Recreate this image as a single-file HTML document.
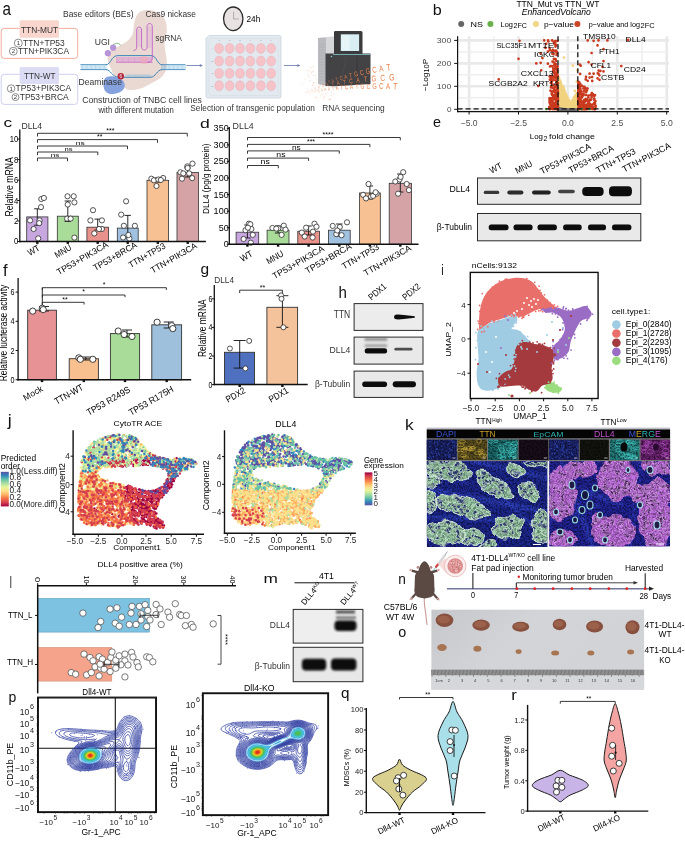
<!DOCTYPE html>
<html><head><meta charset="utf-8"><title>Figure</title>
<style>
html,body{margin:0;padding:0;background:#fff;}
body{width:685px;height:842px;overflow:hidden;}
svg{display:block;font-family:'Liberation Sans', Arial, sans-serif;}
</style></head><body>
<svg width="685" height="842" viewBox="0 0 685 842">
<defs>
<filter id="bl8" x="-50%" y="-50%" width="200%" height="200%"><feGaussianBlur stdDeviation="0.8"/></filter>
<filter id="bl10" x="-50%" y="-50%" width="200%" height="200%"><feGaussianBlur stdDeviation="1"/></filter>
<filter id="bl15" x="-50%" y="-50%" width="200%" height="200%"><feGaussianBlur stdDeviation="1.5"/></filter>
<filter id="bl5" x="-50%" y="-50%" width="200%" height="200%"><feGaussianBlur stdDeviation="0.5"/></filter>
</defs>
<rect width="685" height="842" fill="#fff"/>
<text x="0" y="0" font-size="17.52" fill="#111" transform="translate(2.40 14.72) scale(0.871 1)">a</text>
<rect x="1.2" y="28.4" width="76.5" height="30" fill="#fff" stroke="#f2a392" stroke-width="0.9" rx="3"/>
<rect x="19.6" y="20.3" width="39.4" height="17.5" fill="#f8d6ce" rx="1.5"/>
<text x="0" y="0" font-size="9.60" fill="#333" transform="translate(21.00 33.00) scale(0.872 1)">TTN-MUT</text>
<circle cx="18.3" cy="43.1" r="4" fill="none" stroke="#444" stroke-width="0.6"/>
<text x="18.30" y="45.20" font-size="6" text-anchor="middle" fill="#333">1</text>
<text x="0" y="0" font-size="8.33" fill="#333" transform="translate(23.00 45.92) scale(1.020 1)">TTN+TP53</text>
<circle cx="13.3" cy="51.2" r="3.9" fill="none" stroke="#444" stroke-width="0.6"/>
<text x="13.30" y="53.30" font-size="6" text-anchor="middle" fill="#333">2</text>
<text x="0" y="0" font-size="8.33" fill="#333" transform="translate(17.90 54.02) scale(1.010 1)">TTN+PIK3CA</text>
<rect x="1.2" y="74.3" width="76.5" height="30.1" fill="#fff" stroke="#c9c9f2" stroke-width="0.9" rx="3"/>
<rect x="19.6" y="67" width="39.4" height="16.9" fill="#dcdcf5" rx="1.5"/>
<text x="0" y="0" font-size="8.58" fill="#333" transform="translate(24.00 79.00) scale(0.959 1)">TTN-WT</text>
<circle cx="11.1" cy="88.6" r="3.8" fill="none" stroke="#444" stroke-width="0.6"/>
<text x="11.10" y="90.70" font-size="6" text-anchor="middle" fill="#333">1</text>
<text x="0" y="0" font-size="8.33" fill="#333" transform="translate(15.60 91.42) scale(1.023 1)">TP53+PIK3CA</text>
<circle cx="15.5" cy="97.1" r="3.5" fill="none" stroke="#444" stroke-width="0.6"/>
<text x="15.50" y="99.20" font-size="6" text-anchor="middle" fill="#333">2</text>
<text x="0" y="0" font-size="8.33" fill="#333" transform="translate(19.70 99.92) scale(1.026 1)">TP53+BRCA</text>
<path d="M146.0,9.9 C148.0,9.7 150.0,9.7 152.6,10.5 C155.2,11.3 159.1,13.1 161.3,14.9 C163.5,16.7 164.8,18.8 165.7,21.4 C166.6,23.9 166.8,27.5 166.8,30.2 C166.8,32.9 166.1,35.4 165.7,37.8 C165.3,40.2 164.6,41.8 164.6,44.4 C164.6,47.0 165.3,50.3 165.7,53.2 C166.1,56.1 166.8,59.0 166.8,61.9 C166.8,64.8 166.6,68.1 165.7,70.7 C164.8,73.3 163.1,75.5 161.3,77.3 C159.5,79.1 156.9,80.3 154.7,81.6 C152.5,82.9 150.4,83.8 148.2,84.9 C146.0,86.0 144.2,87.4 141.6,88.2 C139.0,89.0 135.4,89.7 132.8,89.9 C130.2,90.1 128.1,90.3 126.3,89.3 C124.5,88.3 123.9,86.2 121.9,83.8 C119.9,81.4 116.2,78.0 114.2,75.1 C112.2,72.2 111.0,68.9 109.9,66.3 C108.8,63.7 107.9,61.9 107.7,59.7 C107.5,57.5 107.7,55.0 108.8,53.2 C109.9,51.4 112.0,50.3 114.2,48.8 C116.4,47.3 119.5,45.9 121.9,44.4 C124.3,42.9 126.7,41.8 128.5,40.0 C130.3,38.2 131.9,36.0 132.8,33.5 C133.7,30.9 133.4,27.4 133.9,24.7 C134.4,21.9 135.0,19.2 136.1,17.0 C137.2,14.8 138.8,12.8 140.5,11.6 C142.2,10.4 144.0,10.1 146.0,9.9 Z" fill="#ead8d2"/>
<text x="0" y="0" font-size="8.20" fill="#333" transform="translate(63.00 17.20) scale(1.033 1)">Base editors (BEs)</text>
<text x="0" y="0" font-size="8.20" fill="#333" transform="translate(145.50 17.00) scale(1.026 1)">Cas9 nickase</text>
<text x="0" y="0" font-size="8.20" fill="#333" transform="translate(155.20 40.50) scale(1.032 1)">sgRNA</text>
<text x="0" y="0" font-size="8.20" fill="#333" transform="translate(94.70 44.50) scale(1.049 1)">UGI</text>
<line x1="80.4" y1="64.7" x2="107" y2="64.7" stroke="#3d86b8" stroke-width="0.9"/>
<line x1="80.4" y1="69.6" x2="107" y2="69.6" stroke="#3d86b8" stroke-width="0.9"/>
<path d="M81.2 65.3V69.0M82.5 65.3V69.0M83.8 65.3V69.0M85.1 65.3V69.0M86.4 65.3V69.0M87.7 65.3V69.0M89.0 65.3V69.0M90.3 65.3V69.0M91.6 65.3V69.0M92.9 65.3V69.0M94.2 65.3V69.0M95.5 65.3V69.0M96.8 65.3V69.0M98.1 65.3V69.0M99.4 65.3V69.0M100.7 65.3V69.0M102.0 65.3V69.0M103.3 65.3V69.0M104.6 65.3V69.0M105.9 65.3V69.0" fill="none" stroke="#6fb5dd" stroke-width="0.5"/>
<line x1="161" y1="64.7" x2="185.5" y2="64.7" stroke="#3d86b8" stroke-width="0.9"/>
<line x1="161" y1="69.6" x2="185.5" y2="69.6" stroke="#3d86b8" stroke-width="0.9"/>
<path d="M161.8 65.3V69.0M163.1 65.3V69.0M164.4 65.3V69.0M165.7 65.3V69.0M167.0 65.3V69.0M168.3 65.3V69.0M169.6 65.3V69.0M170.9 65.3V69.0M172.2 65.3V69.0M173.5 65.3V69.0M174.8 65.3V69.0M176.1 65.3V69.0M177.4 65.3V69.0M178.7 65.3V69.0M180.0 65.3V69.0M181.3 65.3V69.0M182.6 65.3V69.0M183.9 65.3V69.0M185.2 65.3V69.0" fill="none" stroke="#6fb5dd" stroke-width="0.5"/>
<path d="M106,64.7 C111,64.7 111,55.6 118,55.6 L151,55.6 C157,55.6 157,64.7 162,64.7" fill="none" stroke="#3d86b8" stroke-width="1"/>
<path d="M106,69.6 C111,69.6 112,77.3 119,77.3 L150,77.3 C156,77.3 157,69.6 162,69.6" fill="none" stroke="#3d86b8" stroke-width="1"/>
<path d="M116.5 57V62M117.7 57V62M118.9 57V62M120.1 57V62M121.3 57V62M122.5 57V62M123.7 57V62M124.9 57V62M126.1 57V62M127.3 57V62M128.5 57V62M129.7 57V62M130.9 57V62M132.1 57V62M133.3 57V62M134.5 57V62M135.7 57V62M136.9 57V62M138.1 57V62M139.3 57V62M140.5 57V62M141.7 57V62M142.9 57V62M144.1 57V62M145.3 57V62M146.5 57V62M147.7 57V62M148.9 57V62M150.1 57V62M151.3 57V62" fill="none" stroke="#d27ad0" stroke-width="0.5"/>
<line x1="116.2" y1="62.3" x2="152.6" y2="62.3" stroke="#c866c6" stroke-width="0.8"/>
<path d="M126.0 74.5V76.5M127.2 74.5V76.5M128.4 74.5V76.5M129.6 74.5V76.5M130.8 74.5V76.5M132.0 74.5V76.5M133.2 74.5V76.5M134.4 74.5V76.5M135.6 74.5V76.5M136.8 74.5V76.5M138.0 74.5V76.5M139.2 74.5V76.5M140.4 74.5V76.5M141.6 74.5V76.5M142.8 74.5V76.5M144.0 74.5V76.5M145.2 74.5V76.5M146.4 74.5V76.5M147.6 74.5V76.5M148.8 74.5V76.5M150.0 74.5V76.5" fill="none" stroke="#6fb5dd" stroke-width="0.5"/>
<path d="M133.4,50.4 C135.5,50.4 136.7,49.5 136.7,47 L136.7,30 C136.7,26 141.6,26 141.6,30 L141.6,47 C141.6,51 147.1,51 147.1,47 L147.1,26.5 C147.1,22.5 152.3,22.5 152.3,26.5 L152.3,58 C152.3,61.5 150,62.3 147,62.3" fill="none" stroke="#c060c8" stroke-width="0.9"/>
<path d="M137.2 30.0H141.1M137.2 32.0H141.1M137.2 34.0H141.1M137.2 36.0H141.1M137.2 38.0H141.1M137.2 40.0H141.1M137.2 42.0H141.1M137.2 44.0H141.1M137.2 46.0H141.1M147.6 27.0H151.8M147.6 29.0H151.8M147.6 31.0H151.8M147.6 33.0H151.8M147.6 35.0H151.8M147.6 37.0H151.8M147.6 39.0H151.8M147.6 41.0H151.8M147.6 43.0H151.8M147.6 45.0H151.8M147.6 47.0H151.8" fill="none" stroke="#d99ad8" stroke-width="0.5"/>
<circle cx="144" cy="60" r="4.2" fill="#f3a8b8" opacity="0.5"/>
<path d="M113,45 C116,42.5 119,43 121,45.5" fill="none" stroke="#4a9a4a" stroke-width="0.7"/>
<circle cx="113.1" cy="47.7" r="3.1" fill="#b793d8"/>
<circle cx="107.9" cy="53.2" r="3.1" fill="#b793d8"/>
<path d="M104.5,79 C106,75.5 113,75.5 117,77.5 C122,78.5 125.5,82 124.6,87 C123.5,92 116,94.5 110,94 C104,93 102,86 104.5,79 Z" fill="#86a2de"/>
<circle cx="120.8" cy="76.2" r="3.2" fill="#b3243a"/>
<text x="120.8" y="78" font-size="4.5" text-anchor="middle" fill="#fff">6</text>
<text x="0" y="0" font-size="8.20" fill="#333" transform="translate(78.50 85.00) scale(1.049 1)">Deaminase</text>
<text x="0" y="0" font-size="8.20" fill="#333" transform="translate(82.20 103.00) scale(1.057 1)">Construction of TNBC cell lines</text>
<text x="0" y="0" font-size="8.20" fill="#333" transform="translate(98.52 112.50) scale(0.943 1)">with different mutation</text>
<line x1="186.5" y1="65.5" x2="201" y2="65.5" stroke="#7585b5" stroke-width="0.9"/>
<path d="M203,65.5 L199.8,63.9 L199.8,67.1 Z" fill="#7585b5"/>
<line x1="284" y1="65.5" x2="298.5" y2="65.5" stroke="#7585b5" stroke-width="0.9"/>
<path d="M300.5,65.5 L297.3,63.9 L297.3,67.1 Z" fill="#7585b5"/>
<ellipse cx="233.25" cy="18.8" rx="9.7" ry="11.8" fill="#e8e2e2" stroke="#2b2b2b" stroke-width="1.3"/>
<line x1="233.6" y1="11.7" x2="233.6" y2="19" stroke="#9a9a9a" stroke-width="0.7"/>
<line x1="233.6" y1="19" x2="238.7" y2="19" stroke="#9a9a9a" stroke-width="0.7"/>
<text x="0" y="0" font-size="8.55" transform="translate(246.50 21.90) scale(0.967 1)">24h</text>
<path d="M209,35.5 L279.5,35.5 Q281,35.5 281,37 L281,96.5 Q281,98 279.5,98 L207.5,98 Q206,98 206,96.5 L206,38.5 Z" fill="#e2e9ef" stroke="#c5d0da" stroke-width="0.7"/>
<path d="M210,38.5 L278,38.5 L278,95.5 L211,95.5 L209,93 L209,40 Z" fill="none" stroke="#d2dbe3" stroke-width="0.5"/>
<text x="219.1" y="41.3" font-size="2.4" text-anchor="middle" fill="#8a96a4">1</text>
<ellipse cx="219.1" cy="48.4" rx="4.4" ry="5" fill="#f6c3c8" stroke="#e3aab2" stroke-width="0.4"/>
<ellipse cx="219.1" cy="61.1" rx="4.4" ry="5" fill="#f6c3c8" stroke="#e3aab2" stroke-width="0.4"/>
<ellipse cx="219.1" cy="73.4" rx="4.4" ry="5" fill="#f6c3c8" stroke="#e3aab2" stroke-width="0.4"/>
<ellipse cx="219.1" cy="85.8" rx="4.4" ry="5" fill="#f6c3c8" stroke="#e3aab2" stroke-width="0.4"/>
<text x="229.6" y="41.3" font-size="2.4" text-anchor="middle" fill="#8a96a4">2</text>
<ellipse cx="229.6" cy="48.4" rx="4.4" ry="5" fill="#f6c3c8" stroke="#e3aab2" stroke-width="0.4"/>
<ellipse cx="229.6" cy="61.1" rx="4.4" ry="5" fill="#f6c3c8" stroke="#e3aab2" stroke-width="0.4"/>
<ellipse cx="229.6" cy="73.4" rx="4.4" ry="5" fill="#f6c3c8" stroke="#e3aab2" stroke-width="0.4"/>
<ellipse cx="229.6" cy="85.8" rx="4.4" ry="5" fill="#f6c3c8" stroke="#e3aab2" stroke-width="0.4"/>
<text x="240.0" y="41.3" font-size="2.4" text-anchor="middle" fill="#8a96a4">3</text>
<ellipse cx="240.0" cy="48.4" rx="4.4" ry="5" fill="#f6c3c8" stroke="#e3aab2" stroke-width="0.4"/>
<ellipse cx="240.0" cy="61.1" rx="4.4" ry="5" fill="#f6c3c8" stroke="#e3aab2" stroke-width="0.4"/>
<ellipse cx="240.0" cy="73.4" rx="4.4" ry="5" fill="#f6c3c8" stroke="#e3aab2" stroke-width="0.4"/>
<ellipse cx="240.0" cy="85.8" rx="4.4" ry="5" fill="#f6c3c8" stroke="#e3aab2" stroke-width="0.4"/>
<text x="250.4" y="41.3" font-size="2.4" text-anchor="middle" fill="#8a96a4">4</text>
<ellipse cx="250.4" cy="48.4" rx="4.4" ry="5" fill="#f6c3c8" stroke="#e3aab2" stroke-width="0.4"/>
<ellipse cx="250.4" cy="61.1" rx="4.4" ry="5" fill="#f6c3c8" stroke="#e3aab2" stroke-width="0.4"/>
<ellipse cx="250.4" cy="73.4" rx="4.4" ry="5" fill="#f6c3c8" stroke="#e3aab2" stroke-width="0.4"/>
<ellipse cx="250.4" cy="85.8" rx="4.4" ry="5" fill="#f6c3c8" stroke="#e3aab2" stroke-width="0.4"/>
<text x="260.9" y="41.3" font-size="2.4" text-anchor="middle" fill="#8a96a4">5</text>
<ellipse cx="260.9" cy="48.4" rx="4.4" ry="5" fill="#f6c3c8" stroke="#e3aab2" stroke-width="0.4"/>
<ellipse cx="260.9" cy="61.1" rx="4.4" ry="5" fill="#f6c3c8" stroke="#e3aab2" stroke-width="0.4"/>
<ellipse cx="260.9" cy="73.4" rx="4.4" ry="5" fill="#f6c3c8" stroke="#e3aab2" stroke-width="0.4"/>
<ellipse cx="260.9" cy="85.8" rx="4.4" ry="5" fill="#f6c3c8" stroke="#e3aab2" stroke-width="0.4"/>
<text x="271.2" y="41.3" font-size="2.4" text-anchor="middle" fill="#8a96a4">6</text>
<ellipse cx="271.2" cy="48.4" rx="4.4" ry="5" fill="#f6c3c8" stroke="#e3aab2" stroke-width="0.4"/>
<ellipse cx="271.2" cy="61.1" rx="4.4" ry="5" fill="#f6c3c8" stroke="#e3aab2" stroke-width="0.4"/>
<ellipse cx="271.2" cy="73.4" rx="4.4" ry="5" fill="#f6c3c8" stroke="#e3aab2" stroke-width="0.4"/>
<ellipse cx="271.2" cy="85.8" rx="4.4" ry="5" fill="#f6c3c8" stroke="#e3aab2" stroke-width="0.4"/>
<text x="212.3" y="49.199999999999996" font-size="2.4" text-anchor="middle" fill="#8a96a4">A</text>
<text x="212.3" y="61.9" font-size="2.4" text-anchor="middle" fill="#8a96a4">B</text>
<text x="212.3" y="74.2" font-size="2.4" text-anchor="middle" fill="#8a96a4">C</text>
<text x="212.3" y="86.6" font-size="2.4" text-anchor="middle" fill="#8a96a4">D</text>
<text x="0" y="0" font-size="8.20" fill="#333" transform="translate(190.30 111.00) scale(1.013 1)">Selection of transgenic population</text>
<path d="M309.6 80.9h0M313.8 83.4h0M310.3 67.8h0M333.9 77.8h0M328.8 78.0h0M322.5 64.3h0M322.3 94.5h0M318.7 89.1h0M326.3 82.8h0M329.7 77.9h0M325.0 94.9h0M324.9 96.7h0M314.6 91.6h0M316.2 97.3h0M330.1 62.1h0M332.9 76.3h0M322.1 70.6h0M318.2 74.2h0M313.2 82.6h0M320.7 96.0h0M323.8 97.0h0M329.4 99.6h0M323.5 64.9h0M329.5 98.5h0M331.0 81.9h0M324.8 66.9h0M328.6 82.1h0M329.3 99.6h0M311.4 90.3h0M325.0 71.9h0M330.2 99.2h0M318.2 99.9h0M308.3 75.1h0M321.5 64.6h0M330.7 73.9h0M316.7 79.8h0M322.6 83.0h0M319.9 84.0h0M332.1 79.3h0M315.8 88.3h0M309.6 70.6h0M333.3 79.9h0M315.3 82.4h0M302.6 83.9h0M322.1 77.6h0M323.7 72.8h0M324.6 89.0h0M323.6 98.5h0M310.0 77.2h0M321.0 71.4h0M313.6 71.1h0M313.8 83.0h0M311.6 73.8h0M320.2 88.9h0M311.9 67.3h0M327.7 68.0h0M308.0 76.3h0M312.3 72.0h0M328.7 76.4h0M329.4 65.1h0M312.8 85.3h0M330.3 76.9h0M318.9 66.0h0M327.8 93.2h0M327.8 85.0h0M327.8 72.5h0M327.4 69.4h0M313.1 75.5h0M315.4 75.2h0M331.5 64.6h0M330.2 99.5h0M315.9 97.9h0M331.7 67.3h0M325.9 93.1h0M323.2 79.8h0M311.2 72.3h0M320.8 70.1h0M330.9 87.1h0M331.6 95.7h0M330.8 82.2h0M307.5 70.6h0M323.2 80.0h0M315.2 97.4h0M321.6 72.3h0M310.1 94.2h0M317.3 90.9h0M313.3 66.3h0M319.1 92.3h0M307.5 91.3h0M331.5 91.9h0M322.1 94.2h0M310.6 80.1h0M315.5 77.9h0M333.2 93.9h0M304.8 79.1h0M312.1 71.2h0M313.2 85.2h0M320.8 73.2h0M308.1 71.8h0" stroke="#f0a27a" stroke-width="0.7" stroke-linecap="round" opacity="0.6"/>
<path d="M318,38 L337,36 L337,88 L318,84 Z" fill="#d6d7d9"/>
<path d="M318,38 L326,37.5 L326,85.5 L318,84 Z" fill="#b9bbbe"/>
<path d="M319 44H325M319 47H325M319 50H325M319 53H325M319 56H325M319 59H325M319 62H325M319 65H325M319 68H325M319 71H325M319 74H325M319 77H325M319 80H325" fill="none" stroke="#a8aaae" stroke-width="0.5"/>
<path d="M334,32 Q334,31 335.5,31 L361,31 Q362.5,31 362.5,32.5 L362.5,54 L334,54 Z" fill="#3b3b3d"/>
<rect x="340.8" y="34.3" width="18.3" height="16.7" fill="#d8eef2"/>
<rect x="341.5" y="35" width="8" height="15" fill="#e6f5f7"/>
<path d="M325.5,53.5 L370.5,53.5 L370.5,84 L340,86 L325.5,86 Z" fill="#434345"/>
<line x1="333" y1="54.5" x2="370" y2="54.5" stroke="#7fc9cf" stroke-width="0.8"/>
<circle cx="331.5" cy="56.5" r="0.8" fill="#7fc9cf"/>
<line x1="357" y1="57" x2="357" y2="85" stroke="#2f2f31" stroke-width="0.5"/>
<path d="M346,57 L341,86" fill="none" stroke="#555" stroke-width="0.4"/>
<text x="0" y="0" font-size="2.8" fill="#e8804a" opacity="0.30" text-anchor="middle" transform="translate(318.0 87.5) rotate(-19) scale(0.8 1.1)">C</text>
<text x="0" y="0" font-size="3.0" fill="#e8804a" opacity="0.36" text-anchor="middle" transform="translate(320.6 86.6) rotate(-19) scale(0.8 1.1)">A</text>
<text x="0" y="0" font-size="3.3" fill="#e8804a" opacity="0.43" text-anchor="middle" transform="translate(323.3 85.7) rotate(-19) scale(0.8 1.1)">A</text>
<text x="0" y="0" font-size="3.6" fill="#e8804a" opacity="0.51" text-anchor="middle" transform="translate(326.4 84.7) rotate(-18) scale(0.8 1.1)">A</text>
<text x="0" y="0" font-size="4.0" fill="#e8804a" opacity="0.59" text-anchor="middle" transform="translate(329.7 83.6) rotate(-17) scale(0.8 1.1)">T</text>
<text x="0" y="0" font-size="4.3" fill="#e8804a" opacity="0.68" text-anchor="middle" transform="translate(333.3 82.5) rotate(-17) scale(0.8 1.1)">A</text>
<text x="0" y="0" font-size="4.7" fill="#e8804a" opacity="0.78" text-anchor="middle" transform="translate(337.3 81.3) rotate(-16) scale(0.8 1.1)">T</text>
<text x="0" y="0" font-size="5.1" fill="#e8804a" opacity="0.88" text-anchor="middle" transform="translate(341.6 80.1) rotate(-15) scale(0.8 1.1)">C</text>
<text x="0" y="0" font-size="5.5" fill="#e8804a" opacity="1.00" text-anchor="middle" transform="translate(346.2 78.8) rotate(-15) scale(0.8 1.1)">A</text>
<text x="0" y="0" font-size="5.9" fill="#e8804a" opacity="1.00" text-anchor="middle" transform="translate(351.2 77.6) rotate(-14) scale(0.8 1.1)">T</text>
<text x="0" y="0" font-size="6.3" fill="#e8804a" opacity="1.00" text-anchor="middle" transform="translate(356.6 76.3) rotate(-13) scale(0.8 1.1)">G</text>
<text x="0" y="0" font-size="6.7" fill="#e8804a" opacity="1.00" text-anchor="middle" transform="translate(362.3 75.0) rotate(-12) scale(0.8 1.1)">C</text>
<text x="0" y="0" font-size="7.2" fill="#e8804a" opacity="1.00" text-anchor="middle" transform="translate(368.4 73.8) rotate(-11) scale(0.8 1.1)">G</text>
<text x="0" y="0" font-size="7.6" fill="#e8804a" opacity="1.00" text-anchor="middle" transform="translate(374.9 72.6) rotate(-10) scale(0.8 1.1)">C</text>
<text x="0" y="0" font-size="8.0" fill="#e8804a" opacity="1.00" text-anchor="middle" transform="translate(381.7 71.5) rotate(-9) scale(0.8 1.1)">A</text>
<text x="0" y="0" font-size="8.5" fill="#e8804a" opacity="1.00" text-anchor="middle" transform="translate(389.0 70.5) rotate(-7) scale(0.8 1.1)">T</text>
<text x="0" y="0" font-size="2.6" fill="#e8804a" opacity="0.30" text-anchor="middle" transform="translate(309.0 90.5) rotate(-12) scale(0.8 1.1)">A</text>
<text x="0" y="0" font-size="2.8" fill="#e8804a" opacity="0.36" text-anchor="middle" transform="translate(312.1 89.8) rotate(-12) scale(0.8 1.1)">T</text>
<text x="0" y="0" font-size="3.2" fill="#e8804a" opacity="0.44" text-anchor="middle" transform="translate(315.4 89.2) rotate(-11) scale(0.8 1.1)">C</text>
<text x="0" y="0" font-size="3.5" fill="#e8804a" opacity="0.51" text-anchor="middle" transform="translate(319.2 88.4) rotate(-11) scale(0.8 1.1)">A</text>
<text x="0" y="0" font-size="3.9" fill="#e8804a" opacity="0.60" text-anchor="middle" transform="translate(323.4 87.6) rotate(-10) scale(0.8 1.1)">A</text>
<text x="0" y="0" font-size="4.3" fill="#e8804a" opacity="0.70" text-anchor="middle" transform="translate(328.0 86.8) rotate(-10) scale(0.8 1.1)">A</text>
<text x="0" y="0" font-size="4.7" fill="#e8804a" opacity="0.81" text-anchor="middle" transform="translate(333.1 86.0) rotate(-9) scale(0.8 1.1)">T</text>
<text x="0" y="0" font-size="5.2" fill="#e8804a" opacity="0.92" text-anchor="middle" transform="translate(338.6 85.1) rotate(-8) scale(0.8 1.1)">A</text>
<text x="0" y="0" font-size="5.6" fill="#e8804a" opacity="1.00" text-anchor="middle" transform="translate(344.7 84.2) rotate(-8) scale(0.8 1.1)">T</text>
<text x="0" y="0" font-size="6.1" fill="#e8804a" opacity="1.00" text-anchor="middle" transform="translate(351.2 83.4) rotate(-7) scale(0.8 1.1)">C</text>
<text x="0" y="0" font-size="6.5" fill="#e8804a" opacity="1.00" text-anchor="middle" transform="translate(358.3 82.6) rotate(-6) scale(0.8 1.1)">A</text>
<text x="0" y="0" font-size="7.0" fill="#e8804a" opacity="1.00" text-anchor="middle" transform="translate(365.9 81.9) rotate(-5) scale(0.8 1.1)">T</text>
<text x="0" y="0" font-size="7.5" fill="#e8804a" opacity="1.00" text-anchor="middle" transform="translate(374.0 81.3) rotate(-4) scale(0.8 1.1)">G</text>
<text x="0" y="0" font-size="8.0" fill="#e8804a" opacity="1.00" text-anchor="middle" transform="translate(382.7 80.8) rotate(-3) scale(0.8 1.1)">C</text>
<text x="0" y="0" font-size="8.5" fill="#e8804a" opacity="1.00" text-anchor="middle" transform="translate(392.0 80.5) rotate(-1) scale(0.8 1.1)">G</text>
<text x="0" y="0" font-size="2.4" fill="#e8804a" opacity="0.30" text-anchor="middle" transform="translate(306.0 93.5) rotate(-9) scale(0.8 1.1)">A</text>
<text x="0" y="0" font-size="2.6" fill="#e8804a" opacity="0.34" text-anchor="middle" transform="translate(308.2 93.2) rotate(-9) scale(0.8 1.1)">G</text>
<text x="0" y="0" font-size="2.8" fill="#e8804a" opacity="0.39" text-anchor="middle" transform="translate(310.5 92.8) rotate(-8) scale(0.8 1.1)">A</text>
<text x="0" y="0" font-size="3.0" fill="#e8804a" opacity="0.44" text-anchor="middle" transform="translate(313.1 92.4) rotate(-8) scale(0.8 1.1)">C</text>
<text x="0" y="0" font-size="3.2" fill="#e8804a" opacity="0.49" text-anchor="middle" transform="translate(315.8 92.1) rotate(-8) scale(0.8 1.1)">T</text>
<text x="0" y="0" font-size="3.5" fill="#e8804a" opacity="0.55" text-anchor="middle" transform="translate(318.8 91.7) rotate(-7) scale(0.8 1.1)">C</text>
<text x="0" y="0" font-size="3.8" fill="#e8804a" opacity="0.62" text-anchor="middle" transform="translate(322.0 91.3) rotate(-7) scale(0.8 1.1)">A</text>
<text x="0" y="0" font-size="4.0" fill="#e8804a" opacity="0.68" text-anchor="middle" transform="translate(325.5 90.9) rotate(-6) scale(0.8 1.1)">A</text>
<text x="0" y="0" font-size="4.3" fill="#e8804a" opacity="0.76" text-anchor="middle" transform="translate(329.2 90.5) rotate(-6) scale(0.8 1.1)">A</text>
<text x="0" y="0" font-size="4.6" fill="#e8804a" opacity="0.83" text-anchor="middle" transform="translate(333.1 90.2) rotate(-5) scale(0.8 1.1)">T</text>
<text x="0" y="0" font-size="4.9" fill="#e8804a" opacity="0.92" text-anchor="middle" transform="translate(337.4 89.8) rotate(-4) scale(0.8 1.1)">A</text>
<text x="0" y="0" font-size="5.2" fill="#e8804a" opacity="1.00" text-anchor="middle" transform="translate(341.8 89.5) rotate(-4) scale(0.8 1.1)">T</text>
<text x="0" y="0" font-size="5.5" fill="#e8804a" opacity="1.00" text-anchor="middle" transform="translate(346.6 89.2) rotate(-3) scale(0.8 1.1)">C</text>
<text x="0" y="0" font-size="5.9" fill="#e8804a" opacity="1.00" text-anchor="middle" transform="translate(351.6 89.0) rotate(-2) scale(0.8 1.1)">A</text>
<text x="0" y="0" font-size="6.2" fill="#e8804a" opacity="1.00" text-anchor="middle" transform="translate(357.0 88.8) rotate(-2) scale(0.8 1.1)">T</text>
<text x="0" y="0" font-size="6.5" fill="#e8804a" opacity="1.00" text-anchor="middle" transform="translate(362.6 88.6) rotate(-1) scale(0.8 1.1)">G</text>
<text x="0" y="0" font-size="6.8" fill="#e8804a" opacity="1.00" text-anchor="middle" transform="translate(368.4 88.6) rotate(0) scale(0.8 1.1)">C</text>
<text x="0" y="0" font-size="7.2" fill="#e8804a" opacity="1.00" text-anchor="middle" transform="translate(374.6 88.7) rotate(1) scale(0.8 1.1)">G</text>
<text x="0" y="0" font-size="7.5" fill="#e8804a" opacity="1.00" text-anchor="middle" transform="translate(381.1 88.8) rotate(2) scale(0.8 1.1)">C</text>
<text x="0" y="0" font-size="7.9" fill="#e8804a" opacity="1.00" text-anchor="middle" transform="translate(387.9 89.1) rotate(3) scale(0.8 1.1)">A</text>
<text x="0" y="0" font-size="8.2" fill="#e8804a" opacity="1.00" text-anchor="middle" transform="translate(395.0 89.5) rotate(4) scale(0.8 1.1)">T</text>
<text x="0" y="0" font-size="8.20" fill="#333" transform="translate(322.20 111.00) scale(1.025 1)">RNA sequencing</text>
<text x="0" y="0" font-size="14.29" fill="#111" transform="translate(432.80 15.06) scale(1.133 1)">b</text>
<text x="0" y="0" font-size="8.20" transform="translate(516.40 6.60) scale(1.040 1)">TTN_Mut vs TTN_WT</text>
<text x="0" y="0" font-size="8.20" font-style="italic" transform="translate(521.70 15.30) scale(1.046 1)">EnhancedVolcano</text>
<line x1="469.1" y1="36.3" x2="469.1" y2="111.6" stroke="#e9e9e9" stroke-width="2.6"/>
<line x1="518.5" y1="36.3" x2="518.5" y2="111.6" stroke="#e9e9e9" stroke-width="2.6"/>
<line x1="567.9" y1="36.3" x2="567.9" y2="111.6" stroke="#e9e9e9" stroke-width="2.6"/>
<line x1="617.3" y1="36.3" x2="617.3" y2="111.6" stroke="#e9e9e9" stroke-width="2.6"/>
<line x1="666.7" y1="36.3" x2="666.7" y2="111.6" stroke="#e9e9e9" stroke-width="2.6"/>
<line x1="493.8" y1="36.3" x2="493.8" y2="111.6" stroke="#efefef" stroke-width="1.5"/>
<line x1="543.2" y1="36.3" x2="543.2" y2="111.6" stroke="#efefef" stroke-width="1.5"/>
<line x1="592.6" y1="36.3" x2="592.6" y2="111.6" stroke="#efefef" stroke-width="1.5"/>
<line x1="642" y1="36.3" x2="642" y2="111.6" stroke="#efefef" stroke-width="1.5"/>
<line x1="457.6" y1="109.3" x2="669" y2="109.3" stroke="#e9e9e9" stroke-width="2.6"/>
<line x1="457.6" y1="86.3" x2="669" y2="86.3" stroke="#e9e9e9" stroke-width="2.6"/>
<line x1="457.6" y1="63.4" x2="669" y2="63.4" stroke="#e9e9e9" stroke-width="2.6"/>
<line x1="457.6" y1="40.4" x2="669" y2="40.4" stroke="#e9e9e9" stroke-width="2.6"/>
<line x1="457.6" y1="97.8" x2="669" y2="97.8" stroke="#efefef" stroke-width="1.5"/>
<line x1="457.6" y1="74.8" x2="669" y2="74.8" stroke="#efefef" stroke-width="1.5"/>
<line x1="457.6" y1="51.9" x2="669" y2="51.9" stroke="#efefef" stroke-width="1.5"/>
<circle cx="461.2" cy="23.9" r="3" fill="#666"/>
<text x="0" y="0" font-size="8.00" transform="translate(470.50 26.80) scale(1.125 1)">NS</text>
<circle cx="490.4" cy="23.9" r="3" fill="#6ab04c"/>
<text x="0" y="0" font-size="8.00" transform="translate(500.60 26.80) scale(0.929 1)">Log</text>
<text x="0" y="0" font-size="7.20" transform="translate(513.50 28.20) scale(0.993 1)">2FC</text>
<circle cx="535.9" cy="23.9" r="3" fill="#f2d585"/>
<text x="0" y="0" font-size="8.00" transform="translate(543.90 26.80) scale(1.066 1)">p−value</text>
<circle cx="577.4" cy="23.9" r="3" fill="#cc4428"/>
<text x="0" y="0" font-size="8.00" transform="translate(588.80 26.80) scale(0.903 1)">p−value and log</text>
<text x="0" y="0" font-size="7.20" transform="translate(640.50 28.20) scale(1.037 1)">2FC</text>
<path d="M567.1 109.3h0M575.4 109.5h0M568.0 109.2h0M562.3 109.4h0M570.2 108.8h0M560.7 109.8h0M560.6 108.8h0M571.3 110.4h0M576.5 108.5h0M570.6 109.2h0M561.8 110.4h0M568.4 110.3h0M562.4 109.9h0M559.5 109.5h0M566.8 108.7h0M568.2 109.1h0M567.9 109.1h0M567.1 109.9h0M576.8 108.4h0M574.0 109.0h0M564.6 110.0h0M564.1 110.3h0M572.6 109.6h0M574.1 109.6h0M576.0 108.7h0M559.0 110.0h0M575.2 109.5h0M576.4 109.6h0M560.3 109.1h0M572.9 109.9h0M560.6 109.8h0M576.2 108.9h0M561.1 109.9h0M560.8 110.3h0M573.2 110.1h0M569.0 109.5h0M562.4 108.9h0M561.3 109.1h0M561.1 109.6h0M562.8 109.9h0M576.3 108.8h0M564.4 108.6h0M562.8 109.6h0M574.2 109.1h0M560.8 108.4h0M562.8 109.9h0M572.7 109.8h0M564.3 110.3h0M560.6 109.2h0M563.3 109.2h0M565.6 109.5h0M576.1 109.4h0M569.2 108.7h0M562.3 110.1h0M575.2 108.8h0M563.4 110.1h0M572.2 108.5h0M562.5 108.5h0M574.7 109.2h0M566.5 110.2h0M559.7 108.5h0M563.2 109.0h0M563.6 108.7h0M569.6 109.8h0M562.1 109.0h0M560.2 110.0h0M569.0 108.7h0M569.9 109.9h0M575.3 110.0h0M559.3 109.9h0M566.9 110.3h0M562.1 109.7h0M569.2 110.2h0M565.4 108.6h0M576.4 109.1h0M571.3 109.2h0M561.5 110.4h0M559.3 108.6h0M571.5 108.5h0M559.4 109.1h0M567.6 108.9h0M564.7 108.4h0M560.3 109.3h0M572.1 108.6h0M572.1 109.0h0M573.1 108.6h0M565.3 109.0h0M575.0 108.6h0M566.4 108.8h0M574.4 109.3h0M570.1 109.7h0M569.4 109.2h0M560.4 109.1h0M576.7 108.6h0M572.0 109.6h0M572.1 109.2h0M566.8 108.7h0M560.5 108.9h0M559.5 109.2h0M567.6 110.0h0M571.4 109.4h0M569.9 108.5h0M563.6 110.4h0M564.4 109.0h0M562.6 110.1h0M575.1 109.1h0M566.9 108.6h0M564.8 109.1h0M562.5 109.6h0M573.3 108.6h0M574.7 109.7h0M569.4 109.8h0M561.4 109.4h0M573.9 108.7h0M571.7 108.5h0M563.9 110.1h0M567.0 109.9h0M562.8 109.6h0M570.1 109.4h0M564.6 108.7h0M576.5 109.5h0M560.3 110.4h0M574.5 110.4h0M571.6 109.3h0M564.5 108.8h0M559.3 110.2h0M567.1 110.4h0M573.8 110.0h0M561.5 110.4h0M570.2 109.5h0M570.2 109.1h0M573.4 108.5h0M571.2 110.0h0M567.5 110.1h0M559.2 109.5h0M571.7 110.1h0M563.9 109.7h0M571.4 109.4h0M569.9 108.9h0M566.0 108.8h0" stroke="#6b6b6b" stroke-width="2.7" stroke-linecap="round" fill="none"/>
<path d="M575.4 106.0h0M575.9 97.9h0M561.0 95.8h0M570.2 102.1h0M565.6 98.5h0M574.9 98.2h0M576.2 101.0h0M570.7 106.0h0M572.0 102.0h0M570.5 103.4h0M562.6 87.8h0M576.8 93.3h0M568.6 100.9h0M564.6 91.2h0M574.5 103.4h0M560.2 95.2h0M568.8 101.4h0M567.7 106.7h0M573.6 106.4h0M573.5 105.5h0M564.8 93.7h0M561.2 103.4h0M568.2 101.1h0M574.2 100.1h0M576.2 100.6h0M576.2 105.9h0M562.7 95.9h0M564.0 93.5h0M570.5 104.3h0M574.3 101.4h0M564.4 100.3h0M574.3 97.9h0M562.5 88.7h0M576.6 99.9h0M569.3 105.6h0M568.6 103.1h0M569.9 106.8h0M576.6 99.9h0M566.1 96.0h0M569.1 103.6h0M571.4 106.7h0M568.6 103.8h0M576.4 94.7h0M563.6 97.9h0M561.0 96.2h0M573.8 98.7h0M567.5 103.9h0M562.2 93.3h0M575.8 105.4h0M573.1 106.8h0M562.2 102.0h0M571.4 105.4h0M565.2 97.1h0M560.6 88.2h0M560.9 94.2h0M563.3 103.1h0M568.5 103.6h0M565.6 100.8h0M568.4 105.7h0M562.4 93.3h0M570.5 104.3h0M574.4 100.7h0M574.5 104.6h0M572.4 101.5h0M575.4 103.3h0M564.5 90.8h0M562.7 85.9h0M575.1 105.5h0M563.1 92.2h0M563.4 105.1h0M574.1 102.9h0M573.3 105.9h0M566.1 97.7h0M558.9 101.1h0M571.3 102.6h0M576.6 105.4h0M568.0 100.6h0M568.0 101.1h0M562.1 105.4h0M560.6 106.0h0M568.9 103.2h0M569.2 106.0h0M562.0 102.4h0M574.2 97.1h0M575.8 105.8h0M559.8 80.7h0M567.2 98.9h0M564.7 99.0h0M568.2 103.5h0M569.8 106.9h0M571.6 102.4h0M562.0 96.8h0M572.3 104.3h0M562.2 103.4h0M568.1 106.9h0M575.2 97.8h0M571.7 102.2h0M570.3 104.8h0M569.8 103.9h0M576.9 95.7h0M563.4 89.1h0M572.4 101.6h0M573.7 103.3h0M575.3 96.8h0M571.5 103.0h0M572.8 103.9h0M572.0 106.6h0M565.0 99.2h0M558.8 96.4h0M570.5 103.8h0M562.9 87.5h0M571.0 105.5h0M570.9 104.4h0M568.5 104.0h0M577.2 97.8h0M571.6 102.8h0M576.8 106.7h0M570.0 102.8h0M563.4 99.1h0M559.6 101.5h0M565.6 105.5h0M563.3 88.9h0M568.8 103.3h0M576.6 99.3h0M577.1 97.9h0M573.6 106.3h0M569.7 102.3h0M559.5 80.6h0M561.6 96.0h0M561.8 95.6h0M570.0 106.7h0M576.2 101.5h0M568.4 102.2h0M565.4 102.6h0M570.8 104.4h0M563.9 93.6h0M564.1 106.7h0M563.2 106.1h0M561.5 89.2h0M565.9 94.2h0M572.5 106.7h0M577.0 93.6h0M560.0 82.4h0M566.6 101.1h0M576.7 103.6h0M568.3 99.5h0M572.0 104.1h0M576.8 95.6h0M569.8 106.3h0M570.2 104.5h0M562.4 105.9h0M568.4 106.0h0M566.8 99.3h0M567.1 104.1h0M569.4 104.3h0M573.1 102.8h0M577.1 93.4h0M572.3 105.4h0M560.7 84.3h0M573.2 101.9h0M565.3 102.7h0M571.3 104.2h0M569.6 103.0h0M572.6 105.6h0M563.2 87.4h0M575.6 96.3h0M559.3 105.3h0M563.6 98.8h0M570.2 106.4h0M568.7 106.5h0M560.2 89.0h0M568.8 102.4h0M565.5 99.8h0M562.5 99.6h0M572.4 101.2h0M560.0 103.8h0M573.6 101.4h0M572.9 105.4h0M566.5 103.8h0M573.7 103.7h0M570.8 102.3h0M564.7 97.6h0M572.5 100.6h0M566.6 102.4h0M560.4 84.1h0M560.1 104.8h0M569.1 103.6h0M571.3 105.5h0M573.0 106.4h0M562.6 92.9h0M560.1 98.9h0M572.1 102.7h0M563.9 104.3h0M565.3 95.5h0M565.4 105.2h0M571.8 103.7h0M575.7 95.5h0M575.6 101.7h0M573.5 104.3h0M564.5 100.0h0M576.0 95.7h0M563.2 99.8h0M565.4 101.4h0M566.0 101.6h0M562.2 94.6h0M573.4 102.3h0M574.1 101.5h0M561.9 89.8h0M575.0 103.9h0M559.0 91.9h0M568.7 102.7h0M576.6 98.2h0M573.6 106.4h0M568.8 101.1h0M560.2 104.8h0M572.3 101.0h0M560.2 90.1h0M561.3 89.0h0M570.7 105.8h0M562.7 90.9h0M568.3 100.8h0M565.9 102.3h0M576.6 97.8h0M567.8 102.1h0M572.0 102.7h0M575.6 102.0h0M574.0 100.6h0M574.5 98.7h0M574.1 98.3h0M576.4 98.5h0M568.3 101.3h0M573.5 103.3h0M566.4 105.1h0M572.4 100.3h0M565.6 104.5h0M562.4 97.8h0M564.0 89.1h0M559.7 98.4h0M560.7 90.6h0M573.0 105.6h0M559.8 94.3h0M569.5 101.1h0M559.3 103.9h0M562.0 102.1h0M563.0 92.3h0M569.7 105.6h0M562.0 100.7h0M561.8 89.7h0M564.4 97.3h0M573.8 102.6h0M563.5 89.6h0M575.6 102.9h0M568.8 99.9h0M567.6 104.9h0M559.5 80.3h0M573.5 103.6h0M568.4 102.9h0M563.7 88.1h0M570.8 105.9h0M558.8 92.9h0M565.5 94.9h0M571.9 103.4h0M561.5 103.3h0M564.6 102.5h0M574.8 101.4h0M570.4 101.9h0M563.6 96.6h0M561.4 88.7h0M558.6 82.1h0M574.3 98.7h0M560.1 99.8h0M571.9 106.4h0M567.5 102.4h0M576.4 99.2h0M574.5 103.8h0M573.3 103.5h0M575.6 105.9h0M574.0 105.0h0M568.7 103.0h0M561.5 87.4h0M564.4 101.5h0M560.0 98.7h0M567.3 99.6h0M565.3 96.2h0M560.6 96.8h0M567.2 96.7h0M574.0 100.7h0M558.8 95.8h0M571.8 105.6h0M569.1 103.8h0M558.8 77.4h0M573.5 105.2h0M570.1 105.4h0M565.6 98.9h0M564.2 100.9h0M565.9 97.6h0M563.4 103.1h0M572.2 104.9h0M576.2 99.7h0M572.1 104.9h0M574.0 106.1h0M561.2 104.7h0M571.2 103.7h0M562.0 97.9h0M574.2 101.1h0M560.3 101.0h0M561.5 104.1h0M566.2 106.0h0M575.7 101.8h0M568.1 101.6h0M572.9 100.7h0M565.8 102.2h0M566.3 106.8h0M566.1 97.4h0M576.9 95.9h0M570.9 104.2h0M559.0 97.2h0M565.0 96.2h0M560.6 97.3h0M568.1 100.4h0M573.9 101.2h0M561.6 89.0h0M575.4 100.5h0M565.2 98.9h0M561.2 89.7h0M576.9 99.7h0M571.9 102.0h0M562.3 86.3h0M570.3 105.9h0M560.2 100.5h0M569.3 102.3h0M564.7 91.1h0M565.3 99.7h0M560.9 82.7h0M561.1 84.9h0M568.7 102.8h0M569.0 105.1h0M575.5 95.1h0M573.8 101.4h0M560.9 86.4h0M564.0 90.4h0M563.1 95.4h0M574.0 105.2h0M568.8 106.4h0M559.2 101.8h0M576.9 93.7h0M570.8 105.6h0M571.1 103.7h0M565.7 98.3h0M573.5 106.9h0M562.3 96.8h0M561.3 97.7h0M569.2 105.8h0M568.3 104.9h0M569.2 104.7h0M570.5 106.8h0M571.1 106.4h0M576.4 99.0h0M567.3 102.8h0M570.2 103.2h0M572.7 101.5h0M567.6 97.6h0M574.2 98.5h0M566.2 101.2h0M569.1 100.7h0M568.4 102.8h0M566.6 96.0h0M564.6 106.1h0M572.1 101.4h0M572.2 103.1h0M572.6 104.8h0M569.6 106.6h0M560.9 95.9h0M567.9 103.6h0M559.6 87.5h0M568.4 105.1h0M564.3 99.9h0M563.0 105.6h0M575.5 95.4h0M571.0 103.2h0M566.4 96.8h0M562.7 91.3h0M569.1 100.7h0M560.4 86.4h0M560.9 93.6h0M576.3 107.0h0M563.1 101.0h0M564.6 105.9h0M575.2 97.6h0M566.0 102.1h0M569.5 106.7h0M559.2 81.0h0M564.3 98.1h0M576.0 94.6h0M567.4 104.9h0M564.1 90.1h0M575.3 104.7h0M574.2 103.5h0M567.4 105.3h0M575.0 95.9h0M562.4 93.3h0M562.2 87.5h0M559.5 104.0h0M572.1 105.0h0M575.3 96.8h0M571.9 106.2h0M571.5 102.0h0M566.9 106.1h0M562.8 100.6h0M571.8 105.9h0M562.0 101.7h0M571.0 103.5h0M565.5 97.0h0M575.0 100.4h0M562.9 100.8h0M575.8 98.7h0M563.8 94.9h0M560.3 81.0h0M566.8 100.8h0M568.5 106.6h0M569.8 105.3h0M563.3 91.0h0M560.2 99.4h0M572.6 105.2h0M563.8 96.6h0M562.1 87.0h0M577.0 106.5h0M567.2 99.0h0M565.8 93.5h0M567.9 105.4h0M568.9 102.4h0M565.3 96.6h0M573.2 102.8h0M568.0 99.8h0M571.3 104.4h0M576.3 104.7h0M573.1 105.7h0M569.9 105.6h0M566.8 97.9h0M573.2 100.5h0M563.0 97.0h0M562.7 94.8h0M567.9 106.7h0M569.7 102.6h0M569.2 101.1h0M562.0 103.6h0M558.9 92.3h0M566.7 101.7h0M563.5 91.4h0M560.0 82.3h0M569.2 103.3h0M573.3 105.0h0M561.3 99.5h0M559.4 98.0h0M570.2 104.1h0M563.5 95.6h0M560.3 85.3h0M561.8 101.2h0M561.6 90.8h0M574.0 99.4h0M559.7 95.6h0M565.4 103.6h0M576.6 106.4h0M567.7 99.9h0M576.9 105.0h0M567.1 98.8h0M559.3 100.1h0M575.1 105.4h0M565.9 102.8h0M566.5 106.0h0M559.2 78.3h0M572.8 101.5h0M562.9 101.8h0M568.9 105.2h0M567.2 97.0h0M565.4 101.8h0M576.8 98.4h0M559.3 95.5h0M570.7 106.7h0M565.0 95.5h0M574.7 100.7h0M575.1 101.8h0M565.9 95.1h0M565.7 95.5h0M562.6 99.6h0M562.0 94.7h0M561.7 102.3h0M562.6 97.1h0M564.3 99.0h0M577.1 97.3h0M574.6 104.8h0M565.7 105.9h0M571.5 105.1h0M563.7 106.6h0M562.0 101.1h0M565.9 94.0h0M571.9 105.4h0M565.3 104.6h0M576.0 102.4h0M572.8 101.5h0M575.5 106.8h0M564.6 100.3h0M560.2 83.4h0M564.7 93.7h0M568.3 106.6h0M565.9 103.7h0M559.4 102.7h0M569.7 106.8h0M564.4 99.5h0M568.7 106.0h0M571.7 105.5h0M572.1 102.8h0M561.3 102.1h0M563.8 93.6h0M566.1 101.8h0M574.7 104.6h0M564.0 100.6h0M562.6 106.1h0M559.1 88.6h0M569.1 101.4h0M563.9 57.6h0M572.8 65.7h0M577.4 70.3h0M576.8 81.7h0M574.8 90.9h0" stroke="#f1d27e" stroke-width="2.7" stroke-linecap="round" fill="none"/>
<path d="M549.5 102.2h0M553.1 70.8h0M557.1 84.3h0M553.2 68.6h0M550.8 104.3h0M553.5 108.1h0M555.5 98.6h0M557.9 98.9h0M556.3 94.0h0M556.7 106.5h0M555.7 95.0h0M557.4 85.6h0M557.0 108.1h0M556.2 97.3h0M557.5 89.9h0M552.8 91.3h0M552.8 109.1h0M555.8 99.7h0M557.9 98.1h0M557.9 94.1h0M554.0 95.3h0M556.4 103.7h0M558.0 100.4h0M550.5 90.7h0M556.8 85.5h0M557.3 95.3h0M553.7 68.6h0M556.1 90.2h0M549.9 79.7h0M553.6 88.0h0M555.7 97.6h0M556.7 76.3h0M550.7 99.0h0M550.3 109.0h0M557.6 93.5h0M556.5 99.9h0M549.4 106.8h0M557.3 104.5h0M553.0 104.3h0M558.0 91.8h0M555.8 104.2h0M554.9 86.4h0M554.4 87.8h0M554.3 76.2h0M549.5 100.9h0M556.2 72.9h0M556.5 82.9h0M552.9 84.5h0M549.6 76.6h0M557.5 87.9h0M555.0 90.8h0M556.0 102.6h0M552.3 92.3h0M557.0 103.9h0M556.4 106.0h0M554.7 107.3h0M557.9 108.5h0M557.7 83.5h0M557.7 96.1h0M552.0 94.8h0M557.4 74.1h0M550.8 108.8h0M556.9 93.5h0M551.7 98.6h0M552.6 103.8h0M552.6 101.1h0M556.3 80.4h0M551.1 76.4h0M554.2 97.4h0M552.7 87.8h0M551.3 78.0h0M557.6 99.2h0M553.2 104.5h0M557.3 109.2h0M554.0 69.5h0M549.5 107.2h0M553.0 97.5h0M553.6 98.4h0M550.0 66.4h0M557.9 83.0h0M557.7 108.9h0M556.7 82.0h0M549.2 107.5h0M556.3 109.1h0M554.5 94.6h0M556.0 101.8h0M551.7 75.8h0M556.7 98.6h0M553.7 80.1h0M549.4 98.7h0M552.9 91.7h0M551.7 106.8h0M557.4 107.8h0M550.0 103.8h0M555.0 107.5h0M556.4 109.2h0M554.2 106.9h0M553.6 103.0h0M557.1 94.7h0M556.1 103.5h0M557.9 108.6h0M550.5 101.8h0M557.8 105.9h0M555.0 65.8h0M557.2 74.1h0M555.0 97.7h0M551.6 98.4h0M557.9 91.5h0M553.3 87.8h0M556.7 69.6h0M550.9 66.0h0M555.4 76.1h0M552.5 106.1h0M558.0 106.3h0M557.7 108.4h0M556.1 80.8h0M556.5 93.2h0M558.0 105.1h0M549.7 109.2h0M554.6 77.5h0M551.7 81.8h0M555.8 77.9h0M551.3 79.9h0M549.3 107.9h0M549.8 98.2h0M552.8 103.8h0M550.3 109.1h0M554.1 104.6h0M555.9 99.5h0M553.3 77.4h0M556.1 87.1h0M556.1 102.9h0M550.4 101.3h0M557.8 100.8h0M552.3 105.1h0M552.3 91.7h0M553.0 106.0h0M557.7 106.9h0M556.2 97.0h0M558.0 93.8h0M555.7 101.3h0M554.5 68.7h0M557.2 73.2h0M556.4 80.7h0M557.7 66.5h0M555.5 68.1h0M557.1 97.9h0M552.7 106.0h0M556.7 85.0h0M549.8 101.3h0M557.3 100.0h0M549.3 106.8h0M553.5 99.2h0M553.4 105.0h0M553.7 72.8h0M551.0 87.5h0M554.8 90.6h0M557.7 75.9h0M552.9 96.0h0M553.2 97.4h0M555.9 104.5h0M553.9 90.4h0M554.7 109.0h0M553.6 96.3h0M554.0 89.3h0M550.0 106.7h0M555.2 66.1h0M552.4 101.7h0M552.4 66.3h0M555.8 74.0h0M557.6 66.3h0M555.0 104.4h0M551.2 86.5h0M549.9 76.3h0M551.7 93.3h0M549.2 108.6h0M550.8 83.1h0M556.9 77.7h0M555.3 92.2h0M550.9 105.5h0M556.7 86.8h0M557.8 91.3h0M551.8 94.3h0M557.0 78.1h0M551.0 79.8h0M554.4 71.7h0M551.7 106.7h0M556.1 107.9h0M558.0 100.4h0M550.9 76.1h0M557.3 68.6h0M555.7 45.6h0M554.4 43.8h0M557.6 40.8h0M556.8 53.2h0M552.8 49.8h0M556.9 51.8h0M555.5 74.3h0M556.0 64.0h0M554.3 65.2h0M554.4 50.9h0M556.9 70.4h0M553.9 58.8h0M557.3 70.8h0M552.4 53.8h0M555.9 68.1h0M552.1 51.0h0M553.7 62.4h0M556.2 60.8h0M557.2 53.1h0M555.5 46.6h0M555.6 59.1h0M555.0 42.4h0M556.0 50.6h0M556.6 54.9h0M556.3 44.8h0M556.3 45.4h0M554.0 59.2h0M552.5 61.5h0M553.6 54.1h0M582.4 108.9h0M581.9 105.5h0M582.2 85.9h0M580.1 93.8h0M586.9 106.7h0M581.8 108.1h0M592.8 107.2h0M581.9 104.2h0M590.6 95.0h0M585.1 100.1h0M578.5 85.4h0M578.4 103.1h0M581.2 93.4h0M586.8 105.0h0M592.8 94.1h0M578.2 95.0h0M582.7 103.9h0M582.7 104.9h0M586.8 99.2h0M595.0 95.1h0M595.7 105.8h0M590.9 99.8h0M587.6 88.6h0M578.3 100.4h0M581.6 95.7h0M579.3 82.3h0M579.2 103.1h0M578.7 102.4h0M588.6 108.8h0M578.9 94.8h0M585.8 95.1h0M579.7 89.4h0M588.3 95.5h0M578.6 100.3h0M578.2 86.7h0M594.2 96.3h0M578.2 103.4h0M584.0 100.1h0M578.5 89.6h0M580.2 99.6h0M578.6 97.3h0M578.6 108.6h0M583.5 105.5h0M589.5 106.9h0M581.8 109.0h0M579.3 101.0h0M584.4 102.0h0M591.5 108.7h0M591.5 108.2h0M595.0 103.7h0M581.7 97.1h0M591.8 93.0h0M581.8 109.3h0M578.8 88.6h0M588.4 97.2h0M578.8 98.5h0M578.2 108.3h0M580.2 83.9h0M586.2 92.2h0M578.2 101.7h0M578.4 105.5h0M578.5 84.5h0M580.6 100.3h0M586.5 91.2h0M594.3 102.8h0M583.3 88.5h0M581.5 105.1h0M588.5 106.7h0M581.1 102.0h0M582.9 104.0h0M582.1 101.7h0M578.3 87.7h0M578.3 98.4h0M584.2 103.4h0M579.4 108.4h0M581.2 104.7h0M583.0 106.6h0M588.8 102.6h0M578.2 101.9h0M594.9 109.3h0M585.1 87.9h0M581.1 97.3h0M581.1 105.0h0M585.5 99.1h0M580.4 100.0h0M583.6 93.6h0M578.3 108.5h0M579.7 105.5h0M590.0 104.1h0M591.7 104.9h0M580.0 94.2h0M578.4 81.8h0M590.9 105.9h0M580.4 89.6h0M589.8 99.5h0M578.3 90.4h0M578.3 95.3h0M584.3 88.4h0M586.1 109.2h0M593.9 99.1h0M584.8 109.3h0M588.4 103.9h0M587.0 88.6h0M593.4 109.0h0M589.6 103.7h0M588.8 104.7h0M582.4 102.1h0M578.6 104.2h0M588.4 108.9h0M578.5 87.9h0M586.7 100.6h0M578.5 108.2h0M580.3 84.5h0M584.4 88.7h0M579.3 102.0h0M584.0 91.1h0M578.6 86.4h0M582.8 109.2h0M582.1 103.5h0M586.9 90.3h0M583.2 95.4h0M581.4 91.6h0M578.5 91.3h0M578.9 96.8h0M579.2 103.7h0M578.9 103.5h0M585.1 100.8h0M581.4 98.1h0M591.2 105.5h0M584.9 101.7h0M595.3 106.6h0M587.5 106.9h0M579.8 92.4h0M584.7 106.3h0M578.3 88.1h0M581.3 93.6h0M582.1 97.1h0M584.4 86.8h0M593.2 104.3h0M583.0 106.6h0M588.9 108.7h0M580.3 88.5h0M578.2 92.7h0M584.6 99.8h0M580.6 107.7h0M594.4 99.2h0M590.2 108.7h0M589.7 107.4h0M579.2 98.5h0M585.5 108.4h0M589.2 100.7h0M592.9 94.7h0M587.3 104.7h0M594.4 100.1h0M580.1 88.0h0M588.2 106.5h0M579.6 109.2h0M584.0 106.3h0M580.1 105.9h0M578.6 99.8h0M579.9 105.2h0M579.9 99.5h0M592.1 108.2h0M591.7 95.6h0M585.5 100.3h0M588.4 101.4h0M586.6 90.3h0M589.4 106.8h0M578.3 83.6h0M581.0 91.1h0M579.5 101.0h0M581.2 93.1h0M594.2 103.8h0M584.6 104.5h0M579.5 84.0h0M578.5 83.7h0M586.5 108.9h0M592.9 108.8h0M584.5 108.3h0M595.6 106.9h0M592.1 109.0h0M586.7 108.9h0M578.2 97.1h0M595.4 101.2h0M591.6 97.2h0M583.7 108.8h0M583.8 107.4h0M583.8 104.3h0M583.3 107.2h0M587.7 103.7h0M547.9 63.7h0M547.9 51.6h0M555.6 51.5h0M542.4 58.1h0M545.5 47.9h0M555.1 41.0h0M555.3 42.3h0M553.8 42.0h0M540.6 53.3h0M549.6 48.3h0M549.9 50.2h0M555.0 63.5h0M548.4 41.4h0M540.7 62.8h0M600.4 70.9h0M580.3 85.8h0M599.4 75.3h0M592.1 77.0h0M597.7 73.3h0M579.8 85.2h0M598.6 70.6h0M599.5 79.8h0M587.7 80.8h0M580.1 73.9h0M586.0 76.9h0M592.2 80.9h0M519.5 40.8h0M518.5 58.8h0M498.7 79.4h0M538.3 85.9h0M541.2 70.3h0M536.3 63.4h0M544.2 40.4h0M548.1 40.4h0M552.1 40.4h0M554.1 42.7h0M546.2 43.8h0M587.7 40.4h0M593.6 40.8h0M598.5 40.4h0M607.4 40.4h0M628.2 39.9h0M597.5 45.4h0M591.6 53.0h0M603.5 49.1h0M588.6 62.2h0M603.5 61.1h0M591.6 64.5h0M579.8 64.5h0M580.7 65.7h0M602.5 66.8h0M621.3 66.1h0M603.5 71.4h0M598.5 73.7h0M589.6 73.7h0M593.6 73.7h0M585.7 79.4h0M597.5 78.3h0M589.6 77.6h0" stroke="#c9391e" stroke-width="2.7" stroke-linecap="round" fill="none"/>
<path d="M546.2 109.1h0M581.7 109.1h0M589.6 109.1h0" stroke="#6ab04c" stroke-width="2.7" stroke-linecap="round" fill="none"/>
<line x1="558" y1="36.3" x2="558" y2="111.6" stroke="#111" stroke-width="1.3" stroke-dasharray="5 3"/>
<line x1="577.8" y1="36.3" x2="577.8" y2="111.6" stroke="#111" stroke-width="1.3" stroke-dasharray="5 3"/>
<line x1="457.6" y1="108.8" x2="669" y2="108.8" stroke="#111" stroke-width="1.3" stroke-dasharray="5 3"/>
<line x1="457.6" y1="36.3" x2="457.6" y2="112.2" stroke="#111" stroke-width="1.2"/>
<line x1="457.6" y1="111.6" x2="669" y2="111.6" stroke="#111" stroke-width="1.4"/>
<line x1="454.2" y1="109.3" x2="457.6" y2="109.3" stroke="#111" stroke-width="1"/>
<line x1="454.2" y1="86.3" x2="457.6" y2="86.3" stroke="#111" stroke-width="1"/>
<line x1="454.2" y1="63.4" x2="457.6" y2="63.4" stroke="#111" stroke-width="1"/>
<line x1="454.2" y1="40.4" x2="457.6" y2="40.4" stroke="#111" stroke-width="1"/>
<line x1="469.1" y1="111.6" x2="469.1" y2="114.6" stroke="#111" stroke-width="1"/>
<line x1="518.5" y1="111.6" x2="518.5" y2="114.6" stroke="#111" stroke-width="1"/>
<line x1="567.9" y1="111.6" x2="567.9" y2="114.6" stroke="#111" stroke-width="1"/>
<line x1="617.3" y1="111.6" x2="617.3" y2="114.6" stroke="#111" stroke-width="1"/>
<line x1="666.7" y1="111.6" x2="666.7" y2="114.6" stroke="#111" stroke-width="1"/>
<text x="0" y="0" font-size="7.91" fill="#4d4d4d" transform="translate(436.70 43.11) scale(1.114 1)">300</text>
<text x="0" y="0" font-size="7.91" fill="#4d4d4d" transform="translate(436.70 66.08) scale(1.114 1)">200</text>
<text x="0" y="0" font-size="7.91" fill="#4d4d4d" transform="translate(436.70 89.05) scale(1.114 1)">100</text>
<text x="0" y="0" font-size="7.91" fill="#4d4d4d" transform="translate(446.90 112.02) scale(1.023 1)">0</text>
<text x="469.1" y="126.2" font-size="8.6" text-anchor="middle" fill="#4d4d4d">−5.0</text>
<text x="518.5" y="126.2" font-size="8.6" text-anchor="middle" fill="#4d4d4d">−2.5</text>
<text x="567.9" y="126.2" font-size="8.6" text-anchor="middle" fill="#4d4d4d">0.0</text>
<text x="617.3" y="126.2" font-size="8.6" text-anchor="middle" fill="#4d4d4d">2.5</text>
<text x="666.7" y="126.2" font-size="8.6" text-anchor="middle" fill="#4d4d4d">5.0</text>
<text x="0" y="0" font-size="7.95" transform="translate(426.30 74.50) rotate(-90) scale(1.039 1) translate(-16.02 1.95)">−Log<tspan dy="0.5" font-size="0.9em">10</tspan><tspan dy="-0.5">P</tspan></text>
<text x="0" y="0" font-size="8.00" transform="translate(529.80 139.00) scale(0.989 1)">Log</text>
<text x="0" y="0" font-size="7.00" transform="translate(543.50 140.50) scale(1.028 1)">2</text>
<text x="0" y="0" font-size="8.00" transform="translate(549.00 139.00) scale(1.112 1)">fold change</text>
<text x="0" y="0" font-size="7.63" transform="translate(496.40 47.82) scale(0.950 1)">SLC35F1</text>
<text x="0" y="0" font-size="7.85" transform="translate(528.00 47.90) scale(1.256 1)">MT1E</text>
<text x="0" y="0" font-size="7.63" transform="translate(534.00 57.12) scale(1.126 1)">IGKC</text>
<text x="0" y="0" font-size="7.63" transform="translate(520.70 75.62) scale(1.138 1)">CXCL13</text>
<text x="0" y="0" font-size="7.63" transform="translate(488.50 86.12) scale(1.114 1)">SCGB2A2</text>
<text x="0" y="0" font-size="7.85" transform="translate(532.90 86.20) scale(1.054 1)">KRT14</text>
<text x="0" y="0" font-size="7.63" transform="translate(583.00 38.62) scale(1.102 1)">TMSB10</text>
<text x="0" y="0" font-size="7.85" transform="translate(625.60 42.00) scale(1.071 1)">DLL4</text>
<text x="0" y="0" font-size="7.85" transform="translate(599.00 54.30) scale(1.045 1)">FTH1</text>
<text x="0" y="0" font-size="7.63" transform="translate(590.70 68.12) scale(1.089 1)">CFL1</text>
<text x="0" y="0" font-size="7.63" transform="translate(623.70 72.32) scale(1.128 1)">CD24</text>
<text x="0" y="0" font-size="7.63" transform="translate(601.00 80.02) scale(1.145 1)">CSTB</text>
<text x="0" y="0" font-size="15.15" fill="#111" transform="translate(433.00 126.65) scale(0.950 1)">e</text>
<rect x="477.5" y="178" width="163.3" height="26.3" fill="#e9e9e9" stroke="#2a2a2a" stroke-width="1"/>
<rect x="477.5" y="213.5" width="163.3" height="27.3" fill="#e9e9e9" stroke="#2a2a2a" stroke-width="1"/>
<rect x="483.7" y="190.8" width="15.6" height="3.2" rx="1.6" fill="#0d0d0d" opacity="0.8" filter="url(#bl5)"/>
<rect x="507.3" y="190.4" width="16.1" height="4" rx="2.0" fill="#0d0d0d" opacity="0.85" filter="url(#bl5)"/>
<rect x="532" y="190.6" width="18.7" height="4" rx="2.0" fill="#0d0d0d" opacity="0.9" filter="url(#bl5)"/>
<rect x="558.1" y="189.7" width="16.7" height="3.5" rx="1.8" fill="#0d0d0d" opacity="0.75" filter="url(#bl5)"/>
<rect x="582.2" y="186.9" width="21.4" height="9.2" rx="4.0" fill="#0d0d0d" opacity="1" filter="url(#bl5)"/>
<rect x="609" y="186.2" width="22.9" height="10" rx="4.0" fill="#0d0d0d" opacity="1" filter="url(#bl5)"/>
<rect x="488.7" y="224.6" width="19.8" height="5.6" rx="2.5" fill="#0d0d0d" filter="url(#bl5)"/>
<rect x="513.5" y="224.6" width="19.1" height="5.6" rx="2.5" fill="#0d0d0d" filter="url(#bl5)"/>
<rect x="537.5" y="224.6" width="19.4" height="5.6" rx="2.5" fill="#0d0d0d" filter="url(#bl5)"/>
<rect x="563.1" y="224.6" width="18.6" height="5.6" rx="2.5" fill="#0d0d0d" filter="url(#bl5)"/>
<rect x="588" y="224.6" width="18.0" height="5.6" rx="2.5" fill="#0d0d0d" filter="url(#bl5)"/>
<rect x="612" y="224.6" width="19.4" height="5.6" rx="2.5" fill="#0d0d0d" filter="url(#bl5)"/>
<text x="0" y="0" font-size="8.14" transform="translate(449.40 192.20) scale(1.069 1)">DLL4</text>
<text x="0" y="0" font-size="8.57" transform="translate(436.70 229.72) scale(0.992 1)">β-Tubulin</text>
<text x="0" y="0" font-size="9.01" transform="translate(495.80 167.90) rotate(-28) scale(0.913 1) translate(-7.01 3.10)">WT</text>
<text x="0" y="0" font-size="8.88" transform="translate(523.80 167.10) rotate(-28) scale(0.890 1) translate(-10.11 3.01)">MNU</text>
<text x="0" y="0" font-size="8.76" transform="translate(565.40 158.80) rotate(-28) scale(0.979 1) translate(-28.60 3.01)">TP53+PIK3CA</text>
<text x="0" y="0" font-size="8.76" transform="translate(591.00 159.10) rotate(-28) scale(0.989 1) translate(-25.19 3.01)">TP53+BRCA</text>
<text x="0" y="0" font-size="8.76" transform="translate(615.80 160.60) rotate(-28) scale(1.005 1) translate(-21.53 3.01)">TTN+TP53</text>
<text x="0" y="0" font-size="8.76" transform="translate(646.40 157.40) rotate(-28) scale(0.998 1) translate(-26.64 3.01)">TTN+PIK3CA</text>
<text x="0" y="0" font-size="13.69" fill="#111" transform="translate(3.40 127.16) scale(1.257 1)">c</text>
<text x="0" y="0" font-size="8.28" fill="#333" transform="translate(21.50 128.60) scale(1.045 1)">DLL4</text>
<rect x="26.7" y="216.9" width="21.2" height="24.6" fill="#c8a6e0" stroke="#333" stroke-width="0.8"/>
<rect x="57.3" y="216.2" width="21" height="25.3" fill="#a9dc98" stroke="#333" stroke-width="0.8"/>
<rect x="86.9" y="227.2" width="21.6" height="14.3" fill="#e9918b" stroke="#333" stroke-width="0.8"/>
<rect x="117.3" y="228.1" width="20.9" height="13.4" fill="#a0c2e0" stroke="#333" stroke-width="0.8"/>
<rect x="147" y="180.3" width="21.6" height="61.2" fill="#f8c193" stroke="#333" stroke-width="0.8"/>
<rect x="177" y="172.5" width="21.4" height="69" fill="#d5a3a6" stroke="#333" stroke-width="0.8"/>
<line x1="37.3" y1="208.8" x2="37.3" y2="225.2" stroke="#111" stroke-width="0.9"/>
<line x1="34.1" y1="208.8" x2="40.5" y2="208.8" stroke="#111" stroke-width="0.9"/>
<line x1="34.1" y1="225.2" x2="40.5" y2="225.2" stroke="#111" stroke-width="0.9"/>
<circle cx="30.1" cy="220.4" r="2.6" fill="#fff" stroke="#2a2a2a" stroke-width="0.8"/>
<circle cx="39.6" cy="220.4" r="2.6" fill="#fff" stroke="#2a2a2a" stroke-width="0.8"/>
<circle cx="41.3" cy="199" r="2.6" fill="#fff" stroke="#2a2a2a" stroke-width="0.8"/>
<circle cx="43.9" cy="198" r="2.6" fill="#fff" stroke="#2a2a2a" stroke-width="0.8"/>
<circle cx="41" cy="207.1" r="2.6" fill="#fff" stroke="#2a2a2a" stroke-width="0.8"/>
<circle cx="33.6" cy="229" r="2.6" fill="#fff" stroke="#2a2a2a" stroke-width="0.8"/>
<circle cx="38.2" cy="238.4" r="2.6" fill="#fff" stroke="#2a2a2a" stroke-width="0.8"/>
<circle cx="39.2" cy="223.1" r="2.6" fill="#fff" stroke="#2a2a2a" stroke-width="0.8"/>
<line x1="67.8" y1="201" x2="67.8" y2="221.4" stroke="#111" stroke-width="0.9"/>
<line x1="64.6" y1="201" x2="71" y2="201" stroke="#111" stroke-width="0.9"/>
<line x1="64.6" y1="221.4" x2="71" y2="221.4" stroke="#111" stroke-width="0.9"/>
<circle cx="67.5" cy="196.3" r="2.6" fill="#fff" stroke="#2a2a2a" stroke-width="0.8"/>
<circle cx="73.7" cy="196.3" r="2.6" fill="#fff" stroke="#2a2a2a" stroke-width="0.8"/>
<circle cx="74.4" cy="202.4" r="2.6" fill="#fff" stroke="#2a2a2a" stroke-width="0.8"/>
<circle cx="67.7" cy="204.5" r="2.6" fill="#fff" stroke="#2a2a2a" stroke-width="0.8"/>
<circle cx="67.1" cy="218.6" r="2.6" fill="#fff" stroke="#2a2a2a" stroke-width="0.8"/>
<circle cx="70.6" cy="218.6" r="2.6" fill="#fff" stroke="#2a2a2a" stroke-width="0.8"/>
<circle cx="74.4" cy="237.6" r="2.6" fill="#fff" stroke="#2a2a2a" stroke-width="0.8"/>
<line x1="97.7" y1="219.1" x2="97.7" y2="230" stroke="#111" stroke-width="0.9"/>
<line x1="94.5" y1="219.1" x2="100.9" y2="219.1" stroke="#111" stroke-width="0.9"/>
<line x1="94.5" y1="230" x2="100.9" y2="230" stroke="#111" stroke-width="0.9"/>
<circle cx="93" cy="210.2" r="2.6" fill="#fff" stroke="#2a2a2a" stroke-width="0.8"/>
<circle cx="90.4" cy="220.4" r="2.6" fill="#fff" stroke="#2a2a2a" stroke-width="0.8"/>
<circle cx="101.9" cy="220.4" r="2.6" fill="#fff" stroke="#2a2a2a" stroke-width="0.8"/>
<circle cx="94.3" cy="233.4" r="2.6" fill="#fff" stroke="#2a2a2a" stroke-width="0.8"/>
<circle cx="101.9" cy="229" r="2.6" fill="#fff" stroke="#2a2a2a" stroke-width="0.8"/>
<circle cx="99" cy="229" r="2.6" fill="#fff" stroke="#2a2a2a" stroke-width="0.8"/>
<line x1="127.8" y1="215.4" x2="127.8" y2="238" stroke="#111" stroke-width="0.9"/>
<line x1="124.5" y1="215.4" x2="130.9" y2="215.4" stroke="#111" stroke-width="0.9"/>
<line x1="124.5" y1="238" x2="130.9" y2="238" stroke="#111" stroke-width="0.9"/>
<circle cx="126.1" cy="201.3" r="2.6" fill="#fff" stroke="#2a2a2a" stroke-width="0.8"/>
<circle cx="121.2" cy="214.6" r="2.6" fill="#fff" stroke="#2a2a2a" stroke-width="0.8"/>
<circle cx="123.9" cy="225.8" r="2.6" fill="#fff" stroke="#2a2a2a" stroke-width="0.8"/>
<circle cx="134.9" cy="225.8" r="2.6" fill="#fff" stroke="#2a2a2a" stroke-width="0.8"/>
<circle cx="123.1" cy="237.5" r="2.6" fill="#fff" stroke="#2a2a2a" stroke-width="0.8"/>
<circle cx="129.4" cy="238.5" r="2.6" fill="#fff" stroke="#2a2a2a" stroke-width="0.8"/>
<circle cx="128.4" cy="235" r="2.6" fill="#fff" stroke="#2a2a2a" stroke-width="0.8"/>
<line x1="157.8" y1="178" x2="157.8" y2="182" stroke="#111" stroke-width="0.9"/>
<line x1="154.6" y1="178" x2="161" y2="178" stroke="#111" stroke-width="0.9"/>
<line x1="154.6" y1="182" x2="161" y2="182" stroke="#111" stroke-width="0.9"/>
<circle cx="151.4" cy="178.7" r="2.6" fill="#fff" stroke="#2a2a2a" stroke-width="0.8"/>
<circle cx="153.9" cy="180.3" r="2.6" fill="#fff" stroke="#2a2a2a" stroke-width="0.8"/>
<circle cx="158.4" cy="179.5" r="2.6" fill="#fff" stroke="#2a2a2a" stroke-width="0.8"/>
<circle cx="163.1" cy="178" r="2.6" fill="#fff" stroke="#2a2a2a" stroke-width="0.8"/>
<circle cx="160.8" cy="180" r="2.6" fill="#fff" stroke="#2a2a2a" stroke-width="0.8"/>
<circle cx="156.5" cy="186" r="2.6" fill="#fff" stroke="#2a2a2a" stroke-width="0.8"/>
<line x1="187.7" y1="168" x2="187.7" y2="177" stroke="#111" stroke-width="0.9"/>
<line x1="184.5" y1="168" x2="190.9" y2="168" stroke="#111" stroke-width="0.9"/>
<line x1="184.5" y1="177" x2="190.9" y2="177" stroke="#111" stroke-width="0.9"/>
<circle cx="192.5" cy="163.6" r="2.6" fill="#fff" stroke="#2a2a2a" stroke-width="0.8"/>
<circle cx="187.3" cy="166.4" r="2.6" fill="#fff" stroke="#2a2a2a" stroke-width="0.8"/>
<circle cx="180.4" cy="172.3" r="2.6" fill="#fff" stroke="#2a2a2a" stroke-width="0.8"/>
<circle cx="183.3" cy="173.4" r="2.6" fill="#fff" stroke="#2a2a2a" stroke-width="0.8"/>
<circle cx="189.2" cy="173.4" r="2.6" fill="#fff" stroke="#2a2a2a" stroke-width="0.8"/>
<circle cx="182" cy="178.7" r="2.6" fill="#fff" stroke="#2a2a2a" stroke-width="0.8"/>
<circle cx="192.2" cy="178.1" r="2.6" fill="#fff" stroke="#2a2a2a" stroke-width="0.8"/>
<circle cx="187.6" cy="168" r="2.6" fill="#fff" stroke="#2a2a2a" stroke-width="0.8"/>
<line x1="19.8" y1="129.6" x2="19.8" y2="242.2" stroke="#111" stroke-width="1.3"/>
<line x1="19.1" y1="241.5" x2="205.9" y2="241.5" stroke="#111" stroke-width="1.5"/>
<line x1="17.3" y1="241.5" x2="19.8" y2="241.5" stroke="#111" stroke-width="1"/>
<text x="0" y="0" font-size="8.47" transform="translate(14.10 244.42) scale(0.913 1)">0</text>
<line x1="17.3" y1="221" x2="19.8" y2="221" stroke="#111" stroke-width="1"/>
<text x="0" y="0" font-size="8.60" transform="translate(14.10 224.02) scale(0.900 1)">2</text>
<line x1="17.3" y1="200.5" x2="19.8" y2="200.5" stroke="#111" stroke-width="1"/>
<text x="0" y="0" font-size="8.72" transform="translate(14.10 203.54) scale(0.887 1)">4</text>
<line x1="17.3" y1="180.1" x2="19.8" y2="180.1" stroke="#111" stroke-width="1"/>
<text x="0" y="0" font-size="8.47" transform="translate(14.10 182.98) scale(0.913 1)">6</text>
<line x1="17.3" y1="159.6" x2="19.8" y2="159.6" stroke="#111" stroke-width="1"/>
<text x="0" y="0" font-size="8.47" transform="translate(14.10 162.50) scale(0.913 1)">8</text>
<line x1="17.3" y1="139.1" x2="19.8" y2="139.1" stroke="#111" stroke-width="1"/>
<text x="0" y="0" font-size="8.47" transform="translate(9.80 142.02) scale(0.913 1)">10</text>
<rect x="36.1" y="241.5" width="2.4" height="2.4" fill="#111"/>
<rect x="66.6" y="241.5" width="2.4" height="2.4" fill="#111"/>
<rect x="96.5" y="241.5" width="2.4" height="2.4" fill="#111"/>
<rect x="126.5" y="241.5" width="2.4" height="2.4" fill="#111"/>
<rect x="156.6" y="241.5" width="2.4" height="2.4" fill="#111"/>
<rect x="186.5" y="241.5" width="2.4" height="2.4" fill="#111"/>
<text x="0" y="0" font-size="10.61" transform="translate(9.00 186.90) rotate(-90) scale(0.819 1) translate(-36.27 3.79)">Relative mRNA</text>
<text x="0" y="0" font-size="9.01" transform="translate(33.60 250.20) rotate(-30) scale(0.892 1) translate(-7.01 3.10)">WT</text>
<text x="0" y="0" font-size="8.88" transform="translate(63.00 251.10) rotate(-30) scale(0.890 1) translate(-10.11 3.01)">MNU</text>
<text x="0" y="0" font-size="8.76" transform="translate(82.30 258.20) rotate(-30) scale(1.014 1) translate(-28.60 3.01)">TP53+PIK3CA</text>
<text x="0" y="0" font-size="8.76" transform="translate(115.00 256.20) rotate(-30) scale(0.973 1) translate(-25.19 3.01)">TP53+BRCA</text>
<text x="0" y="0" font-size="8.76" transform="translate(146.90 255.30) rotate(-30) scale(0.952 1) translate(-21.53 3.01)">TTN+TP53</text>
<text x="0" y="0" font-size="8.76" transform="translate(173.80 257.80) rotate(-30) scale(0.976 1) translate(-26.64 3.01)">TTN+PIK3CA</text>
<path d="M37.5,161.2 L37.5,158.0 L67.5,158.0 L67.5,161.2" fill="none" stroke="#222" stroke-width="0.9"/>
<text x="0" y="0" font-size="6.20" transform="translate(50.80 157.14) scale(1.313 1)">ns</text>
<path d="M37.5,155.2 L37.5,152.0 L97.8,152.0 L97.8,155.2" fill="none" stroke="#222" stroke-width="0.9"/>
<text x="0" y="0" font-size="6.20" transform="translate(64.60 151.14) scale(1.221 1)">ns</text>
<path d="M37.5,149.2 L37.5,146.0 L127.5,146.0 L127.5,149.2" fill="none" stroke="#222" stroke-width="0.9"/>
<text x="0" y="0" font-size="6.20" transform="translate(75.70 145.14) scale(1.374 1)">ns</text>
<path d="M37.5,142.8 L37.5,139.6 L157.5,139.6 L157.5,142.8" fill="none" stroke="#222" stroke-width="0.9"/>
<text x="99.8" y="139.3" font-size="7" text-anchor="middle">**</text>
<path d="M37.5,136.5 L37.5,133.3 L187.3,133.3 L187.3,136.5" fill="none" stroke="#222" stroke-width="0.9"/>
<text x="110.3" y="133" font-size="7" text-anchor="middle">***</text>
<text x="0" y="0" font-size="13.33" fill="#111" transform="translate(199.90 127.57) scale(1.322 1)">d</text>
<text x="0" y="0" font-size="8.43" fill="#333" transform="translate(232.60 128.60) scale(1.052 1)">DLL4</text>
<rect x="236.1" y="232.2" width="22.6" height="12.1" fill="#c8a6e0" stroke="#333" stroke-width="0.8"/>
<rect x="267.1" y="230.2" width="21.9" height="14.1" fill="#a9dc98" stroke="#333" stroke-width="0.8"/>
<rect x="297.8" y="231.2" width="21.7" height="13.1" fill="#e9918b" stroke="#333" stroke-width="0.8"/>
<rect x="328.4" y="230.2" width="21.8" height="14.1" fill="#a0c2e0" stroke="#333" stroke-width="0.8"/>
<rect x="359.5" y="193" width="20.8" height="51.3" fill="#f8c193" stroke="#333" stroke-width="0.8"/>
<rect x="389.2" y="183.3" width="22.2" height="61" fill="#d5a3a6" stroke="#333" stroke-width="0.8"/>
<line x1="247.4" y1="225" x2="247.4" y2="238" stroke="#111" stroke-width="0.9"/>
<line x1="244.2" y1="225" x2="250.6" y2="225" stroke="#111" stroke-width="0.9"/>
<line x1="244.2" y1="238" x2="250.6" y2="238" stroke="#111" stroke-width="0.9"/>
<circle cx="248.9" cy="223.7" r="2.6" fill="#fff" stroke="#2a2a2a" stroke-width="0.8"/>
<circle cx="250.3" cy="224.3" r="2.6" fill="#fff" stroke="#2a2a2a" stroke-width="0.8"/>
<circle cx="245.5" cy="230.2" r="2.6" fill="#fff" stroke="#2a2a2a" stroke-width="0.8"/>
<circle cx="251.4" cy="229" r="2.6" fill="#fff" stroke="#2a2a2a" stroke-width="0.8"/>
<circle cx="243.6" cy="239" r="2.6" fill="#fff" stroke="#2a2a2a" stroke-width="0.8"/>
<circle cx="252.8" cy="234.9" r="2.6" fill="#fff" stroke="#2a2a2a" stroke-width="0.8"/>
<circle cx="250.8" cy="242.7" r="2.6" fill="#fff" stroke="#2a2a2a" stroke-width="0.8"/>
<circle cx="247.9" cy="227.7" r="2.6" fill="#fff" stroke="#2a2a2a" stroke-width="0.8"/>
<line x1="278.1" y1="226" x2="278.1" y2="233" stroke="#111" stroke-width="0.9"/>
<line x1="274.9" y1="226" x2="281.2" y2="226" stroke="#111" stroke-width="0.9"/>
<line x1="274.9" y1="233" x2="281.2" y2="233" stroke="#111" stroke-width="0.9"/>
<circle cx="272.4" cy="228" r="2.6" fill="#fff" stroke="#2a2a2a" stroke-width="0.8"/>
<circle cx="278.3" cy="228.3" r="2.6" fill="#fff" stroke="#2a2a2a" stroke-width="0.8"/>
<circle cx="283.8" cy="225.7" r="2.6" fill="#fff" stroke="#2a2a2a" stroke-width="0.8"/>
<circle cx="285.5" cy="229.6" r="2.6" fill="#fff" stroke="#2a2a2a" stroke-width="0.8"/>
<circle cx="281.6" cy="234.9" r="2.6" fill="#fff" stroke="#2a2a2a" stroke-width="0.8"/>
<circle cx="276.3" cy="228.6" r="2.6" fill="#fff" stroke="#2a2a2a" stroke-width="0.8"/>
<line x1="308.6" y1="226" x2="308.6" y2="235" stroke="#111" stroke-width="0.9"/>
<line x1="305.4" y1="226" x2="311.8" y2="226" stroke="#111" stroke-width="0.9"/>
<line x1="305.4" y1="235" x2="311.8" y2="235" stroke="#111" stroke-width="0.9"/>
<circle cx="301.8" cy="232.6" r="2.6" fill="#fff" stroke="#2a2a2a" stroke-width="0.8"/>
<circle cx="306.1" cy="227.7" r="2.6" fill="#fff" stroke="#2a2a2a" stroke-width="0.8"/>
<circle cx="314.5" cy="223.7" r="2.6" fill="#fff" stroke="#2a2a2a" stroke-width="0.8"/>
<circle cx="313" cy="231.6" r="2.6" fill="#fff" stroke="#2a2a2a" stroke-width="0.8"/>
<circle cx="312.6" cy="237.5" r="2.6" fill="#fff" stroke="#2a2a2a" stroke-width="0.8"/>
<circle cx="304.7" cy="236.5" r="2.6" fill="#fff" stroke="#2a2a2a" stroke-width="0.8"/>
<circle cx="316.5" cy="226.7" r="2.6" fill="#fff" stroke="#2a2a2a" stroke-width="0.8"/>
<line x1="339.3" y1="224" x2="339.3" y2="236" stroke="#111" stroke-width="0.9"/>
<line x1="336.1" y1="224" x2="342.5" y2="224" stroke="#111" stroke-width="0.9"/>
<line x1="336.1" y1="236" x2="342.5" y2="236" stroke="#111" stroke-width="0.9"/>
<circle cx="332.7" cy="225.9" r="2.6" fill="#fff" stroke="#2a2a2a" stroke-width="0.8"/>
<circle cx="339.8" cy="227" r="2.6" fill="#fff" stroke="#2a2a2a" stroke-width="0.8"/>
<circle cx="347" cy="222.3" r="2.6" fill="#fff" stroke="#2a2a2a" stroke-width="0.8"/>
<circle cx="336.3" cy="234.1" r="2.6" fill="#fff" stroke="#2a2a2a" stroke-width="0.8"/>
<circle cx="341.6" cy="235.2" r="2.6" fill="#fff" stroke="#2a2a2a" stroke-width="0.8"/>
<circle cx="337.3" cy="230.5" r="2.6" fill="#fff" stroke="#2a2a2a" stroke-width="0.8"/>
<line x1="369.9" y1="186" x2="369.9" y2="199" stroke="#111" stroke-width="0.9"/>
<line x1="366.7" y1="186" x2="373.1" y2="186" stroke="#111" stroke-width="0.9"/>
<line x1="366.7" y1="199" x2="373.1" y2="199" stroke="#111" stroke-width="0.9"/>
<circle cx="368.5" cy="184" r="2.6" fill="#fff" stroke="#2a2a2a" stroke-width="0.8"/>
<circle cx="363.1" cy="194.8" r="2.6" fill="#fff" stroke="#2a2a2a" stroke-width="0.8"/>
<circle cx="371" cy="196.6" r="2.6" fill="#fff" stroke="#2a2a2a" stroke-width="0.8"/>
<circle cx="376.7" cy="193.7" r="2.6" fill="#fff" stroke="#2a2a2a" stroke-width="0.8"/>
<circle cx="366" cy="198.4" r="2.6" fill="#fff" stroke="#2a2a2a" stroke-width="0.8"/>
<circle cx="373.1" cy="195.9" r="2.6" fill="#fff" stroke="#2a2a2a" stroke-width="0.8"/>
<circle cx="375.6" cy="192.3" r="2.6" fill="#fff" stroke="#2a2a2a" stroke-width="0.8"/>
<line x1="400.3" y1="174" x2="400.3" y2="192" stroke="#111" stroke-width="0.9"/>
<line x1="397.1" y1="174" x2="403.5" y2="174" stroke="#111" stroke-width="0.9"/>
<line x1="397.1" y1="192" x2="403.5" y2="192" stroke="#111" stroke-width="0.9"/>
<circle cx="403.2" cy="172.2" r="2.6" fill="#fff" stroke="#2a2a2a" stroke-width="0.8"/>
<circle cx="395.3" cy="181.5" r="2.6" fill="#fff" stroke="#2a2a2a" stroke-width="0.8"/>
<circle cx="406.7" cy="184" r="2.6" fill="#fff" stroke="#2a2a2a" stroke-width="0.8"/>
<circle cx="399.6" cy="179.4" r="2.6" fill="#fff" stroke="#2a2a2a" stroke-width="0.8"/>
<circle cx="398.1" cy="193.7" r="2.6" fill="#fff" stroke="#2a2a2a" stroke-width="0.8"/>
<circle cx="408.9" cy="190.1" r="2.6" fill="#fff" stroke="#2a2a2a" stroke-width="0.8"/>
<circle cx="400.6" cy="176.9" r="2.6" fill="#fff" stroke="#2a2a2a" stroke-width="0.8"/>
<line x1="229.3" y1="127.1" x2="229.3" y2="245" stroke="#111" stroke-width="1.3"/>
<line x1="228.6" y1="244.3" x2="418.5" y2="244.3" stroke="#111" stroke-width="1.5"/>
<line x1="226.8" y1="244.3" x2="229.3" y2="244.3" stroke="#111" stroke-width="1"/>
<text x="0" y="0" font-size="8.47" transform="translate(223.67 247.22) scale(1.068 1)">0</text>
<line x1="226.8" y1="227.7" x2="229.3" y2="227.7" stroke="#111" stroke-width="1"/>
<text x="0" y="0" font-size="8.47" transform="translate(218.64 230.65) scale(1.068 1)">50</text>
<line x1="226.8" y1="211.2" x2="229.3" y2="211.2" stroke="#111" stroke-width="1"/>
<text x="0" y="0" font-size="8.47" transform="translate(213.61 214.08) scale(1.068 1)">100</text>
<line x1="226.8" y1="194.6" x2="229.3" y2="194.6" stroke="#111" stroke-width="1"/>
<text x="0" y="0" font-size="8.47" transform="translate(213.61 197.51) scale(1.068 1)">150</text>
<line x1="226.8" y1="178" x2="229.3" y2="178" stroke="#111" stroke-width="1"/>
<text x="0" y="0" font-size="8.47" transform="translate(213.61 180.94) scale(1.068 1)">200</text>
<line x1="226.8" y1="161.4" x2="229.3" y2="161.4" stroke="#111" stroke-width="1"/>
<text x="0" y="0" font-size="8.47" transform="translate(213.61 164.37) scale(1.068 1)">250</text>
<line x1="226.8" y1="144.9" x2="229.3" y2="144.9" stroke="#111" stroke-width="1"/>
<text x="0" y="0" font-size="8.47" transform="translate(213.61 147.80) scale(1.068 1)">300</text>
<line x1="226.8" y1="128.3" x2="229.3" y2="128.3" stroke="#111" stroke-width="1"/>
<text x="0" y="0" font-size="8.47" transform="translate(213.61 131.23) scale(1.068 1)">350</text>
<rect x="246.2" y="244.3" width="2.4" height="2.4" fill="#111"/>
<rect x="276.9" y="244.3" width="2.4" height="2.4" fill="#111"/>
<rect x="307.4" y="244.3" width="2.4" height="2.4" fill="#111"/>
<rect x="338.1" y="244.3" width="2.4" height="2.4" fill="#111"/>
<rect x="368.7" y="244.3" width="2.4" height="2.4" fill="#111"/>
<rect x="399.1" y="244.3" width="2.4" height="2.4" fill="#111"/>
<text x="0" y="0" font-size="8.79" transform="translate(207.10 178.70) rotate(-90) scale(0.931 1) translate(-37.86 2.27)">DLL4 (pg/g protein)</text>
<text x="0" y="0" font-size="9.01" transform="translate(246.30 256.00) rotate(-30) scale(0.928 1) translate(-7.01 3.10)">WT</text>
<text x="0" y="0" font-size="8.88" transform="translate(274.90 257.30) rotate(-30) scale(0.915 1) translate(-10.11 3.01)">MNU</text>
<text x="0" y="0" font-size="8.76" transform="translate(298.20 262.20) rotate(-30) scale(1.014 1) translate(-28.60 3.01)">TP53+PIK3CA</text>
<text x="0" y="0" font-size="8.76" transform="translate(328.20 258.30) rotate(-30) scale(1.032 1) translate(-25.19 3.01)">TP53+BRCA</text>
<text x="0" y="0" font-size="8.76" transform="translate(360.40 256.50) rotate(-30) scale(0.964 1) translate(-21.53 3.01)">TTN+TP53</text>
<text x="0" y="0" font-size="8.76" transform="translate(387.30 260.40) rotate(-30) scale(0.995 1) translate(-26.64 3.01)">TTN+PIK3CA</text>
<path d="M247.5,168.3 L247.5,165.5 L278.3,165.5 L278.3,168.3" fill="none" stroke="#222" stroke-width="0.9"/>
<text x="0" y="0" font-size="6.39" transform="translate(260.60 164.34) scale(1.364 1)">ns</text>
<path d="M247.5,160.9 L247.5,158.1 L308.6,158.1 L308.6,160.9" fill="none" stroke="#222" stroke-width="0.9"/>
<text x="0" y="0" font-size="6.39" transform="translate(276.30 156.94) scale(1.364 1)">ns</text>
<path d="M247.5,153.7 L247.5,150.9 L339.3,150.9 L339.3,153.7" fill="none" stroke="#222" stroke-width="0.9"/>
<text x="0" y="0" font-size="6.39" transform="translate(292.00 149.84) scale(1.305 1)">ns</text>
<path d="M247.5,147.2 L247.5,144.4 L369.9,144.4 L369.9,147.2" fill="none" stroke="#222" stroke-width="0.9"/>
<text x="311" y="144" font-size="7" text-anchor="middle">***</text>
<path d="M247.5,140.3 L247.5,137.5 L400.3,137.5 L400.3,140.3" fill="none" stroke="#222" stroke-width="0.9"/>
<text x="328" y="137" font-size="7" text-anchor="middle">****</text>
<text x="0" y="0" font-size="16.02" fill="#111" transform="translate(2.90 276.00) scale(1.025 1)">f</text>
<rect x="27.7" y="310.2" width="28.7" height="69.5" fill="#e79395" stroke="#333" stroke-width="0.9"/>
<rect x="69.2" y="358.7" width="29.2" height="21" fill="#f8c08f" stroke="#333" stroke-width="0.9"/>
<rect x="110.4" y="333.6" width="29.2" height="46.1" fill="#a8dc98" stroke="#333" stroke-width="0.9"/>
<rect x="151.8" y="324.8" width="29.8" height="54.9" fill="#9fc0dc" stroke="#333" stroke-width="0.9"/>
<line x1="44" y1="306.5" x2="44" y2="311" stroke="#111" stroke-width="0.9"/>
<line x1="39" y1="306.5" x2="49" y2="306.5" stroke="#111" stroke-width="0.9"/>
<line x1="39" y1="311" x2="49" y2="311" stroke="#111" stroke-width="0.9"/>
<circle cx="32.7" cy="311.1" r="3.1" fill="#fff" stroke="#2a2a2a" stroke-width="0.9"/>
<circle cx="42.3" cy="308.2" r="3.1" fill="#fff" stroke="#2a2a2a" stroke-width="0.9"/>
<circle cx="43.2" cy="309.6" r="3.1" fill="#fff" stroke="#2a2a2a" stroke-width="0.9"/>
<line x1="85.8" y1="357" x2="85.8" y2="360" stroke="#111" stroke-width="0.9"/>
<line x1="80.8" y1="357" x2="90.8" y2="357" stroke="#111" stroke-width="0.9"/>
<line x1="80.8" y1="360" x2="90.8" y2="360" stroke="#111" stroke-width="0.9"/>
<circle cx="78.8" cy="357.8" r="3.1" fill="#fff" stroke="#2a2a2a" stroke-width="0.9"/>
<circle cx="80.3" cy="359.3" r="3.1" fill="#fff" stroke="#2a2a2a" stroke-width="0.9"/>
<circle cx="92.8" cy="359.3" r="3.1" fill="#fff" stroke="#2a2a2a" stroke-width="0.9"/>
<line x1="127" y1="330" x2="127" y2="337" stroke="#111" stroke-width="0.9"/>
<line x1="122" y1="330" x2="132" y2="330" stroke="#111" stroke-width="0.9"/>
<line x1="122" y1="337" x2="132" y2="337" stroke="#111" stroke-width="0.9"/>
<circle cx="118.2" cy="331" r="3.1" fill="#fff" stroke="#2a2a2a" stroke-width="0.9"/>
<circle cx="124.1" cy="334.5" r="3.1" fill="#fff" stroke="#2a2a2a" stroke-width="0.9"/>
<circle cx="132" cy="336.5" r="3.1" fill="#fff" stroke="#2a2a2a" stroke-width="0.9"/>
<line x1="168.7" y1="322" x2="168.7" y2="328" stroke="#111" stroke-width="0.9"/>
<line x1="163.7" y1="322" x2="173.7" y2="322" stroke="#111" stroke-width="0.9"/>
<line x1="163.7" y1="328" x2="173.7" y2="328" stroke="#111" stroke-width="0.9"/>
<circle cx="157.1" cy="322.2" r="3.1" fill="#fff" stroke="#2a2a2a" stroke-width="0.9"/>
<circle cx="171.7" cy="325.7" r="3.1" fill="#fff" stroke="#2a2a2a" stroke-width="0.9"/>
<circle cx="172.8" cy="328.6" r="3.1" fill="#fff" stroke="#2a2a2a" stroke-width="0.9"/>
<line x1="18.1" y1="278.1" x2="18.1" y2="380.4" stroke="#111" stroke-width="1.3"/>
<line x1="17.4" y1="379.7" x2="191.2" y2="379.7" stroke="#111" stroke-width="1.5"/>
<line x1="15.6" y1="379.7" x2="18.1" y2="379.7" stroke="#111" stroke-width="1"/>
<text x="0" y="0" font-size="8.47" transform="translate(10.40 382.62) scale(0.849 1)">0</text>
<line x1="15.6" y1="350.5" x2="18.1" y2="350.5" stroke="#111" stroke-width="1"/>
<text x="0" y="0" font-size="8.60" transform="translate(10.40 353.50) scale(0.837 1)">2</text>
<line x1="15.6" y1="321.3" x2="18.1" y2="321.3" stroke="#111" stroke-width="1"/>
<text x="0" y="0" font-size="8.72" transform="translate(10.40 324.30) scale(0.825 1)">4</text>
<line x1="15.6" y1="292.1" x2="18.1" y2="292.1" stroke="#111" stroke-width="1"/>
<text x="0" y="0" font-size="8.47" transform="translate(10.40 295.02) scale(0.849 1)">6</text>
<rect x="40.8" y="379.7" width="2.4" height="2.4" fill="#111"/>
<rect x="82.6" y="379.7" width="2.4" height="2.4" fill="#111"/>
<rect x="123.8" y="379.7" width="2.4" height="2.4" fill="#111"/>
<rect x="165.5" y="379.7" width="2.4" height="2.4" fill="#111"/>
<text x="0" y="0" font-size="10.08" transform="translate(4.30 333.00) rotate(-90) scale(0.832 1) translate(-57.95 2.60)">Relative luciferase activity</text>
<text x="0" y="0" font-size="8.71" transform="translate(32.90 393.00) rotate(-30) scale(1.009 1) translate(-10.41 3.11)">Mock</text>
<text x="0" y="0" font-size="9.30" transform="translate(68.80 394.20) rotate(-30) scale(0.884 1) translate(-17.82 3.20)">TTN-WT</text>
<text x="0" y="0" font-size="9.04" transform="translate(108.30 400.90) rotate(-30) scale(0.947 1) translate(-25.88 3.11)">TP53 R249S</text>
<text x="0" y="0" font-size="9.04" transform="translate(151.10 400.60) rotate(-30) scale(0.957 1) translate(-26.13 3.11)">TP53 R175H</text>
<line x1="42.3" y1="287.7" x2="42.3" y2="305" stroke="#111" stroke-width="0.9"/>
<path d="M42.3,304.5 L42.3,302.3 L84.1,302.3 L84.1,304.5" fill="none" stroke="#222" stroke-width="0.9"/>
<text x="65" y="301.5" font-size="7" text-anchor="middle">**</text>
<path d="M42.3,297.2 L42.3,295.0 L125.0,295.0 L125.0,297.2" fill="none" stroke="#222" stroke-width="0.9"/>
<text x="83.5" y="294.3" font-size="7" text-anchor="middle">*</text>
<path d="M42.3,289.9 L42.3,287.7 L166.4,287.7 L166.4,289.9" fill="none" stroke="#222" stroke-width="0.9"/>
<text x="104" y="287" font-size="7" text-anchor="middle">*</text>
<text x="0" y="0" font-size="15.17" fill="#111" transform="translate(200.40 274.15) scale(1.020 1)">g</text>
<text x="0" y="0" font-size="8.28" fill="#333" transform="translate(214.30 282.50) scale(0.994 1)">DLL4</text>
<rect x="224.5" y="352.3" width="30" height="32.3" fill="#4f6fbf" stroke="#333" stroke-width="0.9"/>
<rect x="266.9" y="307.3" width="30.7" height="77.3" fill="#f5c39b" stroke="#333" stroke-width="0.9"/>
<line x1="239.7" y1="340.5" x2="239.7" y2="368.1" stroke="#111" stroke-width="0.9"/>
<line x1="233.7" y1="340.5" x2="245.7" y2="340.5" stroke="#111" stroke-width="0.9"/>
<line x1="233.7" y1="368.1" x2="245.7" y2="368.1" stroke="#111" stroke-width="0.9"/>
<line x1="282.4" y1="295.7" x2="282.4" y2="327.3" stroke="#111" stroke-width="0.9"/>
<line x1="276.4" y1="295.7" x2="288.4" y2="295.7" stroke="#111" stroke-width="0.9"/>
<line x1="276.4" y1="327.3" x2="288.4" y2="327.3" stroke="#111" stroke-width="0.9"/>
<circle cx="229.9" cy="348.5" r="2.5" fill="#fff" stroke="#2a2a2a" stroke-width="0.8"/>
<circle cx="249.2" cy="340.9" r="2.5" fill="#fff" stroke="#2a2a2a" stroke-width="0.8"/>
<circle cx="245.4" cy="368.4" r="2.5" fill="#fff" stroke="#2a2a2a" stroke-width="0.8"/>
<circle cx="281.1" cy="295.4" r="2.5" fill="#fff" stroke="#2a2a2a" stroke-width="0.8"/>
<circle cx="281.5" cy="298.8" r="2.5" fill="#fff" stroke="#2a2a2a" stroke-width="0.8"/>
<circle cx="283.4" cy="327.3" r="2.5" fill="#fff" stroke="#2a2a2a" stroke-width="0.8"/>
<line x1="214.3" y1="284.9" x2="214.3" y2="385.3" stroke="#111" stroke-width="1.3"/>
<line x1="213.6" y1="384.6" x2="307.7" y2="384.6" stroke="#111" stroke-width="1.5"/>
<line x1="211.8" y1="384.6" x2="214.3" y2="384.6" stroke="#111" stroke-width="1"/>
<text x="0" y="0" font-size="8.47" transform="translate(208.50 387.52) scale(0.828 1)">0</text>
<line x1="211.8" y1="356" x2="214.3" y2="356" stroke="#111" stroke-width="1"/>
<text x="0" y="0" font-size="8.60" transform="translate(208.50 359.00) scale(0.816 1)">2</text>
<line x1="211.8" y1="327.4" x2="214.3" y2="327.4" stroke="#111" stroke-width="1"/>
<text x="0" y="0" font-size="8.72" transform="translate(208.50 330.40) scale(0.804 1)">4</text>
<line x1="211.8" y1="298.8" x2="214.3" y2="298.8" stroke="#111" stroke-width="1"/>
<text x="0" y="0" font-size="8.47" transform="translate(208.50 301.72) scale(0.828 1)">6</text>
<rect x="238.5" y="384.6" width="2.4" height="2.4" fill="#111"/>
<rect x="281.2" y="384.6" width="2.4" height="2.4" fill="#111"/>
<text x="0" y="0" font-size="10.61" transform="translate(201.80 328.10) rotate(-90) scale(0.798 1) translate(-36.27 3.79)">Relative mRNA</text>
<text x="0" y="0" font-size="9.17" transform="translate(235.50 394.80) rotate(-30) scale(0.877 1) translate(-11.97 3.20)">PDX2</text>
<text x="0" y="0" font-size="9.30" transform="translate(278.50 394.80) rotate(-30) scale(0.864 1) translate(-12.15 3.20)">PDX1</text>
<path d="M239.7,293.1 L239.7,290.2 L282.4,290.2 L282.4,293.1" fill="none" stroke="#222" stroke-width="0.9"/>
<text x="262.6" y="290" font-size="7" text-anchor="middle">**</text>
<text x="0" y="0" font-size="16.00" fill="#111" transform="translate(338.40 297.70) scale(0.944 1)">h</text>
<text x="0" y="0" font-size="9.30" transform="translate(377.30 291.60) rotate(-40) scale(0.844 1) translate(-12.15 3.20)">PDX1</text>
<text x="0" y="0" font-size="9.17" transform="translate(411.30 291.60) rotate(-40) scale(0.856 1) translate(-11.97 3.20)">PDX2</text>
<rect x="354.1" y="303.6" width="68.9" height="26.8" fill="#ececec" stroke="#2a2a2a" stroke-width="1"/>
<rect x="354.1" y="337.1" width="68.9" height="27" fill="#e9e9e9" stroke="#2a2a2a" stroke-width="1"/>
<rect x="354.1" y="371.1" width="68.9" height="26.3" fill="#e9e9e9" stroke="#2a2a2a" stroke-width="1"/>
<path d="M394,317 C394,314 398,314.3 404,315 L414.8,316.3 L414.8,317.7 L404,319 C398,319.7 394,320 394,317 Z" fill="#111" filter="url(#bl5)"/>
<rect x="364.7" y="337.8" width="22.4" height="3" fill="#555" opacity="0.6" filter="url(#bl8)"/>
<rect x="364.7" y="344.2" width="22.4" height="3" fill="#666" opacity="0.55" filter="url(#bl8)"/>
<rect x="364.7" y="348.3" width="22.4" height="5.2" rx="2.5" fill="#111" filter="url(#bl5)"/>
<rect x="394.4" y="347.8" width="18.1" height="2.8" rx="1.4" fill="#333" opacity="0.85" filter="url(#bl5)"/>
<rect x="362.2" y="381.4" width="24.9" height="5.6" rx="2.8" fill="#111" filter="url(#bl5)"/>
<rect x="392.7" y="381.2" width="23.3" height="6" rx="3" fill="#111" filter="url(#bl5)"/>
<text x="0" y="0" font-size="10.17" fill="#333" transform="translate(333.70 318.20) scale(0.839 1)">TTN</text>
<text x="0" y="0" font-size="8.87" fill="#333" transform="translate(329.60 353.20) scale(0.976 1)">DLL4</text>
<text x="0" y="0" font-size="8.68" fill="#333" transform="translate(314.90 386.99) scale(0.982 1)">β-Tubulin</text>
<text x="0" y="0" font-size="15.45" fill="#111" transform="translate(441.20 274.90) scale(0.700 1)">i</text>
<text x="0" y="0" font-size="8.03" transform="translate(471.80 267.82) scale(1.066 1)">nCells:9132</text>
<path d="M479.5,330.7 C479.0,328.8 479.0,323.1 479.1,319.3 C479.2,315.5 479.5,311.8 480.4,308.0 C481.2,304.2 482.4,299.9 484.2,296.6 C485.9,293.3 488.2,290.5 490.9,288.0 C493.6,285.5 496.6,283.1 500.4,281.4 C504.2,279.7 509.6,278.5 513.7,278.0 C517.8,277.5 521.9,277.8 525.0,278.5 C528.1,279.2 530.4,280.6 532.6,282.3 C534.8,284.1 536.4,286.6 538.3,289.0 C540.2,291.4 542.1,294.4 544.0,296.6 C545.9,298.8 548.0,300.7 549.7,302.3 C551.5,303.9 553.9,304.8 554.5,306.1 C555.1,307.4 554.9,309.1 553.5,309.9 C552.1,310.7 548.1,311.0 545.9,310.8 C543.7,310.6 542.1,308.9 540.2,308.9 C538.3,308.9 536.4,310.0 534.5,310.8 C532.6,311.6 530.7,312.8 528.8,313.7 C526.9,314.6 525.0,316.0 523.1,316.5 C521.2,317.0 519.3,316.7 517.4,316.5 C515.5,316.3 513.7,315.4 511.8,315.5 C509.9,315.6 508.3,316.7 506.1,317.4 C503.9,318.1 501.0,318.9 498.5,319.7 C496.0,320.5 493.1,321.1 490.9,322.2 C488.7,323.2 486.6,324.6 485.2,326.0 C483.8,327.4 483.2,329.9 482.3,330.7 C481.4,331.5 480.0,332.6 479.5,330.7 Z" fill="#e9706a"/>
<path d="M544.0,309.9 C545.0,308.9 549.1,307.3 551.6,307.0 C554.1,306.7 556.4,307.4 559.2,308.0 C562.1,308.6 565.5,310.8 568.7,310.8 C571.9,310.8 575.4,308.8 578.2,308.0 C581.1,307.2 583.6,305.3 585.8,306.1 C588.0,306.9 590.9,310.8 591.5,312.7 C592.1,314.6 591.2,316.1 589.6,317.4 C588.0,318.7 583.9,319.0 582.0,320.3 C580.1,321.6 579.5,322.9 578.2,325.0 C576.9,327.1 575.7,329.8 574.4,332.6 C573.1,335.5 571.5,338.9 570.6,342.1 C569.7,345.3 570.0,349.1 568.7,351.6 C567.4,354.1 565.2,356.0 563.0,357.3 C560.8,358.6 557.3,359.8 555.4,359.2 C553.5,358.6 551.9,355.7 551.6,353.5 C551.3,351.3 552.2,348.1 553.5,345.9 C554.8,343.7 557.6,342.1 559.2,340.2 C560.8,338.3 562.0,336.7 563.0,334.5 C564.0,332.3 565.2,329.8 564.9,326.9 C564.6,324.0 563.0,319.8 561.1,317.4 C559.2,315.0 556.0,313.5 553.5,312.7 C551.0,311.9 547.5,313.2 545.9,312.7 C544.3,312.2 543.0,310.8 544.0,309.9 Z" fill="#9a6cc3"/>
<path d="M477.6,332.6 C478.6,329.4 481.1,328.5 483.3,326.9 C485.5,325.3 488.4,324.2 490.9,323.1 C493.4,322.0 495.6,321.2 498.5,320.3 C501.4,319.4 505.2,318.2 508.0,317.4 C510.8,316.6 513.9,315.0 515.5,315.5 C517.1,316.0 517.7,318.7 517.4,320.3 C517.1,321.9 514.6,323.6 513.7,325.0 C512.8,326.4 510.9,327.9 511.8,328.8 C512.7,329.8 516.8,329.1 519.3,330.7 C521.8,332.3 525.0,336.2 526.9,338.3 C528.8,340.4 531.3,342.2 530.7,343.1 C530.1,344.1 525.3,342.9 523.1,344.0 C520.9,345.1 518.8,347.2 517.4,349.7 C516.0,352.2 515.4,356.0 514.6,359.2 C513.8,362.4 513.8,365.8 512.7,368.7 C511.6,371.6 509.7,373.8 508.0,376.3 C506.3,378.8 504.5,381.7 502.3,383.9 C500.1,386.1 497.6,388.5 494.7,389.6 C491.8,390.7 487.9,391.1 485.2,390.5 C482.5,389.9 479.9,388.8 478.5,385.8 C477.1,382.8 476.6,376.9 476.6,372.5 C476.6,368.1 478.3,363.6 478.5,359.2 C478.7,354.8 477.8,350.3 477.6,345.9 C477.5,341.5 476.7,335.8 477.6,332.6 Z" fill="#a0cce3"/>
<path d="M545.9,383.9 C546.9,382.6 549.7,381.7 551.6,382.0 C553.5,382.3 555.6,384.7 557.3,385.8 C559.0,386.9 561.7,387.5 562.0,388.6 C562.3,389.7 560.9,391.8 559.2,392.4 C557.5,393.0 553.8,392.9 551.6,392.4 C549.4,391.9 546.9,391.0 545.9,389.6 C544.9,388.2 544.9,385.2 545.9,383.9 Z" fill="#9bdc7e"/>
<path d="M519.3,343.1 C521.2,341.8 524.4,342.0 526.9,342.1 C529.4,342.2 532.0,343.5 534.5,344.0 C537.0,344.5 539.6,344.4 542.1,345.0 C544.6,345.6 547.8,346.7 549.7,347.8 C551.6,348.9 552.9,349.7 553.5,351.6 C554.1,353.5 553.8,356.4 553.5,359.2 C553.2,362.0 551.8,365.5 551.6,368.7 C551.5,371.9 552.9,375.8 552.6,378.2 C552.3,380.6 551.5,381.6 549.7,382.9 C548.0,384.2 544.3,384.4 542.1,385.8 C539.9,387.2 538.6,390.9 536.4,391.5 C534.2,392.1 531.0,390.6 528.8,389.6 C526.6,388.7 525.6,386.4 523.1,385.8 C520.6,385.2 517.2,385.7 513.7,385.8 C510.2,385.9 504.8,387.0 502.3,386.7 C499.8,386.4 499.1,385.3 498.5,383.9 C497.9,382.5 497.6,380.1 498.5,378.2 C499.4,376.3 502.0,374.1 504.2,372.5 C506.4,370.9 510.1,370.9 511.8,368.7 C513.5,366.5 514.0,362.4 514.6,359.2 C515.2,356.0 514.7,352.4 515.5,349.7 C516.3,347.0 517.4,344.4 519.3,343.1 Z" fill="#a53a3e"/>
<path d="M514.4 318.1h0M484.2 324.1h0M480.4 327.7h0M487.8 292.3h0M489.2 291.8h0M534.7 282.3h0M484.3 331.4h0M492.3 287.1h0M487.8 326.7h0M541.1 294.5h0M512.9 315.0h0M553.6 308.0h0M492.0 288.8h0M522.4 315.2h0M539.5 294.0h0M506.6 279.2h0M478.1 321.1h0M522.9 317.5h0M478.7 323.4h0M515.1 281.0h0M542.7 311.7h0M481.5 326.7h0M557.6 306.4h0M479.7 305.5h0M495.9 284.8h0M541.2 296.9h0M508.9 310.8h0M511.9 280.0h0M554.4 304.8h0M534.7 285.6h0M508.6 315.7h0M499.4 281.2h0M481.9 332.0h0M479.7 311.4h0M514.4 315.4h0M535.7 311.4h0M538.8 310.9h0M522.0 315.0h0M543.1 297.7h0M522.0 318.3h0M483.8 327.5h0M540.0 290.5h0M541.2 309.1h0M547.5 300.2h0M523.8 317.0h0M541.2 292.9h0M548.9 306.4h0M552.6 307.5h0M494.1 321.9h0M497.5 287.1h0M540.7 310.6h0M552.6 308.0h0M498.3 321.5h0M511.3 316.0h0M519.9 315.6h0M503.8 313.2h0M526.9 278.6h0M505.2 279.3h0M549.9 302.4h0M529.4 282.3h0M539.1 286.2h0M528.8 315.2h0M482.3 293.7h0M544.5 294.8h0M518.8 317.1h0M514.2 316.3h0M494.7 286.7h0M477.7 329.5h0M525.7 311.6h0M555.9 307.5h0" stroke="#e9706a" stroke-width="1.80" stroke-linecap="round" fill="none"/>
<path d="M505.2 378.9h0M516.4 322.9h0M515.3 371.1h0M522.6 336.2h0M505.9 318.1h0M489.4 323.7h0M498.1 388.9h0M485.1 326.9h0M520.1 331.8h0M479.3 372.0h0M481.3 330.1h0M529.2 340.9h0M527.9 341.3h0M481.0 326.1h0M506.7 317.6h0M514.3 351.7h0M478.9 378.6h0M518.6 344.5h0M515.8 368.3h0M475.8 347.7h0M509.6 377.0h0M497.5 388.6h0M516.0 354.7h0M513.7 326.3h0M479.0 331.0h0M522.0 348.9h0M512.9 326.6h0M515.0 313.9h0M515.8 318.9h0M481.6 388.7h0M479.6 345.7h0M477.4 340.4h0M491.8 321.1h0M480.1 381.7h0M511.7 315.1h0M498.2 387.6h0M513.2 324.0h0M515.2 314.5h0M521.5 342.7h0M498.4 322.2h0M504.8 384.1h0M509.7 377.3h0M497.7 388.3h0M515.6 357.0h0M478.1 368.4h0M521.2 347.5h0M480.9 385.7h0M475.9 332.5h0M514.4 359.2h0M492.9 390.3h0M483.7 327.2h0M508.6 375.1h0M524.8 336.3h0M514.6 365.8h0M491.3 324.2h0M514.4 318.2h0M527.7 336.5h0M521.1 346.7h0M475.5 359.7h0M508.2 316.0h0" stroke="#a0cce3" stroke-width="1.80" stroke-linecap="round" fill="none"/>
<path d="M516.8 348.1h0M522.4 340.7h0M531.8 391.6h0M539.9 343.8h0M551.9 370.8h0M513.2 364.6h0M529.9 342.1h0M533.0 343.0h0M529.0 388.6h0M499.6 386.9h0M514.2 359.1h0M548.0 382.9h0M535.0 346.2h0M514.3 355.2h0M541.6 392.7h0M554.2 355.3h0M521.6 344.0h0M526.0 387.8h0M549.5 380.9h0M498.9 378.2h0M549.9 382.8h0M537.2 341.8h0M509.0 371.8h0M552.1 370.4h0M532.1 391.0h0M521.3 385.6h0M515.7 350.5h0M550.6 347.6h0M531.9 346.3h0M525.0 388.7h0M550.1 347.6h0M538.6 344.2h0M543.5 346.2h0M549.0 381.9h0M522.4 387.2h0M554.7 353.8h0M542.4 344.4h0M554.0 348.4h0M543.5 346.3h0M510.5 365.6h0M555.6 355.2h0M544.5 343.4h0M553.7 368.9h0M498.5 386.1h0M553.6 363.8h0M530.9 388.6h0M550.6 373.4h0M530.9 343.8h0M553.0 373.6h0M547.1 350.6h0M537.4 388.9h0M540.4 345.0h0M496.4 378.4h0M523.1 343.0h0M523.6 387.0h0M504.0 383.4h0M499.5 373.7h0M531.8 390.0h0M553.6 362.2h0M534.2 387.5h0" stroke="#a53a3e" stroke-width="1.80" stroke-linecap="round" fill="none"/>
<path d="M561.8 357.3h0M546.1 312.2h0M573.6 329.0h0M563.1 323.0h0M573.0 309.8h0M562.4 355.8h0M557.7 317.2h0M574.8 337.8h0M563.0 336.2h0M570.3 311.4h0M565.2 326.0h0M557.3 359.3h0M562.9 328.2h0M558.1 359.0h0M586.9 320.4h0M574.5 334.5h0M562.5 329.6h0M570.7 336.3h0M556.8 308.5h0M563.6 307.0h0M580.7 318.1h0M568.4 310.1h0M573.3 333.5h0M553.8 352.4h0M542.2 309.6h0M572.6 308.8h0M570.6 336.8h0M563.2 308.0h0M543.6 308.7h0M552.4 313.7h0M566.2 308.4h0M543.4 309.8h0M588.8 317.9h0M552.9 347.9h0M569.9 312.6h0M556.8 348.0h0M580.6 324.0h0M573.0 309.7h0M563.9 358.2h0M587.1 306.5h0M571.1 350.1h0M567.5 358.6h0M588.0 317.9h0M565.8 308.9h0M554.1 350.2h0M553.1 341.5h0M555.4 313.9h0M554.4 360.5h0M551.7 363.2h0M592.5 314.2h0M558.0 359.6h0M566.1 355.8h0M576.4 323.0h0M554.9 358.4h0M556.4 359.3h0M552.7 345.7h0M587.5 319.3h0M544.3 309.9h0M558.4 314.7h0M560.2 339.5h0" stroke="#9a6cc3" stroke-width="1.80" stroke-linecap="round" fill="none"/>
<path d="M556.9 384.9h0M559.9 387.8h0M544.8 387.7h0M558.2 393.2h0M550.3 390.6h0M561.1 388.3h0M557.1 386.0h0M559.9 389.9h0M558.7 387.3h0M559.6 389.5h0M553.3 392.3h0M554.0 382.1h0M548.5 382.2h0M554.1 391.4h0M554.3 383.8h0" stroke="#9bdc7e" stroke-width="1.80" stroke-linecap="round" fill="none"/>
<path d="M527.0 298.0h0M531.0 301.0h0M534.0 299.0h0M529.0 305.0h0M536.0 304.0h0M524.0 303.0h0M532.0 307.0h0M538.0 300.0h0M522.0 309.0h0M517.0 311.0h0M514.0 313.0h0M496.0 337.0h0M486.0 352.0h0M492.0 362.0h0M490.0 372.0h0" stroke="#fff" stroke-width="2.00" stroke-linecap="round" fill="none"/>
<path d="M506.0 355.0h0M530.0 349.0h0M498.0 387.0h0M505.0 381.0h0M478.0 364.0h0M487.0 372.0h0M538.0 382.0h0M560.0 330.0h0M553.0 340.0h0M571.0 316.0h0" stroke="#a53a3e" stroke-width="2.20" stroke-linecap="round" fill="none"/>
<path d="M527.0 349.0h0M537.0 352.0h0M547.0 335.0h0M558.0 350.0h0M563.0 328.0h0M552.0 322.0h0M566.0 345.0h0M500.0 338.0h0" stroke="#a0cce3" stroke-width="2.00" stroke-linecap="round" fill="none"/>
<path d="M501.0 348.0h0M560.0 352.0h0M505.0 316.0h0M508.0 320.0h0" stroke="#9a6cc3" stroke-width="2.00" stroke-linecap="round" fill="none"/>
<path d="M558.0 352.0h0M569.0 338.0h0M530.0 393.0h0M509.0 395.0h0" stroke="#9bdc7e" stroke-width="2.00" stroke-linecap="round" fill="none"/>
<circle cx="512" cy="396" r="1.6" fill="#a53a3e"/>
<rect x="470.3" y="272.4" width="127.8" height="126.1" fill="none" stroke="#111" stroke-width="1.4"/>
<line x1="471" y1="398.5" x2="471" y2="401.3" stroke="#111" stroke-width="1"/>
<text x="471.0" y="411.2" font-size="8.4" text-anchor="middle" fill="#222">−5.0</text>
<line x1="495.2" y1="398.5" x2="495.2" y2="401.3" stroke="#111" stroke-width="1"/>
<text x="495.2" y="411.2" font-size="8.4" text-anchor="middle" fill="#222">−2.5</text>
<line x1="519.4" y1="398.5" x2="519.4" y2="401.3" stroke="#111" stroke-width="1"/>
<text x="519.4" y="411.2" font-size="8.4" text-anchor="middle" fill="#222">0.0</text>
<line x1="543.6" y1="398.5" x2="543.6" y2="401.3" stroke="#111" stroke-width="1"/>
<text x="543.6" y="411.2" font-size="8.4" text-anchor="middle" fill="#222">2.5</text>
<line x1="567.8" y1="398.5" x2="567.8" y2="401.3" stroke="#111" stroke-width="1"/>
<text x="567.8" y="411.2" font-size="8.4" text-anchor="middle" fill="#222">5.0</text>
<line x1="591.9" y1="398.5" x2="591.9" y2="401.3" stroke="#111" stroke-width="1"/>
<text x="591.9" y="411.2" font-size="8.4" text-anchor="middle" fill="#222">7.5</text>
<line x1="467.5" y1="304.6" x2="470.3" y2="304.6" stroke="#111" stroke-width="1"/>
<text x="465.8" y="307.5" font-size="8" text-anchor="end" fill="#222">4</text>
<line x1="467.5" y1="338.9" x2="470.3" y2="338.9" stroke="#111" stroke-width="1"/>
<text x="465.8" y="341.8" font-size="8" text-anchor="end" fill="#222">0</text>
<line x1="467.5" y1="373.2" x2="470.3" y2="373.2" stroke="#111" stroke-width="1"/>
<text x="465.8" y="376.1" font-size="8" text-anchor="end" fill="#222">−4</text>
<text x="0" y="0" font-size="8.30" transform="translate(513.30 418.50) scale(1.003 1)">UMAP_1</text>
<text x="0" y="0" font-size="7.58" transform="translate(449.60 339.40) rotate(-90) scale(1.147 1) translate(-15.17 1.89)">UMAP_2</text>
<text x="0" y="0" font-size="6.65" transform="translate(611.80 314.12) scale(1.287 1)">cell.type1:</text>
<circle cx="616.4" cy="324.6" r="4.3" fill="#a0cce3"/>
<text x="0" y="0" font-size="8.25" transform="translate(625.80 327.08) scale(1.021 1)">Epi_0(2840)</text>
<circle cx="616.4" cy="333.5" r="4.3" fill="#e9706a"/>
<text x="0" y="0" font-size="8.25" transform="translate(625.80 335.98) scale(1.021 1)">Epi_1(2728)</text>
<circle cx="616.4" cy="342.8" r="4.3" fill="#a53a3e"/>
<text x="0" y="0" font-size="8.25" transform="translate(625.80 345.28) scale(1.021 1)">Epi_2(2293)</text>
<circle cx="616.4" cy="351.9" r="4.3" fill="#9a6cc3"/>
<text x="0" y="0" font-size="8.25" transform="translate(625.80 354.38) scale(1.021 1)">Epi_3(1095)</text>
<circle cx="616.4" cy="360.8" r="4.3" fill="#9bdc7e"/>
<text x="0" y="0" font-size="8.25" transform="translate(625.80 363.28) scale(1.034 1)">Epi_4(176)</text>
<text x="0" y="0" font-size="15.86" fill="#111" transform="translate(7.65 426.00) scale(1.123 1)">j</text>
<path d="M96.3 499.6h0M102.6 509.7h0M147.4 503.5h0M143.7 505.3h0M167.7 478.9h0M140.7 503.4h0M128.4 489.0h0M160.3 525.5h0M78.9 490.2h0M142.3 463.8h0M122.5 501.6h0M97.6 501.7h0M169.5 475.9h0M153.7 526.4h0M114.5 462.5h0M129.7 492.5h0M159.7 496.0h0M85.6 513.1h0M95.9 515.4h0M141.6 521.0h0M150.7 506.1h0M128.0 488.9h0M128.2 494.8h0M148.1 510.7h0M137.2 501.9h0M154.3 494.3h0M121.0 465.9h0M103.5 509.4h0M96.3 510.3h0M116.2 464.2h0M140.0 497.0h0M164.5 484.0h0M128.3 499.7h0M182.8 465.0h0M108.8 509.8h0M129.0 497.1h0M131.9 506.8h0M135.8 521.1h0M134.2 507.6h0M160.4 462.9h0M151.8 505.1h0M141.7 505.7h0M153.8 522.9h0M107.6 516.8h0M155.1 493.6h0M142.2 500.3h0M127.6 499.0h0M122.0 465.4h0M125.0 496.3h0M126.6 495.1h0M157.7 520.9h0M136.4 520.5h0M140.3 509.5h0M114.6 516.8h0M101.5 512.3h0M141.0 494.3h0M140.6 513.5h0M133.9 498.0h0M135.6 511.6h0M136.3 491.7h0M146.2 512.2h0M122.0 498.4h0M161.5 522.6h0M136.3 492.0h0M152.7 493.4h0M121.9 459.1h0M175.0 461.5h0M158.7 500.8h0M144.6 515.4h0M148.7 507.2h0M109.2 464.5h0M133.5 459.9h0M148.3 461.9h0M148.5 522.6h0M144.0 516.9h0M152.1 522.7h0M150.5 512.9h0M132.6 509.3h0M155.4 506.6h0M134.4 512.5h0M181.7 467.1h0M109.3 512.5h0M173.7 475.8h0M119.6 525.5h0M142.2 512.3h0M158.4 522.0h0M130.5 487.0h0M161.9 494.0h0M132.2 514.0h0M131.0 501.0h0M173.9 481.1h0M110.2 465.0h0M99.5 493.2h0M143.2 460.2h0M142.7 504.8h0M146.5 517.1h0M154.5 458.4h0M140.6 495.5h0M163.7 490.0h0M142.4 495.4h0M141.9 490.5h0M134.8 519.9h0M121.0 459.6h0M155.2 526.8h0M132.9 506.1h0M135.0 507.7h0M101.7 490.8h0M101.6 497.3h0M160.2 522.4h0M168.3 484.7h0M132.1 510.7h0M143.3 460.4h0M130.4 510.2h0M135.6 462.1h0M140.5 496.9h0M142.4 500.6h0M151.1 492.1h0M146.2 504.0h0M160.5 521.2h0M119.4 510.5h0M180.7 463.3h0M118.4 460.9h0M137.5 523.1h0M146.2 492.1h0M112.2 503.3h0M158.4 494.6h0M132.1 503.7h0M111.7 522.6h0M150.7 506.2h0M134.3 508.0h0M161.0 487.8h0M146.3 464.6h0M86.8 499.7h0M157.1 520.8h0M143.9 491.8h0M111.2 463.5h0M130.7 498.4h0M121.8 517.8h0M107.3 500.4h0M149.6 519.5h0M131.7 514.4h0M155.5 498.2h0M144.7 516.1h0M161.1 521.5h0M159.9 492.5h0M153.7 490.8h0M79.7 497.1h0M106.0 460.4h0M94.8 498.5h0M135.2 464.8h0M165.4 486.5h0M154.4 507.8h0M140.1 461.0h0M144.7 520.6h0M135.3 513.9h0M174.9 476.0h0M137.5 502.6h0M128.4 496.6h0M169.3 475.2h0M115.6 459.8h0M141.7 517.7h0M140.2 460.0h0M139.5 505.5h0M119.9 464.7h0M129.1 492.6h0M140.3 499.9h0M172.3 472.3h0M155.4 524.1h0M159.5 495.2h0M134.4 503.6h0M82.3 502.9h0M93.8 509.6h0M127.7 491.7h0M153.8 512.1h0M116.3 459.2h0M126.4 487.8h0M168.0 469.4h0M137.1 498.2h0M150.3 500.1h0M132.4 509.6h0M131.5 515.0h0M130.9 515.5h0M147.9 512.0h0M142.5 521.8h0M172.8 479.0h0M126.3 487.1h0M141.6 495.5h0M143.5 463.7h0M168.4 484.4h0M159.2 524.2h0M156.5 528.5h0M140.9 509.5h0M110.5 510.5h0M109.0 460.1h0M121.7 463.9h0M148.8 499.8h0M93.8 493.6h0M158.5 520.9h0M117.7 459.9h0M144.7 521.5h0M158.3 521.6h0M175.4 467.1h0M158.4 519.2h0M158.3 502.3h0M135.1 497.7h0M136.8 514.6h0M122.2 462.6h0M127.4 489.4h0M139.0 503.8h0M144.0 509.8h0M152.3 505.7h0M164.0 487.6h0M148.9 491.4h0M140.4 502.5h0M155.2 516.9h0M119.7 460.6h0M157.9 466.1h0M147.8 509.1h0M115.3 464.4h0M139.3 510.8h0M154.3 500.8h0M127.3 502.4h0M166.9 487.0h0M111.0 465.0h0M139.6 505.4h0M169.9 485.4h0M126.7 492.9h0M103.0 516.3h0M172.2 474.4h0M160.9 522.9h0M129.7 486.6h0M164.1 460.0h0M156.7 503.2h0M129.3 504.8h0M122.5 459.5h0M149.9 519.2h0M153.2 507.7h0M118.3 462.6h0M135.6 515.5h0M132.5 518.7h0M183.1 459.7h0M151.3 502.5h0M78.6 515.5h0M134.2 463.9h0M147.5 461.5h0M151.1 498.8h0M163.4 467.3h0M128.4 494.9h0M144.9 507.7h0M118.1 500.9h0M135.5 489.8h0M160.2 527.3h0M180.9 466.6h0M153.7 515.8h0M105.6 460.6h0M150.1 493.1h0M134.0 488.7h0M139.7 505.6h0M154.0 512.0h0M117.6 459.4h0M141.9 515.0h0M130.1 488.9h0M159.0 464.0h0M139.0 489.5h0M140.3 513.3h0M156.0 508.6h0M149.5 516.1h0M113.1 459.5h0M158.1 520.4h0M119.4 510.8h0M151.7 519.1h0M129.9 511.7h0M163.3 463.0h0M138.8 503.0h0M182.6 461.0h0M135.2 498.7h0M155.3 522.6h0M119.1 463.2h0M137.8 504.0h0M109.1 460.8h0M97.3 494.2h0M154.5 508.7h0M158.0 518.7h0M160.2 493.2h0M149.3 495.5h0M136.5 523.0h0M123.5 523.5h0M137.7 459.3h0M128.8 506.7h0M139.7 489.4h0M119.8 462.0h0M123.9 461.7h0M145.3 460.6h0M143.3 503.8h0M144.2 515.5h0M119.4 515.4h0M113.5 462.8h0M118.6 516.6h0M161.4 460.5h0M164.8 459.5h0M152.5 496.3h0M134.9 504.9h0M133.0 492.4h0M145.1 508.3h0M141.7 494.7h0M156.2 526.4h0M141.8 495.6h0M118.7 460.7h0M104.1 506.4h0M128.1 500.5h0M126.4 466.2h0M135.2 511.2h0M133.4 464.3h0M150.3 513.7h0M150.1 501.3h0M135.3 494.4h0M155.0 520.3h0M141.9 506.2h0M157.1 504.9h0M136.1 459.8h0M140.6 512.6h0M161.3 458.6h0M157.4 522.5h0M155.8 521.5h0M140.5 508.2h0M146.9 502.5h0M129.5 493.1h0M158.0 489.7h0M150.7 521.8h0M162.1 497.2h0M139.0 494.8h0M140.3 521.2h0M156.4 496.4h0M155.3 495.0h0M86.2 520.9h0M139.8 506.5h0M132.7 520.1h0M151.0 491.5h0M155.8 524.0h0M148.8 461.0h0M139.9 465.0h0M131.8 496.2h0M80.4 516.3h0M156.5 520.4h0M146.7 515.1h0M129.1 487.8h0M155.1 526.6h0M150.0 498.9h0M155.8 492.6h0M106.6 463.4h0M160.4 526.3h0M106.3 460.7h0M151.7 457.6h0M168.1 485.0h0M119.5 522.9h0M139.0 492.7h0M128.3 488.2h0M142.9 506.9h0M159.5 457.5h0M126.9 506.6h0M131.1 492.7h0M172.3 471.6h0M129.5 493.9h0M129.7 495.6h0M137.4 506.2h0M154.7 514.3h0M130.9 500.8h0M141.8 491.6h0M130.7 511.4h0M83.0 502.6h0M160.9 463.5h0M141.0 510.5h0M112.3 514.1h0M151.5 501.8h0M145.5 512.1h0M140.0 460.8h0M148.1 504.2h0M147.4 506.9h0M150.4 525.4h0M176.6 458.3h0M144.5 460.6h0M149.4 496.9h0M164.0 525.5h0M158.6 499.3h0M156.9 519.8h0M156.3 528.1h0M159.7 461.1h0M114.7 515.2h0M149.5 506.2h0M118.0 465.3h0M134.6 489.4h0M141.2 503.1h0M156.1 524.5h0M115.9 459.1h0M154.8 519.9h0M149.9 492.8h0M138.8 502.4h0M163.6 495.0h0M169.3 488.4h0M162.4 461.8h0M166.5 462.8h0M139.3 510.1h0M158.9 498.9h0M156.9 526.1h0M165.9 490.0h0M168.0 483.4h0M146.1 501.7h0M95.8 515.8h0M131.3 496.1h0M132.2 499.1h0M144.8 464.0h0M79.1 498.8h0M136.5 462.9h0M102.0 501.8h0M156.0 504.9h0M133.8 508.4h0M149.0 512.0h0M151.1 499.0h0M163.4 525.8h0M127.9 497.4h0M179.8 458.9h0M132.9 515.1h0M154.9 527.0h0M140.8 505.2h0M139.0 459.1h0M130.0 499.2h0M112.0 508.1h0M134.0 522.8h0M105.7 459.5h0M136.2 507.8h0M143.1 499.0h0M137.8 495.9h0M150.0 510.3h0M94.4 508.4h0M159.3 524.3h0M137.1 492.5h0M109.0 463.8h0M149.6 524.8h0M140.4 521.8h0M147.5 496.9h0M147.0 501.7h0M144.2 461.1h0M132.0 497.5h0M109.5 507.2h0M135.3 511.3h0M133.6 497.5h0M105.2 522.4h0M100.6 499.5h0M137.7 503.4h0M138.4 524.4h0M154.5 518.7h0M157.5 524.5h0M165.3 465.0h0M133.1 520.2h0M144.8 513.1h0M162.1 523.6h0M145.5 505.1h0M153.3 463.0h0M140.3 463.2h0M133.4 495.1h0M123.9 461.6h0M112.7 465.7h0M133.0 459.3h0M121.2 490.5h0M171.8 481.4h0M154.5 504.5h0M107.9 464.0h0M129.6 486.9h0M136.8 521.9h0M82.3 495.0h0M161.3 494.4h0M117.4 460.5h0M152.4 505.5h0M111.9 459.5h0M133.5 521.3h0M123.3 461.0h0M152.2 504.5h0M145.2 508.1h0M137.0 502.1h0M148.7 498.6h0M120.3 463.1h0M135.6 491.5h0M157.3 501.9h0M132.4 489.9h0M170.6 468.5h0M133.6 505.5h0M149.1 519.7h0M130.5 496.0h0M140.8 493.7h0M116.8 463.1h0M117.1 506.0h0M106.3 499.0h0M148.5 490.9h0M154.6 511.9h0M184.7 466.7h0M134.2 519.3h0M157.4 518.8h0M160.0 524.4h0M145.7 521.8h0M146.6 515.1h0M87.9 521.6h0M133.4 503.9h0M161.6 524.8h0M159.9 497.1h0M136.5 502.4h0M170.2 482.7h0M144.3 508.7h0M158.8 492.4h0M152.8 505.7h0M161.4 523.6h0M154.7 527.5h0M105.4 516.7h0M163.0 468.4h0M133.5 466.1h0M152.4 522.1h0M124.8 516.2h0M146.6 509.0h0M155.0 496.6h0M116.1 461.9h0M82.9 519.5h0M156.1 490.1h0M159.6 526.9h0M146.8 506.7h0M127.1 521.0h0M166.8 481.7h0M133.3 508.5h0M159.8 524.8h0M151.7 499.3h0M175.7 473.3h0M156.4 528.6h0M134.5 511.1h0M151.6 501.9h0M122.7 505.5h0M142.8 508.3h0M143.6 518.4h0M128.5 489.6h0M136.3 460.8h0M157.1 506.3h0M133.8 524.4h0M129.3 495.6h0M92.0 500.2h0M189.9 462.4h0M106.4 464.8h0M148.7 510.8h0M156.1 501.7h0M152.3 501.8h0M118.9 460.0h0M146.9 498.7h0M138.0 513.1h0M150.0 453.3h0M157.5 496.0h0M142.9 464.9h0M131.9 490.5h0M157.3 459.3h0M119.4 465.8h0M143.2 508.1h0M116.0 463.4h0M172.2 484.5h0M84.4 495.8h0M152.8 497.1h0M160.6 457.9h0M159.2 457.3h0M146.9 462.7h0M171.3 486.9h0M141.6 523.6h0M196.2 463.8h0M126.9 513.6h0M134.6 498.5h0M155.9 520.7h0M161.1 495.8h0M154.6 520.8h0M129.5 490.6h0M122.8 466.4h0M151.5 510.9h0M129.7 507.1h0M133.7 521.7h0M140.5 500.2h0M144.5 464.3h0M151.2 505.2h0M154.9 495.8h0M128.6 499.5h0M141.3 523.5h0M156.7 496.6h0M161.2 460.4h0M144.0 496.5h0M157.9 498.4h0M127.0 493.9h0M117.9 463.7h0M142.8 500.2h0M134.9 488.8h0M157.9 492.0h0M79.0 497.8h0M171.3 482.6h0M149.0 491.9h0M132.2 489.3h0M147.2 462.5h0M131.9 514.4h0M99.5 516.5h0M154.3 508.6h0M139.7 499.8h0M142.4 517.9h0M132.0 492.8h0M138.6 514.5h0M130.4 495.7h0M129.2 497.8h0M134.3 494.2h0M171.3 472.1h0M135.6 513.3h0M93.6 492.9h0M126.6 492.2h0M147.2 523.7h0M152.4 502.1h0M135.9 505.1h0M132.5 519.9h0M152.9 521.4h0M88.5 497.1h0M161.2 491.2h0M153.3 507.6h0M137.8 498.6h0M158.7 458.1h0M138.3 515.5h0M189.3 462.9h0M145.3 491.0h0M166.5 490.3h0M133.6 497.1h0M160.4 460.7h0M146.3 501.1h0M176.2 471.9h0M141.1 513.8h0M136.0 502.5h0M194.0 462.7h0M169.6 487.4h0M157.1 498.4h0M139.0 500.7h0M149.4 462.7h0M154.8 522.6h0M126.5 462.3h0M152.7 494.6h0M150.9 506.0h0M145.4 495.9h0M156.1 520.1h0M147.8 499.3h0M168.9 486.3h0M86.5 496.3h0M140.4 463.5h0M113.7 459.5h0M170.2 465.4h0M179.8 467.0h0M133.8 509.3h0M106.9 511.2h0M130.2 492.2h0M140.7 508.9h0M157.2 502.2h0M136.2 490.0h0M128.3 465.2h0M150.9 510.9h0M159.6 523.0h0M130.7 489.3h0M168.9 484.8h0M167.5 490.9h0M144.5 500.4h0M146.8 524.4h0M120.2 462.5h0M122.4 511.3h0M153.2 521.0h0M155.1 465.1h0M94.2 516.9h0M103.5 506.7h0M155.7 491.8h0M134.0 493.9h0M167.6 480.3h0M109.3 465.6h0M162.5 521.8h0M130.3 495.5h0M139.6 462.8h0M151.4 496.1h0M107.0 465.9h0M106.5 460.5h0M150.4 513.8h0M134.1 506.9h0M170.2 485.5h0M155.5 492.8h0M129.9 507.4h0M167.7 480.9h0M142.5 520.4h0M153.3 516.2h0M147.5 521.0h0M152.3 505.3h0M148.0 464.7h0M128.3 485.7h0M177.5 462.0h0M131.9 460.1h0M103.0 493.5h0M112.2 501.5h0M139.0 496.2h0M165.0 486.9h0M142.6 504.6h0M147.3 514.1h0M134.8 515.7h0M152.8 498.9h0M156.4 513.4h0M135.8 514.4h0M136.9 459.4h0" stroke="#9e0142" stroke-width="2.50" stroke-linecap="round" fill="none"/>
<path d="M138.1 455.1h0M91.4 522.9h0M147.9 457.2h0M107.1 500.3h0M114.1 500.5h0M125.4 454.1h0M124.1 446.3h0M87.6 462.3h0M109.2 466.6h0M109.2 437.8h0M80.6 480.5h0M119.3 492.1h0M136.2 458.0h0M128.3 451.6h0M90.3 466.2h0M92.6 465.8h0M98.9 461.2h0M159.0 457.6h0M122.4 451.3h0M103.9 507.5h0M101.2 482.4h0M134.7 440.2h0M116.5 454.3h0M87.5 489.1h0M96.2 484.0h0M81.2 479.2h0M128.4 458.0h0M84.2 464.8h0M174.8 466.3h0M88.7 466.4h0M90.7 475.8h0M90.6 452.0h0M81.1 477.6h0M88.0 511.9h0M126.5 513.0h0M88.4 483.6h0M86.0 480.7h0M101.0 464.8h0M86.5 464.8h0M126.1 523.6h0M99.9 484.6h0M83.2 481.3h0M97.6 498.1h0M125.9 514.3h0M88.5 464.7h0M139.8 447.8h0M115.5 437.9h0M92.6 442.9h0M109.7 439.0h0M89.7 472.5h0M108.5 487.1h0M91.5 450.1h0M168.5 468.7h0M94.9 483.2h0M99.1 480.6h0M82.0 493.7h0M90.0 480.6h0M97.2 458.5h0M82.4 481.3h0M86.1 477.6h0M118.9 456.4h0M121.8 494.4h0M100.8 445.0h0M97.6 485.6h0M170.0 461.9h0M129.7 510.4h0M103.2 517.2h0M91.1 476.9h0M121.0 512.4h0M119.2 484.0h0M181.1 460.8h0M110.1 484.6h0M82.3 494.0h0M100.6 479.7h0M101.4 466.9h0M117.4 435.9h0M103.9 465.4h0M99.0 443.5h0M106.1 520.8h0M112.2 493.5h0M89.8 494.3h0M79.2 488.5h0M80.0 497.0h0M105.3 448.1h0M190.7 463.5h0M117.8 439.0h0M115.3 447.9h0M129.3 454.6h0M165.4 465.6h0M116.1 501.4h0M88.4 471.9h0M141.7 458.8h0M93.1 516.9h0M89.4 476.2h0M117.9 438.8h0M142.2 445.6h0M109.9 487.5h0M105.7 438.1h0M106.2 515.6h0M102.9 462.6h0M93.2 443.7h0M113.8 456.4h0M111.5 496.9h0M157.2 465.0h0M83.3 512.2h0M79.2 510.2h0M108.2 515.2h0M86.9 481.3h0M116.7 435.9h0M91.0 486.0h0M101.8 524.5h0M87.1 489.8h0M86.8 462.0h0M82.2 478.3h0M106.4 453.9h0M122.5 489.1h0M134.2 442.0h0M130.5 445.8h0M105.9 492.0h0M106.8 489.2h0M95.3 454.5h0M103.3 487.0h0M94.9 489.4h0M97.2 518.8h0M173.4 465.3h0M99.0 448.6h0M90.6 457.1h0M184.8 461.9h0M156.5 459.0h0M119.1 521.4h0M124.9 522.8h0M96.2 520.1h0M133.3 437.7h0M103.5 480.4h0M94.6 475.5h0M87.2 482.2h0M120.2 519.5h0M108.3 438.0h0M117.9 484.5h0M129.0 512.2h0M120.4 487.0h0M119.2 489.2h0M90.7 444.8h0M90.7 454.1h0M85.0 508.5h0M97.4 444.8h0M82.5 478.5h0M122.2 445.8h0M108.5 497.6h0M84.2 490.0h0M117.5 434.5h0M84.5 518.5h0M94.1 451.4h0M83.9 463.4h0M113.6 485.8h0M85.9 479.0h0M120.5 440.2h0M87.6 451.9h0M113.9 447.1h0M162.1 458.9h0M103.8 465.6h0M97.6 476.1h0M93.2 458.4h0M100.2 468.0h0M119.1 454.7h0M128.6 456.7h0M127.2 500.1h0M108.8 443.5h0M117.7 447.5h0M155.7 466.0h0M106.0 438.2h0M180.0 458.5h0M104.1 495.4h0M112.8 436.4h0M94.7 477.8h0M86.9 459.5h0M113.7 453.9h0M92.2 480.7h0M143.5 456.7h0M104.2 508.3h0M128.2 517.3h0M162.9 468.1h0M123.3 523.0h0M118.8 448.5h0M182.0 469.5h0M83.8 469.8h0M119.8 508.5h0M116.8 485.0h0M104.6 455.9h0M88.7 447.9h0M83.2 460.7h0M137.7 445.0h0M96.1 479.5h0M115.4 449.8h0M135.8 439.8h0M111.9 512.2h0M79.5 485.9h0M135.5 438.9h0M86.1 514.1h0M88.5 480.6h0M81.7 503.8h0M81.9 460.1h0M111.4 438.1h0M121.6 443.1h0M123.5 485.3h0M114.1 449.3h0M78.0 511.4h0M175.6 474.3h0M99.0 442.2h0M88.1 486.2h0M105.3 441.0h0M94.3 496.1h0M90.7 514.0h0M91.1 446.5h0M89.7 483.9h0M145.8 456.1h0M102.2 483.8h0M105.3 484.4h0M113.2 482.8h0M115.8 526.6h0M81.8 495.5h0M111.9 508.1h0M106.7 467.2h0M101.0 450.1h0M87.9 491.7h0M130.3 449.4h0M185.8 459.0h0M107.0 438.1h0M112.9 483.5h0M80.5 516.1h0M129.2 449.3h0M100.9 461.4h0M112.3 511.9h0M136.4 452.9h0M96.3 448.1h0M97.9 518.6h0M107.8 524.7h0M112.0 451.8h0M126.7 444.8h0M80.4 476.4h0M117.3 448.0h0M83.3 460.2h0M90.4 475.4h0M120.9 484.3h0M95.8 474.1h0M89.2 449.4h0M149.5 458.6h0M124.4 455.3h0M99.3 517.9h0M85.4 481.3h0M116.4 487.5h0M121.6 445.7h0M110.3 485.9h0M111.6 485.2h0M103.0 485.0h0M95.8 473.7h0M127.6 440.4h0M84.6 516.2h0M92.5 448.7h0M94.8 450.0h0M112.4 519.4h0M85.7 472.0h0M119.7 450.1h0M87.0 455.0h0M89.6 505.8h0M132.0 453.0h0M90.0 509.0h0M117.1 441.2h0M115.4 515.9h0M91.2 484.6h0M82.8 478.6h0M113.2 458.0h0M103.1 460.3h0M82.2 467.6h0M127.7 507.8h0M151.1 453.8h0M141.7 444.7h0M163.3 462.9h0M104.3 488.4h0M117.2 458.8h0M99.3 462.0h0M130.6 515.8h0M110.2 487.8h0M138.7 444.6h0M93.6 472.2h0M90.9 498.7h0M120.1 525.2h0M100.7 468.0h0M131.7 443.6h0M147.1 451.2h0M126.7 505.0h0M99.1 454.6h0M92.5 475.7h0M113.5 526.0h0M116.0 449.8h0M145.0 457.8h0M101.8 479.7h0M120.3 519.0h0M79.4 485.8h0M133.5 444.5h0M146.4 451.4h0M96.6 494.2h0M114.9 484.1h0M101.3 467.7h0M103.1 450.3h0M178.6 460.1h0M85.6 452.4h0M123.5 486.6h0M144.4 451.5h0M105.7 487.3h0M94.6 453.4h0M101.0 523.1h0M88.8 492.5h0M80.1 498.9h0M82.3 478.5h0M107.0 497.7h0M107.3 450.4h0M82.6 518.2h0M125.1 509.3h0M84.0 479.3h0M90.7 502.6h0M91.3 515.8h0M90.3 449.3h0M92.8 482.4h0M138.4 441.4h0M89.5 490.3h0M86.2 468.7h0M195.7 464.1h0M136.5 444.6h0M100.5 487.2h0M90.5 496.2h0M129.6 514.6h0M102.7 462.5h0M185.9 464.9h0M98.0 510.3h0M128.1 440.0h0M130.7 443.1h0M100.3 442.3h0M84.8 496.6h0M96.2 485.3h0M142.7 447.6h0M120.8 444.5h0M99.9 484.5h0M89.6 456.4h0M107.2 520.1h0M102.8 450.2h0M145.9 449.9h0M87.3 486.3h0M86.0 521.3h0M81.0 476.4h0M99.9 486.6h0M127.3 523.8h0M102.8 479.5h0M120.5 511.1h0M140.5 445.5h0M123.4 447.8h0M118.3 499.3h0M120.8 438.3h0M108.0 484.7h0M101.0 479.2h0M105.6 489.4h0M135.5 455.8h0M83.0 484.8h0M86.3 476.9h0M103.0 438.1h0M114.7 489.5h0M86.1 480.0h0M82.8 481.8h0M88.4 485.7h0M105.5 455.3h0M84.5 479.5h0M113.0 484.4h0M186.4 467.0h0M88.6 507.2h0M136.3 449.4h0M87.7 521.3h0M127.3 438.7h0M90.2 470.5h0M175.0 466.3h0M111.7 443.4h0M114.1 445.6h0M180.9 468.0h0M81.0 497.6h0M80.7 498.2h0M124.1 497.8h0M111.3 467.4h0M96.6 466.2h0M119.6 452.1h0M95.0 479.5h0M93.7 443.9h0M132.1 446.1h0M133.2 455.0h0M121.4 497.7h0M93.2 466.5h0M122.4 440.6h0M104.0 479.7h0M97.7 503.7h0M97.0 485.7h0M144.0 453.9h0M83.0 478.8h0M107.6 484.4h0M119.3 447.3h0M107.0 505.2h0M119.1 486.7h0M122.5 516.4h0M104.2 481.0h0M125.2 504.4h0" stroke="#fee08b" stroke-width="2.50" stroke-linecap="round" fill="none"/>
<path d="M137.2 443.3h0M123.3 458.7h0M121.5 445.2h0M95.5 442.2h0M184.6 467.5h0M101.9 442.5h0M100.2 454.3h0M121.3 450.9h0M103.2 443.0h0M87.1 463.8h0M96.6 470.8h0M190.2 462.2h0M90.2 460.7h0M128.6 437.6h0M140.5 456.5h0M134.1 458.6h0M167.5 462.1h0M92.6 452.0h0M186.2 459.1h0M89.5 463.8h0M94.2 441.8h0M177.3 472.6h0M177.8 465.7h0M123.0 445.0h0M111.5 448.4h0M122.4 445.9h0M111.2 453.5h0M91.5 448.9h0M131.3 443.5h0M119.7 453.2h0M195.0 461.7h0M87.0 463.7h0M172.9 474.9h0M149.5 453.7h0M89.3 447.3h0M122.9 440.2h0M133.3 440.5h0M84.2 458.6h0M120.2 457.6h0M144.3 450.8h0M90.6 469.6h0M144.8 458.3h0M96.5 460.2h0M98.8 460.0h0M119.6 451.7h0M126.9 440.0h0M128.5 445.5h0M113.1 436.4h0M164.0 459.5h0M181.2 469.7h0M99.6 448.8h0M104.9 437.4h0M108.8 458.9h0M129.5 435.3h0M155.5 464.5h0M104.4 453.2h0M110.4 447.1h0M121.1 453.3h0M176.8 463.9h0M97.6 463.7h0M108.1 443.2h0M134.0 438.3h0M139.3 450.4h0M130.6 439.8h0M92.8 463.9h0M117.9 436.7h0M109.0 450.0h0M125.8 450.0h0M126.5 442.4h0M145.4 451.6h0M129.1 439.2h0M108.0 446.5h0M143.4 446.7h0M104.1 460.2h0M98.5 457.6h0M172.8 460.3h0M121.7 451.9h0M90.7 471.7h0M123.0 448.0h0M135.2 455.9h0M102.9 442.1h0M83.9 459.1h0M142.1 457.3h0M187.3 468.5h0M87.6 453.7h0M91.9 455.4h0M96.7 461.2h0M177.9 469.8h0M108.6 454.0h0M97.7 445.2h0M125.7 455.6h0M147.7 458.9h0M93.0 460.2h0M136.0 457.2h0M83.3 468.7h0M158.8 461.6h0M171.5 465.0h0M127.5 444.7h0M176.1 473.5h0M136.7 441.4h0M165.1 466.8h0M157.5 466.5h0M111.1 447.7h0M110.8 436.5h0M153.1 462.3h0M151.4 457.1h0M156.3 461.0h0M94.0 449.0h0M110.3 452.0h0M130.9 436.4h0M116.8 439.3h0M105.3 453.4h0M110.0 436.2h0M167.2 467.7h0M83.4 456.8h0M112.1 453.8h0M115.6 438.1h0M189.2 465.2h0M114.9 437.3h0M93.0 462.2h0M100.1 465.7h0M140.8 455.1h0M119.6 438.5h0M102.7 465.4h0M111.1 446.4h0M87.6 452.3h0M113.6 441.2h0M97.1 451.3h0M89.4 469.2h0M93.5 447.7h0M134.1 456.1h0M136.5 449.0h0M127.4 436.9h0M92.2 451.6h0M169.8 463.7h0M107.7 437.2h0M85.0 462.9h0M85.4 471.7h0M103.3 453.0h0M160.6 459.0h0M132.5 444.4h0M89.1 453.0h0M91.8 462.1h0M105.0 453.1h0M130.4 453.4h0M170.9 468.3h0M100.6 461.6h0M116.0 446.3h0M123.2 441.7h0M122.3 444.1h0M156.7 463.1h0M133.8 437.2h0M102.0 445.8h0M132.2 439.5h0M91.5 466.3h0M119.3 457.4h0M100.2 455.3h0M114.3 456.6h0M99.7 458.6h0M126.9 446.1h0M114.5 437.5h0M156.7 458.5h0M101.0 459.7h0M99.0 463.7h0M101.8 451.2h0M105.0 460.7h0M94.7 443.6h0M138.9 456.4h0M90.5 448.5h0M93.9 445.7h0M169.0 473.1h0M138.5 452.9h0M99.9 449.6h0M159.3 458.3h0" stroke="#66c2a5" stroke-width="2.50" stroke-linecap="round" fill="none"/>
<path d="M95.0 512.1h0M93.3 517.0h0M85.0 511.8h0M117.2 494.9h0M159.8 457.6h0M107.3 514.8h0M80.2 511.4h0M84.3 482.2h0M97.9 484.9h0M102.8 499.3h0M117.2 495.6h0M91.2 518.3h0M86.7 480.0h0M99.0 446.9h0M125.8 506.6h0M115.1 521.5h0M120.0 508.9h0M80.2 480.8h0M123.9 510.5h0M89.8 496.9h0M130.4 454.7h0M122.0 516.8h0M100.4 480.5h0M89.7 482.0h0M124.2 503.4h0M129.3 517.7h0M96.5 485.8h0M90.8 510.8h0M84.5 521.3h0M90.3 484.3h0M108.5 497.8h0M141.8 456.4h0M96.7 470.9h0M118.1 524.7h0M107.9 508.7h0M93.2 485.6h0M103.9 459.1h0M102.7 447.4h0M98.6 515.1h0M78.6 496.4h0M90.1 506.8h0M124.9 492.9h0M85.7 519.3h0M113.5 495.0h0M85.6 495.4h0M170.3 474.2h0M100.0 492.5h0M98.1 468.2h0M91.9 496.6h0M103.2 438.5h0M167.2 470.4h0M104.2 522.2h0M110.7 520.1h0M102.6 515.9h0M118.2 511.7h0M188.3 462.8h0M87.0 492.1h0M97.1 449.7h0M102.9 502.3h0M84.1 476.5h0M123.9 517.8h0M124.8 518.2h0M101.2 516.2h0M95.7 471.2h0M114.4 501.7h0M83.9 501.2h0M103.0 507.0h0M102.8 438.8h0M106.7 449.2h0M129.6 437.0h0M85.0 458.0h0M123.6 487.2h0M108.1 512.1h0M127.4 520.7h0M91.3 482.1h0M88.5 493.0h0M103.0 480.4h0M120.1 445.0h0M121.6 496.8h0M138.2 457.2h0M127.5 450.0h0M125.9 444.9h0M127.1 517.5h0M123.3 513.8h0M92.8 491.3h0M102.0 490.0h0M121.1 490.8h0M109.0 515.9h0M86.9 513.2h0M81.7 471.6h0M182.6 466.0h0M171.4 470.0h0M89.7 488.5h0M83.4 495.4h0M99.4 468.9h0M125.4 515.7h0M125.2 498.9h0M98.6 498.2h0M114.1 497.9h0M91.4 495.4h0M89.3 493.0h0M101.9 441.8h0M93.8 485.3h0M91.5 497.9h0M107.4 480.6h0M103.0 518.9h0M78.7 494.0h0M114.9 485.0h0M103.4 480.3h0M84.9 507.8h0M83.6 490.5h0M103.7 514.9h0M87.3 460.9h0M97.2 523.7h0M132.0 443.3h0M111.3 444.5h0M96.9 483.1h0M90.1 456.3h0M118.8 506.1h0M109.0 451.6h0M132.9 521.7h0M119.5 502.2h0M88.4 501.1h0M137.4 439.8h0M98.4 505.1h0M174.6 459.0h0M94.2 475.0h0M133.3 441.9h0M130.6 518.1h0M86.6 504.5h0M90.2 488.6h0M127.6 503.5h0M93.9 513.4h0M195.6 462.7h0M125.9 517.5h0M113.8 501.9h0M99.1 476.9h0M88.1 514.3h0M116.9 509.1h0M177.0 461.1h0M112.4 440.5h0M92.9 494.2h0M111.3 498.2h0M117.5 506.6h0M110.4 498.4h0M83.9 466.3h0M89.0 494.9h0M121.7 440.0h0M110.1 506.9h0M82.7 469.9h0M110.4 497.1h0M117.1 501.5h0M107.3 487.9h0M84.9 497.4h0M119.9 492.6h0M87.6 496.3h0M79.9 502.4h0M99.1 511.2h0M96.4 477.7h0M87.6 451.2h0M83.7 475.1h0M123.8 491.2h0M86.0 517.3h0M123.9 516.0h0M108.0 513.0h0M82.2 511.3h0M98.7 506.5h0M80.4 519.2h0M112.7 489.2h0M121.5 492.0h0M103.5 499.4h0M83.5 519.6h0M82.7 470.0h0M111.1 518.6h0M108.5 511.8h0M133.2 445.5h0M92.4 513.1h0M86.8 492.5h0M108.6 455.5h0M91.5 463.3h0M118.6 496.7h0M113.8 482.9h0M95.5 495.7h0M82.7 479.3h0M87.1 520.7h0M121.8 519.2h0M94.9 478.0h0M101.4 488.9h0M95.1 468.6h0M92.5 497.5h0M95.0 488.1h0M121.5 524.0h0M115.7 518.7h0M119.7 501.6h0M103.5 496.4h0M122.4 511.1h0M95.4 522.1h0M89.9 488.0h0M84.0 520.0h0M82.8 501.1h0M87.5 524.3h0M111.6 525.3h0M79.6 492.9h0M91.1 518.7h0M84.9 519.5h0M99.9 518.4h0M115.9 438.3h0M86.7 522.1h0M117.2 509.6h0M97.1 488.2h0M110.8 504.6h0M123.2 513.2h0M105.5 518.7h0M125.4 440.2h0M108.5 490.8h0M169.6 469.1h0M107.2 466.7h0M99.4 523.3h0M112.3 441.2h0M89.6 499.0h0M124.0 450.2h0M185.9 459.4h0M110.6 494.4h0M117.8 500.8h0M117.3 503.7h0M116.9 505.6h0M83.5 491.0h0M96.9 517.2h0M117.6 513.7h0M105.4 445.6h0M87.3 509.3h0M91.0 499.0h0M81.0 495.3h0M86.3 472.1h0M88.3 495.0h0M100.2 509.7h0M84.6 479.1h0M106.5 517.4h0M102.6 464.5h0M81.7 481.6h0M91.3 473.4h0M82.0 515.7h0M119.9 512.7h0M93.9 501.2h0M122.3 506.3h0M127.8 510.1h0M106.9 494.3h0M130.1 523.5h0M115.4 504.4h0M111.3 488.4h0M99.3 512.7h0M84.8 502.3h0M114.1 523.5h0M104.2 513.1h0M80.4 508.4h0M94.0 505.1h0M91.4 491.2h0M113.4 486.0h0M88.5 504.5h0M101.5 480.4h0M123.8 434.9h0M121.8 491.4h0M81.1 488.6h0M106.1 496.1h0M88.8 523.2h0M86.9 517.8h0M188.2 464.1h0M114.2 514.7h0M102.4 508.2h0M102.9 501.4h0M118.2 494.3h0M106.0 503.5h0M86.5 477.0h0M98.1 467.2h0M107.7 511.2h0M109.4 488.1h0M116.9 522.9h0M96.1 500.0h0M99.3 486.6h0M81.3 490.8h0M93.4 474.9h0M87.5 501.5h0M79.0 499.4h0M85.0 475.0h0M114.2 487.2h0M97.3 489.8h0M94.5 492.2h0M88.8 508.4h0M101.6 479.4h0M121.9 512.8h0M85.4 479.9h0M102.8 501.7h0M80.1 502.3h0M82.5 519.0h0M90.1 499.4h0M91.7 508.7h0M125.7 515.2h0M107.7 502.8h0M92.3 486.9h0M120.9 497.7h0M114.8 492.6h0M86.7 523.1h0M87.2 501.2h0M112.1 444.8h0M106.9 494.8h0M105.4 466.7h0M105.2 497.2h0M103.4 482.7h0M93.7 503.2h0M112.1 517.1h0M116.0 499.0h0M103.7 489.3h0M111.6 509.6h0M132.5 524.2h0M109.3 491.9h0M95.3 472.3h0M82.4 492.2h0M101.9 483.7h0M109.0 496.1h0M95.2 486.6h0M99.1 502.0h0M108.3 444.1h0M87.7 499.6h0M95.0 510.6h0M121.1 486.3h0M123.9 510.5h0M129.9 520.3h0M93.9 468.9h0M82.5 501.9h0M85.1 503.5h0M97.8 492.1h0M184.6 463.4h0M84.0 519.5h0M111.8 438.7h0M93.3 493.8h0M112.2 517.2h0M84.9 478.9h0M108.7 502.1h0M114.0 522.0h0M104.4 482.4h0M120.4 517.6h0M106.1 508.3h0M100.7 497.9h0M84.4 521.6h0M90.1 522.8h0M98.0 475.2h0M106.4 496.7h0M99.7 485.9h0M104.5 449.2h0M119.1 499.9h0M124.4 500.1h0M123.3 509.6h0M119.5 499.8h0M93.1 453.2h0M118.6 499.1h0M98.9 505.4h0M122.4 515.2h0M119.5 502.7h0M180.8 467.2h0M86.8 504.8h0M91.9 498.8h0M81.6 515.5h0M102.2 511.4h0M115.2 466.9h0M114.7 503.8h0M120.5 486.5h0M128.8 510.1h0M110.4 512.6h0M86.8 494.9h0M101.7 488.2h0M78.9 497.3h0M79.0 494.6h0M85.3 483.6h0M91.1 459.8h0M94.7 519.0h0M95.1 489.6h0M92.8 518.1h0M85.7 495.9h0M110.4 493.1h0M119.8 485.5h0M109.8 495.7h0M85.0 494.9h0M110.9 445.9h0M80.0 515.8h0M81.6 488.1h0M154.9 459.9h0M179.1 468.6h0M86.8 514.4h0M93.3 484.6h0M116.1 518.9h0M86.2 484.1h0M118.4 491.2h0M105.0 514.0h0M90.3 475.8h0M93.4 492.3h0M110.6 512.4h0M110.3 526.2h0M82.4 517.5h0M85.9 502.3h0M101.5 448.6h0M98.5 513.9h0M86.8 497.9h0M102.1 502.0h0M123.7 514.6h0M90.9 525.3h0M125.7 517.9h0M124.2 488.6h0M100.1 507.1h0M95.6 523.3h0M84.4 497.2h0M108.0 486.6h0M131.6 521.4h0M113.2 496.6h0M87.4 509.5h0M112.8 521.0h0M121.2 498.7h0M95.3 525.1h0M141.1 444.4h0M88.2 477.9h0M86.1 476.0h0M118.9 497.6h0M94.6 488.3h0M83.3 501.4h0M115.7 520.6h0M85.1 490.9h0M108.4 515.0h0M150.0 456.7h0M97.1 480.9h0M99.5 515.1h0M82.0 477.6h0M94.7 496.1h0M97.8 513.5h0M122.1 522.8h0M100.6 479.7h0M92.0 511.4h0M105.6 486.3h0M86.3 482.5h0M114.8 513.8h0M78.7 502.8h0M109.8 483.5h0M117.9 498.7h0M110.9 509.6h0M91.2 493.0h0M104.8 461.3h0M174.7 475.0h0M170.9 464.2h0M82.5 517.1h0M79.2 487.4h0M102.9 515.8h0M88.0 523.1h0M87.9 477.5h0M114.5 494.2h0M96.0 487.1h0M125.1 500.6h0M115.4 491.4h0M121.3 458.3h0M128.3 517.2h0M121.0 514.5h0M108.0 498.8h0M88.3 499.8h0M113.2 508.6h0M99.5 455.0h0M96.9 493.0h0M89.2 483.5h0M160.5 459.5h0M109.8 486.8h0M110.3 502.6h0M109.5 515.6h0M105.8 521.2h0M82.0 502.3h0M87.2 488.5h0M121.1 513.5h0M117.9 452.9h0M106.5 484.1h0M104.9 499.9h0M107.9 511.9h0M81.1 510.2h0M91.7 516.7h0M115.5 485.8h0M125.0 515.3h0M121.8 509.9h0M118.7 485.9h0M110.5 489.9h0M99.6 508.8h0M96.7 478.4h0M112.3 452.4h0M113.1 525.3h0M109.7 504.8h0M92.9 520.6h0M122.7 442.4h0M98.3 489.5h0M94.8 516.6h0M103.3 445.0h0M107.7 493.3h0M99.1 518.7h0M98.9 462.7h0M126.3 505.3h0M98.0 479.7h0M88.3 498.4h0M117.7 492.5h0M87.7 482.3h0M105.7 515.7h0M96.8 496.4h0M121.6 440.8h0M97.4 470.9h0M101.3 483.4h0M94.6 495.2h0M122.5 516.7h0M148.8 457.6h0M85.7 502.5h0M105.1 466.6h0M116.0 518.6h0M92.6 494.6h0M110.2 506.9h0M120.9 515.6h0M82.6 504.4h0M79.5 484.8h0M108.6 513.9h0M106.7 519.2h0M89.0 480.6h0M91.6 522.7h0M106.8 511.1h0M81.4 500.2h0M90.3 511.4h0M171.5 474.1h0M83.4 484.0h0M116.1 487.8h0M89.4 466.7h0M94.1 482.5h0M103.7 493.6h0M80.6 490.7h0M102.0 481.0h0" stroke="#fdae61" stroke-width="2.50" stroke-linecap="round" fill="none"/>
<path d="M91.1 478.7h0M127.6 448.7h0M84.5 465.1h0M96.4 450.0h0M82.0 474.5h0M132.1 455.2h0M86.5 479.0h0M143.9 454.1h0M176.2 467.5h0M102.8 452.3h0M82.6 460.2h0M94.4 462.2h0M98.9 489.4h0M98.1 443.1h0M117.4 443.3h0M87.1 458.9h0M101.4 448.5h0M190.1 459.6h0M147.4 458.4h0M92.0 466.1h0M117.9 485.9h0M155.5 462.8h0M122.3 439.5h0M87.8 449.4h0M129.4 459.9h0M135.0 463.8h0M120.2 454.4h0M106.6 466.7h0M103.2 440.4h0M152.8 454.8h0M95.4 461.4h0M118.2 442.2h0M131.6 436.4h0M148.6 451.7h0M139.9 463.8h0M82.6 463.3h0M104.4 464.2h0M86.6 468.3h0M111.9 452.7h0M131.4 450.3h0M95.5 465.0h0M134.6 441.0h0M133.3 442.9h0M160.6 463.3h0M100.9 440.9h0M115.4 465.0h0M110.5 459.7h0M88.6 451.6h0M132.4 453.3h0M147.8 458.2h0M110.9 464.9h0M118.5 455.9h0M89.4 477.1h0M115.6 451.4h0M105.8 452.1h0M138.5 444.9h0M130.4 453.5h0M183.6 459.7h0M109.4 442.7h0M111.6 443.4h0M114.7 457.8h0M119.8 441.0h0M98.4 450.8h0M111.8 444.9h0M188.1 468.7h0M91.1 455.5h0M90.5 449.7h0M124.3 455.5h0M169.6 477.8h0M98.1 451.5h0M114.5 455.7h0M88.0 448.5h0M173.5 467.4h0M134.1 455.0h0M167.1 470.7h0M128.7 443.1h0M139.6 450.9h0M106.0 459.5h0M83.3 456.9h0M93.9 488.7h0M125.9 459.1h0M101.7 453.2h0M115.3 449.0h0M82.9 474.8h0M88.4 465.4h0M122.1 442.8h0M115.5 458.7h0M112.2 460.6h0M103.4 442.1h0M94.3 484.5h0M125.9 463.6h0M81.5 483.7h0M106.7 439.4h0M140.0 447.2h0M82.0 460.9h0M146.8 457.4h0M93.6 475.6h0M138.1 441.4h0M97.9 445.0h0M115.2 462.7h0M181.3 461.6h0M166.4 459.5h0M189.3 459.0h0M98.7 469.2h0M102.0 466.5h0M102.1 486.8h0M134.1 462.6h0M161.5 458.5h0M81.1 478.6h0M132.0 460.5h0M130.5 436.8h0M80.6 467.6h0M91.7 448.3h0M135.0 437.6h0M142.8 445.5h0M100.1 445.5h0M113.4 486.4h0M89.9 460.1h0M136.5 449.4h0M105.1 457.9h0M143.0 451.5h0M94.8 453.0h0M127.2 450.9h0M93.7 459.5h0M116.2 464.3h0M170.2 462.7h0M101.2 459.0h0M123.0 453.6h0M113.8 438.8h0M133.6 462.2h0M101.8 465.0h0M112.5 452.7h0M91.5 489.2h0M105.7 445.8h0M134.2 451.1h0M105.0 489.4h0M109.3 485.8h0M124.6 442.2h0M100.4 454.8h0M183.9 459.4h0M124.3 489.4h0M107.8 454.5h0M126.8 449.0h0M101.5 465.1h0M177.2 472.1h0M133.4 444.6h0M84.6 481.8h0M103.3 482.2h0M119.8 441.6h0M137.6 450.7h0M138.1 442.5h0M145.1 448.3h0M97.2 457.3h0M147.9 463.7h0M83.8 480.0h0M99.3 443.6h0M184.6 466.4h0M114.7 451.9h0M87.3 458.1h0M136.1 439.2h0M172.6 466.1h0M111.3 445.2h0M86.2 463.8h0M142.5 445.8h0M183.6 462.3h0M137.7 464.7h0M119.2 452.9h0M102.9 459.2h0M120.3 452.9h0M126.0 461.0h0M119.5 445.3h0M86.8 454.6h0M97.1 484.3h0M106.9 454.6h0M105.1 443.7h0M83.3 468.5h0M117.6 443.8h0M103.6 460.9h0M129.4 446.2h0M136.6 465.7h0M136.0 456.1h0M109.7 444.0h0M126.4 458.6h0M115.9 442.0h0M123.1 464.1h0M94.2 475.6h0M108.8 447.2h0M127.6 445.6h0M120.1 445.2h0M106.5 465.7h0M129.6 440.3h0M116.3 438.3h0M127.9 436.4h0M137.2 449.6h0M161.8 466.6h0M118.7 465.2h0M139.4 461.3h0M86.6 466.5h0M92.7 454.5h0M99.6 454.7h0M97.1 465.1h0M85.7 488.9h0M103.1 456.6h0M182.2 470.4h0M110.6 452.2h0M112.1 440.1h0M91.8 467.2h0M80.1 487.7h0M143.1 456.2h0M171.6 463.8h0M128.0 448.0h0M112.6 438.1h0M160.1 466.2h0M89.4 450.8h0M93.8 448.8h0M124.7 456.0h0M83.2 464.0h0M151.7 453.7h0M135.0 465.9h0M127.4 450.0h0M88.8 474.2h0M94.0 467.2h0M118.2 436.9h0M128.4 463.3h0M95.6 453.7h0M161.4 466.9h0M80.6 489.4h0M86.0 467.8h0M122.4 463.9h0M109.0 461.3h0M117.1 457.5h0M183.8 463.5h0M106.5 459.7h0M117.1 448.8h0M90.3 469.8h0M97.0 480.2h0M98.6 445.3h0M178.8 460.5h0M116.8 486.3h0M107.6 444.6h0M119.2 457.1h0M170.8 459.9h0M101.1 488.1h0M97.3 453.9h0M80.2 477.8h0M98.1 478.0h0M179.6 464.5h0M133.4 450.7h0M131.6 436.1h0M117.5 441.7h0M138.0 456.0h0M189.5 461.1h0M173.5 462.2h0M107.2 452.7h0M165.8 459.3h0M134.7 455.6h0M135.6 440.8h0M96.6 473.0h0" stroke="#e6f598" stroke-width="2.50" stroke-linecap="round" fill="none"/>
<path d="M103.3 491.7h0M118.6 490.5h0M84.5 510.9h0M155.2 515.5h0M83.8 511.8h0M136.5 502.3h0M106.2 521.8h0M123.5 492.2h0M94.9 498.8h0M100.6 490.6h0M131.9 519.7h0M85.9 520.2h0M112.7 493.5h0M119.3 484.2h0M79.2 497.2h0M80.4 512.6h0M152.8 515.0h0M146.9 512.2h0M116.4 519.4h0M82.0 494.4h0M110.3 508.8h0M124.7 509.6h0M86.4 502.0h0M130.2 505.5h0M118.2 497.9h0M122.9 496.0h0M82.7 509.8h0M114.7 501.2h0M134.7 495.5h0M154.7 524.9h0M97.6 501.7h0M129.7 500.1h0M140.1 509.4h0M96.7 502.5h0M84.8 492.2h0M92.4 499.2h0M91.9 520.1h0M87.1 516.2h0M100.5 503.7h0M91.9 521.7h0M102.5 509.1h0M119.8 492.7h0M158.0 502.7h0M80.3 482.5h0M90.2 491.1h0M117.7 491.2h0M109.0 500.7h0M159.0 525.3h0M122.1 491.3h0M79.8 504.2h0M100.3 500.0h0M134.8 513.2h0M122.0 504.4h0M78.8 492.1h0M110.7 499.4h0M108.0 515.8h0M84.7 515.6h0M86.1 493.7h0M78.8 500.0h0M123.4 513.7h0M88.1 487.1h0M92.0 515.9h0M148.9 503.8h0M129.3 521.4h0M80.9 504.3h0M115.6 515.6h0M148.4 505.2h0M91.2 502.2h0M135.1 507.3h0M117.5 504.1h0M123.4 495.0h0M78.2 508.5h0M93.2 499.3h0M88.8 523.1h0M115.8 492.9h0M102.3 509.4h0M123.1 513.9h0M92.3 473.0h0M92.8 511.3h0M120.7 495.9h0M95.1 484.1h0M105.4 489.7h0M116.7 494.8h0M122.4 522.1h0M107.5 501.0h0M102.3 504.8h0M130.0 522.0h0M103.9 486.9h0M109.0 516.6h0M150.1 508.8h0M101.8 517.1h0M109.1 525.5h0M101.9 508.4h0M136.0 506.5h0M140.3 506.1h0M113.1 500.1h0M78.4 501.6h0M86.2 521.1h0M154.7 501.3h0M80.7 494.6h0M116.0 521.2h0M102.2 510.7h0M80.9 473.6h0M123.1 502.0h0M101.8 500.4h0M117.4 519.5h0M86.0 520.6h0M138.7 514.0h0M100.4 486.2h0M108.6 507.2h0M79.2 515.0h0M104.3 518.5h0M101.4 495.8h0M124.7 515.0h0M119.8 521.1h0M128.7 519.3h0M126.7 514.5h0M122.1 511.0h0M117.4 521.8h0M125.8 522.0h0M131.6 496.0h0M93.8 474.2h0M115.6 518.6h0M113.7 491.5h0M89.7 481.1h0M123.9 518.7h0M79.8 497.7h0M126.9 500.5h0M117.1 525.7h0M151.1 506.0h0M106.8 494.9h0M86.5 506.6h0M99.8 496.3h0M89.7 475.8h0M130.8 487.5h0M101.1 483.1h0M94.1 495.5h0M94.5 521.0h0M80.0 514.9h0M101.6 502.8h0M120.3 507.0h0M98.5 496.5h0M150.2 515.7h0M101.7 484.6h0M101.3 514.9h0M84.7 492.3h0M94.9 476.5h0M160.4 525.0h0M79.7 492.3h0M130.4 506.2h0M97.4 521.4h0M105.5 495.3h0M105.7 517.4h0M148.2 524.0h0M108.4 491.5h0M109.6 517.4h0M85.6 496.1h0M93.9 501.2h0M108.4 496.0h0M134.1 494.8h0M84.2 507.6h0M80.5 481.0h0M78.3 510.1h0M124.7 514.8h0M104.5 500.1h0M111.2 487.9h0M117.6 522.2h0M111.5 523.9h0M96.7 491.1h0M126.5 519.1h0M107.9 506.9h0M89.7 514.3h0M105.9 493.0h0M93.1 504.6h0M84.5 496.5h0M115.2 492.3h0M79.2 515.9h0M135.4 498.4h0M147.2 496.9h0M127.0 519.4h0M140.4 500.6h0M113.1 524.9h0M90.1 523.1h0M86.1 519.2h0M100.5 515.7h0M80.2 486.2h0M112.8 489.5h0M118.9 490.7h0M80.6 506.3h0M111.4 488.0h0M98.8 467.6h0M89.9 506.4h0M102.9 505.4h0M115.7 510.7h0M105.2 521.1h0M86.9 479.2h0M116.3 499.0h0M96.7 478.8h0M100.2 507.7h0M104.7 487.9h0M155.4 506.0h0M120.1 517.2h0M131.3 504.3h0M100.0 520.8h0M127.3 517.1h0M81.4 476.2h0M158.1 504.6h0M130.1 507.9h0M83.2 497.1h0M93.0 514.8h0M80.9 483.9h0M133.9 497.5h0M96.2 522.5h0M125.8 515.9h0M115.8 483.9h0M115.3 501.1h0M128.8 497.2h0M121.1 486.7h0M100.0 518.6h0M136.4 494.6h0M124.9 524.6h0M143.3 496.5h0M100.0 501.2h0M103.2 520.9h0M108.5 523.1h0M105.8 487.1h0M115.9 503.0h0M131.3 517.8h0M91.1 481.1h0M80.8 482.1h0M114.8 511.0h0M103.9 521.0h0M90.2 510.0h0M134.5 489.3h0M95.7 494.7h0M115.3 521.4h0M101.6 505.1h0M125.6 505.2h0M90.0 511.4h0M143.6 506.7h0M103.6 508.7h0M112.0 517.1h0M121.6 514.2h0M111.2 512.5h0M116.8 491.9h0M115.8 491.8h0M139.9 494.2h0M161.1 527.1h0M130.4 514.5h0M132.0 518.3h0M124.9 500.2h0M93.4 524.5h0M125.3 499.5h0M112.4 524.6h0M91.4 515.0h0M92.3 515.1h0M119.4 512.3h0M106.7 507.1h0M99.3 513.7h0M95.6 524.9h0M99.0 484.4h0M95.9 516.3h0M83.5 519.5h0M93.1 517.0h0M107.7 505.0h0M133.4 504.7h0M84.1 522.8h0M116.0 504.7h0M122.8 500.7h0M123.8 497.0h0M136.7 519.6h0M95.4 476.2h0M86.1 503.7h0M135.6 488.6h0M105.8 488.4h0M147.4 503.5h0M81.0 511.5h0M105.6 513.6h0M80.3 509.8h0M114.4 521.1h0M93.5 476.4h0M87.7 509.3h0M88.9 504.8h0M106.3 508.0h0M90.5 479.0h0M104.5 494.6h0M129.1 490.2h0M89.1 519.3h0M92.5 492.4h0M130.9 498.9h0M155.8 517.2h0M85.3 504.3h0M86.7 490.7h0M104.5 489.7h0M100.2 512.0h0M139.0 496.9h0M104.1 491.0h0M87.7 515.2h0M81.8 486.1h0M104.3 491.9h0M96.3 490.3h0M95.1 494.6h0M104.9 519.6h0M130.2 511.5h0M84.1 516.9h0M106.3 500.9h0M142.2 513.8h0M153.6 496.0h0M112.2 499.0h0M99.3 516.6h0M114.1 510.2h0M131.3 520.9h0M101.4 493.1h0M87.8 486.7h0M96.6 519.1h0M138.6 520.7h0M155.7 518.0h0M104.4 507.7h0M81.5 518.8h0M118.0 527.8h0M78.8 509.0h0M92.4 517.3h0M79.7 482.1h0M78.1 510.5h0M88.9 511.0h0M108.5 491.0h0M117.3 500.8h0M155.6 506.8h0M91.4 477.4h0M112.4 518.9h0M80.7 507.0h0M135.3 490.8h0M102.8 510.4h0M89.0 519.1h0M101.8 515.1h0M156.2 495.1h0M113.6 498.8h0M95.7 497.4h0M79.4 495.2h0M89.8 519.0h0M128.4 505.3h0M87.4 507.5h0M120.5 504.3h0M160.8 496.4h0M125.4 515.7h0M163.6 527.0h0M108.6 501.6h0M118.1 502.9h0M92.5 478.7h0M93.2 523.4h0M141.0 495.4h0M82.4 511.7h0M97.3 507.7h0M125.5 502.5h0M91.1 506.1h0M136.3 492.7h0M141.6 523.1h0M94.0 496.0h0M98.7 498.5h0M139.0 513.6h0M92.2 508.4h0M88.4 521.5h0M92.3 481.6h0M96.8 495.7h0M80.9 512.5h0M134.1 524.5h0M82.4 515.9h0M121.4 516.0h0M136.3 500.2h0M84.9 499.0h0M85.4 481.9h0M92.4 496.9h0M80.1 501.1h0M96.5 490.8h0M78.6 495.9h0M83.4 491.9h0M120.2 525.7h0M93.3 510.3h0M112.6 523.0h0M103.4 507.6h0M122.6 490.9h0M82.5 473.2h0M151.3 512.6h0" stroke="#f46d43" stroke-width="2.50" stroke-linecap="round" fill="none"/>
<path d="M144.4 493.0h0M118.8 522.9h0M84.1 511.7h0M160.1 498.2h0M171.2 479.4h0M83.8 506.9h0M114.6 436.1h0M123.8 462.3h0M106.4 501.0h0M153.1 506.3h0M113.2 524.5h0M80.8 491.6h0M126.2 499.7h0M165.5 483.4h0M156.0 456.8h0M157.7 489.0h0M121.6 513.0h0M123.9 493.6h0M149.6 499.9h0M132.0 453.7h0M101.0 500.6h0M105.8 490.7h0M157.7 496.3h0M113.5 464.3h0M98.9 521.5h0M122.2 459.5h0M149.1 513.5h0M159.1 526.5h0M151.3 504.9h0M153.8 512.2h0M96.5 465.9h0M115.5 461.8h0M132.7 499.9h0M154.2 493.7h0M95.6 472.3h0M114.6 457.6h0M119.4 484.7h0M148.2 519.6h0M159.5 525.8h0M117.2 510.1h0M97.2 490.3h0M143.5 510.0h0M120.6 509.2h0M134.8 496.1h0M134.3 508.8h0M153.9 515.4h0M106.0 497.2h0M155.2 496.5h0M103.5 522.3h0M165.5 465.8h0M155.3 465.8h0M120.9 490.6h0M127.1 496.1h0M110.0 485.9h0M142.3 496.1h0M141.1 492.0h0M121.7 503.3h0M145.5 516.1h0M107.5 461.9h0M111.9 485.9h0M130.7 503.2h0M139.3 515.5h0M179.9 473.4h0M146.2 493.3h0M89.6 510.0h0M146.9 524.4h0M132.7 515.4h0M174.8 478.4h0M149.4 454.1h0M81.4 519.4h0M129.4 489.1h0M81.2 502.6h0M135.5 512.0h0M107.3 512.0h0M81.7 488.8h0M153.6 513.2h0M156.9 526.4h0M153.2 463.3h0M136.7 493.0h0M146.2 510.9h0M81.1 510.1h0M144.4 497.2h0M114.0 459.4h0M157.9 525.9h0M156.5 523.8h0M125.1 491.3h0M107.3 439.7h0M134.3 522.1h0M87.2 495.6h0M140.7 490.9h0M155.4 458.6h0M139.7 496.9h0M153.4 460.0h0M101.1 504.0h0M120.8 519.6h0M171.9 477.3h0M95.6 475.9h0M91.9 523.7h0M109.2 509.0h0M163.5 464.4h0M146.9 494.0h0M112.4 490.5h0M121.8 510.2h0M110.6 483.3h0M144.1 510.4h0M92.9 476.6h0M151.9 505.3h0M148.4 518.5h0M135.5 488.7h0M121.2 494.9h0M108.5 458.0h0M99.1 455.0h0M96.1 511.2h0M120.4 504.8h0M135.9 444.2h0M86.7 518.2h0M160.2 494.7h0M106.6 462.1h0M153.5 463.6h0M91.2 459.8h0M128.4 494.6h0M92.0 524.9h0M83.7 498.6h0M166.1 482.7h0M103.3 524.3h0M99.7 500.7h0M136.6 462.8h0M161.1 490.7h0M111.2 494.4h0M122.1 524.9h0M93.3 498.5h0M146.1 510.8h0M137.4 495.0h0M91.7 494.8h0M86.7 493.5h0M85.3 512.6h0M147.4 493.2h0M172.5 469.2h0M110.5 459.9h0M135.7 522.6h0M109.1 502.2h0M126.9 465.6h0M143.4 521.3h0M95.3 513.5h0M86.7 507.4h0M92.9 516.1h0M118.4 490.2h0M159.1 494.1h0M87.1 506.7h0M83.8 515.0h0M91.2 522.6h0M131.2 462.0h0M88.2 459.9h0M150.9 523.7h0M142.3 511.9h0M136.2 518.7h0M89.3 510.2h0M120.9 448.9h0M149.1 493.9h0M78.4 498.6h0M130.5 517.1h0M166.5 489.6h0M131.6 513.2h0M149.3 515.6h0M165.9 489.4h0M80.7 511.1h0M124.1 487.7h0M151.9 516.1h0M94.3 484.3h0M108.0 525.3h0M127.9 517.9h0M130.5 487.2h0M156.2 497.3h0M94.3 458.6h0M122.5 442.5h0M125.5 488.2h0M90.6 508.4h0M103.7 493.6h0M137.1 493.1h0M96.6 479.9h0M126.1 520.1h0M93.4 486.5h0M118.9 526.8h0M103.1 519.6h0M137.5 508.5h0M120.6 508.6h0M89.5 516.5h0M149.0 497.1h0M153.5 506.2h0M145.2 496.7h0M130.4 520.5h0M113.2 503.9h0M180.8 470.3h0M164.5 467.3h0M166.0 491.8h0M93.1 482.3h0M93.8 486.6h0M120.9 523.3h0M159.2 461.0h0M135.5 499.0h0M155.7 495.9h0M145.0 512.9h0M150.6 524.0h0M136.3 514.2h0M184.3 463.3h0M155.7 493.5h0M152.9 522.6h0M139.8 494.9h0M162.6 492.2h0M116.3 463.3h0M158.4 520.2h0M125.0 501.0h0M113.3 509.0h0M105.6 508.3h0M190.5 463.9h0M128.9 513.0h0M170.1 468.2h0M164.7 458.6h0M102.8 495.1h0M137.3 507.7h0M169.3 478.3h0M110.0 464.0h0M113.7 516.9h0M119.6 438.2h0M121.9 502.1h0M136.4 513.5h0M120.5 487.6h0M111.9 496.8h0M86.0 507.9h0M127.5 520.9h0M94.2 522.9h0M100.1 504.0h0M153.0 455.3h0M110.2 459.7h0M146.2 497.6h0M91.0 507.3h0M160.4 521.1h0M103.7 517.9h0M105.1 481.3h0M99.6 490.7h0M131.0 463.4h0M131.6 490.8h0M175.9 473.6h0M165.8 483.3h0M91.4 506.4h0M123.8 507.8h0M150.7 459.1h0M85.0 515.3h0M163.1 527.7h0M122.7 511.8h0M81.4 514.9h0M97.7 516.8h0M87.2 516.9h0M134.0 441.4h0M120.8 466.1h0M111.9 509.6h0M167.4 482.1h0M132.1 518.1h0M143.0 516.9h0M131.3 493.6h0M88.8 476.7h0M125.1 465.2h0M140.9 462.2h0M161.9 492.5h0M107.3 500.6h0M112.0 486.3h0M91.0 500.7h0M146.7 505.1h0M116.4 501.9h0M112.8 483.3h0M152.2 490.8h0M116.8 501.1h0M154.0 519.8h0M160.2 520.1h0M146.7 456.4h0M90.9 503.4h0M149.9 524.0h0M81.8 462.1h0M176.1 467.0h0M112.6 506.5h0M142.9 464.1h0M122.3 516.1h0M91.6 513.1h0M106.4 488.3h0M173.5 467.8h0M163.7 489.9h0M125.1 518.6h0M175.9 465.3h0M159.9 527.4h0M112.7 525.8h0M139.2 496.0h0M134.2 506.1h0M133.6 521.5h0M132.0 520.1h0M85.9 483.6h0M97.4 492.6h0M79.8 485.7h0M112.6 523.7h0M140.2 458.6h0M102.7 522.6h0M102.0 457.2h0M118.6 455.5h0M91.9 451.6h0M113.0 495.1h0M88.7 457.9h0M148.1 492.0h0M86.8 496.3h0M79.0 507.0h0M169.1 478.3h0M135.3 516.6h0M87.8 472.3h0M121.1 440.4h0M91.2 477.6h0M80.2 503.7h0M177.6 475.8h0M89.2 450.4h0M118.9 459.6h0M154.4 527.6h0M153.4 504.4h0M87.4 496.6h0M96.6 490.7h0M123.0 525.3h0M155.8 494.2h0M96.8 510.9h0M141.1 510.1h0M149.7 497.0h0M81.3 502.2h0M121.7 518.4h0M87.0 480.5h0M97.2 516.9h0M94.7 481.4h0M127.2 464.3h0M169.4 466.2h0M85.7 491.8h0M121.7 493.0h0M93.8 447.4h0M131.7 490.2h0M118.9 462.7h0M150.1 491.7h0M108.3 436.4h0M114.9 501.5h0M86.5 523.9h0M150.8 520.1h0M115.8 493.4h0M105.6 513.6h0M95.3 503.8h0M96.6 488.8h0M106.9 503.8h0M120.5 440.3h0M101.4 508.4h0M138.8 512.6h0M89.1 513.7h0M100.9 492.2h0M128.9 486.4h0M169.5 484.6h0M159.4 497.6h0M104.7 488.2h0M181.2 470.5h0M130.3 486.5h0M125.8 458.8h0M110.1 462.1h0M135.0 499.0h0M168.4 475.5h0M134.3 512.5h0M148.6 509.6h0M138.2 503.8h0M141.2 520.5h0M129.5 437.6h0M112.0 466.6h0M166.2 490.4h0M131.9 487.6h0M84.5 492.5h0M131.8 488.5h0M138.9 495.6h0M81.9 501.7h0M130.5 490.6h0M107.0 518.1h0M94.7 519.3h0M153.7 500.2h0M93.5 481.6h0M126.9 493.7h0M121.4 511.0h0M94.6 510.8h0M143.2 497.6h0M152.8 523.0h0M150.6 493.0h0M103.4 462.8h0M101.1 455.7h0M166.6 479.9h0M129.9 494.1h0M150.2 524.1h0M98.0 511.4h0M86.9 516.3h0M84.5 506.1h0M110.4 501.8h0M108.8 519.8h0M138.3 516.3h0M131.6 492.3h0M94.4 483.1h0M123.2 514.1h0M166.9 490.5h0M93.8 495.1h0M110.2 436.9h0M161.0 488.0h0M146.1 522.9h0M97.5 523.2h0M154.0 497.3h0M131.7 503.6h0M162.3 495.3h0M159.8 498.3h0M91.1 456.0h0M163.5 492.9h0M162.5 522.5h0M117.6 526.6h0M149.2 515.4h0M90.0 453.1h0M118.3 462.0h0M149.8 517.4h0M169.4 477.0h0M157.9 524.8h0M153.5 520.8h0M101.4 490.7h0M124.2 509.0h0M115.0 466.5h0M113.2 459.9h0M98.2 490.3h0M166.5 469.4h0M90.0 499.7h0M117.4 440.0h0M139.2 502.7h0M121.8 466.3h0M98.0 498.6h0M155.9 522.8h0M152.2 519.2h0M103.3 510.6h0M169.9 486.0h0M160.9 495.1h0M162.2 487.0h0M155.0 455.7h0M149.4 520.8h0M149.9 496.3h0M130.6 492.2h0M130.0 515.7h0M140.1 460.9h0M133.0 503.9h0M137.8 523.9h0M185.8 467.5h0M131.6 514.2h0M147.3 459.1h0M132.2 511.7h0M114.0 495.2h0M112.5 460.3h0M153.4 494.2h0M151.2 524.5h0M102.0 523.0h0M126.4 500.6h0M110.8 503.4h0M159.9 489.9h0M147.2 502.6h0M144.7 464.3h0M157.4 524.8h0M109.5 512.5h0M120.0 461.2h0M125.1 498.1h0M91.4 503.3h0M108.9 503.6h0M88.1 491.1h0M91.2 510.2h0M125.1 500.4h0M159.9 488.6h0M135.7 459.2h0M120.4 504.5h0M131.4 486.9h0M102.8 480.6h0M122.8 514.8h0M101.5 520.8h0M142.0 496.6h0M114.1 495.0h0M125.2 457.6h0M162.0 465.1h0M145.0 501.4h0M104.9 453.6h0M145.8 492.3h0M125.9 465.6h0M93.2 447.9h0M141.3 492.3h0M88.8 482.6h0M145.1 501.8h0M128.7 499.7h0M119.9 484.7h0M153.5 495.9h0M83.0 510.3h0M139.9 509.4h0M83.0 491.7h0M131.8 518.8h0" stroke="#d53e4f" stroke-width="2.50" stroke-linecap="round" fill="none"/>
<path d="M98.2 448.7h0M122.2 456.2h0M107.7 460.4h0M141.7 459.0h0M136.7 453.5h0M110.5 449.1h0M86.2 471.7h0M87.8 452.0h0M96.2 465.4h0M112.3 444.7h0M107.1 453.2h0M114.1 445.9h0M100.9 455.5h0M118.0 460.5h0M83.3 467.5h0M104.8 450.2h0M115.3 441.9h0M169.0 459.7h0M173.6 466.0h0M135.0 457.4h0M85.9 469.1h0M172.0 462.4h0M140.1 461.2h0M84.7 456.7h0M119.9 449.0h0M133.6 450.2h0M88.8 447.7h0M131.5 444.7h0M99.4 462.9h0M97.9 440.4h0M101.0 450.1h0M88.5 454.7h0M184.5 470.2h0M191.6 459.3h0M132.1 458.9h0M121.7 439.0h0M91.8 450.5h0M138.5 465.4h0M172.1 464.6h0M101.9 452.2h0M135.6 441.9h0M172.2 462.9h0M117.6 446.4h0M169.3 477.6h0M97.5 460.8h0M104.8 446.3h0M122.0 448.9h0M186.3 461.3h0M87.2 462.5h0M180.7 467.8h0M119.0 434.4h0M119.8 458.5h0M100.3 438.8h0M130.0 441.4h0M127.2 459.0h0M109.5 444.8h0M103.1 443.1h0M120.8 457.1h0M121.7 456.8h0M97.1 457.4h0M111.9 448.5h0M115.8 446.7h0M135.9 450.3h0M109.4 449.4h0M138.7 458.0h0M89.5 449.2h0M131.1 442.0h0M93.1 462.2h0M143.7 450.5h0M139.0 458.8h0M128.1 448.3h0M118.5 442.2h0M114.4 442.2h0M107.4 451.1h0M101.7 455.2h0M110.0 452.2h0M81.9 460.7h0M117.6 444.5h0M103.3 442.3h0M96.3 448.1h0M107.4 436.5h0M103.6 447.7h0M94.5 465.5h0M140.5 459.3h0M128.7 460.7h0M141.7 450.8h0M132.8 456.0h0M95.0 461.7h0M118.4 436.7h0M189.7 464.9h0M173.5 460.6h0M110.6 455.7h0M117.9 452.5h0M189.3 459.5h0M132.1 437.8h0M114.6 459.7h0M122.6 436.8h0M113.5 437.1h0M86.7 460.7h0M106.6 464.0h0M94.2 465.1h0M115.2 440.8h0M153.8 462.8h0M120.6 463.4h0M130.3 436.2h0M123.1 435.5h0M105.2 455.3h0M108.2 448.8h0M125.8 436.1h0M146.0 462.6h0M93.3 454.5h0M98.7 450.6h0M185.0 460.1h0M181.9 460.0h0M127.8 465.6h0M92.9 454.1h0M189.1 461.0h0M176.5 471.7h0M183.2 468.0h0M112.3 453.4h0M107.8 465.1h0M160.9 461.9h0M156.8 457.2h0M95.7 443.1h0M94.5 456.3h0M123.8 449.5h0M147.6 454.3h0M90.9 446.5h0M129.8 462.5h0M89.2 451.3h0M92.7 451.7h0M161.4 460.3h0M116.4 446.8h0M94.9 451.1h0M99.8 445.8h0M97.1 442.5h0M93.0 461.8h0M117.9 435.0h0M110.9 459.4h0M127.8 444.0h0M103.8 454.5h0M93.2 448.9h0M111.4 453.7h0M107.5 445.0h0M135.0 446.8h0M135.3 448.5h0M107.5 464.9h0M163.0 461.8h0M114.1 435.4h0M123.9 450.7h0M140.3 448.9h0M89.6 455.8h0M140.6 451.1h0M155.6 461.9h0M122.1 457.0h0M102.9 461.3h0M172.9 464.3h0M93.1 460.3h0M126.9 466.0h0M126.7 464.1h0M139.9 464.6h0M124.6 443.9h0M89.3 462.4h0M120.8 459.4h0M91.2 461.8h0M148.3 455.5h0M140.8 463.0h0M119.9 448.8h0M140.1 455.2h0M126.4 460.5h0M108.6 436.0h0M91.4 463.9h0M88.2 462.0h0M94.0 453.2h0M177.8 468.7h0M109.8 444.3h0M110.0 455.3h0M93.0 470.5h0M111.9 443.9h0M144.9 455.0h0M96.5 449.2h0M124.8 448.1h0M96.5 454.5h0M99.2 454.4h0M134.4 452.9h0M98.5 447.7h0M123.0 448.9h0M89.9 449.6h0M84.4 466.0h0M105.8 458.5h0M194.8 464.6h0M99.9 455.0h0M135.8 441.2h0M99.8 457.5h0M121.1 444.5h0M97.9 460.0h0M102.1 439.5h0M173.1 463.4h0M114.0 457.4h0M114.8 442.7h0M136.7 444.8h0M90.2 454.8h0M113.3 463.1h0M130.9 456.9h0M109.2 460.3h0M109.8 459.2h0M101.5 443.0h0M104.0 463.9h0M115.2 454.9h0M143.5 450.4h0M105.2 463.1h0M164.6 459.7h0M103.6 452.8h0M172.7 471.5h0M105.1 465.7h0" stroke="#abdda4" stroke-width="2.50" stroke-linecap="round" fill="none"/>
<path d="M113.7 442.1h0M171.6 468.7h0M186.8 460.9h0M174.4 465.1h0M91.1 455.5h0M165.1 490.3h0M166.6 483.8h0M153.0 458.7h0M123.5 445.4h0M152.9 462.6h0M191.2 466.5h0M168.3 473.5h0M163.1 458.0h0M173.8 473.8h0M174.9 471.1h0M166.5 487.6h0M180.4 470.1h0M191.2 459.9h0M93.8 456.0h0M172.9 475.5h0M142.2 494.1h0M177.5 475.7h0M168.0 460.0h0M157.6 459.0h0M159.6 457.6h0M170.4 481.5h0M131.6 436.8h0M123.2 449.6h0M103.6 454.6h0M185.0 463.2h0M129.7 451.3h0M107.2 454.5h0M110.8 443.7h0M174.0 470.3h0M172.0 465.1h0M166.7 464.4h0M131.7 436.8h0M127.5 449.6h0M160.6 464.6h0M185.3 459.1h0M163.3 491.0h0M136.2 439.2h0M167.2 488.5h0M113.6 435.2h0M157.6 491.2h0M101.5 464.6h0M125.1 444.2h0M170.9 478.9h0M187.1 467.5h0M92.3 457.6h0M150.4 491.2h0M150.9 464.5h0M88.1 465.1h0M132.7 447.3h0M175.6 476.8h0M151.1 458.0h0M105.1 452.4h0M187.7 465.5h0M172.6 470.8h0M173.0 468.7h0M130.6 439.0h0M181.2 462.7h0M124.1 446.8h0M105.6 453.7h0M97.9 462.5h0M138.1 441.8h0M105.7 437.2h0M162.3 464.9h0M179.0 461.6h0M159.9 463.6h0M119.4 435.1h0M163.9 464.6h0M180.0 468.6h0M180.8 466.1h0M164.2 486.4h0M188.8 461.3h0M178.5 465.1h0M134.8 455.0h0M181.9 466.8h0M120.4 438.7h0M142.1 451.0h0M155.5 493.0h0M160.5 458.6h0M157.1 458.0h0M164.9 485.6h0M134.6 441.3h0M167.6 481.4h0M143.4 490.7h0M180.9 466.0h0M166.4 492.8h0M84.7 457.0h0M106.1 447.0h0M161.5 466.0h0M102.2 461.6h0M170.8 464.2h0M167.8 459.3h0M170.9 462.1h0M142.4 489.9h0M127.9 440.1h0M152.3 491.7h0M98.9 444.7h0M159.6 488.0h0M146.0 457.4h0M169.3 471.4h0M176.3 471.3h0M181.0 463.7h0M166.8 481.4h0M178.6 468.4h0M157.0 462.3h0M111.1 446.4h0M154.7 456.9h0M106.1 448.7h0M92.8 465.9h0M106.2 452.6h0M153.4 464.8h0M195.2 461.9h0M126.1 450.6h0M112.5 435.4h0M164.4 492.7h0" stroke="#5e4fa2" stroke-width="2.50" stroke-linecap="round" fill="none"/>
<path d="M180.5 462.2h0M193.0 463.6h0M122.1 456.5h0M85.5 462.2h0M159.9 461.0h0M171.7 469.3h0M183.8 458.1h0M181.0 468.0h0M135.5 438.1h0M171.6 476.4h0M168.4 467.8h0M173.7 475.5h0M124.0 447.2h0M177.7 463.0h0M186.3 459.3h0M91.1 460.9h0M123.6 451.4h0M151.4 458.9h0M149.3 455.8h0M112.5 458.4h0M121.6 451.0h0M125.4 458.3h0M167.3 470.8h0M169.8 472.2h0M114.4 440.6h0M94.5 456.4h0M126.0 458.0h0M126.8 442.8h0M164.0 462.3h0M89.5 466.3h0M193.5 467.1h0M185.2 469.0h0M174.5 476.3h0M84.2 460.2h0M183.9 462.3h0M83.1 471.0h0M174.7 469.4h0M123.4 451.9h0M176.4 473.7h0M115.4 436.0h0M145.4 458.1h0M150.9 459.9h0M109.2 442.6h0M96.6 467.9h0M131.7 438.6h0M113.5 453.7h0M187.1 469.3h0M185.6 468.4h0M163.0 467.6h0M167.1 460.1h0M121.8 440.6h0M123.0 450.1h0M180.0 465.6h0M180.7 459.6h0M102.7 439.6h0M110.9 443.4h0M167.4 466.8h0M122.3 442.8h0M183.4 461.5h0M165.4 466.5h0M179.2 458.9h0M89.8 470.8h0M175.6 464.4h0M102.2 446.4h0M88.7 468.0h0M92.7 458.4h0M83.5 456.4h0M154.8 458.9h0M114.6 447.4h0M86.4 450.4h0M188.9 459.4h0M172.6 476.7h0M154.9 463.3h0M101.8 446.8h0M169.6 472.2h0M131.8 452.7h0M122.5 446.9h0M159.6 463.2h0M185.0 468.2h0M152.8 465.8h0M160.7 466.7h0M96.2 458.0h0M144.3 453.7h0M179.9 466.2h0M102.9 463.4h0M173.2 470.0h0M166.4 459.5h0M136.1 445.0h0M99.5 452.0h0M85.6 471.1h0M153.3 463.9h0M191.5 462.5h0M113.1 451.0h0M168.3 464.1h0M183.4 458.8h0M121.4 439.8h0M180.0 470.5h0M113.2 458.3h0M183.9 462.6h0M154.2 458.5h0M118.6 442.5h0M129.2 436.7h0M193.0 460.8h0M182.5 466.1h0M100.2 462.5h0M112.8 455.1h0M124.3 443.3h0M173.4 470.8h0M161.8 466.9h0M163.7 459.3h0M89.0 457.1h0M169.7 461.4h0M104.9 462.7h0M175.5 464.6h0" stroke="#3288bd" stroke-width="2.50" stroke-linecap="round" fill="none"/>
<path d="M250.7 499.2h0M295.7 503.0h0M296.8 458.9h0M315.7 524.9h0M310.5 515.0h0M250.8 449.9h0M236.2 474.3h0M278.3 491.9h0M263.8 466.4h0M249.9 442.2h0M304.8 499.5h0M269.8 521.0h0M241.4 463.7h0M248.8 462.1h0M276.8 516.3h0M254.9 480.2h0M306.6 504.5h0M236.2 494.0h0M284.2 517.2h0M287.7 499.5h0M309.1 522.4h0M297.3 499.9h0M253.4 489.1h0M255.7 482.1h0M236.9 509.4h0M260.5 496.8h0M246.4 465.9h0M301.4 511.7h0M276.8 498.0h0M279.7 492.6h0M308.0 493.1h0M290.0 463.6h0M282.0 495.7h0M244.9 451.9h0M299.7 514.9h0M261.2 466.5h0M238.9 456.6h0M274.6 449.0h0M257.4 501.9h0M252.1 497.7h0M238.3 476.2h0M278.7 517.3h0M279.6 517.7h0M302.0 523.9h0M317.3 493.6h0M327.1 476.2h0M276.8 504.0h0M245.8 448.8h0M301.7 516.6h0M235.6 518.9h0M278.4 486.9h0M310.5 526.2h0M263.1 486.7h0M236.2 493.3h0M308.9 512.7h0M287.1 510.3h0M301.3 510.4h0M301.3 503.6h0M246.2 450.4h0M313.2 525.3h0M240.4 477.4h0M266.4 522.1h0M261.9 439.7h0M278.2 513.3h0M252.1 485.3h0M265.8 463.4h0M275.5 519.1h0M280.3 515.2h0M316.5 521.0h0M263.8 508.6h0M249.2 498.1h0M320.9 486.2h0M246.6 472.7h0M285.3 453.4h0M276.8 448.8h0M268.8 497.5h0M275.4 495.5h0M259.9 489.4h0M256.8 504.4h0M284.1 492.3h0M275.2 504.4h0M239.1 507.3h0M234.1 496.6h0M263.7 525.0h0M315.6 494.3h0M291.0 506.0h0M252.9 450.7h0M284.2 454.4h0M303.0 511.5h0M273.6 505.7h0M287.8 521.1h0M242.7 471.7h0M274.3 501.8h0M281.1 486.8h0M257.8 523.8h0M276.4 450.9h0M232.6 501.2h0M240.9 493.2h0M299.8 520.9h0M279.2 455.4h0M259.0 453.1h0M241.2 481.0h0M277.0 462.4h0M298.6 520.7h0M268.5 501.5h0M236.4 478.0h0M283.6 443.1h0M281.6 514.0h0M243.8 449.1h0M276.9 510.5h0M272.2 506.1h0M265.0 498.0h0M286.1 461.9h0M306.2 523.2h0M270.3 518.0h0M291.2 518.2h0M270.0 449.0h0M234.1 501.9h0M300.0 507.3h0M248.7 484.0h0M255.8 514.4h0M249.0 475.2h0M315.7 524.4h0M300.5 451.5h0M275.2 486.7h0M258.0 499.1h0M242.4 464.9h0M257.6 519.1h0M238.5 507.2h0M238.5 489.7h0M252.4 444.9h0M265.9 487.6h0M272.3 521.7h0M268.5 482.6h0M290.2 498.3h0M259.6 452.3h0M267.9 503.5h0M292.8 503.6h0M276.6 518.7h0M276.5 451.8h0M245.1 471.5h0M315.6 492.9h0M304.6 495.2h0M291.6 522.5h0M247.5 482.0h0M292.7 459.1h0M282.1 499.7h0M278.2 451.7h0M237.0 500.7h0M233.8 492.5h0M308.1 522.0h0M318.0 491.8h0M296.9 495.3h0M255.0 515.2h0M270.6 438.2h0M273.7 490.4h0M272.0 509.2h0M274.6 508.1h0M257.3 494.8h0M272.5 500.4h0M271.7 505.2h0M275.2 487.3h0M272.3 513.2h0M295.4 520.7h0M282.4 520.4h0M252.1 445.1h0M266.6 511.7h0M240.6 471.9h0M248.0 459.3h0M254.6 507.2h0M310.7 505.6h0M245.3 506.9h0M302.9 458.8h0M285.1 522.9h0M270.1 504.0h0M315.7 525.8h0M245.8 488.9h0M236.1 459.9h0M276.6 491.0h0M268.9 514.2h0M272.9 493.9h0M285.9 500.4h0M270.0 500.7h0M262.3 510.8h0M283.7 496.8h0M296.0 510.1h0M250.5 499.6h0M241.8 501.1h0M233.1 499.0h0M298.1 516.4h0M239.2 474.8h0M268.9 486.8h0M304.6 496.5h0M319.5 525.0h0M270.5 526.0h0M234.3 501.9h0M296.0 462.1h0M280.6 514.8h0M246.6 486.6h0M245.5 480.9h0M235.0 481.8h0M271.5 500.7h0M266.9 453.3h0M323.5 483.1h0M259.9 466.5h0M305.1 523.5h0M258.1 508.3h0M287.9 514.6h0M253.6 501.6h0M262.9 444.0h0M281.6 444.7h0M316.5 526.5h0M266.6 507.6h0M236.8 501.5h0M305.2 509.8h0M314.6 523.7h0M238.2 518.9h0M243.5 449.4h0M247.7 493.4h0M267.0 524.0h0M245.8 514.5h0M315.3 526.8h0M289.2 505.7h0M258.9 482.1h0M251.9 492.3h0M266.2 484.9h0M261.3 506.7h0M259.0 449.1h0M253.3 505.0h0M267.4 465.5h0M286.9 452.9h0M283.7 509.6h0M256.2 487.9h0M278.1 460.9h0M307.4 504.0h0M241.1 454.5h0M292.0 501.7h0M290.6 491.1h0M312.6 501.5h0M236.4 467.4h0M241.7 496.2h0M311.1 493.9h0M249.5 489.2h0M240.0 495.5h0M247.9 476.2h0M251.2 510.5h0M296.2 509.7h0M285.6 515.3h0M248.0 472.0h0M241.1 514.0h0M243.4 518.8h0M315.4 523.8h0M262.9 436.4h0M315.3 496.7h0M299.4 508.2h0M259.6 513.6h0M244.7 475.6h0M316.8 523.1h0M247.8 491.9h0M281.6 504.6h0M281.3 458.4h0M268.8 435.4h0M301.8 508.5h0M255.9 508.0h0M233.6 485.5h0M270.8 461.8h0M258.8 491.5h0M314.9 526.3h0M289.5 510.6h0M278.5 514.1h0M277.5 505.1h0M295.7 451.0h0M249.5 494.2h0M280.5 517.4h0M259.5 519.1h0M269.6 483.8h0M264.7 462.0h0M323.9 475.2h0M303.8 509.1h0M297.3 513.3h0M260.2 487.0h0M267.8 496.2h0M236.1 501.3h0M234.2 498.5h0M276.0 498.3h0M288.8 437.1h0M286.8 490.2h0M327.8 484.2h0M253.4 444.7h0M249.0 488.0h0M244.6 449.2h0M272.7 527.2h0M257.9 462.6h0M291.2 444.9h0M281.7 513.2h0M322.1 479.7h0M293.5 441.3h0M243.6 462.3h0M266.7 440.1h0M316.5 495.5h0M253.9 451.9h0M243.8 490.0h0M298.2 456.0h0M303.5 455.4h0M255.1 479.4h0M313.2 491.7h0M282.9 448.0h0M304.2 491.5h0M275.6 444.5h0M265.6 509.2h0M309.3 497.0h0M287.0 492.5h0M268.2 498.4h0M293.6 514.0h0M269.2 493.8h0M250.4 486.8h0M307.6 501.6h0M291.0 504.7h0M242.6 499.4h0M269.0 456.5h0M292.8 498.2h0M321.9 490.0h0M288.6 496.8h0M264.2 515.1h0M316.2 496.1h0M294.3 502.3h0M291.0 502.0h0M273.1 498.9h0M272.9 436.9h0M269.2 437.5h0M272.9 502.5h0M272.6 452.8h0M303.0 498.9h0M262.6 484.4h0M290.5 455.7h0M237.2 484.5h0M270.2 485.5h0M292.8 523.4h0M312.6 501.8h0M286.6 513.7h0M287.2 511.3h0M315.0 522.5h0M306.4 524.0h0M253.2 498.1h0M261.1 459.6h0M299.7 500.0h0M242.7 521.0h0M242.9 506.8h0M274.8 461.1h0M258.0 506.3h0M279.9 497.7h0M245.7 502.9h0M242.6 498.0h0M282.2 438.7h0M280.0 500.0h0M290.7 459.0h0M260.3 515.2h0M275.2 504.1h0M291.3 499.9h0M248.1 443.9h0M293.9 456.3h0M323.2 480.7h0M272.2 441.7h0M275.7 515.1h0M302.7 520.4h0M247.6 509.8h0M237.2 478.6h0M243.1 482.3h0M320.5 486.6h0M244.7 511.0h0M234.7 490.4h0M286.7 518.3h0" stroke="#e6f598" stroke-width="2.50" stroke-linecap="round" fill="none"/>
<path d="M257.1 509.2h0M249.4 511.7h0M238.3 511.3h0M238.8 510.5h0M261.0 500.6h0M267.3 493.1h0M233.4 496.8h0M292.2 501.5h0M304.3 513.0h0M263.1 497.4h0M262.5 508.2h0M310.5 496.1h0M256.0 511.8h0M253.0 514.6h0M246.8 498.8h0M246.2 519.6h0M241.4 515.7h0M254.4 492.1h0M303.9 506.8h0M257.1 515.4h0M314.4 524.7h0M313.8 521.4h0M243.9 509.6h0M255.7 515.7h0M269.1 501.3h0M232.9 491.8h0M299.5 496.8h0M275.9 490.5h0M270.5 492.6h0M299.8 520.1h0M276.6 509.7h0M243.6 492.7h0M250.5 510.7h0M232.9 493.7h0M248.2 509.2h0M295.4 505.7h0M287.4 509.1h0M247.5 516.4h0M260.8 515.1h0M285.6 517.6h0M292.5 494.7h0M239.6 512.1h0M270.7 520.7h0M256.7 510.3h0M248.3 512.9h0M291.9 514.1h0M263.7 501.8h0M249.7 513.0h0M233.3 514.5h0M299.1 509.3h0M242.4 513.9h0M271.6 508.7h0M241.4 506.3h0M318.7 490.7h0M238.0 514.5h0M316.3 522.4h0M278.8 518.2h0M271.9 525.2h0M306.5 502.1h0M241.9 496.0h0M248.5 495.1h0M234.2 514.4h0M283.3 494.5h0M234.9 510.7h0M240.2 516.8h0M305.4 492.7h0M263.0 491.1h0M237.7 519.1h0M264.2 516.9h0M238.8 518.0h0M249.9 495.3h0M244.0 513.8h0M309.8 508.2h0M246.8 497.1h0M238.7 496.1h0M291.4 513.7h0M241.8 523.7h0M307.8 496.0h0M281.9 518.8h0M294.8 494.5h0M245.4 518.2h0M283.1 516.8h0M240.3 518.7h0M260.1 507.9h0M310.3 519.8h0M292.3 507.3h0M312.4 504.5h0M270.4 510.2h0M259.7 520.5h0M241.5 508.9h0M240.5 520.4h0M287.7 519.5h0M261.5 493.9h0M254.5 520.3h0M240.3 513.6h0M234.6 508.0h0M242.8 504.1h0M250.6 522.0h0M232.2 510.9h0M266.6 509.2h0M235.5 490.4h0M279.7 524.0h0M254.4 500.8h0M257.7 520.4h0M263.1 522.5h0M311.6 527.6h0M317.3 492.2h0M242.2 491.4h0M310.1 519.4h0M293.9 502.0h0M244.5 509.5h0M269.5 492.2h0M270.0 520.8h0M234.7 515.6h0M259.7 496.8h0M245.3 503.0h0M288.8 508.0h0M247.8 524.0h0M302.7 496.6h0M263.3 501.7h0M287.0 519.6h0M253.7 517.4h0M238.7 521.0h0M253.8 513.2h0M250.0 524.3h0M309.8 518.2h0M250.3 515.8h0M277.2 514.7h0M270.7 504.3h0M276.0 490.2h0M309.8 504.1h0M291.8 521.4h0M256.7 510.9h0M244.4 508.5h0M303.9 498.2h0M295.9 493.3h0M242.0 508.9h0M234.2 515.3h0M251.7 516.4h0M273.2 490.8h0M260.0 516.2h0M264.9 525.6h0M254.7 511.5h0M240.1 501.8h0M237.1 519.0h0M250.7 490.0h0M256.6 501.6h0M311.7 528.0h0M293.3 503.4h0M246.4 499.8h0M303.9 510.3h0M238.7 492.1h0M302.1 498.4h0M261.6 497.3h0M311.0 517.5h0M281.8 493.3h0M276.2 510.6h0M238.6 495.5h0M299.1 496.1h0M248.1 494.8h0M301.2 522.4h0M261.8 519.5h0M286.7 503.2h0M317.7 494.9h0M315.1 497.9h0M236.7 516.6h0M302.3 523.1h0M287.5 519.4h0M242.8 496.7h0M275.3 503.9h0M301.5 500.7h0M247.5 522.8h0M254.1 508.4h0M268.7 494.9h0M291.3 492.3h0M281.2 500.2h0M302.4 502.2h0M251.2 495.4h0M262.3 493.0h0M253.5 518.2h0M248.5 516.4h0M263.6 503.2h0M242.0 520.8h0M236.6 515.4h0M305.6 513.3h0M310.8 492.5h0M235.6 499.8h0M308.8 495.5h0M267.3 522.4h0M277.3 515.9h0M290.8 514.0h0M319.8 492.4h0" stroke="#f46d43" stroke-width="2.50" stroke-linecap="round" fill="none"/>
<path d="M293.2 455.0h0M268.4 442.1h0M238.8 464.9h0M269.3 436.1h0M278.7 462.2h0M269.1 462.4h0M348.9 463.4h0M241.9 462.1h0M276.3 445.2h0M330.0 464.9h0M234.7 480.2h0M240.5 471.5h0M254.7 454.2h0M276.9 456.4h0M242.1 451.9h0M251.0 470.5h0M308.3 458.6h0M278.3 445.3h0M347.0 466.3h0M250.9 465.7h0M253.4 461.1h0M250.0 472.1h0M274.1 484.4h0M323.8 473.3h0M276.8 465.2h0M283.5 437.6h0M252.5 443.1h0M289.7 440.2h0M295.6 456.4h0M270.0 441.9h0M271.2 454.2h0M255.8 448.4h0M345.9 459.4h0M323.0 461.9h0M329.2 465.8h0M257.2 447.3h0M290.0 457.2h0M235.4 478.9h0M238.5 464.6h0M310.6 465.6h0M242.1 449.3h0M330.4 466.1h0M336.7 467.8h0M325.8 473.9h0M330.6 461.4h0M243.8 463.6h0M308.1 454.7h0M248.6 441.7h0M295.2 461.0h0M240.8 464.7h0M286.5 436.4h0M251.5 449.6h0M303.8 451.6h0M250.1 471.0h0M236.8 463.1h0M264.8 464.9h0M255.4 450.1h0M265.8 453.3h0M309.8 458.2h0M264.3 438.9h0M323.5 459.8h0M313.0 458.9h0M323.9 467.6h0M239.3 457.9h0M284.3 488.8h0M235.9 488.5h0M278.8 447.1h0M242.8 454.6h0M323.8 484.4h0M274.8 445.0h0M270.1 464.9h0M243.0 451.5h0M350.9 461.5h0M273.2 460.7h0M282.4 449.9h0M301.4 464.4h0M287.3 453.2h0M308.6 459.8h0M256.4 452.1h0M243.7 447.2h0M265.5 464.7h0M338.3 465.8h0M272.3 446.3h0M274.0 483.7h0M340.8 463.0h0M336.8 460.7h0M288.3 440.5h0M265.2 483.0h0M270.3 459.7h0M299.4 450.7h0M339.3 459.5h0M244.9 469.4h0M329.6 470.1h0M295.3 459.9h0M258.4 465.2h0M327.5 465.0h0M322.1 464.2h0M251.0 460.1h0M253.6 454.8h0M306.7 458.8h0M269.4 457.7h0M274.5 458.4h0M274.6 441.0h0M308.8 463.4h0M270.0 447.9h0M251.3 482.8h0M254.8 438.8h0M343.9 468.5h0M296.8 458.7h0M321.6 482.4h0M245.5 455.4h0M297.3 445.6h0M291.6 462.7h0M260.3 438.1h0M257.4 462.4h0M247.6 443.7h0M284.4 435.2h0M252.6 451.4h0M316.0 464.4h0M269.2 455.6h0M265.1 447.0h0M242.3 448.5h0M241.4 489.5h0M332.6 460.9h0M241.0 461.9h0M289.1 454.9h0M341.1 459.0h0M267.1 440.5h0M294.6 450.8h0M269.1 440.5h0M289.2 441.9h0M285.5 445.7h0M286.1 442.0h0M252.0 463.5h0M319.5 459.8h0M260.6 459.4h0M261.4 488.9h0M237.5 456.8h0M248.3 488.4h0M276.5 440.0h0M275.7 448.8h0M247.1 463.8h0M294.1 458.7h0M283.0 448.2h0M272.6 436.6h0M244.0 475.6h0M281.7 442.8h0M273.3 442.2h0M302.6 461.3h0M241.9 451.1h0M276.9 442.8h0M270.2 458.6h0M266.8 460.4h0M278.9 487.4h0M288.3 437.6h0M272.3 444.5h0M280.6 449.9h0M272.4 459.2h0M294.1 489.1h0M246.7 457.4h0M258.1 447.7h0M236.9 469.7h0M245.0 454.0h0M251.8 444.7h0M296.7 450.7h0M263.2 455.4h0M245.9 463.2h0M306.3 457.9h0M340.9 468.8h0M339.6 462.1h0M338.3 460.8h0M248.5 451.3h0M268.3 485.5h0M321.8 459.3h0M345.1 458.9h0M273.9 454.5h0M287.1 437.8h0M328.2 470.5h0M311.0 465.8h0M268.2 462.6h0M328.5 468.5h0M335.7 458.3h0M316.9 458.4h0M235.3 478.4h0M268.3 453.7h0M332.0 473.5h0M246.5 480.5h0M268.1 437.1h0M273.5 448.4h0M336.9 462.5h0M234.8 467.4h0M288.3 464.1h0M346.3 463.7h0M325.6 468.0h0M309.0 462.7h0M237.5 460.5h0M254.6 445.4h0M278.9 446.7h0M246.2 455.3h0M264.7 463.8h0M260.1 453.6h0M341.6 459.3h0M298.1 451.4h0M252.4 462.3h0M249.2 452.9h0M290.5 438.9h0M245.6 473.1h0M331.5 473.4h0M256.3 464.8h0M317.8 464.7h0M235.6 475.9h0M318.4 467.4h0M314.1 461.4h0M327.0 464.8h0M260.3 445.7h0M283.2 487.9h0M331.2 474.1h0M327.9 471.3h0M253.5 442.1h0M264.0 487.8h0M316.3 463.3h0M279.5 442.2h0M335.7 465.5h0M312.9 466.3h0M334.1 464.9h0M339.6 459.3h0M265.5 436.5h0M289.6 489.1h0M332.1 471.5h0M289.5 489.0h0M306.6 456.9h0M312.1 457.1h0M248.8 456.1h0M285.9 436.4h0M291.4 452.8h0M249.7 472.0h0M335.4 458.8h0M277.1 442.7h0M264.6 436.2h0M293.1 442.4h0M284.7 462.3h0M243.5 451.2h0M260.9 488.0h0M272.0 447.9h0M304.7 458.5h0M270.3 438.0h0M279.2 455.2h0M331.5 465.1h0M299.3 461.0h0M239.6 481.0h0M345.0 465.0h0M269.6 437.2h0M295.9 455.0h0M257.5 484.7h0M243.0 467.8h0M257.2 465.2h0M247.5 453.1h0M297.6 445.7h0M273.3 455.4h0M310.1 458.8h0M292.7 464.5h0M247.4 461.6h0M274.0 452.8h0M274.5 450.0h0M275.1 452.8h0M240.7 450.3h0M275.2 486.2h0M272.1 460.3h0M266.6 459.3h0M242.0 472.1h0M274.3 445.2h0M245.5 484.3h0M265.6 459.3h0M275.1 462.9h0M243.6 450.3h0M296.8 444.7h0M318.7 462.8h0M310.2 463.2h0M259.6 443.7h0M266.1 453.6h0M260.7 446.9h0M316.9 465.8h0M284.4 446.1h0M256.7 461.4h0M291.0 456.0h0M318.5 468.2h0M288.5 465.9h0M275.3 440.2h0M282.5 445.6h0M314.9 463.0h0M243.9 455.7h0M322.3 481.4h0M308.0 465.6h0M310.9 461.7h0M316.1 466.5h0M255.0 461.4h0M270.7 446.2h0M276.9 456.9h0M294.5 461.1h0M249.0 453.3h0M345.7 462.2h0M261.0 464.6h0M335.5 466.1h0M236.5 478.3h0M256.5 445.7h0M274.2 465.6h0M328.8 469.8h0M302.1 462.5h0M279.4 443.8h0M239.9 470.9h0M287.2 439.5h0M274.6 448.7h0M295.2 455.1h0M281.3 460.4h0M272.6 463.5h0M263.2 436.0h0M245.8 463.8h0M289.9 488.5h0M242.5 461.8h0M250.6 485.0h0M333.5 468.5h0M302.4 462.4h0M254.4 484.2h0M265.7 446.4h0M326.8 471.8h0M257.3 450.1h0M253.7 454.3h0M254.0 454.9h0M235.2 476.1h0M243.5 483.2h0M267.9 459.7h0M254.2 458.4h0M272.1 440.0h0M273.3 442.4h0M241.5 488.1h0M281.3 462.1h0M260.7 448.6h0M284.2 436.7h0M348.9 460.6h0M310.3 455.5h0M247.2 465.7h0M260.8 452.5h0M325.7 465.2h0M261.0 483.8h0M277.2 463.7h0M255.5 459.5h0M302.4 458.9h0M237.1 481.5h0M254.7 462.4h0M285.6 488.9h0M277.5 442.3h0M342.2 466.8h0M253.0 445.2h0M334.5 460.3h0M254.2 457.4h0M317.2 466.7h0M274.0 457.0h0M264.0 465.4h0M328.7 463.2h0M294.7 462.7h0M259.5 460.6h0M291.7 444.8h0M336.6 467.8h0M261.6 465.7h0M251.7 453.8h0M351.1 461.7h0M285.8 456.8h0M304.0 457.5h0M335.2 464.3h0M288.1 454.8h0M263.8 460.1h0M239.7 481.6h0M233.6 484.5h0M243.3 456.9h0M258.6 463.8h0M329.0 462.0h0M324.5 472.9h0M261.8 452.6h0M259.7 462.9h0M325.2 461.2h0M274.7 484.4h0M293.5 452.8h0M258.1 452.7h0M248.5 482.3h0M236.8 472.9h0M259.7 465.6h0M291.9 459.2h0" stroke="#3288bd" stroke-width="2.50" stroke-linecap="round" fill="none"/>
<path d="M292.2 443.3h0M336.1 462.0h0M280.2 454.0h0M287.0 455.0h0M279.0 446.2h0M315.2 457.4h0M278.1 458.6h0M299.0 453.9h0M263.8 437.7h0M340.3 467.3h0M331.9 467.3h0M256.4 442.4h0M313.1 488.7h0M315.3 460.8h0M257.4 452.2h0M275.8 465.8h0M253.4 446.8h0M320.0 483.7h0M268.1 464.2h0M338.5 464.8h0M266.9 444.6h0M308.2 462.5h0M247.0 465.6h0M346.0 462.1h0M270.2 461.7h0M269.2 457.5h0M272.8 460.4h0M315.7 462.7h0M296.9 456.2h0M277.2 451.2h0M259.3 450.1h0M272.2 443.2h0M241.4 458.7h0M330.5 470.9h0M336.0 469.9h0M321.0 465.6h0M277.1 439.5h0M284.4 459.8h0M290.5 438.1h0M274.9 454.3h0M263.8 464.3h0M242.7 483.3h0M257.7 438.5h0M257.7 440.4h0M255.5 464.7h0M333.4 465.5h0M272.9 442.2h0M337.4 466.9h0M243.1 447.6h0M330.4 478.2h0M277.2 445.9h0M258.9 464.0h0M247.0 442.9h0M266.5 452.6h0M284.5 437.0h0M244.0 472.3h0M286.3 443.5h0M289.5 441.0h0M288.3 442.9h0M253.6 480.3h0M257.5 480.1h0M255.4 440.9h0M274.5 453.1h0M308.5 463.1h0M298.4 460.2h0M326.0 481.2h0M286.5 436.7h0M268.7 459.3h0M293.2 457.1h0M280.8 444.9h0M293.5 465.2h0M256.5 489.6h0M328.4 474.6h0M310.7 458.4h0M303.0 458.1h0M304.7 453.6h0M277.7 440.1h0M327.0 469.7h0M290.6 441.9h0M327.8 462.7h0M324.8 477.4h0M253.9 468.7h0M264.7 484.3h0M284.6 451.2h0M251.9 460.6h0M260.6 460.2h0M260.3 452.0h0M290.2 464.6h0M295.1 460.8h0M238.4 458.5h0M342.1 459.1h0M324.8 474.9h0M256.4 441.7h0M241.5 462.4h0M336.4 467.6h0M299.9 458.2h0M263.1 457.9h0M274.7 464.5h0M253.3 459.9h0M257.9 480.0h0M259.8 448.0h0M271.0 459.1h0M272.5 438.9h0M286.7 436.8h0M241.5 460.7h0M261.2 461.9h0M286.9 443.2h0M263.6 451.5h0M272.6 438.7h0M285.0 441.4h0M319.4 459.4h0M263.6 459.9h0M248.6 474.8h0M280.3 458.2h0M259.5 437.4h0M288.3 441.9h0M276.5 463.8h0M322.8 470.6h0M272.4 459.7h0M268.4 456.3h0M244.5 488.3h0M328.0 469.0h0M264.1 444.8h0M351.5 462.5h0M281.8 465.4h0M245.4 485.7h0M266.6 448.4h0M270.5 446.6h0M319.4 487.3h0M332.4 463.7h0M313.2 465.9h0M322.6 470.5h0M248.9 456.3h0M327.7 474.2h0M262.7 443.1h0M284.6 486.3h0M280.8 459.0h0M253.4 448.5h0M280.9 457.9h0M338.8 459.5h0M340.6 461.7h0M237.1 474.5h0M289.2 463.8h0M242.7 465.3h0M256.2 455.0h0M236.1 460.6h0M256.2 484.3h0M257.9 442.3h0M249.3 476.3h0M336.6 466.4h0M268.3 435.2h0M319.4 462.2h0M263.6 449.9h0M241.5 481.9h0M243.8 466.1h0M314.3 463.9h0M256.0 464.4h0M284.0 439.1h0M262.6 446.4h0M245.0 444.8h0M306.2 464.3h0M287.7 447.2h0M236.7 478.2h0M318.7 462.8h0M272.3 434.5h0M287.8 455.8h0M249.4 461.5h0M273.1 436.7h0M269.9 462.5h0M275.3 440.2h0M241.9 451.8h0M336.4 470.0h0M273.9 463.0h0M263.7 460.6h0M265.2 455.6h0M272.7 452.4h0M248.2 486.3h0M283.5 456.5h0M314.6 460.9h0M272.5 447.4h0M289.1 462.5h0M290.2 455.8h0M260.6 438.2h0M316.8 460.3h0M320.2 459.3h0M257.4 442.0h0M267.4 436.4h0M297.2 457.2h0M270.1 436.0h0M273.5 460.6h0M318.4 467.9h0M285.4 436.8h0M240.9 460.5h0M261.2 463.8h0M337.7 469.2h0M246.0 448.2h0M241.9 453.6h0M243.0 447.8h0M269.9 440.8h0M300.5 458.0h0M268.1 486.1h0M280.3 440.1h0M267.0 441.1h0M285.3 436.1h0M259.6 457.7h0M270.1 449.7h0M274.4 438.2h0M316.7 458.5h0M263.8 442.6h0M333.6 469.6h0M241.1 478.9h0M290.8 439.8h0M260.0 445.6h0M263.2 453.8h0M257.1 464.4h0M268.1 453.5h0M255.7 458.8h0M260.3 437.2h0M295.0 464.8h0M262.8 448.7h0M268.5 438.8h0M341.4 468.2h0M285.9 463.2h0M334.7 461.4h0M315.3 463.4h0M261.2 463.2h0M260.9 460.6h0M235.1 483.6h0M289.2 451.0h0M301.2 462.4h0M319.3 464.4h0M253.2 450.5h0M340.7 460.0h0M245.5 446.5h0M295.1 460.6h0M337.6 459.8h0M277.8 450.0h0M320.5 466.6h0M259.8 484.1h0M299.6 460.5h0M336.4 459.4h0M243.1 476.5h0M344.6 461.1h0M282.7 465.4h0M256.1 479.1h0M247.3 454.0h0M267.9 482.5h0M254.8 454.7h0M344.9 460.9h0M272.8 465.1h0M289.8 454.9h0M308.3 462.2h0M337.6 466.6h0M338.9 467.8h0M261.6 438.1h0M275.2 438.7h0M262.3 454.4h0M281.7 449.0h0M311.6 460.8h0M332.8 471.9h0M262.4 464.9h0M291.5 462.7h0M278.6 449.4h0M250.7 448.0h0M302.8 454.2h0M259.8 453.3h0M315.9 458.4h0M339.1 461.4h0M322.7 467.5h0M266.7 451.7h0M245.3 446.4h0M237.6 456.7h0M300.3 448.2h0M237.5 460.0h0M244.7 475.1h0M248.2 468.7h0M340.4 463.2h0M251.6 457.2h0M238.1 479.7h0M266.8 453.6h0M247.1 451.6h0M320.3 485.3h0M340.3 466.2h0M331.2 464.2h0M254.6 465.5h0M234.0 485.4h0M241.5 458.0h0M291.1 439.2h0M295.3 458.4h0M328.2 465.9h0M256.7 446.3h0M271.1 446.7h0M266.0 445.1h0M282.5 440.4h0M240.5 463.6h0M249.2 449.9h0M254.2 445.8h0M265.7 446.4h0M278.7 461.5h0M251.5 442.5h0M241.9 452.2h0M257.4 459.1h0M243.0 457.8h0M241.3 454.9h0M272.6 435.0h0M247.9 447.6h0M271.9 441.2h0M291.5 448.9h0M237.1 478.3h0M282.3 436.9h0M267.9 457.9h0M326.1 468.3h0M245.4 459.6h0M247.5 448.8h0M253.7 461.9h0M237.5 468.3h0M265.6 445.8h0M238.9 456.9h0M256.3 446.7h0M272.3 443.7h0M258.1 460.8h0M282.1 464.1h0M324.9 466.0h0M262.1 444.9h0M290.0 446.7h0M257.9 452.9h0M273.6 462.5h0M255.2 467.8h0M262.1 464.7h0M286.6 443.5h0M286.8 452.5h0M270.6 442.0h0M287.5 444.3h0M326.4 464.0h0M277.3 446.9h0M270.7 449.7h0M263.4 447.2h0M323.3 459.1h0M274.9 445.1h0M285.3 453.3h0M284.5 440.3h0M326.5 462.0h0M282.8 436.4h0M331.3 473.1h0M326.5 468.1h0M273.4 465.0h0M334.3 459.9h0M239.8 452.3h0M278.3 486.3h0M299.6 451.4h0M250.6 457.9h0M282.8 440.1h0M273.6 459.8h0M312.1 463.0h0M254.1 454.6h0M328.5 464.1h0M296.2 444.3h0M298.0 464.7h0M257.5 463.2h0M281.8 465.8h0M251.5 465.0h0M281.5 463.9h0M257.6 456.4h0M294.9 464.5h0M337.9 470.2h0M247.1 482.1h0M265.2 452.1h0M301.1 457.3h0M308.6 463.7h0M347.3 462.4h0M327.1 463.6h0M245.5 461.6h0M331.9 471.1h0M316.6 460.3h0M295.9 462.8h0M257.2 462.3h0M264.8 436.9h0M254.8 442.3h0M326.8 482.3h0M297.8 447.5h0M267.2 438.1h0M264.5 444.2h0M264.6 455.2h0M330.3 474.7h0M326.4 464.0h0M245.4 455.8h0M312.4 462.1h0M339.1 458.7h0M244.3 453.0h0M248.2 448.7h0M276.2 439.7h0M301.1 449.8h0M335.7 470.3h0M237.5 463.8h0M339.6 462.4h0M254.6 455.2h0M290.0 465.7h0M314.1 457.9h0M309.5 458.4h0M289.3 452.8h0M295.6 445.4h0M315.8 460.5h0M282.3 449.9h0M252.9 447.6h0M349.8 462.5h0M277.8 448.8h0M281.8 446.0h0M304.6 462.5h0M310.0 456.8h0M246.8 478.4h0M268.4 459.3h0M295.1 460.8h0M257.5 438.1h0M312.1 458.3h0M254.4 454.9h0M267.0 452.3h0M242.7 485.4h0M279.1 443.2h0M324.4 484.5h0M290.8 441.1h0M253.5 463.5h0M271.5 486.0h0M275.0 462.3h0M262.2 444.5h0M299.9 464.2h0M253.4 462.6h0M252.3 459.9h0M256.6 439.5h0M330.6 466.1h0M266.4 443.4h0M268.7 457.3h0M268.8 445.5h0M261.1 460.3h0M268.0 463.0h0M274.4 452.0h0M288.3 450.6h0M247.6 466.3h0M244.8 448.4h0M277.2 440.6h0M280.1 457.5h0M248.3 445.6h0M293.0 455.9h0M281.0 450.5h0M243.3 480.3h0M345.3 460.9h0M259.5 453.5h0M299.1 453.8h0M333.1 461.8h0M247.5 447.8h0M321.3 459.2h0M289.7 455.5h0M327.0 473.9h0M243.8 466.5h0M328.3 471.3h0" stroke="#5e4fa2" stroke-width="2.50" stroke-linecap="round" fill="none"/>
<path d="M245.7 522.4h0M302.6 503.1h0M257.8 491.3h0M273.6 522.3h0M315.4 497.9h0M233.0 489.8h0M238.0 506.4h0M252.0 501.3h0M268.8 500.2h0M238.1 511.4h0M309.0 525.8h0M267.9 523.9h0M272.0 494.5h0M261.9 514.4h0M249.3 498.4h0M234.4 511.0h0M235.0 491.2h0M286.8 519.1h0M240.2 519.7h0M274.0 491.8h0M305.9 505.6h0M303.3 510.2h0M276.4 512.5h0M278.7 493.2h0M320.6 489.9h0M258.0 508.9h0M250.7 509.9h0M295.1 496.6h0M274.7 508.5h0M313.0 495.9h0M244.1 496.5h0M253.4 521.0h0M271.1 518.9h0M314.5 526.0h0M263.4 509.4h0M283.9 496.7h0M286.8 506.4h0M264.9 508.3h0M279.6 509.1h0M240.7 501.6h0M307.0 504.6h0M296.8 505.3h0M314.9 525.2h0M251.7 490.0h0M272.9 497.5h0M277.7 495.6h0M281.5 494.8h0M289.8 495.7h0M269.4 500.8h0M289.3 508.4h0M309.2 514.9h0M310.0 524.4h0M296.1 494.0h0M295.7 513.0h0M288.9 497.6h0M252.0 501.3h0M284.6 499.7h0M290.6 511.2h0M291.3 491.4h0M291.4 491.7h0M239.8 495.0h0M255.0 503.3h0M246.3 521.1h0M297.4 495.7h0M314.0 500.4h0M242.3 511.4h0M296.2 491.7h0M257.0 508.7h0M274.6 492.4h0M281.4 512.5h0M244.5 490.7h0M272.4 490.8h0M299.1 516.5h0M307.4 522.2h0M287.6 508.8h0M289.4 512.0h0M263.9 512.0h0M276.9 490.9h0M294.4 515.0h0M234.0 503.8h0M274.4 524.9h0M301.4 493.0h0M286.0 500.6h0M238.2 500.8h0M297.8 504.4h0M295.7 495.2h0M297.0 490.2h0M262.6 515.3h0M287.9 505.6h0M262.7 511.7h0M261.9 511.5h0M282.3 520.2h0M290.0 507.3h0M256.2 490.5h0M285.3 509.8h0M291.7 492.7h0M295.6 496.5h0M304.1 503.4h0M284.3 520.9h0M297.5 500.2h0M306.4 491.7h0M235.2 509.6h0M274.1 510.0h0M292.6 522.6h0M301.3 491.7h0M266.8 502.9h0M311.8 523.3h0M313.8 494.3h0M276.6 494.0h0M247.1 490.9h0M235.1 503.9h0M295.7 490.6h0M263.6 515.4h0M284.6 510.0h0M312.4 520.3h0M270.3 515.1h0M237.7 495.0h0M275.8 511.9h0M245.5 501.8h0M290.1 506.9h0M310.8 497.9h0M278.2 494.6h0M247.6 498.9h0M243.1 522.6h0M233.8 496.8h0M256.8 508.9h0M277.9 513.4h0M302.1 493.7h0M236.5 493.6h0M245.7 495.0h0M303.6 518.0h0M271.4 494.4h0M260.6 520.3h0M285.0 521.4h0M257.5 518.4h0M295.4 499.5h0M314.9 494.9h0M289.4 503.2h0M282.6 491.4h0M263.6 516.1h0M309.0 511.6h0M237.8 490.1h0M258.2 514.5h0M256.3 516.6h0M251.6 523.2h0M256.4 508.0h0M292.2 497.8h0M286.5 514.5h0M285.8 515.0h0M246.3 524.4h0M270.8 501.0h0M296.7 495.2h0M267.8 499.8h0M316.5 490.4h0M247.7 498.1h0M301.3 510.4h0M309.9 500.9h0M246.0 494.5h0M240.9 504.1h0M313.7 521.1h0M266.2 496.5h0M282.5 503.1h0M313.8 518.7h0M313.7 501.9h0M277.9 501.6h0M256.3 500.0h0M290.7 522.0h0M272.1 519.0h0M293.8 513.5h0M294.1 503.4h0M263.2 506.8h0M258.8 518.0h0M255.8 495.4h0M279.5 514.5h0M307.6 505.3h0M247.3 515.7h0M295.5 502.1h0M273.2 489.8h0M303.0 508.7h0M294.4 510.4h0M283.6 518.8h0M294.6 504.9h0M281.5 492.6h0M266.0 497.8h0M272.1 521.2h0M280.6 521.5h0M312.0 502.7h0M264.7 506.5h0M305.2 518.7h0M243.6 509.7h0M308.5 507.3h0M251.7 518.3h0M234.0 497.3h0M232.5 498.2h0M281.7 500.1h0M285.5 516.6h0M287.4 518.2h0M261.4 494.5h0M240.8 506.1h0M274.7 492.2h0M306.3 498.4h0M279.8 522.3h0M275.1 506.5h0M307.1 515.6h0M272.8 500.5h0M238.9 491.9h0M315.6 526.7h0M309.0 515.3h0M278.7 515.5h0M262.6 512.6h0M311.5 497.0h0M297.0 514.5h0M312.9 490.8h0M285.3 505.8h0M295.4 512.9h0M258.2 493.3h0M305.6 490.9h0M303.4 523.5h0M281.0 519.6h0M263.1 511.3h0M313.4 519.9h0M239.2 508.1h0M307.0 518.6h0M263.1 497.2h0M292.6 508.0h0M275.3 508.1h0M293.9 502.6h0M273.4 496.4h0M266.2 523.4h0M281.4 518.5h0M304.2 496.7h0M262.5 506.5h0M308.8 505.7h0M241.4 520.1h0M251.7 493.8h0M283.7 506.3h0M270.4 518.2h0M290.5 498.6h0M298.4 503.4h0M299.3 515.0h0M300.2 512.4h0M305.8 523.5h0M238.2 519.4h0M258.6 495.0h0M311.0 493.1h0M266.2 524.8h0M302.4 496.5h0M300.2 507.9h0M296.8 494.3h0M254.4 517.9h0M244.4 522.6h0M279.8 500.6h0M283.0 500.1h0M305.5 513.3h0M283.8 512.5h0M278.0 512.7h0M290.3 494.1h0M297.0 505.7h0M244.2 505.9h0M257.4 504.9h0M253.8 522.8h0M243.9 498.6h0M268.4 516.4h0M276.7 501.7h0M311.1 521.0h0M291.4 513.0h0M295.6 507.8h0M302.1 502.1h0M284.4 492.8h0M317.5 496.8h0M311.7 496.0h0M294.8 506.1h0M235.2 494.9h0M306.3 491.1h0M254.6 509.3h0M254.6 503.5h0M301.3 497.2h0M274.9 516.7h0M286.7 495.8h0M234.6 515.8h0M248.3 500.8h0M254.1 490.4h0M310.4 526.1h0M237.4 496.7h0M268.8 523.0h0M235.9 503.4h0M258.7 512.6h0M247.4 514.3h0M245.7 490.9h0M288.9 497.1h0M298.0 506.5h0M318.5 527.1h0M260.6 495.7h0M243.1 522.7h0M281.8 506.1h0M241.1 517.3h0M284.5 493.6h0M252.1 516.4h0M284.7 495.2h0M241.5 516.4h0M310.0 513.8h0M260.5 503.1h0M296.9 491.3h0M285.6 510.9h0M245.0 513.6h0M306.7 501.4h0M305.6 524.8h0M287.0 517.6h0M248.9 491.9h0M286.2 493.3h0M276.7 512.3h0M236.7 518.5h0M244.4 499.0h0M261.9 500.2h0M296.2 502.7h0M245.4 500.3h0M262.3 502.4h0M301.9 504.7h0M271.2 501.5h0M307.5 490.5h0M319.0 494.6h0M258.5 520.5h0M309.3 519.3h0M241.0 522.6h0M294.4 509.7h0M250.1 494.4h0M241.4 500.8h0M312.2 525.6h0M256.1 504.6h0M301.2 501.3h0M250.2 515.3h0M248.1 502.8h0M266.8 516.6h0M256.5 501.4h0M311.3 504.5h0M304.2 511.5h0M244.3 511.0h0M306.4 498.6h0M310.8 492.6h0M298.7 506.3h0M263.9 491.6h0M282.7 497.0h0M267.3 506.0h0M270.5 491.4h0M295.9 504.8h0M242.0 499.3h0M284.9 498.9h0M289.0 522.3h0M249.4 510.2h0M246.0 512.6h0M278.7 510.1h0M284.9 519.8h0M291.3 507.3h0M287.0 517.8h0M252.3 491.8h0M279.7 499.8h0M292.2 492.1h0M280.1 499.1h0M295.4 521.3h0M302.2 501.3h0M246.7 514.6h0M287.0 497.1h0M288.6 520.9h0M275.2 517.1h0M259.7 521.9h0M292.7 503.0h0M279.2 499.7h0M237.7 519.0h0M288.0 519.7h0M300.0 512.6h0M257.3 522.1h0M273.4 498.7h0M317.5 523.0h0M238.8 515.8h0M300.7 504.7h0M262.3 504.6h0M288.3 494.8h0M241.1 504.3h0M267.7 494.7h0M277.6 500.3h0M235.8 515.1h0M278.6 496.6h0M236.5 494.6h0M316.7 494.1h0M307.6 505.0h0M241.0 494.5h0M270.1 515.4h0M233.0 497.0h0M234.4 503.3h0M300.3 507.7h0M235.2 511.0h0M309.6 527.0h0M308.7 504.0h0M288.6 505.0h0M321.9 492.4h0M234.5 509.4h0M282.6 507.4h0M260.9 498.6h0M251.0 490.4h0M269.0 520.5h0M265.0 492.7h0M309.9 511.4h0M304.9 496.6h0M235.5 501.8h0M276.5 517.9h0M260.9 507.6h0M289.2 518.8h0M259.0 494.2h0M240.0 491.4h0M300.8 521.3h0M276.5 492.6h0M285.9 498.5h0M274.9 524.7h0M301.7 514.6h0M288.4 503.4h0M239.5 503.8h0M269.6 501.1h0M308.0 505.3h0M306.0 519.6h0M270.5 493.1h0M260.2 513.2h0M261.5 503.4h0M258.6 490.7h0M279.7 515.7h0M242.0 514.7h0M310.3 496.2h0M293.9 512.2h0M243.4 513.2h0M241.1 497.5h0M314.8 497.2h0M315.2 524.2h0M307.0 498.9h0M298.7 517.9h0M285.1 511.1h0M238.4 516.4h0M254.6 506.7h0M312.4 505.9h0M296.3 520.0h0M238.6 496.8h0M266.8 498.6h0M253.7 516.1h0M268.8 509.8h0M255.5 522.6h0M307.6 491.4h0M311.4 501.3h0M307.6 501.4h0M294.0 495.2h0M285.4 490.3h0M293.0 512.6h0M261.6 517.6h0M249.1 518.8h0M249.7 524.6h0M312.8 495.6h0M308.9 499.9h0M280.0 508.8h0M245.0 502.2h0M258.9 507.3h0M273.6 497.2h0M237.5 501.0h0M249.0 510.4h0M246.7 516.8h0M289.6 498.1h0M232.3 510.0h0M253.9 514.6h0M241.2 515.8h0M306.7 510.4h0M284.6 506.7h0M293.4 515.8h0M272.0 500.4h0M278.1 513.6h0M283.5 499.1h0M296.4 522.9h0M246.4 511.0h0M244.9 495.8h0M284.6 514.1h0M313.2 498.0h0M269.5 513.3h0M243.3 518.6h0M256.3 514.6h0M272.6 498.3h0M286.8 513.9h0M294.7 499.4h0M297.5 517.4h0M311.5 494.7h0M251.9 522.6h0M285.3 495.4h0M317.9 522.0h0M284.1 497.4h0M289.3 493.8h0M233.6 494.9h0M304.4 514.9h0M281.5 491.8h0M270.1 491.1h0M240.3 520.8h0M308.8 520.3h0M283.2 516.7h0M283.3 504.9h0M275.8 514.1h0M255.9 490.4h0M282.2 523.2h0M275.3 510.7h0M293.4 515.0h0M300.5 490.7h0M296.2 513.3h0M311.2 522.2h0M319.0 526.4h0M294.1 500.3h0M307.5 518.7h0M257.8 510.1h0M306.2 505.6h0M311.5 519.6h0M240.7 495.9h0M246.1 516.2h0M276.6 509.4h0M236.6 511.2h0M295.8 508.5h0M251.7 507.3h0M280.3 502.1h0M245.4 505.7h0M296.7 522.6h0M264.4 504.4h0M308.7 493.9h0M294.1 513.2h0M246.6 508.0h0M264.1 512.0h0M235.1 512.0h0M289.1 523.9h0M311.1 491.5h0M289.0 493.6h0M317.9 521.3h0M245.6 509.8h0M285.3 495.1h0M251.2 496.0h0M235.2 497.2h0M234.8 497.8h0M278.9 497.5h0M277.3 516.2h0M239.9 502.1h0M270.8 518.1h0M264.8 506.5h0M236.9 504.0h0M234.3 500.7h0M245.9 522.2h0M261.4 510.6h0M294.0 495.8h0M302.5 513.6h0M295.0 509.0h0M277.4 490.6h0M311.7 512.9h0M306.6 512.1h0" stroke="#fdae61" stroke-width="2.50" stroke-linecap="round" fill="none"/>
<path d="M245.4 478.4h0M298.8 504.9h0M299.6 492.7h0M252.7 448.6h0M283.3 488.6h0M277.3 501.2h0M255.1 490.3h0M296.7 520.5h0M282.9 488.6h0M291.2 457.9h0M257.3 498.9h0M276.1 450.8h0M277.0 459.3h0M290.9 520.6h0M285.1 505.1h0M255.4 455.4h0M310.4 493.3h0M314.4 457.4h0M271.9 509.6h0M258.4 507.1h0M327.2 469.0h0M250.6 483.7h0M272.7 485.6h0M339.5 458.0h0M310.8 462.7h0M347.0 459.7h0M232.7 496.0h0M316.9 522.1h0M243.0 466.2h0M275.6 490.2h0M235.3 477.4h0M276.5 502.9h0M300.6 515.6h0M252.5 468.0h0M234.5 482.2h0M288.5 459.7h0M273.0 511.3h0M310.7 506.2h0M254.4 484.3h0M288.6 450.1h0M297.3 511.8h0M253.9 462.7h0M242.8 464.5h0M295.0 463.6h0M285.4 486.7h0M287.6 514.9h0M252.3 440.4h0M287.2 513.6h0M329.5 480.8h0M240.9 468.1h0M289.8 519.4h0M329.2 475.3h0M235.4 502.2h0M240.4 493.4h0M249.3 482.9h0M278.1 449.5h0M316.4 487.4h0M241.0 499.3h0M235.9 471.4h0M245.5 476.6h0M255.6 503.5h0M285.7 498.0h0M244.0 488.2h0M303.6 504.8h0M250.0 475.7h0M243.7 476.9h0M333.3 462.8h0M255.1 479.4h0M247.2 476.4h0M342.1 461.2h0M249.5 483.8h0M253.5 443.5h0M262.0 480.3h0M233.4 488.2h0M305.3 508.4h0M281.3 487.5h0M245.6 459.7h0M323.5 469.2h0M320.9 465.4h0M297.6 521.3h0M323.9 484.1h0M252.9 504.7h0M330.2 458.9h0M336.9 469.5h0M263.4 458.8h0M310.8 464.3h0M265.1 459.7h0M325.2 477.5h0M282.4 449.5h0M276.5 456.7h0M251.5 457.2h0M271.5 435.9h0M241.0 507.0h0M261.0 453.8h0M314.5 493.7h0M247.4 462.1h0M243.3 494.6h0M286.5 495.6h0M289.0 438.2h0M249.7 454.4h0M249.3 489.1h0M268.4 491.2h0M236.9 469.7h0M271.9 501.1h0M261.9 487.6h0M311.8 458.8h0M321.3 489.1h0M261.9 451.0h0M318.8 467.1h0M290.5 489.4h0M281.4 442.3h0M280.4 487.9h0M253.1 506.1h0M235.7 483.4h0M326.4 478.7h0M262.0 436.5h0M274.0 488.9h0M276.3 491.7h0M292.2 492.7h0M248.9 465.3h0M251.0 479.7h0M331.2 476.6h0M267.8 459.4h0M288.2 445.4h0M295.6 459.1h0M274.2 510.3h0M241.0 492.2h0M289.1 494.4h0M259.1 499.7h0M236.9 479.1h0M329.1 460.4h0M268.6 447.0h0M317.5 458.8h0M249.3 477.8h0M249.5 468.4h0M256.5 466.3h0M330.3 469.2h0M276.3 523.5h0M345.1 459.3h0M258.0 496.0h0M277.4 436.8h0M249.1 477.5h0M267.8 524.3h0M287.9 492.0h0M313.8 519.7h0M285.6 438.9h0M267.5 489.2h0M281.3 466.0h0M268.0 508.6h0M234.7 505.8h0M251.5 487.9h0M259.2 455.7h0M306.1 459.8h0M325.1 468.9h0M324.8 478.0h0M250.5 479.2h0M313.3 489.4h0M251.0 467.7h0M272.0 503.3h0M282.1 450.8h0M271.0 498.6h0M245.4 498.6h0M251.1 478.6h0M238.8 478.8h0M308.2 455.2h0M264.9 459.6h0M259.6 481.1h0M277.1 505.9h0M286.6 490.4h0M284.0 487.5h0M313.4 504.2h0M311.1 492.2h0M306.9 457.4h0M274.2 522.3h0M268.1 485.6h0M331.7 473.3h0M276.4 443.1h0M278.3 485.0h0M314.9 457.3h0M335.7 468.4h0M336.5 466.0h0M280.7 515.4h0M289.0 441.3h0M291.7 441.3h0M240.8 476.7h0M252.5 467.0h0M242.4 485.9h0M271.6 522.3h0M319.6 486.1h0M263.9 485.5h0M322.9 481.8h0M244.1 483.6h0M300.9 455.9h0M298.4 496.2h0M256.7 483.5h0M314.0 498.9h0M239.6 479.6h0M266.7 486.0h0M279.2 489.0h0M267.5 483.0h0M305.1 492.4h0M275.7 497.3h0M269.5 510.6h0M324.8 488.1h0M317.8 461.6h0M321.9 462.7h0M321.4 489.7h0M261.5 494.4h0M286.3 495.7h0M287.2 498.8h0M265.0 451.9h0M288.4 444.5h0M270.7 498.6h0M266.2 509.1h0M271.5 439.3h0M256.4 483.4h0M266.6 516.6h0M265.8 512.0h0M292.6 450.6h0M263.6 495.8h0M234.6 476.2h0M319.2 489.6h0M250.2 473.8h0M303.1 463.6h0M279.9 518.1h0M304.8 524.3h0M267.4 525.3h0M266.9 516.7h0M253.8 443.5h0M288.6 497.1h0M316.8 460.2h0M312.9 523.9h0M253.4 484.1h0M278.1 509.1h0M256.5 457.1h0M249.3 451.0h0M247.0 458.3h0M308.5 462.8h0M240.0 471.7h0M336.4 467.0h0M269.3 447.4h0M324.6 478.1h0M288.4 520.8h0M289.1 456.0h0M260.3 488.0h0M306.3 453.7h0M328.1 476.5h0M241.3 480.2h0M235.8 487.7h0M312.7 518.3h0M249.0 481.1h0M293.7 444.5h0M310.2 459.7h0M334.7 468.4h0M247.7 484.3h0M286.6 489.9h0M305.3 491.4h0M290.4 448.4h0M316.0 458.8h0M325.7 482.4h0M259.0 489.4h0M243.5 452.9h0M277.9 464.0h0M256.3 479.4h0M236.0 485.8h0M311.4 489.8h0M288.5 444.4h0M283.8 486.1h0M297.5 489.6h0M340.7 468.0h0M288.3 508.1h0M306.8 501.5h0M336.9 470.3h0M285.2 486.2h0M280.7 458.7h0M255.8 467.5h0M278.0 441.7h0M288.7 523.8h0M240.9 466.3h0M286.2 520.3h0M247.0 454.4h0M242.1 486.4h0M305.2 453.2h0M247.5 460.1h0M247.8 481.4h0M240.4 475.8h0M314.5 457.2h0M326.8 486.5h0M239.3 490.6h0M298.3 497.2h0M308.1 522.5h0M305.3 456.6h0M246.1 467.0h0M275.6 459.3h0M277.6 466.2h0M263.1 490.6h0M265.1 501.4h0M240.5 468.5h0M351.6 463.9h0M310.9 506.4h0M322.4 490.1h0M240.5 482.2h0M234.9 506.6h0M239.1 496.3h0M316.4 487.7h0M309.6 508.2h0M245.8 466.1h0M322.2 481.1h0M334.2 468.2h0M272.3 526.0h0M300.0 454.9h0M251.0 449.1h0M273.1 461.9h0M290.6 512.8h0M248.0 492.5h0M262.6 498.4h0M316.6 490.9h0M254.4 486.2h0M345.1 462.7h0M278.2 447.8h0M236.2 501.9h0M263.3 501.2h0M275.9 513.0h0M317.6 486.7h0M238.6 465.8h0M304.6 520.3h0M295.5 463.3h0M255.5 479.0h0M260.1 489.1h0M285.5 491.8h0M288.7 508.8h0M296.1 495.1h0M240.6 476.6h0M240.3 479.7h0M341.5 467.3h0M291.3 489.7h0M267.4 455.0h0M283.2 465.0h0M267.7 484.1h0M328.9 470.5h0M265.4 503.0h0M251.4 479.9h0M252.8 489.2h0M302.0 523.8h0M246.6 481.3h0M326.3 459.8h0M252.4 479.5h0M276.4 440.8h0M244.6 454.7h0M251.8 470.7h0M248.9 494.9h0M251.0 466.0h0M249.4 479.3h0M234.4 477.5h0M289.1 506.4h0M325.7 485.2h0M286.6 436.0h0M239.2 498.6h0M308.5 515.7h0M252.1 503.3h0M232.7 495.5h0M274.1 447.2h0M273.9 486.4h0M237.7 483.7h0M289.8 515.2h0M308.1 498.5h0M258.2 493.2h0M256.5 480.7h0M314.6 458.2h0" stroke="#abdda4" stroke-width="2.50" stroke-linecap="round" fill="none"/>
<path d="M273.4 490.2h0M247.7 516.5h0M261.7 499.9h0M291.5 501.9h0M308.4 505.9h0M260.7 521.3h0M284.7 492.1h0M315.1 495.6h0M281.1 499.3h0M239.9 512.6h0M283.1 494.4h0M271.9 495.3h0M245.5 517.8h0M309.5 493.9h0M308.0 514.6h0M280.7 506.1h0M255.5 500.2h0M260.4 490.4h0M302.1 511.7h0M278.7 510.1h0M283.2 499.3h0M283.2 451.5h0M322.0 483.5h0M279.0 503.0h0M244.6 466.0h0M309.0 511.7h0M250.9 485.5h0M245.2 510.4h0M309.4 493.4h0M238.7 520.8h0M289.2 507.2h0M282.5 498.6h0M303.3 519.1h0M237.6 467.3h0M298.7 509.5h0M279.9 495.9h0M289.1 458.5h0M272.9 524.1h0M275.3 508.8h0M313.0 520.4h0M291.4 520.0h0M302.6 458.3h0M295.4 509.0h0M289.7 495.1h0M269.3 516.3h0M295.1 509.0h0M244.4 506.4h0M251.1 502.1h0M239.0 491.9h0M268.2 494.6h0M245.0 475.5h0M264.7 485.6h0M246.2 496.2h0M248.2 455.9h0M313.4 502.3h0M303.5 461.7h0M265.3 519.6h0M303.7 522.1h0M305.8 512.4h0M263.6 500.3h0M281.0 523.1h0M237.4 481.0h0M285.7 502.8h0M241.3 491.7h0M280.8 513.9h0M286.5 444.6h0M254.7 499.6h0M266.1 448.3h0M297.3 493.8h0M254.0 492.9h0M333.1 475.4h0M289.8 512.8h0M257.5 506.5h0M319.2 489.7h0M297.5 495.0h0M265.3 499.0h0M286.3 450.2h0M238.9 515.1h0M290.5 511.5h0M232.9 499.6h0M278.2 513.3h0M242.4 486.8h0M256.1 496.9h0M315.6 521.9h0M246.4 515.4h0M242.8 492.7h0M244.3 480.3h0M312.2 525.8h0M265.2 459.5h0M236.6 481.0h0M315.9 520.7h0M276.4 496.4h0M280.0 490.9h0M287.1 503.2h0M305.9 505.8h0M282.0 517.0h0M289.3 507.6h0M289.3 521.6h0M241.5 495.2h0M241.1 512.7h0M294.7 496.5h0M299.1 491.5h0M276.6 517.3h0M327.5 477.1h0M261.9 500.0h0M304.8 519.0h0M286.6 514.0h0M299.8 515.6h0M272.2 503.7h0M280.0 498.5h0M232.4 508.1h0M315.3 492.2h0M246.2 523.1h0M309.0 490.5h0M261.8 454.4h0M253.0 497.8h0M309.7 507.3h0M267.0 490.1h0M290.3 513.4h0M330.5 475.7h0M259.3 446.2h0M292.5 502.2h0M283.3 496.3h0M299.2 510.0h0M307.1 504.9h0M296.8 517.2h0M277.2 521.6h0M245.9 497.5h0M262.1 500.6h0M276.0 494.5h0M294.5 505.1h0M266.9 493.2h0M244.1 494.0h0M310.7 523.6h0M236.5 502.5h0M274.4 451.6h0M281.8 439.9h0M241.0 517.7h0M283.3 494.2h0M305.5 499.7h0M237.9 498.2h0M266.5 444.9h0M242.7 500.7h0M254.2 500.3h0M314.5 523.7h0M311.8 528.0h0M296.0 509.1h0M265.2 510.0h0M240.4 520.6h0M282.1 458.8h0M265.8 494.0h0M304.0 499.4h0M276.9 524.4h0M234.9 494.3h0M248.2 493.3h0M313.9 520.3h0M302.6 492.8h0M235.1 473.4h0M237.5 511.7h0M233.4 509.8h0M290.0 497.3h0M240.3 520.1h0M262.8 514.8h0M254.9 485.9h0M280.8 517.0h0M256.3 524.0h0M275.9 453.2h0M304.1 491.0h0M310.5 516.4h0M274.6 520.6h0M309.6 500.4h0M282.2 501.9h0M322.3 486.6h0M265.7 464.8h0M247.3 493.8h0M257.5 515.8h0M245.5 522.1h0M260.4 491.7h0M284.2 504.4h0M277.3 459.4h0M297.4 511.4h0M294.4 450.3h0M285.5 439.8h0M304.3 493.6h0M290.6 515.0h0M322.0 489.2h0M265.1 496.7h0M239.1 497.0h0M306.4 505.5h0M273.9 520.9h0M254.3 495.9h0M286.6 512.7h0M304.5 515.1h0M255.6 482.8h0M256.1 502.3h0M253.6 510.8h0M252.9 496.2h0M237.9 474.8h0M305.5 515.2h0M278.7 490.9h0M262.6 524.7h0M282.8 517.4h0M294.7 505.1h0M275.0 519.0h0M309.3 511.6h0M233.9 492.0h0M285.0 488.6h0M251.8 520.8h0M244.9 507.9h0M272.6 484.2h0M311.3 508.1h0M283.9 511.7h0M280.0 444.2h0M260.0 495.0h0M234.5 518.6h0M267.4 488.9h0M260.2 516.9h0M265.8 518.1h0M239.8 495.7h0M304.7 515.6h0M248.3 500.8h0M298.5 446.6h0M246.7 512.7h0M263.0 495.6h0M273.7 526.2h0M283.6 460.5h0M284.8 511.2h0M234.6 480.7h0M232.5 509.7h0M248.0 475.4h0M258.6 460.1h0M279.6 514.3h0M330.1 476.1h0M243.8 516.0h0M238.1 463.3h0M251.2 490.8h0M300.3 496.3h0M310.6 522.1h0M285.4 520.0h0M313.3 518.2h0M321.5 491.4h0M278.3 523.0h0M260.4 492.6h0M249.4 487.8h0M247.5 504.2h0M275.7 522.7h0M274.5 501.2h0M256.6 486.5h0M277.3 510.6h0M311.0 495.5h0M274.2 514.9h0M249.8 521.6h0M273.3 516.1h0M269.9 492.0h0M290.4 498.0h0M295.4 500.2h0M271.0 463.1h0M289.9 504.5h0M311.5 525.8h0M287.0 460.4h0M258.6 506.0h0M298.6 456.6h0M234.4 485.9h0M241.0 521.6h0M278.1 522.5h0M290.2 510.7h0M265.4 504.2h0M290.0 437.6h0M305.4 500.9h0M248.6 464.9h0M266.0 487.7h0M260.0 518.2h0M275.4 463.2h0M263.1 490.4h0M251.2 461.0h0M291.1 459.6h0M295.7 512.2h0M265.2 494.0h0M312.7 521.9h0M277.9 435.5h0M305.9 521.3h0M237.7 490.6h0M251.3 516.7h0M294.1 494.5h0M266.5 496.4h0M240.3 507.5h0M259.7 455.2h0M310.6 494.6h0M248.6 522.3h0M242.6 494.7h0M261.1 516.9h0M311.2 523.5h0M304.0 460.8h0M315.8 520.6h0M288.5 462.0h0M274.7 512.2h0M286.2 503.9h0M282.6 509.7h0M311.9 519.9h0M282.2 516.6h0M301.9 514.6h0M245.7 506.0h0M237.5 468.4h0M285.1 507.5h0M305.2 498.5h0M253.7 512.2h0M239.1 501.9h0M278.6 507.4h0M248.4 504.6h0M294.0 492.3h0M268.8 449.2h0M235.3 488.3h0M277.5 511.3h0M286.0 492.4h0M256.9 507.8h0M257.5 501.0h0M247.6 454.3h0M292.5 505.8h0M259.5 489.1h0M270.5 483.6h0M275.6 465.9h0M237.2 502.2h0M248.7 495.7h0M267.0 513.6h0M300.6 511.6h0M254.4 518.1h0M291.4 494.2h0M303.3 503.8h0M302.6 506.5h0M312.2 519.2h0M269.4 514.7h0M257.3 501.3h0M265.7 447.6h0M270.6 502.5h0M236.0 495.2h0M266.6 507.7h0M304.7 505.8h0M255.5 450.0h0M311.5 524.0h0M270.6 459.0h0M286.2 517.3h0M315.6 519.6h0M314.3 498.5h0M280.5 504.8h0M233.3 498.4h0M267.0 511.4h0M238.8 481.5h0M287.5 523.7h0M318.9 525.3h0M236.6 491.9h0M252.4 518.1h0M277.1 515.6h0M274.6 441.6h0M276.4 513.8h0M271.5 491.6h0M249.6 486.3h0M310.2 526.4h0M295.0 493.9h0M275.9 486.0h0M285.3 514.0h0M298.2 498.6h0M239.3 503.0h0M292.8 495.6h0M248.7 508.0h0M294.2 495.6h0M268.6 521.5h0M264.1 506.7h0M271.1 487.2h0M247.3 462.0h0M290.4 510.8h0M274.1 511.8h0M260.6 507.8h0M255.1 497.5h0M267.3 523.1h0M244.4 522.3h0M252.5 474.9h0M261.0 496.3h0M255.1 499.1h0M274.4 438.5h0M273.9 499.5h0M293.5 523.8h0M250.2 473.5h0M274.3 499.4h0M246.9 448.6h0M247.4 516.5h0M288.4 504.3h0M238.3 522.3h0M267.0 518.8h0M274.3 502.3h0M246.3 498.4h0M303.3 491.6h0M241.1 495.9h0M243.9 505.4h0M233.2 506.5h0M243.7 468.9h0M269.9 466.7h0M269.4 503.4h0M290.3 516.1h0M265.0 512.2h0M298.5 490.4h0M291.7 519.1h0M240.3 503.3h0M333.3 475.5h0M233.2 494.3h0M302.6 503.1h0M246.5 451.5h0M287.3 489.6h0M260.2 513.1h0M239.5 483.3h0M304.4 519.2h0M285.5 495.6h0M271.8 505.6h0M277.8 524.8h0M247.1 517.6h0M303.7 490.6h0M274.6 485.2h0M264.4 495.4h0M239.3 494.6h0M243.2 504.4h0M239.6 471.5h0M284.0 489.8h0M245.3 498.3h0M246.8 492.0h0M270.8 518.4h0M317.0 524.2h0M311.1 516.7h0M291.5 502.0h0M240.5 483.8h0M240.8 523.4h0M241.0 490.4h0M314.2 492.1h0M310.0 527.0h0M265.2 511.9h0M249.7 503.4h0M251.0 488.4h0M268.2 525.4h0M307.6 521.6h0M248.6 475.4h0M294.1 496.5h0M275.1 518.5h0M236.6 517.0h0M246.2 461.9h0M259.6 453.0h0M261.1 465.5h0M255.4 491.8h0M302.0 506.3h0M282.0 520.5h0M271.0 438.3h0M325.0 484.3h0M301.6 451.3h0M297.9 507.8h0M251.0 493.9h0M289.9 498.6h0M289.3 512.1h0M260.9 500.5h0M308.8 495.6h0M257.7 450.2h0M284.2 495.2h0M321.7 490.0h0M286.9 487.3h0M286.6 520.9h0M255.9 492.7h0M243.1 492.2h0M241.6 509.0h0M267.5 520.4h0M293.6 520.2h0M236.8 517.7h0M298.3 507.6h0M308.1 496.7h0M270.4 520.1h0M296.7 523.1h0M305.8 492.6h0M255.6 455.6h0M263.0 514.6h0M284.8 493.7h0M311.3 520.2h0M305.4 523.6h0M251.5 480.6h0M243.2 510.5h0M252.4 510.9h0M309.9 520.3h0M234.3 487.4h0M284.4 490.3h0M238.8 505.6h0M236.2 477.3h0M263.4 519.3h0M288.6 521.2h0M286.6 492.0h0M249.1 495.8h0M252.3 513.0h0M295.6 499.8h0M299.7 464.2h0M291.5 444.5h0M306.5 504.8h0M276.9 522.3h0M267.7 450.9h0M310.2 495.4h0M312.0 496.2h0M255.0 486.9h0M267.1 518.4h0M281.9 493.6h0M297.9 499.8h0M290.3 490.4h0M257.3 509.9h0M232.9 502.4h0M285.6 443.0h0M233.1 497.4h0M248.4 453.1h0M287.1 489.0h0M254.0 516.0h0M245.6 492.6h0M243.9 456.3h0M259.3 461.1h0M318.9 492.6h0M250.1 497.0h0M242.2 477.2h0M274.0 457.3h0M305.0 516.9h0M280.0 500.2h0M324.9 476.8h0M313.2 524.3h0M241.6 486.0h0M308.2 520.9h0M267.8 508.2h0M251.3 492.6h0M308.5 507.2h0M241.7 507.1h0M279.1 508.6h0M257.3 479.2h0M252.6 489.9h0M264.9 502.1h0M244.3 499.3h0M280.3 515.3h0M243.1 474.0h0M252.4 498.2h0M312.4 498.0h0M260.4 520.7h0M310.1 522.1h0M308.0 494.3h0M325.5 485.7h0M316.3 494.8h0M300.5 495.5h0M324.4 486.0h0M305.1 495.9h0M259.4 499.5h0M262.4 511.4h0M284.9 515.2h0M279.8 514.8h0M287.9 503.4h0M285.1 491.9h0M251.1 478.2h0M267.8 524.8h0M306.2 510.4h0M248.4 495.6h0M256.5 522.5h0M323.0 490.6h0M249.2 516.1h0M277.2 510.9h0M308.4 520.4h0M312.8 524.3h0M275.9 444.5h0M256.3 451.1h0M281.2 504.9h0M242.4 490.8h0M244.5 470.3h0M272.4 492.2h0M242.0 482.0h0M315.2 488.3h0M306.7 495.7h0M276.2 515.5h0M286.3 486.6h0M276.2 497.4h0M284.8 507.0h0M247.0 494.3h0M277.6 514.4h0M297.1 496.2h0M297.6 519.9h0M268.8 494.7h0M246.8 496.6h0M307.6 504.9h0M251.0 490.5h0M261.3 518.6h0M300.1 501.0h0M283.2 485.4h0M301.0 492.0h0M280.8 465.5h0M251.4 485.4h0M237.6 491.6h0M274.9 525.2h0M257.5 493.1h0M266.8 501.1h0M296.4 491.9h0M262.2 484.1h0M300.2 501.4h0M283.6 499.3h0M261.5 504.8h0M237.3 509.9h0M297.8 504.2h0M270.8 487.4h0M237.3 491.4h0M259.5 462.5h0M290.6 440.8h0M257.9 507.1h0M280.0 504.0h0" stroke="#fee08b" stroke-width="2.50" stroke-linecap="round" fill="none"/>
<path d="M277.0 456.1h0M323.2 478.7h0M297.4 463.6h0M342.6 460.8h0M325.0 475.7h0M240.8 478.7h0M238.6 481.9h0M321.0 483.1h0M239.8 462.0h0M286.9 453.6h0M240.9 479.8h0M234.4 480.6h0M250.6 465.2h0M236.8 460.0h0M261.7 453.1h0M268.8 445.8h0M324.5 459.6h0M247.5 485.3h0M321.9 487.3h0M327.6 462.3h0M342.0 459.0h0M240.2 480.4h0M262.1 461.7h0M344.0 462.7h0M328.5 475.3h0M335.6 473.1h0M294.9 447.7h0M298.3 460.0h0M270.2 437.9h0M304.7 454.0h0M314.9 457.5h0M245.9 450.0h0M324.0 468.5h0M340.2 470.0h0M290.6 461.9h0M336.4 463.1h0M258.2 454.5h0M327.7 464.5h0M325.5 461.7h0M293.6 444.9h0M274.9 457.4h0M255.9 466.7h0M272.2 435.9h0M290.5 488.4h0M327.8 472.0h0M266.3 443.4h0M269.6 484.7h0M290.9 444.1h0M346.5 463.3h0M266.0 444.4h0M298.6 463.5h0M243.7 476.0h0M292.4 439.8h0M331.0 466.9h0M312.6 464.8h0M257.6 443.1h0M277.3 488.7h0M238.1 466.1h0M242.5 459.7h0M248.2 474.0h0M298.8 450.4h0M257.8 486.7h0M244.0 480.9h0M244.9 457.0h0M258.1 480.2h0M257.9 442.0h0M289.0 488.4h0M248.6 458.4h0M250.7 448.0h0M349.3 466.9h0M247.7 486.2h0M252.9 457.4h0M238.4 460.1h0M345.5 464.7h0M337.0 461.4h0M237.3 470.8h0M255.9 488.5h0M247.6 458.3h0M254.7 467.8h0M277.8 447.9h0M269.3 459.6h0M238.1 459.0h0M320.1 458.5h0M253.3 467.4h0M292.7 445.0h0M291.5 449.3h0M293.1 441.7h0M270.9 464.1h0M286.7 438.5h0M342.9 469.1h0M259.3 487.6h0M277.9 453.4h0M321.3 483.0h0M242.8 480.4h0M323.6 484.7h0M282.4 444.6h0M274.2 435.1h0M278.6 434.9h0M344.0 463.9h0M275.9 486.4h0M259.9 441.0h0M322.5 460.0h0M247.7 474.6h0M276.6 440.5h0M332.3 458.1h0M260.3 486.7h0M267.5 483.2h0M301.9 456.3h0M266.7 444.8h0M248.4 448.9h0M258.2 489.0h0M331.7 466.8h0M260.3 459.3h0M320.8 466.3h0M329.0 467.6h0M334.8 458.7h0M244.1 470.6h0M312.5 457.9h0M239.1 478.6h0M320.8 464.9h0M295.4 463.0h0M237.7 456.3h0M251.5 451.2h0M284.5 486.6h0M275.9 440.4h0M290.6 488.2h0M336.6 465.8h0M251.5 484.0h0M258.9 488.1h0M272.0 458.7h0M264.8 487.5h0M244.9 478.7h0M248.2 447.3h0M291.6 465.5h0M325.1 472.0h0M318.4 461.6h0M253.6 454.5h0M246.9 475.5h0M279.0 488.3h0M284.4 437.5h0M317.2 466.4h0M286.8 488.2h0M299.4 453.6h0M238.3 479.0h0M321.8 459.4h0M316.0 457.8h0M324.8 471.2h0M248.8 482.8h0M336.7 463.6h0M260.2 485.9h0M264.4 483.2h0M315.5 466.0h0M233.4 487.1h0M266.5 443.8h0M306.9 453.5h0M331.9 471.7h0M325.1 487.1h0M283.3 463.2h0M260.4 458.4h0M316.8 466.7h0M350.7 464.4h0M240.2 467.6h0M308.7 464.6h0M271.9 457.4h0M273.5 485.6h0M265.2 489.5h0M339.5 463.3h0M238.7 479.2h0M244.6 469.6h0M319.2 459.2h0M266.0 467.2h0M287.1 446.0h0M252.5 477.7h0M259.6 466.4h0M269.9 454.8h0M286.9 460.0h0M320.1 459.6h0M251.0 472.8h0" stroke="#66c2a5" stroke-width="2.50" stroke-linecap="round" fill="none"/>
<path d="M239.3 511.3h0M250.3 514.9h0M234.5 512.2h0M262.2 516.3h0M258.0 521.8h0M239.9 518.8h0M258.8 521.6h0M257.7 516.7h0M247.2 510.9h0M232.7 515.0h0M250.7 519.6h0M248.9 520.5h0M236.4 510.8h0M233.4 515.4h0M239.2 519.0h0M258.8 507.9h0M258.2 517.4h0M236.2 515.2h0M239.2 514.8h0M235.6 514.4h0M243.1 508.0h0M246.0 508.3h0M262.4 524.2h0M249.1 518.5h0M242.1 521.1h0M252.9 513.5h0M245.3 524.8h0M250.0 522.7h0M251.1 518.6h0M245.6 515.3h0M235.7 518.3h0M233.0 508.5h0M252.5 509.8h0M257.4 515.4h0M242.3 522.6h0M244.1 518.5h0M235.3 509.8h0M261.5 510.8h0M247.3 520.1h0M256.0 520.2h0M263.2 513.5h0" stroke="#d53e4f" stroke-width="2.50" stroke-linecap="round" fill="none"/>
<line x1="73.1" y1="430.3" x2="73.1" y2="535" stroke="#111" stroke-width="1.4"/>
<line x1="72.4" y1="534.3" x2="204" y2="534.3" stroke="#111" stroke-width="1.4"/>
<line x1="74.9" y1="534.3" x2="74.9" y2="536.8" stroke="#111" stroke-width="1"/>
<text x="74.9" y="543.9" font-size="8.2" text-anchor="middle" fill="#222">−5.0</text>
<line x1="98.3" y1="534.3" x2="98.3" y2="536.8" stroke="#111" stroke-width="1"/>
<text x="98.3" y="543.9" font-size="8.2" text-anchor="middle" fill="#222">−2.5</text>
<line x1="121.9" y1="534.3" x2="121.9" y2="536.8" stroke="#111" stroke-width="1"/>
<text x="121.9" y="543.9" font-size="8.2" text-anchor="middle" fill="#222">0.0</text>
<line x1="146" y1="534.3" x2="146" y2="536.8" stroke="#111" stroke-width="1"/>
<text x="146.0" y="543.9" font-size="8.2" text-anchor="middle" fill="#222">2.5</text>
<line x1="171.2" y1="534.3" x2="171.2" y2="536.8" stroke="#111" stroke-width="1"/>
<text x="171.2" y="543.9" font-size="8.2" text-anchor="middle" fill="#222">5.0</text>
<line x1="196.4" y1="534.3" x2="196.4" y2="536.8" stroke="#111" stroke-width="1"/>
<text x="196.4" y="543.9" font-size="8.2" text-anchor="middle" fill="#222">7.5</text>
<line x1="70.6" y1="456.2" x2="73.1" y2="456.2" stroke="#111" stroke-width="1"/>
<text x="69.9" y="459.1" font-size="8.2" text-anchor="end" fill="#222">4</text>
<line x1="70.6" y1="484.6" x2="73.1" y2="484.6" stroke="#111" stroke-width="1"/>
<text x="69.9" y="487.5" font-size="8.2" text-anchor="end" fill="#222">0</text>
<line x1="70.6" y1="511.8" x2="73.1" y2="511.8" stroke="#111" stroke-width="1"/>
<text x="69.9" y="514.7" font-size="8.2" text-anchor="end" fill="#222">−4</text>
<text x="0" y="0" font-size="7.17" transform="translate(113.30 549.91) scale(1.159 1)">Component1</text>
<text x="0" y="0" font-size="9.05" transform="translate(62.60 487.90) rotate(-90) scale(0.961 1) translate(-25.91 2.22)">Component2</text>
<text x="0" y="0" font-size="7.17" transform="translate(113.60 425.51) scale(1.200 1)">CytoTR ACE</text>
<line x1="224.5" y1="430.3" x2="224.5" y2="534" stroke="#111" stroke-width="1.4"/>
<line x1="223.8" y1="533.3" x2="355.9" y2="533.3" stroke="#111" stroke-width="1.4"/>
<line x1="227.3" y1="533.3" x2="227.3" y2="535.8" stroke="#111" stroke-width="1"/>
<text x="227.3" y="542.9" font-size="8.2" text-anchor="middle" fill="#222">−5.0</text>
<line x1="251.9" y1="533.3" x2="251.9" y2="535.8" stroke="#111" stroke-width="1"/>
<text x="251.9" y="542.9" font-size="8.2" text-anchor="middle" fill="#222">−2.5</text>
<line x1="276.4" y1="533.3" x2="276.4" y2="535.8" stroke="#111" stroke-width="1"/>
<text x="276.4" y="542.9" font-size="8.2" text-anchor="middle" fill="#222">0.0</text>
<line x1="301.6" y1="533.3" x2="301.6" y2="535.8" stroke="#111" stroke-width="1"/>
<text x="301.6" y="542.9" font-size="8.2" text-anchor="middle" fill="#222">2.5</text>
<line x1="326.1" y1="533.3" x2="326.1" y2="535.8" stroke="#111" stroke-width="1"/>
<text x="326.1" y="542.9" font-size="8.2" text-anchor="middle" fill="#222">5.0</text>
<line x1="350.7" y1="533.3" x2="350.7" y2="535.8" stroke="#111" stroke-width="1"/>
<text x="350.7" y="542.9" font-size="8.2" text-anchor="middle" fill="#222">7.5</text>
<line x1="222" y1="456.6" x2="224.5" y2="456.6" stroke="#111" stroke-width="1"/>
<text x="221.3" y="459.5" font-size="8.2" text-anchor="end" fill="#222">4</text>
<line x1="222" y1="484.3" x2="224.5" y2="484.3" stroke="#111" stroke-width="1"/>
<text x="221.3" y="487.2" font-size="8.2" text-anchor="end" fill="#222">0</text>
<line x1="222" y1="512.3" x2="224.5" y2="512.3" stroke="#111" stroke-width="1"/>
<text x="221.3" y="515.2" font-size="8.2" text-anchor="end" fill="#222">−4</text>
<text x="0" y="0" font-size="7.17" transform="translate(268.00 549.71) scale(1.159 1)">Component1</text>
<text x="0" y="0" font-size="9.05" transform="translate(207.00 485.30) rotate(-90) scale(0.961 1) translate(-25.91 2.22)">Component2</text>
<text x="0" y="0" font-size="8.72" transform="translate(275.30 427.00) scale(1.012 1)">DLL4</text>
<defs><linearGradient id="gspec" x1="0" y1="0" x2="0" y2="1"><stop offset="0.000" stop-color="#5e4fa2"/><stop offset="0.111" stop-color="#3288bd"/><stop offset="0.222" stop-color="#66c2a5"/><stop offset="0.333" stop-color="#abdda4"/><stop offset="0.444" stop-color="#e6f598"/><stop offset="0.556" stop-color="#fee08b"/><stop offset="0.667" stop-color="#fdae61"/><stop offset="0.778" stop-color="#f46d43"/><stop offset="0.889" stop-color="#d53e4f"/><stop offset="1.000" stop-color="#9e0142"/></linearGradient></defs>
<rect x="0.8" y="471.8" width="8" height="34.6" fill="url(#gspec)"/>
<text x="0" y="0" font-size="8.30" transform="translate(0.80 461.02) scale(1.007 1)">Predicted</text>
<text x="0" y="0" font-size="8.98" transform="translate(0.80 468.71) scale(0.916 1)">order</text>
<text x="9.4" y="474.2" font-size="8.4" fill="#222" textLength="48.2" lengthAdjust="spacingAndGlyphs">1.0(Less.diff)</text>
<text x="9.4" y="480.3" font-size="8.4" fill="#222">0.8</text>
<text x="9.4" y="486.5" font-size="8.4" fill="#222">0.6</text>
<text x="9.4" y="492.7" font-size="8.4" fill="#222">0.4</text>
<text x="9.4" y="499.6" font-size="8.4" fill="#222">0.2</text>
<text x="9.4" y="506.6" font-size="8.4" fill="#222" textLength="48.2" lengthAdjust="spacingAndGlyphs">0.0(More.diff)</text>
<defs><linearGradient id="gspec2" x1="0" y1="0" x2="0" y2="1"><stop offset="0.000" stop-color="#9e0142"/><stop offset="0.111" stop-color="#d53e4f"/><stop offset="0.222" stop-color="#f46d43"/><stop offset="0.333" stop-color="#fdae61"/><stop offset="0.444" stop-color="#fee08b"/><stop offset="0.556" stop-color="#e6f598"/><stop offset="0.667" stop-color="#abdda4"/><stop offset="0.778" stop-color="#66c2a5"/><stop offset="0.889" stop-color="#3288bd"/><stop offset="1.000" stop-color="#5e4fa2"/></linearGradient></defs>
<rect x="364.7" y="472.4" width="7.7" height="32.9" fill="url(#gspec2)"/>
<text x="0" y="0" font-size="8.47" transform="translate(364.00 462.72) scale(0.917 1)">Gene</text>
<text x="0" y="0" font-size="7.50" transform="translate(364.00 468.34) scale(1.102 1)">expression</text>
<text x="373.4" y="475.5" font-size="8" fill="#222">5</text>
<text x="373.4" y="481.6" font-size="8" fill="#222">4</text>
<text x="373.4" y="487.7" font-size="8" fill="#222">3</text>
<text x="373.4" y="493.8" font-size="8" fill="#222">2</text>
<text x="373.4" y="499.9" font-size="8" fill="#222">1</text>
<text x="373.4" y="506.0" font-size="8" fill="#222">0</text>
<text x="0" y="0" font-size="14.48" fill="#111" transform="translate(405.00 430.00) scale(1.197 1)">k</text>
<text x="0" y="0" font-size="9.30" transform="translate(475.40 424.20) scale(0.901 1)">TTN</text>
<text x="0" y="0" font-size="5.20" transform="translate(492.30 421.60) scale(0.907 1)">High</text>
<text x="0" y="0" font-size="9.45" transform="translate(600.60 424.70) scale(0.866 1)">TTN</text>
<text x="0" y="0" font-size="5.20" transform="translate(616.80 422.20) scale(1.036 1)">Low</text>
<rect x="426.7" y="427.6" width="243.4" height="1.8" fill="#bdbdc8"/>
<rect x="426.7" y="429.4" width="243.4" height="9.3" fill="#050505"/>
<text x="0" y="0" font-size="8.43" fill="#3a55d8" transform="translate(436.00 437.40) scale(1.027 1)">DAPI</text>
<text x="0" y="0" font-size="8.43" fill="#c9a227" transform="translate(479.40 437.40) scale(0.982 1)">TTN</text>
<text x="0" y="0" font-size="7.40" fill="#2fb5b5" transform="translate(533.60 436.76) scale(1.170 1)">EpCAM</text>
<text x="0" y="0" font-size="8.43" fill="#c552d2" transform="translate(593.90 437.40) scale(1.032 1)">DLL4</text>
<text x="0" y="0" font-size="8.3" transform="translate(628.8 437.4) scale(1.05 1)"><tspan fill="#3a55d8">M</tspan><tspan fill="#c9a227">E</tspan><tspan fill="#2fb5b5">RG</tspan><tspan fill="#c552d2">E</tspan></text>
<defs>
<filter id="fnoise" x="0" y="0" width="1" height="1" color-interpolation-filters="sRGB"><feTurbulence type="fractalNoise" baseFrequency="0.55" numOctaves="2" seed="4"/><feColorMatrix type="matrix" values="0 0 0 0 0  0 0 0 0 0  0 0 0 0 0  0 0 -3 0 1.9"/><feComposite operator="in" in2="SourceGraphic"/></filter>
<filter id="fnest" x="0" y="0" width="1" height="1" color-interpolation-filters="sRGB"><feTurbulence type="fractalNoise" baseFrequency="0.035 0.06" numOctaves="3" seed="11"/><feColorMatrix type="matrix" values="0 0 0 0 0.62  0 0 0 0 0.82  0 0 0 0 0.66  5 0 0 0 -2.35"/><feComposite operator="in" in2="SourceGraphic"/></filter>
<filter id="fcell" x="0" y="0" width="1" height="1" color-interpolation-filters="sRGB"><feTurbulence type="turbulence" baseFrequency="0.28" numOctaves="1" seed="2"/><feColorMatrix type="matrix" values="0 0 0 0 0.9  0 0 0 0 1  0 0 0 0 0.92  -6 0 0 0 1.1"/><feComposite operator="in" in2="SourceGraphic"/></filter>
<filter id="fmag" x="0" y="0" width="1" height="1" color-interpolation-filters="sRGB"><feTurbulence type="fractalNoise" baseFrequency="0.04 0.05" numOctaves="3" seed="5"/><feColorMatrix type="matrix" values="0 0 0 0 0.72  0 0 0 0 0.33  0 0 0 0 0.85  5 0 0 0 -2.2"/><feComposite operator="in" in2="SourceGraphic"/></filter>
<filter id="fholes" x="0" y="0" width="1" height="1" color-interpolation-filters="sRGB"><feTurbulence type="fractalNoise" baseFrequency="0.22" numOctaves="2" seed="13"/><feColorMatrix type="matrix" values="0 0 0 0 0.05  0 0 0 0 0.06  0 0 0 0 0.2  0 0 -7 0 3.0"/><feComposite operator="in" in2="SourceGraphic"/></filter>
<filter id="fdisp" x="-5%" y="-5%" width="110%" height="110%"><feTurbulence type="fractalNoise" baseFrequency="0.09" numOctaves="2" seed="7" result="t"/><feDisplacementMap in="SourceGraphic" in2="t" scale="9" xChannelSelector="R" yChannelSelector="G"/></filter>
<filter id="fmag2" x="0" y="0" width="1" height="1" color-interpolation-filters="sRGB"><feTurbulence type="turbulence" baseFrequency="0.3" numOctaves="1" seed="9"/><feColorMatrix type="matrix" values="0 0 0 0 0.95  0 0 0 0 0.75  0 0 0 0 1  -6 0 0 0 1.0"/><feComposite operator="in" in2="SourceGraphic"/></filter>
</defs>
<rect x="426.7" y="438.7" width="243.4" height="22.4" fill="#777"/>
<rect x="426.7" y="439.6" width="30.1" height="20.4" fill="#1b2368"/>
<rect x="426.7" y="439.6" width="30.1" height="20.4" fill="#000" filter="url(#fnoise)" opacity="0.5"/>
<rect x="452.3" y="457.6" width="3.2" height="0.8" fill="#ddd"/>
<rect x="457.8" y="439.6" width="29.2" height="20.4" fill="#5e5120"/>
<rect x="457.8" y="439.6" width="29.2" height="20.4" fill="#000" filter="url(#fnoise)" opacity="0.5"/>
<rect x="482.5" y="457.6" width="3.2" height="0.8" fill="#ddd"/>
<rect x="488" y="439.6" width="29.7" height="20.4" fill="#1d6f70"/>
<rect x="488" y="439.6" width="29.7" height="20.4" fill="#000" filter="url(#fnoise)" opacity="0.5"/>
<rect x="513.2" y="457.6" width="3.2" height="0.8" fill="#ddd"/>
<rect x="518.7" y="439.6" width="29.6" height="20.4" fill="#1a0e1c"/>
<rect x="518.7" y="439.6" width="29.6" height="20.4" fill="#000" filter="url(#fnoise)" opacity="0.5"/>
<rect x="543.8" y="457.6" width="3.2" height="0.8" fill="#ddd"/>
<rect x="549.1" y="439.6" width="29.6" height="20.4" fill="#1d2570"/>
<rect x="549.1" y="439.6" width="29.6" height="20.4" fill="#000" filter="url(#fnoise)" opacity="0.5"/>
<rect x="574.2" y="457.6" width="3.2" height="0.8" fill="#ddd"/>
<rect x="579.7" y="439.6" width="29.1" height="20.4" fill="#141510"/>
<rect x="579.7" y="439.6" width="29.1" height="20.4" fill="#000" filter="url(#fnoise)" opacity="0.5"/>
<rect x="604.3" y="457.6" width="3.2" height="0.8" fill="#ddd"/>
<rect x="610" y="439.6" width="29.4" height="20.4" fill="#24807f"/>
<rect x="610" y="439.6" width="29.4" height="20.4" fill="#000" filter="url(#fnoise)" opacity="0.5"/>
<rect x="634.9" y="457.6" width="3.2" height="0.8" fill="#ddd"/>
<rect x="640.6" y="439.6" width="29.5" height="20.4" fill="#6f2475"/>
<rect x="640.6" y="439.6" width="29.5" height="20.4" fill="#000" filter="url(#fnoise)" opacity="0.5"/>
<rect x="665.6" y="457.6" width="3.2" height="0.8" fill="#ddd"/>
<ellipse cx="463.2" cy="455.4" rx="3.0" ry="1.4" fill="none" stroke="#d8b840" stroke-width="0.6" opacity="0.85"/>
<ellipse cx="472.3" cy="448.6" rx="2.8" ry="2.2" fill="none" stroke="#d8b840" stroke-width="0.6" opacity="0.85"/>
<ellipse cx="462.2" cy="441.5" rx="3.2" ry="1.6" fill="none" stroke="#d8b840" stroke-width="0.6" opacity="0.85"/>
<ellipse cx="479.0" cy="441.0" rx="2.4" ry="2.1" fill="none" stroke="#d8b840" stroke-width="0.6" opacity="0.85"/>
<ellipse cx="465.6" cy="457.1" rx="3.3" ry="1.0" fill="none" stroke="#d8b840" stroke-width="0.6" opacity="0.85"/>
<ellipse cx="460.4" cy="450.2" rx="3.4" ry="1.6" fill="none" stroke="#d8b840" stroke-width="0.6" opacity="0.85"/>
<ellipse cx="465.3" cy="448.2" rx="1.6" ry="1.3" fill="none" stroke="#d8b840" stroke-width="0.6" opacity="0.85"/>
<ellipse cx="470.8" cy="449.4" rx="2.0" ry="1.3" fill="none" stroke="#d8b840" stroke-width="0.6" opacity="0.85"/>
<ellipse cx="465.3" cy="448.8" rx="2.1" ry="1.0" fill="none" stroke="#d8b840" stroke-width="0.6" opacity="0.85"/>
<ellipse cx="480.9" cy="450.5" rx="2.8" ry="1.3" fill="none" stroke="#d8b840" stroke-width="0.6" opacity="0.85"/>
<ellipse cx="484.8" cy="455.6" rx="1.7" ry="1.5" fill="none" stroke="#d8b840" stroke-width="0.6" opacity="0.85"/>
<ellipse cx="478.0" cy="453.1" rx="3.4" ry="1.6" fill="none" stroke="#d8b840" stroke-width="0.6" opacity="0.85"/>
<ellipse cx="480.7" cy="452.4" rx="2.1" ry="1.9" fill="none" stroke="#d8b840" stroke-width="0.6" opacity="0.85"/>
<ellipse cx="482.0" cy="455.4" rx="2.5" ry="1.9" fill="none" stroke="#d8b840" stroke-width="0.6" opacity="0.85"/>
<ellipse cx="460.7" cy="445.1" rx="3.1" ry="1.6" fill="none" stroke="#d8b840" stroke-width="0.6" opacity="0.85"/>
<ellipse cx="464.2" cy="450.3" rx="2.9" ry="2.0" fill="none" stroke="#d8b840" stroke-width="0.6" opacity="0.85"/>
<ellipse cx="469.2" cy="448.5" rx="2.5" ry="2.2" fill="none" stroke="#d8b840" stroke-width="0.6" opacity="0.85"/>
<ellipse cx="472.9" cy="447.7" rx="2.5" ry="1.0" fill="none" stroke="#d8b840" stroke-width="0.6" opacity="0.85"/>
<ellipse cx="514.6" cy="457.1" rx="1.6" ry="1.1" fill="none" stroke="#50e0d8" stroke-width="0.6" opacity="0.85"/>
<ellipse cx="511.5" cy="453.5" rx="2.8" ry="1.5" fill="none" stroke="#50e0d8" stroke-width="0.6" opacity="0.85"/>
<ellipse cx="505.6" cy="451.3" rx="2.7" ry="1.2" fill="none" stroke="#50e0d8" stroke-width="0.6" opacity="0.85"/>
<ellipse cx="501.1" cy="447.7" rx="2.9" ry="2.5" fill="none" stroke="#50e0d8" stroke-width="0.6" opacity="0.85"/>
<ellipse cx="514.4" cy="450.3" rx="2.4" ry="1.4" fill="none" stroke="#50e0d8" stroke-width="0.6" opacity="0.85"/>
<ellipse cx="490.9" cy="441.5" rx="2.4" ry="1.5" fill="none" stroke="#50e0d8" stroke-width="0.6" opacity="0.85"/>
<ellipse cx="499.8" cy="456.2" rx="2.6" ry="1.8" fill="none" stroke="#50e0d8" stroke-width="0.6" opacity="0.85"/>
<ellipse cx="496.1" cy="441.4" rx="2.2" ry="1.2" fill="none" stroke="#50e0d8" stroke-width="0.6" opacity="0.85"/>
<ellipse cx="503.1" cy="458.0" rx="2.8" ry="1.3" fill="none" stroke="#50e0d8" stroke-width="0.6" opacity="0.85"/>
<ellipse cx="513.0" cy="454.5" rx="3.0" ry="2.4" fill="none" stroke="#50e0d8" stroke-width="0.6" opacity="0.85"/>
<ellipse cx="509.6" cy="454.4" rx="2.2" ry="2.5" fill="none" stroke="#50e0d8" stroke-width="0.6" opacity="0.85"/>
<ellipse cx="514.7" cy="443.7" rx="3.0" ry="2.1" fill="none" stroke="#50e0d8" stroke-width="0.6" opacity="0.85"/>
<ellipse cx="501.9" cy="450.0" rx="2.5" ry="2.4" fill="none" stroke="#50e0d8" stroke-width="0.6" opacity="0.85"/>
<ellipse cx="502.9" cy="455.1" rx="2.2" ry="2.3" fill="none" stroke="#50e0d8" stroke-width="0.6" opacity="0.85"/>
<ellipse cx="513.1" cy="448.8" rx="2.6" ry="2.4" fill="none" stroke="#50e0d8" stroke-width="0.6" opacity="0.85"/>
<ellipse cx="508.6" cy="449.3" rx="1.9" ry="1.5" fill="none" stroke="#50e0d8" stroke-width="0.6" opacity="0.85"/>
<ellipse cx="508.0" cy="443.8" rx="3.3" ry="1.4" fill="none" stroke="#50e0d8" stroke-width="0.6" opacity="0.85"/>
<ellipse cx="513.4" cy="446.3" rx="3.4" ry="2.1" fill="none" stroke="#50e0d8" stroke-width="0.6" opacity="0.85"/>
<ellipse cx="618.0" cy="450.3" rx="2.2" ry="1.9" fill="none" stroke="#50e0d8" stroke-width="0.6" opacity="0.85"/>
<ellipse cx="627.9" cy="442.1" rx="1.5" ry="2.3" fill="none" stroke="#50e0d8" stroke-width="0.6" opacity="0.85"/>
<ellipse cx="618.6" cy="445.0" rx="3.5" ry="1.7" fill="none" stroke="#50e0d8" stroke-width="0.6" opacity="0.85"/>
<ellipse cx="633.2" cy="449.1" rx="2.8" ry="1.2" fill="none" stroke="#50e0d8" stroke-width="0.6" opacity="0.85"/>
<ellipse cx="628.1" cy="455.8" rx="2.5" ry="2.1" fill="none" stroke="#50e0d8" stroke-width="0.6" opacity="0.85"/>
<ellipse cx="629.1" cy="442.1" rx="3.0" ry="1.9" fill="none" stroke="#50e0d8" stroke-width="0.6" opacity="0.85"/>
<ellipse cx="619.7" cy="441.5" rx="3.2" ry="1.7" fill="none" stroke="#50e0d8" stroke-width="0.6" opacity="0.85"/>
<ellipse cx="630.3" cy="455.9" rx="2.9" ry="2.4" fill="none" stroke="#50e0d8" stroke-width="0.6" opacity="0.85"/>
<ellipse cx="622.0" cy="454.6" rx="2.4" ry="2.4" fill="none" stroke="#50e0d8" stroke-width="0.6" opacity="0.85"/>
<ellipse cx="634.3" cy="442.7" rx="1.8" ry="1.3" fill="none" stroke="#50e0d8" stroke-width="0.6" opacity="0.85"/>
<ellipse cx="636.5" cy="448.4" rx="2.8" ry="1.5" fill="none" stroke="#50e0d8" stroke-width="0.6" opacity="0.85"/>
<ellipse cx="624.9" cy="447.6" rx="2.2" ry="1.9" fill="none" stroke="#50e0d8" stroke-width="0.6" opacity="0.85"/>
<ellipse cx="626.8" cy="456.4" rx="2.9" ry="2.4" fill="none" stroke="#50e0d8" stroke-width="0.6" opacity="0.85"/>
<ellipse cx="633.8" cy="457.8" rx="2.8" ry="1.2" fill="none" stroke="#50e0d8" stroke-width="0.6" opacity="0.85"/>
<ellipse cx="633.9" cy="457.4" rx="3.3" ry="1.9" fill="none" stroke="#50e0d8" stroke-width="0.6" opacity="0.85"/>
<ellipse cx="630.1" cy="444.6" rx="3.2" ry="1.9" fill="none" stroke="#50e0d8" stroke-width="0.6" opacity="0.85"/>
<ellipse cx="624" cy="447" rx="3.5" ry="4.5" fill="#0a0a0a"/>
<ellipse cx="648.6" cy="442.8" rx="2.3" ry="1.2" fill="none" stroke="#d060e0" stroke-width="0.6" opacity="0.85"/>
<ellipse cx="644.3" cy="447.8" rx="3.3" ry="2.2" fill="none" stroke="#d060e0" stroke-width="0.6" opacity="0.85"/>
<ellipse cx="662.1" cy="444.8" rx="2.6" ry="1.4" fill="none" stroke="#d060e0" stroke-width="0.6" opacity="0.85"/>
<ellipse cx="647.0" cy="442.8" rx="1.9" ry="2.4" fill="none" stroke="#d060e0" stroke-width="0.6" opacity="0.85"/>
<ellipse cx="663.7" cy="454.7" rx="3.1" ry="1.3" fill="none" stroke="#d060e0" stroke-width="0.6" opacity="0.85"/>
<ellipse cx="650.5" cy="451.7" rx="3.0" ry="2.3" fill="none" stroke="#d060e0" stroke-width="0.6" opacity="0.85"/>
<ellipse cx="665.0" cy="442.5" rx="2.7" ry="2.0" fill="none" stroke="#d060e0" stroke-width="0.6" opacity="0.85"/>
<ellipse cx="655.5" cy="444.0" rx="2.4" ry="1.1" fill="none" stroke="#d060e0" stroke-width="0.6" opacity="0.85"/>
<ellipse cx="666.4" cy="455.7" rx="2.6" ry="1.5" fill="none" stroke="#d060e0" stroke-width="0.6" opacity="0.85"/>
<ellipse cx="665.8" cy="450.7" rx="3.3" ry="2.3" fill="none" stroke="#d060e0" stroke-width="0.6" opacity="0.85"/>
<ellipse cx="655.6" cy="448.0" rx="2.7" ry="1.6" fill="none" stroke="#d060e0" stroke-width="0.6" opacity="0.85"/>
<ellipse cx="646.7" cy="446.2" rx="3.1" ry="1.1" fill="none" stroke="#d060e0" stroke-width="0.6" opacity="0.85"/>
<ellipse cx="643.8" cy="451.6" rx="2.1" ry="1.8" fill="none" stroke="#d060e0" stroke-width="0.6" opacity="0.85"/>
<ellipse cx="654.6" cy="446.8" rx="3.5" ry="1.3" fill="none" stroke="#d060e0" stroke-width="0.6" opacity="0.85"/>
<ellipse cx="656" cy="447" rx="3" ry="3.5" fill="#2a0a30"/>
<path d="M432.3 454.0h0M437.6 444.2h0M454.7 446.1h0M446.3 450.9h0M450.3 456.8h0M445.0 455.1h0M448.7 455.9h0M436.5 449.1h0M437.6 442.2h0M449.2 457.1h0M435.9 447.0h0M428.5 457.5h0M448.6 452.4h0M441.9 446.6h0M431.3 458.8h0M430.3 446.0h0M454.0 442.0h0M437.6 458.9h0M447.2 444.9h0M433.2 456.1h0M448.3 443.8h0M450.7 449.9h0M453.8 458.2h0M445.9 454.3h0M430.2 441.7h0M452.4 442.2h0M435.8 449.1h0M429.8 455.1h0M453.9 446.0h0M450.1 454.1h0M451.4 440.5h0M443.8 443.5h0M442.1 449.9h0M429.7 441.4h0M437.4 448.8h0M428.1 453.5h0M451.2 449.8h0M429.5 443.3h0M449.1 454.3h0M434.8 442.9h0M435.8 451.6h0M434.4 442.0h0M449.6 448.7h0M441.6 451.8h0M438.6 453.6h0M439.4 454.8h0M452.3 447.7h0M439.7 440.8h0M433.3 456.8h0M449.0 457.1h0M453.9 441.7h0M433.0 451.0h0M430.0 456.2h0M429.3 458.5h0M436.3 455.6h0M429.8 446.6h0M452.0 450.4h0M431.6 452.1h0M452.9 445.2h0M436.4 453.8h0" stroke="#3b5bdc" stroke-width="0.90" stroke-linecap="round" fill="none"/>
<path d="M575.7 444.2h0M554.6 453.5h0M563.5 445.8h0M560.8 456.4h0M558.9 452.7h0M552.2 458.4h0M555.6 443.8h0M569.6 452.8h0M569.2 441.5h0M561.7 445.4h0M556.6 446.0h0M563.0 449.0h0M573.9 450.1h0M564.2 441.1h0M568.7 441.3h0M561.8 449.2h0M566.6 453.0h0M563.9 445.9h0M550.9 443.8h0M557.1 447.7h0M577.4 445.8h0M555.9 457.2h0M563.6 451.1h0M566.8 450.5h0M567.3 441.9h0M567.9 457.3h0M552.7 453.9h0M566.9 449.9h0M557.2 450.7h0M571.5 452.8h0M572.2 454.1h0M554.7 445.0h0M572.5 454.5h0M564.3 455.2h0M564.7 451.8h0M576.8 447.7h0M569.7 443.9h0M560.0 449.8h0M577.7 452.4h0M551.3 448.8h0M567.8 457.6h0M569.9 446.8h0M556.5 441.3h0M562.9 442.6h0M557.5 446.8h0M569.7 449.3h0M555.2 444.1h0M563.4 447.7h0M577.2 448.3h0M562.9 453.3h0M559.6 457.9h0M562.2 454.4h0M558.7 442.0h0M551.9 453.6h0M554.5 449.6h0M564.8 452.2h0M551.1 448.5h0M562.3 450.0h0M557.0 445.4h0M551.1 445.7h0" stroke="#3b5bdc" stroke-width="0.90" stroke-linecap="round" fill="none"/>
<clipPath id="kcl"><rect x="426.7" y="461.1" width="121" height="86"/></clipPath>
<clipPath id="kcr"><rect x="549.1" y="461.1" width="121" height="85.5"/></clipPath>
<clipPath id="nestL"><ellipse cx="448" cy="470" rx="24" ry="10" transform="rotate(10 448 470)"/><ellipse cx="494" cy="485" rx="21" ry="8.5" transform="rotate(35 494 485)"/><ellipse cx="529" cy="492" rx="12" ry="9" transform="rotate(20 529 492)"/><ellipse cx="538" cy="462" rx="14" ry="5" transform="rotate(0 538 462)"/><ellipse cx="430" cy="502" rx="7" ry="11" transform="rotate(0 430 502)"/><ellipse cx="463" cy="507" rx="28" ry="10" transform="rotate(15 463 507)"/><ellipse cx="445" cy="533" rx="20" ry="12" transform="rotate(0 445 533)"/><ellipse cx="472" cy="537" rx="11" ry="9" transform="rotate(0 472 537)"/><ellipse cx="508" cy="527" rx="16" ry="12" transform="rotate(-10 508 527)"/><ellipse cx="541" cy="526" rx="9" ry="18" transform="rotate(0 541 526)"/><ellipse cx="432" cy="482" rx="7" ry="7" transform="rotate(0 432 482)"/><ellipse cx="515" cy="470" rx="9" ry="6" transform="rotate(30 515 470)"/><ellipse cx="489" cy="545" rx="8" ry="4" transform="rotate(0 489 545)"/></clipPath>
<g clip-path="url(#kcl)">
<rect x="426.7" y="461.1" width="121" height="86" fill="#1d2892"/>
<line x1="426" y1="489" x2="548" y2="512" stroke="#3a50e0" stroke-width="5" opacity="0.6" filter="url(#bl15)"/>
<line x1="470" y1="461" x2="548" y2="478" stroke="#3a50e0" stroke-width="4" opacity="0.6" filter="url(#bl15)"/>
<line x1="426" y1="517" x2="500" y2="520" stroke="#3a50e0" stroke-width="4" opacity="0.6" filter="url(#bl15)"/>
<line x1="500" y1="495" x2="548" y2="540" stroke="#3a50e0" stroke-width="3" opacity="0.6" filter="url(#bl15)"/>
<line x1="430" y1="462" x2="470" y2="485" stroke="#3a50e0" stroke-width="2.5" opacity="0.6" filter="url(#bl15)"/>
<rect x="426.7" y="461.1" width="121" height="86" fill="#000" filter="url(#fnoise)" opacity="0.5"/>
<g filter="url(#fdisp)"><g clip-path="url(#nestL)">
<rect x="426.7" y="461.1" width="121" height="86" fill="#92c4a0"/>
<rect x="426.7" y="461.1" width="121" height="86" fill="#000" filter="url(#fcell)" opacity="0.5"/>
<g fill="#1d2a72" fill-opacity="0.85" stroke="#e6fbe9" stroke-width="0.55"><ellipse cx="523.7" cy="489.0" rx="1.5" ry="1.8"/><ellipse cx="440.9" cy="502.0" rx="1.9" ry="1.6"/><ellipse cx="444.6" cy="515.2" rx="1.8" ry="1.9"/><ellipse cx="430.4" cy="543.3" rx="1.4" ry="1.8"/><ellipse cx="488.4" cy="532.9" rx="1.4" ry="1.3"/><ellipse cx="437.5" cy="528.0" rx="1.8" ry="1.2"/><ellipse cx="450.2" cy="468.0" rx="1.4" ry="1.6"/><ellipse cx="480.0" cy="521.6" rx="1.3" ry="1.8"/><ellipse cx="545.8" cy="524.6" rx="2.1" ry="1.8"/><ellipse cx="438.5" cy="500.7" rx="1.3" ry="1.8"/><ellipse cx="492.1" cy="470.2" rx="1.7" ry="1.8"/><ellipse cx="493.8" cy="471.4" rx="2.3" ry="1.1"/><ellipse cx="529.0" cy="544.8" rx="2.1" ry="1.9"/><ellipse cx="491.2" cy="479.8" rx="1.8" ry="1.7"/><ellipse cx="520.0" cy="494.1" rx="2.3" ry="1.0"/><ellipse cx="487.0" cy="464.4" rx="1.6" ry="2.0"/><ellipse cx="441.3" cy="545.8" rx="2.3" ry="1.7"/><ellipse cx="433.8" cy="501.6" rx="2.0" ry="1.1"/><ellipse cx="463.1" cy="468.9" rx="2.2" ry="1.9"/><ellipse cx="538.8" cy="525.6" rx="1.9" ry="1.1"/><ellipse cx="485.3" cy="526.4" rx="2.1" ry="1.0"/><ellipse cx="428.0" cy="468.6" rx="2.3" ry="1.1"/><ellipse cx="474.2" cy="501.9" rx="2.3" ry="1.1"/><ellipse cx="458.6" cy="527.4" rx="1.3" ry="1.2"/><ellipse cx="430.0" cy="543.4" rx="1.5" ry="1.5"/><ellipse cx="472.9" cy="545.4" rx="2.1" ry="1.6"/><ellipse cx="486.2" cy="484.0" rx="2.2" ry="1.1"/><ellipse cx="502.2" cy="486.4" rx="1.5" ry="1.5"/><ellipse cx="449.9" cy="511.9" rx="1.3" ry="1.0"/><ellipse cx="444.1" cy="468.7" rx="2.3" ry="1.5"/><ellipse cx="509.1" cy="528.0" rx="1.4" ry="2.0"/><ellipse cx="473.5" cy="500.6" rx="1.8" ry="1.7"/><ellipse cx="520.0" cy="477.7" rx="2.2" ry="1.4"/><ellipse cx="457.4" cy="535.3" rx="2.2" ry="1.9"/><ellipse cx="466.1" cy="539.6" rx="2.1" ry="2.0"/><ellipse cx="518.3" cy="547.0" rx="1.8" ry="1.7"/><ellipse cx="521.5" cy="506.1" rx="1.8" ry="1.4"/><ellipse cx="532.1" cy="493.6" rx="2.1" ry="1.6"/><ellipse cx="512.5" cy="487.6" rx="1.3" ry="1.7"/><ellipse cx="444.5" cy="491.9" rx="2.1" ry="1.0"/><ellipse cx="537.2" cy="511.6" rx="1.9" ry="1.7"/><ellipse cx="433.9" cy="462.9" rx="2.1" ry="1.6"/><ellipse cx="504.4" cy="531.8" rx="1.5" ry="1.2"/><ellipse cx="544.2" cy="466.2" rx="1.8" ry="1.6"/><ellipse cx="542.6" cy="468.5" rx="2.0" ry="1.1"/><ellipse cx="481.9" cy="514.3" rx="2.2" ry="1.0"/><ellipse cx="517.6" cy="473.8" rx="1.7" ry="2.0"/><ellipse cx="529.9" cy="467.6" rx="1.2" ry="1.0"/><ellipse cx="521.5" cy="464.3" rx="2.1" ry="1.8"/><ellipse cx="525.9" cy="541.6" rx="2.0" ry="1.8"/><ellipse cx="492.7" cy="518.5" rx="1.3" ry="1.6"/><ellipse cx="546.8" cy="494.4" rx="2.1" ry="1.2"/><ellipse cx="485.3" cy="507.6" rx="2.1" ry="1.3"/><ellipse cx="483.7" cy="477.3" rx="1.9" ry="1.9"/><ellipse cx="473.8" cy="517.7" rx="1.9" ry="1.2"/><ellipse cx="511.3" cy="479.2" rx="1.9" ry="2.0"/><ellipse cx="464.1" cy="518.5" rx="1.6" ry="1.6"/><ellipse cx="450.1" cy="504.1" rx="2.1" ry="1.2"/><ellipse cx="469.9" cy="480.4" rx="1.4" ry="1.7"/><ellipse cx="527.6" cy="506.3" rx="1.7" ry="1.3"/><ellipse cx="456.0" cy="542.0" rx="1.8" ry="1.7"/><ellipse cx="460.8" cy="475.9" rx="1.2" ry="1.3"/><ellipse cx="477.7" cy="505.8" rx="1.9" ry="1.7"/><ellipse cx="533.1" cy="530.0" rx="2.0" ry="1.8"/><ellipse cx="492.6" cy="501.7" rx="2.3" ry="1.9"/><ellipse cx="473.7" cy="535.6" rx="1.7" ry="1.8"/><ellipse cx="429.9" cy="512.1" rx="2.3" ry="1.4"/><ellipse cx="532.4" cy="519.5" rx="1.2" ry="1.1"/><ellipse cx="467.0" cy="544.5" rx="2.0" ry="1.6"/><ellipse cx="531.1" cy="491.1" rx="1.4" ry="1.4"/><ellipse cx="536.9" cy="475.2" rx="1.8" ry="1.3"/><ellipse cx="470.2" cy="468.9" rx="2.3" ry="1.3"/><ellipse cx="522.5" cy="475.9" rx="1.7" ry="1.0"/><ellipse cx="498.2" cy="504.8" rx="1.7" ry="1.2"/><ellipse cx="504.2" cy="464.1" rx="2.3" ry="1.5"/><ellipse cx="500.9" cy="497.5" rx="1.2" ry="1.0"/><ellipse cx="514.8" cy="502.8" rx="1.5" ry="1.5"/><ellipse cx="532.4" cy="504.8" rx="1.8" ry="1.6"/><ellipse cx="532.7" cy="463.7" rx="2.0" ry="1.6"/><ellipse cx="513.7" cy="475.2" rx="2.2" ry="1.8"/><ellipse cx="460.6" cy="542.5" rx="1.3" ry="1.5"/><ellipse cx="437.5" cy="477.2" rx="2.0" ry="1.7"/><ellipse cx="485.0" cy="482.1" rx="1.9" ry="1.4"/><ellipse cx="473.4" cy="496.3" rx="1.8" ry="1.4"/><ellipse cx="441.8" cy="503.7" rx="1.5" ry="1.8"/><ellipse cx="542.6" cy="525.1" rx="1.6" ry="1.5"/><ellipse cx="516.4" cy="480.7" rx="2.2" ry="1.0"/><ellipse cx="544.1" cy="508.9" rx="2.1" ry="1.6"/><ellipse cx="529.7" cy="497.4" rx="1.3" ry="1.2"/><ellipse cx="517.3" cy="545.6" rx="1.5" ry="1.5"/><ellipse cx="521.5" cy="487.2" rx="1.5" ry="1.8"/><ellipse cx="441.1" cy="489.7" rx="1.9" ry="1.5"/><ellipse cx="541.8" cy="502.6" rx="1.7" ry="1.2"/><ellipse cx="525.8" cy="465.3" rx="1.2" ry="1.4"/><ellipse cx="524.4" cy="482.9" rx="1.8" ry="1.1"/><ellipse cx="460.9" cy="541.8" rx="2.2" ry="1.1"/><ellipse cx="542.6" cy="501.3" rx="1.4" ry="1.4"/><ellipse cx="543.4" cy="476.8" rx="2.1" ry="1.9"/><ellipse cx="537.7" cy="526.0" rx="2.3" ry="1.1"/><ellipse cx="511.1" cy="543.8" rx="1.8" ry="1.0"/><ellipse cx="462.1" cy="499.0" rx="1.7" ry="1.7"/><ellipse cx="448.0" cy="461.6" rx="2.0" ry="2.0"/><ellipse cx="485.5" cy="519.6" rx="2.1" ry="1.7"/><ellipse cx="523.1" cy="463.6" rx="2.0" ry="1.4"/><ellipse cx="473.7" cy="530.1" rx="1.4" ry="1.9"/><ellipse cx="525.3" cy="532.7" rx="2.3" ry="1.2"/><ellipse cx="498.8" cy="538.8" rx="1.9" ry="1.7"/><ellipse cx="439.7" cy="518.4" rx="1.2" ry="1.5"/><ellipse cx="430.3" cy="487.5" rx="1.3" ry="1.3"/><ellipse cx="442.6" cy="519.6" rx="1.8" ry="1.8"/><ellipse cx="525.1" cy="522.0" rx="1.9" ry="1.5"/><ellipse cx="520.2" cy="498.1" rx="1.7" ry="1.4"/><ellipse cx="430.0" cy="479.0" rx="1.9" ry="1.4"/><ellipse cx="478.6" cy="469.2" rx="1.4" ry="1.9"/><ellipse cx="523.8" cy="491.8" rx="2.3" ry="1.6"/><ellipse cx="517.6" cy="474.2" rx="2.3" ry="1.5"/><ellipse cx="443.7" cy="466.7" rx="1.3" ry="1.0"/><ellipse cx="521.0" cy="529.3" rx="1.5" ry="1.3"/><ellipse cx="537.4" cy="481.0" rx="2.3" ry="1.8"/><ellipse cx="476.5" cy="500.3" rx="1.7" ry="1.4"/><ellipse cx="512.2" cy="519.4" rx="2.4" ry="1.1"/><ellipse cx="464.4" cy="506.5" rx="2.1" ry="2.0"/><ellipse cx="526.3" cy="469.1" rx="2.1" ry="1.2"/><ellipse cx="479.2" cy="467.4" rx="1.2" ry="1.4"/><ellipse cx="533.3" cy="485.9" rx="1.2" ry="1.7"/><ellipse cx="460.8" cy="468.4" rx="1.4" ry="1.9"/><ellipse cx="536.0" cy="503.8" rx="1.8" ry="1.7"/><ellipse cx="468.5" cy="494.1" rx="2.1" ry="1.7"/><ellipse cx="534.4" cy="510.0" rx="2.2" ry="1.8"/><ellipse cx="455.7" cy="516.1" rx="1.9" ry="1.2"/><ellipse cx="453.6" cy="494.7" rx="2.3" ry="1.0"/><ellipse cx="543.6" cy="542.7" rx="1.7" ry="1.6"/><ellipse cx="463.7" cy="464.6" rx="1.2" ry="1.7"/><ellipse cx="454.7" cy="504.8" rx="1.5" ry="1.0"/><ellipse cx="474.5" cy="500.6" rx="2.4" ry="1.5"/><ellipse cx="544.5" cy="495.5" rx="2.2" ry="1.5"/><ellipse cx="429.8" cy="540.1" rx="2.0" ry="1.6"/><ellipse cx="479.8" cy="461.7" rx="2.2" ry="1.1"/><ellipse cx="440.0" cy="527.7" rx="1.6" ry="1.3"/><ellipse cx="460.0" cy="501.2" rx="2.1" ry="1.3"/><ellipse cx="442.8" cy="508.4" rx="1.6" ry="1.9"/><ellipse cx="434.6" cy="497.0" rx="1.7" ry="1.8"/><ellipse cx="449.7" cy="529.0" rx="1.9" ry="1.8"/><ellipse cx="524.6" cy="504.2" rx="2.1" ry="1.1"/><ellipse cx="518.3" cy="479.2" rx="1.9" ry="1.2"/><ellipse cx="541.7" cy="495.5" rx="2.0" ry="1.5"/><ellipse cx="510.4" cy="477.7" rx="2.1" ry="1.4"/><ellipse cx="504.7" cy="541.2" rx="2.0" ry="1.8"/><ellipse cx="486.2" cy="501.6" rx="2.3" ry="1.5"/><ellipse cx="431.7" cy="487.8" rx="1.8" ry="1.0"/><ellipse cx="438.9" cy="510.0" rx="1.4" ry="1.9"/><ellipse cx="441.6" cy="487.4" rx="1.3" ry="1.4"/><ellipse cx="428.1" cy="513.7" rx="1.4" ry="1.1"/><ellipse cx="469.7" cy="470.8" rx="1.5" ry="1.9"/><ellipse cx="465.5" cy="521.2" rx="2.0" ry="1.7"/><ellipse cx="482.0" cy="498.9" rx="2.0" ry="1.1"/><ellipse cx="432.4" cy="470.1" rx="1.2" ry="1.5"/><ellipse cx="438.0" cy="499.8" rx="1.9" ry="1.2"/><ellipse cx="508.7" cy="504.8" rx="1.6" ry="1.5"/><ellipse cx="431.1" cy="508.1" rx="1.4" ry="1.9"/><ellipse cx="494.1" cy="506.4" rx="1.5" ry="1.1"/><ellipse cx="446.1" cy="491.1" rx="1.4" ry="1.9"/><ellipse cx="463.1" cy="497.5" rx="1.7" ry="1.4"/><ellipse cx="448.6" cy="519.8" rx="2.2" ry="1.6"/><ellipse cx="455.1" cy="527.1" rx="1.2" ry="1.7"/><ellipse cx="479.8" cy="477.5" rx="2.4" ry="1.1"/><ellipse cx="465.8" cy="517.8" rx="1.3" ry="1.8"/><ellipse cx="427.1" cy="476.2" rx="2.3" ry="1.0"/><ellipse cx="532.2" cy="474.9" rx="1.7" ry="1.3"/><ellipse cx="505.9" cy="515.4" rx="1.4" ry="1.3"/><ellipse cx="486.2" cy="539.4" rx="1.8" ry="1.6"/><ellipse cx="524.6" cy="519.3" rx="2.2" ry="1.4"/><ellipse cx="515.4" cy="469.5" rx="1.4" ry="1.1"/><ellipse cx="530.4" cy="475.9" rx="1.8" ry="1.3"/><ellipse cx="460.9" cy="472.4" rx="1.7" ry="1.5"/><ellipse cx="491.0" cy="519.3" rx="2.3" ry="1.5"/><ellipse cx="493.3" cy="476.3" rx="1.7" ry="1.3"/><ellipse cx="512.2" cy="471.8" rx="1.8" ry="1.2"/><ellipse cx="535.0" cy="476.0" rx="1.9" ry="1.3"/><ellipse cx="499.4" cy="463.0" rx="2.1" ry="1.3"/><ellipse cx="475.0" cy="512.1" rx="2.3" ry="1.6"/><ellipse cx="490.4" cy="468.5" rx="1.4" ry="1.2"/><ellipse cx="530.5" cy="462.7" rx="2.2" ry="1.3"/><ellipse cx="520.1" cy="501.1" rx="2.3" ry="1.4"/><ellipse cx="446.9" cy="492.4" rx="1.9" ry="1.1"/><ellipse cx="504.6" cy="533.2" rx="1.2" ry="2.0"/><ellipse cx="467.7" cy="510.9" rx="2.3" ry="1.6"/><ellipse cx="540.9" cy="524.5" rx="2.3" ry="1.8"/><ellipse cx="488.6" cy="481.2" rx="2.0" ry="1.8"/><ellipse cx="433.7" cy="530.3" rx="1.7" ry="1.2"/><ellipse cx="439.0" cy="525.7" rx="1.7" ry="1.0"/><ellipse cx="455.6" cy="465.0" rx="1.5" ry="1.2"/><ellipse cx="477.5" cy="467.9" rx="1.2" ry="1.7"/><ellipse cx="541.0" cy="523.1" rx="1.3" ry="2.0"/><ellipse cx="528.2" cy="542.5" rx="1.7" ry="1.5"/><ellipse cx="500.3" cy="546.5" rx="2.3" ry="1.3"/><ellipse cx="429.8" cy="511.9" rx="2.1" ry="1.1"/><ellipse cx="534.7" cy="468.2" rx="2.0" ry="1.8"/><ellipse cx="544.7" cy="485.2" rx="1.8" ry="1.1"/><ellipse cx="512.1" cy="543.8" rx="2.3" ry="1.0"/><ellipse cx="442.0" cy="546.5" rx="2.3" ry="1.7"/><ellipse cx="519.8" cy="497.6" rx="2.0" ry="1.9"/><ellipse cx="481.1" cy="494.4" rx="1.5" ry="1.5"/><ellipse cx="497.9" cy="480.5" rx="1.4" ry="1.2"/><ellipse cx="441.8" cy="473.7" rx="1.7" ry="1.8"/><ellipse cx="474.9" cy="519.2" rx="1.8" ry="1.5"/><ellipse cx="539.1" cy="473.9" rx="2.0" ry="1.3"/><ellipse cx="465.0" cy="514.4" rx="2.4" ry="1.0"/><ellipse cx="463.3" cy="539.2" rx="1.4" ry="1.5"/><ellipse cx="455.5" cy="472.6" rx="2.0" ry="1.9"/><ellipse cx="505.1" cy="522.2" rx="1.5" ry="1.9"/><ellipse cx="468.1" cy="480.4" rx="1.9" ry="1.2"/><ellipse cx="527.6" cy="495.4" rx="2.2" ry="1.6"/><ellipse cx="544.5" cy="475.6" rx="1.5" ry="1.6"/><ellipse cx="456.2" cy="509.3" rx="1.5" ry="1.7"/><ellipse cx="523.0" cy="539.4" rx="2.1" ry="1.2"/><ellipse cx="457.4" cy="539.6" rx="2.0" ry="1.1"/><ellipse cx="507.7" cy="486.1" rx="2.1" ry="1.1"/><ellipse cx="528.2" cy="486.5" rx="2.4" ry="2.0"/><ellipse cx="458.5" cy="531.5" rx="1.7" ry="2.0"/><ellipse cx="478.7" cy="517.9" rx="2.3" ry="1.0"/><ellipse cx="488.5" cy="542.6" rx="2.3" ry="1.9"/><ellipse cx="500.5" cy="525.1" rx="2.2" ry="1.5"/><ellipse cx="430.7" cy="527.7" rx="2.2" ry="1.5"/><ellipse cx="503.7" cy="464.9" rx="2.3" ry="1.5"/><ellipse cx="447.5" cy="486.9" rx="1.5" ry="1.4"/><ellipse cx="480.1" cy="521.0" rx="2.2" ry="1.1"/><ellipse cx="496.5" cy="526.5" rx="1.6" ry="1.3"/><ellipse cx="436.6" cy="504.6" rx="1.4" ry="1.7"/><ellipse cx="429.7" cy="542.3" rx="2.0" ry="1.2"/><ellipse cx="491.0" cy="483.8" rx="1.7" ry="1.8"/><ellipse cx="527.4" cy="512.8" rx="2.1" ry="1.6"/><ellipse cx="431.9" cy="543.9" rx="1.4" ry="1.8"/><ellipse cx="487.9" cy="535.1" rx="1.5" ry="1.7"/><ellipse cx="534.9" cy="484.3" rx="1.5" ry="1.8"/><ellipse cx="482.1" cy="495.5" rx="1.9" ry="1.7"/><ellipse cx="428.1" cy="545.6" rx="1.7" ry="1.0"/><ellipse cx="497.8" cy="498.2" rx="1.6" ry="1.6"/><ellipse cx="437.6" cy="517.0" rx="1.6" ry="1.7"/><ellipse cx="460.5" cy="488.4" rx="2.4" ry="1.8"/><ellipse cx="502.3" cy="491.3" rx="1.4" ry="1.6"/><ellipse cx="479.7" cy="530.6" rx="1.2" ry="1.6"/><ellipse cx="430.9" cy="504.6" rx="1.7" ry="1.4"/><ellipse cx="434.2" cy="486.0" rx="1.3" ry="1.3"/><ellipse cx="518.7" cy="483.7" rx="2.2" ry="1.4"/><ellipse cx="547.2" cy="471.4" rx="1.9" ry="1.1"/><ellipse cx="511.9" cy="475.1" rx="1.6" ry="1.9"/><ellipse cx="457.6" cy="495.6" rx="1.3" ry="1.7"/><ellipse cx="493.0" cy="491.9" rx="2.0" ry="1.6"/><ellipse cx="532.9" cy="540.8" rx="2.0" ry="1.6"/><ellipse cx="442.0" cy="461.1" rx="1.4" ry="1.6"/><ellipse cx="527.2" cy="519.9" rx="1.6" ry="1.3"/><ellipse cx="537.3" cy="463.9" rx="2.3" ry="1.8"/><ellipse cx="447.4" cy="532.0" rx="1.9" ry="1.4"/><ellipse cx="442.3" cy="545.0" rx="1.7" ry="1.8"/><ellipse cx="437.6" cy="508.6" rx="1.3" ry="1.1"/><ellipse cx="515.2" cy="511.4" rx="1.8" ry="1.0"/><ellipse cx="526.9" cy="522.1" rx="1.2" ry="1.4"/><ellipse cx="499.2" cy="487.8" rx="1.7" ry="1.2"/><ellipse cx="520.0" cy="484.8" rx="2.3" ry="1.4"/><ellipse cx="540.9" cy="467.0" rx="1.5" ry="1.8"/><ellipse cx="452.0" cy="470.4" rx="1.7" ry="1.8"/><ellipse cx="512.1" cy="522.3" rx="1.8" ry="1.5"/><ellipse cx="462.9" cy="497.0" rx="1.5" ry="1.6"/><ellipse cx="538.5" cy="518.7" rx="2.3" ry="1.2"/><ellipse cx="490.4" cy="491.9" rx="2.3" ry="1.3"/><ellipse cx="489.3" cy="474.6" rx="1.2" ry="1.9"/><ellipse cx="465.8" cy="484.9" rx="2.3" ry="1.1"/><ellipse cx="448.8" cy="466.3" rx="1.9" ry="1.3"/><ellipse cx="450.6" cy="546.9" rx="2.2" ry="1.4"/><ellipse cx="504.7" cy="474.5" rx="2.0" ry="1.8"/><ellipse cx="478.0" cy="519.4" rx="1.6" ry="1.1"/><ellipse cx="457.4" cy="476.4" rx="2.0" ry="1.4"/><ellipse cx="518.9" cy="509.6" rx="1.9" ry="1.1"/><ellipse cx="494.2" cy="494.3" rx="1.9" ry="2.0"/><ellipse cx="513.2" cy="532.0" rx="2.0" ry="1.3"/><ellipse cx="436.1" cy="511.0" rx="1.3" ry="1.0"/><ellipse cx="438.2" cy="546.5" rx="2.1" ry="1.4"/><ellipse cx="475.3" cy="475.9" rx="1.8" ry="1.6"/><ellipse cx="432.6" cy="468.1" rx="1.5" ry="1.4"/><ellipse cx="533.1" cy="544.9" rx="1.3" ry="1.8"/><ellipse cx="455.0" cy="506.6" rx="2.2" ry="1.4"/><ellipse cx="514.3" cy="525.8" rx="1.6" ry="1.2"/><ellipse cx="545.2" cy="519.1" rx="1.5" ry="1.1"/><ellipse cx="481.2" cy="515.4" rx="2.2" ry="1.1"/><ellipse cx="530.5" cy="478.4" rx="1.9" ry="2.0"/><ellipse cx="483.1" cy="491.1" rx="1.9" ry="1.1"/><ellipse cx="440.0" cy="525.6" rx="1.6" ry="1.5"/><ellipse cx="461.4" cy="520.0" rx="1.3" ry="1.1"/><ellipse cx="458.7" cy="505.8" rx="2.0" ry="1.7"/><ellipse cx="449.7" cy="486.4" rx="2.2" ry="1.9"/><ellipse cx="489.2" cy="535.0" rx="2.0" ry="1.2"/><ellipse cx="530.9" cy="471.2" rx="1.4" ry="1.8"/><ellipse cx="533.7" cy="524.1" rx="2.1" ry="1.3"/><ellipse cx="474.8" cy="531.7" rx="1.7" ry="1.1"/><ellipse cx="462.4" cy="470.4" rx="1.6" ry="1.2"/><ellipse cx="469.2" cy="471.4" rx="2.3" ry="1.1"/><ellipse cx="466.4" cy="538.3" rx="1.9" ry="1.5"/><ellipse cx="514.1" cy="543.7" rx="1.6" ry="1.6"/><ellipse cx="483.5" cy="470.2" rx="1.7" ry="1.1"/><ellipse cx="486.4" cy="529.7" rx="2.1" ry="1.1"/><ellipse cx="474.4" cy="485.7" rx="1.9" ry="1.9"/><ellipse cx="503.0" cy="476.0" rx="1.2" ry="1.2"/><ellipse cx="474.0" cy="474.5" rx="1.3" ry="1.3"/><ellipse cx="447.5" cy="523.0" rx="2.4" ry="1.6"/><ellipse cx="451.8" cy="474.8" rx="2.4" ry="1.9"/><ellipse cx="486.3" cy="519.4" rx="2.4" ry="1.7"/><ellipse cx="501.4" cy="509.8" rx="1.6" ry="1.4"/><ellipse cx="478.4" cy="516.5" rx="2.0" ry="1.0"/><ellipse cx="525.5" cy="517.4" rx="1.9" ry="1.9"/><ellipse cx="482.6" cy="486.7" rx="1.5" ry="1.3"/><ellipse cx="497.9" cy="506.8" rx="1.6" ry="1.6"/><ellipse cx="524.5" cy="538.0" rx="2.4" ry="1.3"/><ellipse cx="532.5" cy="484.3" rx="1.8" ry="1.1"/><ellipse cx="509.3" cy="516.5" rx="2.1" ry="1.9"/><ellipse cx="444.1" cy="468.2" rx="1.9" ry="1.5"/><ellipse cx="458.7" cy="491.1" rx="1.7" ry="1.7"/><ellipse cx="485.0" cy="487.0" rx="1.4" ry="1.1"/><ellipse cx="499.0" cy="481.2" rx="1.7" ry="1.2"/><ellipse cx="501.9" cy="540.1" rx="1.9" ry="1.5"/><ellipse cx="450.1" cy="491.4" rx="2.0" ry="1.6"/><ellipse cx="494.2" cy="528.4" rx="1.7" ry="1.8"/><ellipse cx="539.5" cy="478.8" rx="2.1" ry="1.4"/><ellipse cx="545.1" cy="465.1" rx="1.6" ry="1.6"/><ellipse cx="536.5" cy="479.6" rx="1.4" ry="1.8"/><ellipse cx="471.1" cy="461.5" rx="1.8" ry="1.7"/><ellipse cx="512.4" cy="521.0" rx="2.3" ry="1.7"/><ellipse cx="512.0" cy="544.3" rx="2.2" ry="1.2"/><ellipse cx="434.3" cy="522.6" rx="1.8" ry="1.5"/><ellipse cx="528.5" cy="474.7" rx="1.7" ry="1.1"/><ellipse cx="499.3" cy="508.9" rx="1.4" ry="1.8"/><ellipse cx="457.4" cy="465.9" rx="1.6" ry="1.8"/><ellipse cx="520.5" cy="495.0" rx="2.1" ry="1.2"/><ellipse cx="455.4" cy="478.3" rx="2.1" ry="1.6"/><ellipse cx="515.6" cy="511.1" rx="1.6" ry="1.7"/><ellipse cx="517.3" cy="475.1" rx="1.7" ry="1.5"/><ellipse cx="517.1" cy="544.8" rx="1.5" ry="1.0"/><ellipse cx="436.7" cy="472.1" rx="2.3" ry="1.2"/><ellipse cx="460.5" cy="499.5" rx="1.8" ry="1.8"/><ellipse cx="509.1" cy="474.6" rx="1.6" ry="1.6"/><ellipse cx="468.0" cy="527.5" rx="1.8" ry="1.3"/><ellipse cx="441.7" cy="463.0" rx="1.9" ry="1.4"/><ellipse cx="490.6" cy="502.9" rx="2.4" ry="1.4"/><ellipse cx="492.7" cy="530.2" rx="1.8" ry="1.9"/><ellipse cx="462.8" cy="501.2" rx="1.9" ry="1.5"/><ellipse cx="484.1" cy="473.8" rx="2.2" ry="1.5"/><ellipse cx="540.5" cy="480.1" rx="1.4" ry="1.8"/><ellipse cx="431.4" cy="488.6" rx="2.0" ry="1.3"/><ellipse cx="459.5" cy="478.7" rx="2.0" ry="1.6"/><ellipse cx="545.1" cy="464.2" rx="1.5" ry="1.7"/><ellipse cx="462.0" cy="546.1" rx="1.3" ry="1.4"/><ellipse cx="430.4" cy="510.9" rx="1.5" ry="1.1"/><ellipse cx="483.3" cy="543.7" rx="1.6" ry="1.9"/><ellipse cx="492.8" cy="539.4" rx="1.3" ry="1.5"/><ellipse cx="522.7" cy="515.4" rx="2.3" ry="1.3"/><ellipse cx="456.0" cy="513.5" rx="2.2" ry="1.5"/><ellipse cx="456.7" cy="498.3" rx="2.0" ry="1.8"/><ellipse cx="516.1" cy="484.6" rx="2.1" ry="1.6"/><ellipse cx="467.1" cy="483.1" rx="1.9" ry="1.6"/><ellipse cx="542.3" cy="516.1" rx="1.3" ry="1.8"/><ellipse cx="468.4" cy="524.8" rx="1.8" ry="1.8"/><ellipse cx="494.2" cy="478.8" rx="2.1" ry="2.0"/><ellipse cx="446.8" cy="509.4" rx="1.9" ry="1.7"/><ellipse cx="453.0" cy="516.0" rx="1.5" ry="1.8"/><ellipse cx="512.2" cy="463.0" rx="2.3" ry="1.5"/><ellipse cx="495.8" cy="472.9" rx="1.7" ry="1.4"/><ellipse cx="447.8" cy="461.3" rx="1.7" ry="1.1"/><ellipse cx="517.2" cy="502.1" rx="2.2" ry="1.6"/><ellipse cx="479.7" cy="515.2" rx="1.2" ry="1.4"/><ellipse cx="530.1" cy="510.0" rx="1.7" ry="1.9"/><ellipse cx="513.2" cy="496.0" rx="2.2" ry="1.3"/><ellipse cx="504.8" cy="533.8" rx="2.3" ry="1.0"/><ellipse cx="475.6" cy="470.2" rx="1.8" ry="1.5"/><ellipse cx="460.9" cy="509.8" rx="2.2" ry="1.6"/><ellipse cx="451.0" cy="484.0" rx="1.8" ry="1.1"/><ellipse cx="494.9" cy="501.5" rx="2.1" ry="1.0"/><ellipse cx="467.7" cy="493.7" rx="2.2" ry="1.1"/><ellipse cx="440.9" cy="501.3" rx="2.2" ry="1.4"/><ellipse cx="497.4" cy="491.6" rx="1.5" ry="1.4"/><ellipse cx="478.3" cy="496.0" rx="1.5" ry="1.5"/><ellipse cx="456.4" cy="542.3" rx="2.3" ry="1.4"/><ellipse cx="522.3" cy="479.5" rx="1.7" ry="1.9"/><ellipse cx="520.3" cy="546.1" rx="1.9" ry="1.0"/><ellipse cx="504.0" cy="486.7" rx="1.6" ry="1.1"/><ellipse cx="541.9" cy="508.8" rx="2.2" ry="1.6"/><ellipse cx="528.9" cy="497.4" rx="1.2" ry="1.0"/><ellipse cx="477.3" cy="537.5" rx="2.3" ry="1.4"/><ellipse cx="440.2" cy="461.7" rx="2.1" ry="1.8"/><ellipse cx="502.0" cy="484.1" rx="2.2" ry="1.7"/><ellipse cx="537.9" cy="538.3" rx="1.9" ry="1.2"/><ellipse cx="513.0" cy="476.3" rx="1.3" ry="1.0"/><ellipse cx="428.4" cy="527.6" rx="2.1" ry="1.0"/><ellipse cx="484.3" cy="482.3" rx="1.5" ry="1.1"/><ellipse cx="456.3" cy="465.5" rx="1.6" ry="1.8"/><ellipse cx="502.3" cy="489.5" rx="1.8" ry="1.5"/><ellipse cx="486.0" cy="539.5" rx="1.7" ry="1.5"/><ellipse cx="514.3" cy="470.6" rx="1.5" ry="1.7"/><ellipse cx="469.6" cy="538.0" rx="1.5" ry="1.8"/><ellipse cx="474.0" cy="489.6" rx="2.0" ry="1.5"/><ellipse cx="536.4" cy="474.2" rx="2.1" ry="1.3"/><ellipse cx="428.2" cy="538.7" rx="1.4" ry="1.6"/><ellipse cx="515.0" cy="493.4" rx="2.0" ry="1.4"/><ellipse cx="539.4" cy="526.0" rx="2.0" ry="1.0"/><ellipse cx="523.8" cy="519.7" rx="2.3" ry="1.4"/><ellipse cx="461.8" cy="512.4" rx="1.8" ry="1.8"/><ellipse cx="433.4" cy="511.6" rx="1.8" ry="1.5"/><ellipse cx="437.9" cy="479.3" rx="2.1" ry="1.5"/><ellipse cx="446.6" cy="529.8" rx="1.6" ry="1.3"/><ellipse cx="434.9" cy="532.3" rx="2.0" ry="1.2"/><ellipse cx="464.6" cy="505.3" rx="2.2" ry="1.7"/><ellipse cx="437.5" cy="537.3" rx="1.6" ry="1.6"/><ellipse cx="472.2" cy="478.2" rx="2.0" ry="1.2"/><ellipse cx="495.8" cy="526.7" rx="1.4" ry="1.6"/><ellipse cx="479.3" cy="523.4" rx="1.6" ry="1.1"/><ellipse cx="450.7" cy="473.4" rx="2.2" ry="1.6"/><ellipse cx="510.5" cy="477.7" rx="1.5" ry="1.5"/><ellipse cx="427.9" cy="476.2" rx="1.5" ry="1.9"/><ellipse cx="440.3" cy="477.4" rx="1.2" ry="1.6"/><ellipse cx="520.9" cy="488.6" rx="1.6" ry="1.9"/><ellipse cx="430.4" cy="464.3" rx="2.0" ry="1.8"/></g>
<rect x="426.7" y="461.1" width="121" height="86" fill="#000" filter="url(#fnoise)" opacity="0.35"/>
</g>
<ellipse cx="448" cy="470" rx="24" ry="10" transform="rotate(10 448 470)" fill="none" stroke="#e8f8ee" stroke-width="0.9" opacity="0.8"/>
<ellipse cx="494" cy="485" rx="21" ry="8.5" transform="rotate(35 494 485)" fill="none" stroke="#e8f8ee" stroke-width="0.9" opacity="0.8"/>
<ellipse cx="529" cy="492" rx="12" ry="9" transform="rotate(20 529 492)" fill="none" stroke="#e8f8ee" stroke-width="0.9" opacity="0.8"/>
<ellipse cx="538" cy="462" rx="14" ry="5" transform="rotate(0 538 462)" fill="none" stroke="#e8f8ee" stroke-width="0.9" opacity="0.8"/>
<ellipse cx="430" cy="502" rx="7" ry="11" transform="rotate(0 430 502)" fill="none" stroke="#e8f8ee" stroke-width="0.9" opacity="0.8"/>
<ellipse cx="463" cy="507" rx="28" ry="10" transform="rotate(15 463 507)" fill="none" stroke="#e8f8ee" stroke-width="0.9" opacity="0.8"/>
<ellipse cx="445" cy="533" rx="20" ry="12" transform="rotate(0 445 533)" fill="none" stroke="#e8f8ee" stroke-width="0.9" opacity="0.8"/>
<ellipse cx="472" cy="537" rx="11" ry="9" transform="rotate(0 472 537)" fill="none" stroke="#e8f8ee" stroke-width="0.9" opacity="0.8"/>
<ellipse cx="508" cy="527" rx="16" ry="12" transform="rotate(-10 508 527)" fill="none" stroke="#e8f8ee" stroke-width="0.9" opacity="0.8"/>
<ellipse cx="541" cy="526" rx="9" ry="18" transform="rotate(0 541 526)" fill="none" stroke="#e8f8ee" stroke-width="0.9" opacity="0.8"/>
<ellipse cx="432" cy="482" rx="7" ry="7" transform="rotate(0 432 482)" fill="none" stroke="#e8f8ee" stroke-width="0.9" opacity="0.8"/>
<ellipse cx="515" cy="470" rx="9" ry="6" transform="rotate(30 515 470)" fill="none" stroke="#e8f8ee" stroke-width="0.9" opacity="0.8"/>
<ellipse cx="489" cy="545" rx="8" ry="4" transform="rotate(0 489 545)" fill="none" stroke="#e8f8ee" stroke-width="0.9" opacity="0.8"/>
</g>
</g>
<clipPath id="magR"><ellipse cx="617" cy="479" rx="20" ry="21" transform="rotate(0 617 479)"/><ellipse cx="656" cy="514" rx="18" ry="36" transform="rotate(0 656 514)"/><ellipse cx="561" cy="494" rx="15" ry="27" transform="rotate(0 561 494)"/><ellipse cx="614" cy="532" rx="22" ry="16" transform="rotate(0 614 532)"/><ellipse cx="581" cy="468" rx="16" ry="10" transform="rotate(0 581 468)"/><ellipse cx="657" cy="466" rx="16" ry="9" transform="rotate(0 657 466)"/><ellipse cx="562" cy="539" rx="14" ry="10" transform="rotate(0 562 539)"/><ellipse cx="638" cy="494" rx="8" ry="10" transform="rotate(0 638 494)"/><ellipse cx="598" cy="520" rx="6" ry="8" transform="rotate(0 598 520)"/></clipPath>
<g clip-path="url(#kcr)">
<rect x="549.1" y="461.1" width="121" height="85.5" fill="#22249a"/>
<line x1="562" y1="461" x2="593" y2="548" stroke="#3a4ee0" stroke-width="5" opacity="0.6" filter="url(#bl15)"/>
<line x1="580" y1="490" x2="623" y2="505" stroke="#3a4ee0" stroke-width="5" opacity="0.6" filter="url(#bl15)"/>
<line x1="640" y1="461" x2="630" y2="548" stroke="#3a4ee0" stroke-width="3" opacity="0.6" filter="url(#bl15)"/>
<line x1="549" y1="520" x2="600" y2="505" stroke="#3a4ee0" stroke-width="3" opacity="0.6" filter="url(#bl15)"/>
<rect x="549.1" y="461.1" width="121" height="85.5" fill="#000" filter="url(#fnoise)" opacity="0.5"/>
<g filter="url(#fdisp)"><g clip-path="url(#magR)">
<rect x="549.1" y="461.1" width="121" height="85.5" fill="#bb68dc"/>
<rect x="549.1" y="461.1" width="121" height="85.5" fill="#000" filter="url(#fmag2)" opacity="0.45"/>
<g fill="#3b0f55" fill-opacity="0.75" stroke="#f2c8ff" stroke-width="0.5"><ellipse cx="588.6" cy="490.9" rx="1.7" ry="1.3"/><ellipse cx="553.9" cy="507.6" rx="1.6" ry="1.6"/><ellipse cx="633.7" cy="500.2" rx="1.0" ry="1.1"/><ellipse cx="574.0" cy="501.7" rx="1.8" ry="1.4"/><ellipse cx="564.4" cy="535.7" rx="1.6" ry="1.5"/><ellipse cx="586.8" cy="486.4" rx="1.1" ry="1.6"/><ellipse cx="636.7" cy="486.1" rx="1.6" ry="1.3"/><ellipse cx="560.1" cy="484.0" rx="1.5" ry="1.3"/><ellipse cx="589.4" cy="536.7" rx="1.5" ry="1.5"/><ellipse cx="562.9" cy="523.2" rx="1.2" ry="1.1"/><ellipse cx="654.9" cy="523.8" rx="1.0" ry="1.7"/><ellipse cx="595.6" cy="500.2" rx="1.7" ry="1.4"/><ellipse cx="581.3" cy="477.3" rx="1.8" ry="1.7"/><ellipse cx="602.6" cy="514.9" rx="1.8" ry="1.1"/><ellipse cx="616.5" cy="471.1" rx="1.9" ry="1.4"/><ellipse cx="560.4" cy="531.0" rx="1.8" ry="1.5"/><ellipse cx="663.4" cy="516.9" rx="1.2" ry="1.4"/><ellipse cx="646.1" cy="461.7" rx="1.3" ry="1.5"/><ellipse cx="551.9" cy="515.6" rx="1.6" ry="1.5"/><ellipse cx="629.9" cy="462.5" rx="1.7" ry="0.9"/><ellipse cx="604.8" cy="477.1" rx="1.8" ry="1.2"/><ellipse cx="634.7" cy="529.7" rx="1.8" ry="1.5"/><ellipse cx="648.2" cy="501.2" rx="1.4" ry="1.4"/><ellipse cx="587.0" cy="506.1" rx="1.9" ry="1.0"/><ellipse cx="560.4" cy="506.8" rx="1.2" ry="1.7"/><ellipse cx="597.6" cy="472.0" rx="1.6" ry="1.8"/><ellipse cx="616.2" cy="486.5" rx="1.3" ry="1.1"/><ellipse cx="584.8" cy="532.1" rx="1.1" ry="1.7"/><ellipse cx="647.3" cy="526.8" rx="1.1" ry="1.5"/><ellipse cx="618.4" cy="488.7" rx="1.3" ry="1.2"/><ellipse cx="668.7" cy="465.5" rx="1.8" ry="1.5"/><ellipse cx="658.0" cy="518.8" rx="1.6" ry="1.0"/><ellipse cx="570.4" cy="522.2" rx="1.0" ry="1.8"/><ellipse cx="565.5" cy="526.4" rx="1.9" ry="1.6"/><ellipse cx="549.0" cy="463.9" rx="1.7" ry="1.6"/><ellipse cx="565.6" cy="480.1" rx="1.6" ry="1.1"/><ellipse cx="608.2" cy="526.8" rx="1.6" ry="1.7"/><ellipse cx="669.0" cy="521.4" rx="1.4" ry="1.1"/><ellipse cx="618.9" cy="514.1" rx="1.7" ry="1.8"/><ellipse cx="597.8" cy="512.5" rx="1.5" ry="1.3"/><ellipse cx="566.5" cy="542.1" rx="1.4" ry="1.7"/><ellipse cx="655.7" cy="494.9" rx="1.1" ry="0.9"/><ellipse cx="594.6" cy="488.5" rx="1.5" ry="1.7"/><ellipse cx="643.0" cy="505.6" rx="1.1" ry="1.0"/><ellipse cx="563.6" cy="531.3" rx="1.4" ry="0.9"/><ellipse cx="608.3" cy="515.9" rx="1.0" ry="1.2"/><ellipse cx="639.2" cy="543.1" rx="1.2" ry="1.4"/><ellipse cx="595.1" cy="496.8" rx="1.4" ry="1.7"/><ellipse cx="616.3" cy="491.8" rx="1.3" ry="1.7"/><ellipse cx="643.8" cy="539.4" rx="1.7" ry="1.5"/><ellipse cx="577.5" cy="491.9" rx="1.8" ry="1.1"/><ellipse cx="659.3" cy="487.2" rx="1.9" ry="1.0"/><ellipse cx="571.6" cy="511.1" rx="1.6" ry="1.1"/><ellipse cx="588.4" cy="479.3" rx="1.8" ry="1.1"/><ellipse cx="576.6" cy="482.1" rx="1.2" ry="1.4"/><ellipse cx="640.9" cy="490.7" rx="1.8" ry="1.5"/><ellipse cx="597.9" cy="495.7" rx="1.5" ry="1.6"/><ellipse cx="604.7" cy="529.5" rx="1.7" ry="1.3"/><ellipse cx="591.1" cy="477.0" rx="1.6" ry="1.3"/><ellipse cx="581.0" cy="522.3" rx="1.9" ry="1.2"/><ellipse cx="653.8" cy="538.4" rx="1.5" ry="1.6"/><ellipse cx="570.0" cy="468.1" rx="1.1" ry="1.0"/><ellipse cx="597.1" cy="520.1" rx="1.9" ry="1.0"/><ellipse cx="562.0" cy="511.3" rx="1.5" ry="1.5"/><ellipse cx="645.6" cy="521.0" rx="1.5" ry="1.4"/><ellipse cx="585.2" cy="471.3" rx="1.2" ry="1.0"/><ellipse cx="608.7" cy="535.5" rx="1.4" ry="1.0"/><ellipse cx="635.6" cy="501.4" rx="1.3" ry="1.7"/><ellipse cx="658.2" cy="517.2" rx="1.1" ry="1.0"/><ellipse cx="628.5" cy="542.1" rx="1.7" ry="1.1"/><ellipse cx="625.0" cy="484.2" rx="1.4" ry="1.7"/><ellipse cx="608.1" cy="504.1" rx="1.2" ry="1.0"/><ellipse cx="596.7" cy="516.5" rx="1.8" ry="1.0"/><ellipse cx="585.3" cy="542.7" rx="1.6" ry="0.9"/><ellipse cx="582.9" cy="500.3" rx="1.1" ry="1.1"/><ellipse cx="669.6" cy="501.3" rx="1.5" ry="1.5"/><ellipse cx="652.0" cy="544.7" rx="1.8" ry="1.3"/><ellipse cx="574.7" cy="483.9" rx="1.3" ry="1.8"/><ellipse cx="644.4" cy="526.8" rx="1.4" ry="1.1"/><ellipse cx="655.7" cy="539.3" rx="1.4" ry="1.7"/><ellipse cx="567.1" cy="515.4" rx="1.8" ry="1.5"/><ellipse cx="606.2" cy="483.4" rx="1.5" ry="1.0"/><ellipse cx="620.0" cy="523.0" rx="1.3" ry="1.2"/><ellipse cx="585.6" cy="523.4" rx="1.0" ry="1.5"/><ellipse cx="563.1" cy="487.2" rx="1.6" ry="1.0"/><ellipse cx="564.6" cy="473.7" rx="2.0" ry="1.3"/><ellipse cx="551.0" cy="502.0" rx="1.5" ry="1.0"/><ellipse cx="620.4" cy="479.1" rx="1.0" ry="1.5"/><ellipse cx="640.4" cy="514.9" rx="1.1" ry="1.7"/><ellipse cx="623.6" cy="488.3" rx="1.7" ry="1.2"/><ellipse cx="641.3" cy="475.3" rx="1.5" ry="1.2"/><ellipse cx="667.9" cy="526.7" rx="1.4" ry="1.2"/><ellipse cx="622.6" cy="507.1" rx="1.3" ry="1.1"/><ellipse cx="642.3" cy="495.2" rx="1.7" ry="1.8"/><ellipse cx="562.6" cy="499.4" rx="1.5" ry="1.3"/><ellipse cx="594.9" cy="481.9" rx="1.6" ry="1.3"/><ellipse cx="667.3" cy="465.0" rx="1.4" ry="1.8"/><ellipse cx="646.7" cy="542.9" rx="1.5" ry="0.9"/><ellipse cx="591.1" cy="540.0" rx="2.0" ry="1.8"/><ellipse cx="601.1" cy="525.4" rx="1.2" ry="0.9"/><ellipse cx="562.9" cy="503.4" rx="1.2" ry="1.1"/><ellipse cx="662.7" cy="467.2" rx="1.3" ry="1.2"/><ellipse cx="636.9" cy="509.2" rx="1.3" ry="1.2"/><ellipse cx="655.2" cy="500.4" rx="1.9" ry="1.0"/><ellipse cx="587.8" cy="533.1" rx="1.4" ry="1.3"/><ellipse cx="573.7" cy="540.1" rx="1.2" ry="1.0"/><ellipse cx="562.3" cy="495.6" rx="1.8" ry="1.3"/><ellipse cx="651.9" cy="501.5" rx="1.7" ry="1.2"/><ellipse cx="669.8" cy="525.4" rx="1.5" ry="0.9"/><ellipse cx="601.4" cy="546.4" rx="1.5" ry="1.2"/><ellipse cx="606.4" cy="464.5" rx="1.9" ry="1.5"/><ellipse cx="610.8" cy="519.6" rx="1.2" ry="1.7"/><ellipse cx="588.4" cy="512.3" rx="1.6" ry="1.5"/><ellipse cx="644.8" cy="512.6" rx="1.3" ry="1.2"/><ellipse cx="582.0" cy="530.3" rx="1.7" ry="1.5"/><ellipse cx="643.4" cy="461.9" rx="1.2" ry="1.3"/><ellipse cx="566.6" cy="511.0" rx="1.9" ry="1.4"/><ellipse cx="594.4" cy="521.9" rx="1.9" ry="1.3"/><ellipse cx="589.7" cy="483.3" rx="1.7" ry="1.4"/><ellipse cx="636.4" cy="532.5" rx="1.0" ry="1.6"/><ellipse cx="645.8" cy="487.2" rx="1.9" ry="1.0"/><ellipse cx="644.1" cy="479.0" rx="1.1" ry="0.9"/><ellipse cx="659.8" cy="474.7" rx="1.6" ry="1.2"/><ellipse cx="638.8" cy="462.5" rx="1.8" ry="1.2"/><ellipse cx="648.6" cy="498.0" rx="1.9" ry="0.9"/><ellipse cx="557.9" cy="516.6" rx="1.1" ry="1.5"/><ellipse cx="586.4" cy="485.6" rx="1.5" ry="1.6"/><ellipse cx="592.2" cy="538.7" rx="1.2" ry="1.6"/><ellipse cx="576.6" cy="538.1" rx="1.0" ry="1.7"/><ellipse cx="561.2" cy="497.2" rx="1.3" ry="1.6"/><ellipse cx="661.8" cy="511.5" rx="1.3" ry="1.1"/><ellipse cx="619.3" cy="470.2" rx="1.1" ry="1.5"/><ellipse cx="637.4" cy="475.8" rx="1.6" ry="1.1"/><ellipse cx="649.2" cy="505.1" rx="1.6" ry="1.5"/><ellipse cx="596.8" cy="492.3" rx="1.7" ry="1.8"/><ellipse cx="626.0" cy="481.4" rx="1.8" ry="1.6"/><ellipse cx="580.6" cy="507.4" rx="1.9" ry="1.0"/><ellipse cx="605.8" cy="530.1" rx="1.4" ry="1.4"/><ellipse cx="626.1" cy="507.9" rx="1.6" ry="1.2"/><ellipse cx="617.6" cy="473.6" rx="1.6" ry="1.5"/><ellipse cx="655.8" cy="482.7" rx="1.2" ry="1.3"/><ellipse cx="577.7" cy="537.6" rx="1.2" ry="1.5"/><ellipse cx="554.8" cy="504.4" rx="1.4" ry="1.5"/><ellipse cx="604.5" cy="512.7" rx="1.6" ry="1.5"/><ellipse cx="639.9" cy="484.4" rx="1.1" ry="1.7"/><ellipse cx="586.0" cy="546.2" rx="1.6" ry="1.7"/><ellipse cx="612.9" cy="546.7" rx="1.9" ry="1.1"/><ellipse cx="609.3" cy="489.1" rx="1.4" ry="1.3"/><ellipse cx="627.4" cy="513.1" rx="1.3" ry="1.5"/><ellipse cx="582.0" cy="483.2" rx="1.7" ry="1.5"/><ellipse cx="608.0" cy="536.2" rx="1.7" ry="1.0"/><ellipse cx="606.6" cy="516.5" rx="1.7" ry="1.6"/><ellipse cx="643.1" cy="480.0" rx="1.1" ry="1.1"/><ellipse cx="611.7" cy="511.9" rx="1.7" ry="1.3"/><ellipse cx="586.9" cy="467.1" rx="1.0" ry="1.7"/><ellipse cx="597.8" cy="488.4" rx="1.4" ry="1.2"/><ellipse cx="601.8" cy="514.1" rx="1.7" ry="1.0"/><ellipse cx="558.9" cy="490.6" rx="1.4" ry="1.3"/><ellipse cx="549.4" cy="505.5" rx="1.9" ry="1.6"/><ellipse cx="567.3" cy="503.6" rx="1.2" ry="1.6"/><ellipse cx="596.7" cy="497.8" rx="1.3" ry="1.2"/><ellipse cx="552.7" cy="534.5" rx="1.2" ry="1.3"/><ellipse cx="624.7" cy="472.4" rx="1.8" ry="1.6"/><ellipse cx="604.9" cy="492.7" rx="1.6" ry="1.1"/><ellipse cx="615.1" cy="517.2" rx="1.6" ry="1.3"/><ellipse cx="557.8" cy="521.8" rx="1.9" ry="1.1"/><ellipse cx="577.8" cy="544.2" rx="1.6" ry="1.3"/><ellipse cx="562.6" cy="527.9" rx="1.9" ry="1.2"/><ellipse cx="554.2" cy="488.1" rx="1.6" ry="1.5"/><ellipse cx="584.5" cy="533.3" rx="1.5" ry="1.3"/><ellipse cx="561.7" cy="472.9" rx="1.4" ry="1.4"/><ellipse cx="637.0" cy="495.3" rx="1.0" ry="1.1"/><ellipse cx="619.3" cy="491.8" rx="1.3" ry="1.6"/><ellipse cx="630.6" cy="546.3" rx="1.9" ry="1.1"/><ellipse cx="637.7" cy="485.4" rx="1.7" ry="1.7"/><ellipse cx="654.9" cy="500.4" rx="1.1" ry="1.3"/><ellipse cx="599.5" cy="461.1" rx="1.0" ry="1.3"/><ellipse cx="652.8" cy="496.2" rx="1.8" ry="1.0"/><ellipse cx="573.1" cy="464.9" rx="1.2" ry="1.7"/><ellipse cx="619.0" cy="488.1" rx="1.3" ry="1.1"/><ellipse cx="634.9" cy="507.0" rx="1.5" ry="1.7"/><ellipse cx="622.9" cy="517.9" rx="1.1" ry="1.8"/><ellipse cx="644.2" cy="523.1" rx="1.5" ry="1.8"/><ellipse cx="648.3" cy="502.0" rx="1.1" ry="1.6"/><ellipse cx="581.9" cy="482.5" rx="1.7" ry="1.7"/><ellipse cx="592.6" cy="510.3" rx="1.4" ry="1.6"/><ellipse cx="552.9" cy="510.4" rx="1.5" ry="1.1"/><ellipse cx="549.0" cy="478.9" rx="1.8" ry="1.4"/><ellipse cx="590.0" cy="515.6" rx="1.7" ry="1.1"/><ellipse cx="598.2" cy="535.4" rx="1.1" ry="1.0"/><ellipse cx="613.1" cy="543.7" rx="1.9" ry="1.8"/><ellipse cx="574.2" cy="487.0" rx="1.2" ry="1.0"/><ellipse cx="631.6" cy="532.0" rx="1.8" ry="1.2"/><ellipse cx="579.8" cy="471.3" rx="1.3" ry="1.8"/><ellipse cx="642.6" cy="540.8" rx="1.1" ry="1.5"/><ellipse cx="661.4" cy="524.6" rx="1.4" ry="1.8"/><ellipse cx="639.4" cy="484.1" rx="1.5" ry="1.3"/><ellipse cx="562.0" cy="537.1" rx="1.7" ry="1.5"/><ellipse cx="661.4" cy="520.9" rx="1.4" ry="1.7"/><ellipse cx="597.5" cy="461.1" rx="1.7" ry="1.4"/><ellipse cx="626.3" cy="481.8" rx="2.0" ry="1.7"/><ellipse cx="661.2" cy="496.9" rx="1.8" ry="1.1"/><ellipse cx="617.7" cy="510.0" rx="1.7" ry="1.2"/><ellipse cx="563.0" cy="492.4" rx="1.1" ry="1.4"/><ellipse cx="556.6" cy="490.4" rx="1.6" ry="0.9"/><ellipse cx="558.9" cy="530.2" rx="1.2" ry="1.6"/><ellipse cx="562.6" cy="531.1" rx="1.1" ry="1.4"/><ellipse cx="670.5" cy="539.6" rx="1.9" ry="1.0"/><ellipse cx="572.3" cy="498.6" rx="1.1" ry="1.2"/><ellipse cx="563.5" cy="533.0" rx="1.2" ry="1.1"/><ellipse cx="648.4" cy="495.8" rx="1.8" ry="1.5"/><ellipse cx="571.2" cy="482.0" rx="1.7" ry="1.5"/><ellipse cx="666.4" cy="486.8" rx="1.8" ry="1.5"/><ellipse cx="635.0" cy="490.0" rx="1.5" ry="1.8"/><ellipse cx="628.8" cy="536.5" rx="1.7" ry="1.5"/><ellipse cx="664.8" cy="518.4" rx="1.2" ry="1.1"/><ellipse cx="591.7" cy="535.4" rx="1.9" ry="1.4"/><ellipse cx="551.4" cy="500.4" rx="1.1" ry="1.4"/><ellipse cx="611.2" cy="487.9" rx="1.3" ry="1.3"/><ellipse cx="645.1" cy="470.4" rx="1.6" ry="1.5"/><ellipse cx="602.9" cy="527.5" rx="1.1" ry="1.1"/><ellipse cx="596.5" cy="518.8" rx="1.2" ry="1.0"/><ellipse cx="626.7" cy="534.0" rx="1.4" ry="1.7"/><ellipse cx="608.3" cy="539.6" rx="1.8" ry="1.2"/><ellipse cx="609.8" cy="491.2" rx="1.6" ry="0.9"/><ellipse cx="595.7" cy="473.3" rx="1.6" ry="1.7"/><ellipse cx="646.8" cy="463.8" rx="1.9" ry="1.5"/><ellipse cx="614.0" cy="502.8" rx="1.7" ry="1.7"/><ellipse cx="661.6" cy="531.9" rx="1.7" ry="1.0"/><ellipse cx="569.8" cy="514.6" rx="1.7" ry="1.1"/><ellipse cx="561.3" cy="537.9" rx="1.4" ry="1.8"/><ellipse cx="665.5" cy="475.6" rx="1.4" ry="1.0"/><ellipse cx="560.1" cy="471.6" rx="1.6" ry="1.6"/><ellipse cx="593.8" cy="540.1" rx="1.1" ry="1.2"/><ellipse cx="628.3" cy="484.1" rx="1.5" ry="1.8"/><ellipse cx="622.2" cy="520.0" rx="1.5" ry="1.1"/><ellipse cx="657.5" cy="502.9" rx="1.2" ry="1.4"/><ellipse cx="574.6" cy="465.5" rx="1.5" ry="1.7"/><ellipse cx="624.2" cy="485.8" rx="1.3" ry="1.7"/><ellipse cx="571.6" cy="537.3" rx="1.9" ry="1.2"/><ellipse cx="614.7" cy="503.6" rx="1.9" ry="1.4"/><ellipse cx="608.6" cy="478.7" rx="1.6" ry="1.1"/><ellipse cx="574.3" cy="474.7" rx="1.3" ry="1.1"/><ellipse cx="551.5" cy="521.3" rx="1.8" ry="1.6"/><ellipse cx="597.3" cy="487.9" rx="1.9" ry="1.2"/><ellipse cx="638.0" cy="496.9" rx="1.2" ry="1.8"/><ellipse cx="626.4" cy="513.5" rx="1.4" ry="1.0"/><ellipse cx="615.1" cy="481.1" rx="1.1" ry="1.8"/><ellipse cx="651.3" cy="478.8" rx="1.7" ry="1.3"/><ellipse cx="614.0" cy="497.4" rx="1.7" ry="1.3"/><ellipse cx="580.0" cy="473.0" rx="1.3" ry="1.4"/><ellipse cx="562.8" cy="463.4" rx="1.9" ry="1.5"/><ellipse cx="661.6" cy="517.0" rx="1.1" ry="1.1"/><ellipse cx="649.1" cy="510.0" rx="1.1" ry="1.3"/><ellipse cx="634.2" cy="530.7" rx="1.7" ry="1.4"/><ellipse cx="591.2" cy="481.6" rx="1.7" ry="1.5"/><ellipse cx="643.1" cy="544.9" rx="1.7" ry="1.1"/><ellipse cx="669.5" cy="461.8" rx="1.5" ry="1.6"/><ellipse cx="653.3" cy="462.0" rx="1.4" ry="1.0"/><ellipse cx="610.3" cy="462.3" rx="1.6" ry="1.7"/><ellipse cx="578.4" cy="503.7" rx="1.9" ry="1.6"/><ellipse cx="591.0" cy="526.1" rx="1.7" ry="1.5"/><ellipse cx="621.0" cy="464.6" rx="1.9" ry="1.7"/><ellipse cx="613.3" cy="492.9" rx="1.6" ry="1.4"/><ellipse cx="624.3" cy="492.7" rx="1.4" ry="1.2"/><ellipse cx="616.6" cy="461.7" rx="1.8" ry="1.5"/><ellipse cx="585.1" cy="504.3" rx="2.0" ry="1.7"/><ellipse cx="615.2" cy="479.4" rx="1.1" ry="1.5"/><ellipse cx="660.2" cy="511.5" rx="1.4" ry="1.7"/><ellipse cx="606.3" cy="532.6" rx="1.4" ry="1.1"/><ellipse cx="587.5" cy="481.5" rx="1.1" ry="1.1"/><ellipse cx="597.1" cy="543.4" rx="1.2" ry="1.7"/><ellipse cx="637.1" cy="484.7" rx="1.4" ry="1.7"/><ellipse cx="620.5" cy="509.3" rx="1.3" ry="1.1"/><ellipse cx="562.4" cy="523.0" rx="1.4" ry="1.2"/><ellipse cx="599.4" cy="496.2" rx="1.3" ry="1.4"/><ellipse cx="579.7" cy="479.9" rx="1.8" ry="1.1"/><ellipse cx="647.3" cy="476.5" rx="1.2" ry="1.7"/><ellipse cx="664.4" cy="476.6" rx="1.7" ry="1.3"/><ellipse cx="648.8" cy="490.6" rx="1.2" ry="1.4"/><ellipse cx="561.7" cy="538.6" rx="1.7" ry="1.0"/><ellipse cx="561.5" cy="514.7" rx="1.1" ry="1.5"/><ellipse cx="582.8" cy="511.5" rx="1.7" ry="1.7"/><ellipse cx="603.3" cy="468.1" rx="1.5" ry="1.1"/><ellipse cx="550.9" cy="510.4" rx="1.4" ry="1.7"/><ellipse cx="629.2" cy="516.2" rx="1.6" ry="1.4"/><ellipse cx="658.8" cy="491.2" rx="2.0" ry="1.2"/><ellipse cx="640.5" cy="538.7" rx="1.2" ry="1.0"/><ellipse cx="662.5" cy="471.5" rx="1.2" ry="1.4"/><ellipse cx="627.6" cy="490.8" rx="1.7" ry="1.6"/><ellipse cx="597.4" cy="477.8" rx="1.3" ry="1.4"/><ellipse cx="577.4" cy="501.4" rx="1.8" ry="1.7"/><ellipse cx="642.3" cy="502.6" rx="1.1" ry="1.6"/><ellipse cx="571.6" cy="513.8" rx="1.2" ry="1.7"/><ellipse cx="660.9" cy="518.9" rx="1.3" ry="1.7"/><ellipse cx="589.0" cy="496.0" rx="1.1" ry="1.3"/><ellipse cx="623.1" cy="461.8" rx="1.3" ry="1.3"/><ellipse cx="613.9" cy="466.9" rx="1.2" ry="1.3"/><ellipse cx="582.7" cy="462.3" rx="1.3" ry="1.1"/><ellipse cx="650.9" cy="536.5" rx="1.9" ry="1.4"/><ellipse cx="638.4" cy="521.0" rx="1.1" ry="1.4"/><ellipse cx="580.4" cy="487.3" rx="1.7" ry="1.4"/><ellipse cx="587.7" cy="528.2" rx="1.3" ry="1.7"/><ellipse cx="562.6" cy="488.4" rx="1.1" ry="1.7"/><ellipse cx="614.7" cy="490.7" rx="1.4" ry="1.1"/><ellipse cx="581.1" cy="473.0" rx="1.4" ry="1.6"/><ellipse cx="576.3" cy="538.7" rx="1.1" ry="1.6"/><ellipse cx="581.6" cy="474.0" rx="1.8" ry="1.5"/><ellipse cx="590.6" cy="519.1" rx="1.6" ry="0.9"/><ellipse cx="586.0" cy="487.1" rx="1.2" ry="1.8"/><ellipse cx="619.9" cy="490.2" rx="1.0" ry="0.9"/><ellipse cx="583.7" cy="497.9" rx="1.6" ry="1.4"/><ellipse cx="637.3" cy="522.1" rx="1.8" ry="1.5"/><ellipse cx="596.1" cy="546.4" rx="1.5" ry="1.1"/><ellipse cx="608.9" cy="502.1" rx="1.8" ry="1.4"/><ellipse cx="644.0" cy="491.6" rx="1.2" ry="1.5"/><ellipse cx="656.6" cy="540.6" rx="1.1" ry="1.0"/><ellipse cx="660.4" cy="511.3" rx="1.6" ry="1.6"/><ellipse cx="606.2" cy="486.3" rx="1.5" ry="1.5"/><ellipse cx="600.0" cy="489.0" rx="1.8" ry="1.0"/><ellipse cx="663.5" cy="487.8" rx="1.4" ry="1.0"/><ellipse cx="602.5" cy="505.7" rx="1.1" ry="1.0"/><ellipse cx="592.4" cy="461.7" rx="1.6" ry="1.2"/><ellipse cx="563.7" cy="524.7" rx="2.0" ry="1.3"/><ellipse cx="597.0" cy="504.0" rx="1.8" ry="1.0"/><ellipse cx="592.7" cy="506.9" rx="1.2" ry="1.4"/><ellipse cx="654.3" cy="461.4" rx="1.8" ry="1.2"/><ellipse cx="597.2" cy="497.0" rx="1.2" ry="1.6"/><ellipse cx="632.5" cy="495.1" rx="1.9" ry="0.9"/><ellipse cx="597.3" cy="499.1" rx="1.2" ry="1.6"/><ellipse cx="608.5" cy="516.2" rx="1.4" ry="1.3"/><ellipse cx="668.7" cy="542.6" rx="1.0" ry="1.7"/><ellipse cx="638.7" cy="466.5" rx="1.6" ry="1.6"/><ellipse cx="667.8" cy="514.4" rx="1.1" ry="0.9"/><ellipse cx="644.3" cy="529.4" rx="1.8" ry="0.9"/><ellipse cx="580.9" cy="534.6" rx="1.5" ry="0.9"/><ellipse cx="600.7" cy="547.0" rx="1.5" ry="1.2"/><ellipse cx="573.8" cy="512.4" rx="1.7" ry="1.8"/><ellipse cx="551.5" cy="494.5" rx="1.4" ry="1.2"/><ellipse cx="599.5" cy="505.3" rx="1.6" ry="1.2"/><ellipse cx="549.3" cy="464.0" rx="1.6" ry="1.3"/><ellipse cx="652.8" cy="527.1" rx="1.2" ry="1.4"/><ellipse cx="563.8" cy="527.8" rx="1.2" ry="1.6"/><ellipse cx="628.7" cy="473.4" rx="1.2" ry="1.8"/><ellipse cx="653.6" cy="505.1" rx="1.2" ry="1.6"/><ellipse cx="669.3" cy="536.0" rx="1.9" ry="0.9"/><ellipse cx="652.7" cy="546.8" rx="1.2" ry="1.0"/><ellipse cx="568.9" cy="505.6" rx="1.8" ry="1.6"/><ellipse cx="613.2" cy="521.6" rx="1.2" ry="1.7"/><ellipse cx="600.1" cy="495.2" rx="1.5" ry="1.2"/><ellipse cx="624.1" cy="527.5" rx="1.6" ry="1.4"/><ellipse cx="630.5" cy="521.0" rx="1.8" ry="1.1"/><ellipse cx="615.5" cy="490.7" rx="1.3" ry="1.0"/><ellipse cx="555.8" cy="539.6" rx="1.1" ry="1.5"/><ellipse cx="651.1" cy="536.3" rx="1.8" ry="1.8"/><ellipse cx="653.7" cy="472.3" rx="1.4" ry="1.2"/><ellipse cx="570.5" cy="515.6" rx="1.4" ry="1.6"/><ellipse cx="575.6" cy="510.3" rx="1.1" ry="0.9"/><ellipse cx="564.9" cy="488.2" rx="1.8" ry="1.1"/><ellipse cx="581.5" cy="526.2" rx="1.2" ry="1.8"/><ellipse cx="604.3" cy="488.7" rx="1.9" ry="1.1"/><ellipse cx="651.5" cy="487.1" rx="1.7" ry="1.6"/><ellipse cx="650.4" cy="511.8" rx="1.6" ry="1.7"/><ellipse cx="619.8" cy="487.3" rx="1.3" ry="1.5"/><ellipse cx="575.7" cy="465.2" rx="1.9" ry="1.6"/><ellipse cx="581.4" cy="507.3" rx="1.4" ry="0.9"/><ellipse cx="574.5" cy="493.8" rx="1.3" ry="1.0"/><ellipse cx="645.4" cy="516.9" rx="1.8" ry="1.8"/><ellipse cx="559.1" cy="540.1" rx="1.8" ry="1.1"/><ellipse cx="622.7" cy="509.7" rx="1.9" ry="1.5"/><ellipse cx="577.5" cy="461.8" rx="1.9" ry="0.9"/><ellipse cx="640.8" cy="534.8" rx="1.4" ry="1.7"/><ellipse cx="576.4" cy="472.9" rx="1.6" ry="1.1"/><ellipse cx="650.5" cy="522.7" rx="1.3" ry="1.7"/><ellipse cx="630.3" cy="500.0" rx="1.6" ry="1.1"/><ellipse cx="604.2" cy="465.8" rx="1.2" ry="1.4"/><ellipse cx="562.0" cy="515.3" rx="2.0" ry="1.4"/><ellipse cx="658.3" cy="510.6" rx="1.2" ry="1.5"/><ellipse cx="651.7" cy="483.4" rx="1.5" ry="1.0"/><ellipse cx="670.8" cy="476.7" rx="2.0" ry="1.8"/></g>
<rect x="549.1" y="461.1" width="121" height="85.5" fill="#000" filter="url(#fnoise)" opacity="0.35"/>
</g></g>
<ellipse cx="585" cy="495" rx="3.5" ry="4.5" fill="#14143a" stroke="#a8f0f0" stroke-width="1.1" opacity="0.9"/>
<ellipse cx="590" cy="505" rx="3" ry="4" fill="#14143a" stroke="#a8f0f0" stroke-width="1.1" opacity="0.9"/>
<ellipse cx="582" cy="510" rx="3" ry="3.5" fill="#14143a" stroke="#a8f0f0" stroke-width="1.1" opacity="0.9"/>
<ellipse cx="572" cy="485" rx="3" ry="4" fill="#14143a" stroke="#a8f0f0" stroke-width="1.1" opacity="0.9"/>
<ellipse cx="600" cy="515" rx="2.5" ry="3" fill="#14143a" stroke="#a8f0f0" stroke-width="1.1" opacity="0.9"/>
<ellipse cx="657" cy="525" rx="3" ry="4" fill="#14143a" stroke="#a8f0f0" stroke-width="1.1" opacity="0.9"/>
<ellipse cx="650" cy="470" rx="3" ry="3.5" fill="#14143a" stroke="#a8f0f0" stroke-width="1.1" opacity="0.9"/>
<ellipse cx="560" cy="532" rx="3" ry="3" fill="#14143a" stroke="#a8f0f0" stroke-width="1.1" opacity="0.9"/>
<ellipse cx="575" cy="520" rx="2.5" ry="3" fill="#14143a" stroke="#a8f0f0" stroke-width="1.1" opacity="0.9"/>
<ellipse cx="595" cy="488" rx="2.5" ry="3" fill="#14143a" stroke="#a8f0f0" stroke-width="1.1" opacity="0.9"/>
<ellipse cx="640" cy="505" rx="2.5" ry="3" fill="#14143a" stroke="#a8f0f0" stroke-width="1.1" opacity="0.9"/>
<ellipse cx="556" cy="512" rx="2.5" ry="3" fill="#14143a" stroke="#a8f0f0" stroke-width="1.1" opacity="0.9"/>
<ellipse cx="628" cy="470" rx="2" ry="2.5" fill="#14143a" stroke="#a8f0f0" stroke-width="1.1" opacity="0.9"/>
<ellipse cx="605" cy="540" rx="2.5" ry="3" fill="#14143a" stroke="#a8f0f0" stroke-width="1.1" opacity="0.9"/>
<ellipse cx="570" cy="540" rx="2.5" ry="3" fill="#14143a" stroke="#a8f0f0" stroke-width="1.1" opacity="0.9"/>
</g>
<line x1="548.4" y1="461" x2="548.4" y2="547.3" stroke="#f2f2f2" stroke-width="1.4"/>
<rect x="533" y="544" width="8" height="1" fill="#fff"/>
<rect x="656" y="543.5" width="8" height="1" fill="#fff"/>
<text x="0" y="0" font-size="7.29" transform="translate(97.40 567.08) scale(1.155 1)">DLL4 positive area (%)</text>
<text x="0" y="0" font-size="15.72" fill="#111" transform="translate(9.70 588.30) scale(0.602 1)">l</text>
<rect x="37.7" y="598.4" width="111.7" height="33.7" fill="#7ec2e1" stroke="#5a9fc0" stroke-width="0.6"/>
<rect x="37.7" y="647.5" width="74.1" height="33.6" fill="#f5a48b" stroke="#d08a75" stroke-width="0.6"/>
<circle cx="82.9" cy="613.1" r="3.2" fill="#fff" stroke="#444" stroke-width="0.7"/>
<circle cx="100.7" cy="621.5" r="3.2" fill="#fff" stroke="#444" stroke-width="0.7"/>
<circle cx="98.1" cy="627.6" r="3.2" fill="#fff" stroke="#444" stroke-width="0.7"/>
<circle cx="110.1" cy="609.1" r="3.2" fill="#fff" stroke="#444" stroke-width="0.7"/>
<circle cx="116.9" cy="607.8" r="3.2" fill="#fff" stroke="#444" stroke-width="0.7"/>
<circle cx="115.2" cy="623.2" r="3.2" fill="#fff" stroke="#444" stroke-width="0.7"/>
<circle cx="119.2" cy="626.2" r="3.2" fill="#fff" stroke="#444" stroke-width="0.7"/>
<circle cx="121.6" cy="617.2" r="3.2" fill="#fff" stroke="#444" stroke-width="0.7"/>
<circle cx="131" cy="613.1" r="3.2" fill="#fff" stroke="#444" stroke-width="0.7"/>
<circle cx="132" cy="606.4" r="3.2" fill="#fff" stroke="#444" stroke-width="0.7"/>
<circle cx="129.3" cy="624.5" r="3.2" fill="#fff" stroke="#444" stroke-width="0.7"/>
<circle cx="136" cy="624.5" r="3.2" fill="#fff" stroke="#444" stroke-width="0.7"/>
<circle cx="139.4" cy="606.4" r="3.2" fill="#fff" stroke="#444" stroke-width="0.7"/>
<circle cx="141" cy="613.8" r="3.2" fill="#fff" stroke="#444" stroke-width="0.7"/>
<circle cx="145.1" cy="604.7" r="3.2" fill="#fff" stroke="#444" stroke-width="0.7"/>
<circle cx="146.7" cy="626.6" r="3.2" fill="#fff" stroke="#444" stroke-width="0.7"/>
<circle cx="147.8" cy="616.5" r="3.2" fill="#fff" stroke="#444" stroke-width="0.7"/>
<circle cx="156.1" cy="604.4" r="3.2" fill="#fff" stroke="#444" stroke-width="0.7"/>
<circle cx="156.1" cy="614.5" r="3.2" fill="#fff" stroke="#444" stroke-width="0.7"/>
<circle cx="161.2" cy="624.5" r="3.2" fill="#fff" stroke="#444" stroke-width="0.7"/>
<circle cx="167.9" cy="612.1" r="3.2" fill="#fff" stroke="#444" stroke-width="0.7"/>
<circle cx="169.6" cy="617.2" r="3.2" fill="#fff" stroke="#444" stroke-width="0.7"/>
<circle cx="175.3" cy="603.7" r="3.2" fill="#fff" stroke="#444" stroke-width="0.7"/>
<circle cx="179.7" cy="614.5" r="3.2" fill="#fff" stroke="#444" stroke-width="0.7"/>
<circle cx="181.3" cy="615.5" r="3.2" fill="#fff" stroke="#444" stroke-width="0.7"/>
<circle cx="186.4" cy="615.5" r="3.2" fill="#fff" stroke="#444" stroke-width="0.7"/>
<circle cx="185.4" cy="625.6" r="3.2" fill="#fff" stroke="#444" stroke-width="0.7"/>
<circle cx="191.4" cy="624.5" r="3.2" fill="#fff" stroke="#444" stroke-width="0.7"/>
<circle cx="193.1" cy="627.2" r="3.2" fill="#fff" stroke="#444" stroke-width="0.7"/>
<circle cx="213.2" cy="623.9" r="3.2" fill="#fff" stroke="#444" stroke-width="0.7"/>
<circle cx="147.8" cy="610.4" r="3.2" fill="#fff" stroke="#444" stroke-width="0.7"/>
<circle cx="150" cy="620" r="3.2" fill="#fff" stroke="#444" stroke-width="0.7"/>
<circle cx="160" cy="609" r="3.2" fill="#fff" stroke="#444" stroke-width="0.7"/>
<circle cx="141" cy="620" r="3.2" fill="#fff" stroke="#444" stroke-width="0.7"/>
<circle cx="84" cy="654.1" r="3.2" fill="#fff" stroke="#444" stroke-width="0.7"/>
<circle cx="90" cy="657.5" r="3.2" fill="#fff" stroke="#444" stroke-width="0.7"/>
<circle cx="93" cy="660.8" r="3.2" fill="#fff" stroke="#444" stroke-width="0.7"/>
<circle cx="99.1" cy="656.8" r="3.2" fill="#fff" stroke="#444" stroke-width="0.7"/>
<circle cx="102.4" cy="659.1" r="3.2" fill="#fff" stroke="#444" stroke-width="0.7"/>
<circle cx="107.5" cy="662.5" r="3.2" fill="#fff" stroke="#444" stroke-width="0.7"/>
<circle cx="110.8" cy="657.5" r="3.2" fill="#fff" stroke="#444" stroke-width="0.7"/>
<circle cx="115.8" cy="660.1" r="3.2" fill="#fff" stroke="#444" stroke-width="0.7"/>
<circle cx="119.2" cy="655.8" r="3.2" fill="#fff" stroke="#444" stroke-width="0.7"/>
<circle cx="124.9" cy="654.1" r="3.2" fill="#fff" stroke="#444" stroke-width="0.7"/>
<circle cx="131.6" cy="652.4" r="3.2" fill="#fff" stroke="#444" stroke-width="0.7"/>
<circle cx="124.9" cy="660.8" r="3.2" fill="#fff" stroke="#444" stroke-width="0.7"/>
<circle cx="120.9" cy="664.8" r="3.2" fill="#fff" stroke="#444" stroke-width="0.7"/>
<circle cx="115.8" cy="668.2" r="3.2" fill="#fff" stroke="#444" stroke-width="0.7"/>
<circle cx="137" cy="662.5" r="3.2" fill="#fff" stroke="#444" stroke-width="0.7"/>
<circle cx="138.3" cy="666.9" r="3.2" fill="#fff" stroke="#444" stroke-width="0.7"/>
<circle cx="146.7" cy="656.8" r="3.2" fill="#fff" stroke="#444" stroke-width="0.7"/>
<circle cx="149.4" cy="657.5" r="3.2" fill="#fff" stroke="#444" stroke-width="0.7"/>
<circle cx="152.8" cy="661.8" r="3.2" fill="#fff" stroke="#444" stroke-width="0.7"/>
<circle cx="71.2" cy="672.6" r="3.2" fill="#fff" stroke="#444" stroke-width="0.7"/>
<circle cx="75.6" cy="674.2" r="3.2" fill="#fff" stroke="#444" stroke-width="0.7"/>
<circle cx="86.6" cy="674.9" r="3.2" fill="#fff" stroke="#444" stroke-width="0.7"/>
<circle cx="91.3" cy="672.6" r="3.2" fill="#fff" stroke="#444" stroke-width="0.7"/>
<circle cx="99.1" cy="675.9" r="3.2" fill="#fff" stroke="#444" stroke-width="0.7"/>
<circle cx="95" cy="666.9" r="3.2" fill="#fff" stroke="#444" stroke-width="0.7"/>
<circle cx="100.7" cy="668.2" r="3.2" fill="#fff" stroke="#444" stroke-width="0.7"/>
<circle cx="110.1" cy="671.6" r="3.2" fill="#fff" stroke="#444" stroke-width="0.7"/>
<circle cx="124.9" cy="676.9" r="3.2" fill="#fff" stroke="#444" stroke-width="0.7"/>
<circle cx="100.1" cy="664.2" r="3.2" fill="#fff" stroke="#444" stroke-width="0.7"/>
<circle cx="104.1" cy="669.2" r="3.2" fill="#fff" stroke="#444" stroke-width="0.7"/>
<circle cx="112" cy="652" r="3.2" fill="#fff" stroke="#444" stroke-width="0.7"/>
<circle cx="128" cy="665" r="3.2" fill="#fff" stroke="#444" stroke-width="0.7"/>
<circle cx="133" cy="657" r="3.2" fill="#fff" stroke="#444" stroke-width="0.7"/>
<line x1="140" y1="615.3" x2="158" y2="615.3" stroke="#111" stroke-width="0.8"/>
<line x1="140" y1="612.5" x2="140" y2="618" stroke="#111" stroke-width="0.8"/>
<line x1="158" y1="612.5" x2="158" y2="618" stroke="#111" stroke-width="0.8"/>
<line x1="104" y1="664.3" x2="119" y2="664.3" stroke="#111" stroke-width="0.8"/>
<line x1="104" y1="661.5" x2="104" y2="667" stroke="#111" stroke-width="0.8"/>
<line x1="119" y1="661.5" x2="119" y2="667" stroke="#111" stroke-width="0.8"/>
<line x1="37.7" y1="585.7" x2="236" y2="585.7" stroke="#111" stroke-width="1.5"/>
<line x1="37.7" y1="585" x2="37.7" y2="693.4" stroke="#111" stroke-width="1.5"/>
<line x1="37.7" y1="583.2" x2="37.7" y2="585.7" stroke="#111" stroke-width="1"/>
<text x="0" y="0" font-size="7.49" transform="translate(37.70 579.50) rotate(90) scale(1.249 1) translate(-2.08 2.58)">0</text>
<line x1="86.4" y1="583.2" x2="86.4" y2="585.7" stroke="#111" stroke-width="1"/>
<text x="0" y="0" font-size="7.49" transform="translate(86.40 579.50) rotate(90) scale(0.949 1) translate(-4.16 2.58)">10</text>
<line x1="135.1" y1="583.2" x2="135.1" y2="585.7" stroke="#111" stroke-width="1"/>
<text x="0" y="0" font-size="7.49" transform="translate(135.10 579.50) rotate(90) scale(0.949 1) translate(-4.16 2.58)">20</text>
<line x1="183.8" y1="583.2" x2="183.8" y2="585.7" stroke="#111" stroke-width="1"/>
<text x="0" y="0" font-size="7.49" transform="translate(183.80 579.50) rotate(90) scale(0.949 1) translate(-4.16 2.58)">30</text>
<line x1="232.5" y1="583.2" x2="232.5" y2="585.7" stroke="#111" stroke-width="1"/>
<text x="0" y="0" font-size="7.49" transform="translate(232.50 579.50) rotate(90) scale(0.949 1) translate(-4.16 2.58)">40</text>
<line x1="35" y1="615.4" x2="37.7" y2="615.4" stroke="#111" stroke-width="1"/>
<line x1="35" y1="664.5" x2="37.7" y2="664.5" stroke="#111" stroke-width="1"/>
<text x="0" y="0" font-size="8.34" transform="translate(7.90 617.64) scale(0.961 1)">TTN_L</text>
<text x="0" y="0" font-size="8.34" transform="translate(7.00 664.94) scale(0.978 1)">TTN_H</text>
<path d="M217.5,615.5 L221,615.5 L221,664.2 L217.5,664.2" fill="none" stroke="#333" stroke-width="0.9"/>
<text x="0" y="0" font-size="7" transform="translate(223.2 634) rotate(90)">****</text>
<text x="0" y="0" font-size="12.45" fill="#111" transform="translate(263.40 583.20) scale(1.388 1)">m</text>
<text x="0" y="0" font-size="8.72" transform="translate(318.90 579.30) scale(1.005 1)">4T1</text>
<line x1="294.5" y1="582.8" x2="354.2" y2="582.8" stroke="#111" stroke-width="1"/>
<text x="0" y="0" font-size="8" transform="translate(304.8 605.5) rotate(-50)">DLL4<tspan font-size="5" dy="-3">KO</tspan></text>
<text x="0" y="0" font-size="8" transform="translate(344 605.5) rotate(-50)">DLL4<tspan font-size="5" dy="-3">WT</tspan></text>
<rect x="293.2" y="609.4" width="69.7" height="33.7" fill="#eeeeee" stroke="#2a2a2a" stroke-width="1"/>
<rect x="293.2" y="647.3" width="69.7" height="34.4" fill="#e8e8e8" stroke="#2a2a2a" stroke-width="1"/>
<rect x="336" y="610.5" width="19" height="3" fill="#222" opacity="0.8" filter="url(#bl8)"/>
<rect x="336" y="616.2" width="20" height="3" fill="#333" opacity="0.6" filter="url(#bl8)"/>
<rect x="334.5" y="620.5" width="22" height="10.5" rx="4" fill="#0c0c0c" filter="url(#bl8)"/>
<rect x="301.9" y="658.8" width="24.3" height="11.6" rx="4" fill="#0c0c0c" filter="url(#bl8)"/>
<rect x="331" y="658.6" width="25.4" height="11.8" rx="4" fill="#0c0c0c" filter="url(#bl8)"/>
<text x="0" y="0" font-size="8.72" fill="#333" transform="translate(269.80 627.80) scale(0.969 1)">DLL4</text>
<text x="0" y="0" font-size="8.57" fill="#333" transform="translate(254.70 669.42) scale(0.992 1)">β-Tubulin</text>
<text x="0" y="0" font-size="15.24" fill="#111" transform="translate(398.20 583.80) scale(0.897 1)">n</text>
<path d="M424.3,597.5 C423.8,606 426,612 426.2,618 C426.4,621 426.8,623 427.2,624.8" fill="none" stroke="#c99a98" stroke-width="1.1"/>
<path d="M416,593.5 L411,598.9 M433,593.5 L438.3,599.4" fill="none" stroke="#5b4a44" stroke-width="2.2"/>
<path d="M412.5,597.5 L409.8,599.6 M436.8,598 L439.4,600.2" fill="none" stroke="#d6a3a0" stroke-width="1.4"/>
<path d="M418.5,572.5 L411.8,570.6 M430.5,572.5 L437.3,570.6" fill="none" stroke="#5b4a44" stroke-width="2.4"/>
<circle cx="410.6" cy="569.9" r="1.2" fill="#d6a3a0"/>
<circle cx="438.4" cy="569.9" r="1.2" fill="#d6a3a0"/>
<path d="M424.5,561.2 C425.5,561.2 426.8,562.6 427.6,563.6 C428.5,564.6 429.1,566.0 429.6,567.2 C430.1,568.4 429.9,569.4 430.6,570.6 C431.3,571.8 433.0,573.0 433.6,574.6 C434.2,576.2 434.1,578.1 434.2,580.2 C434.3,582.3 434.3,585.2 434.4,587.0 C434.5,588.8 434.8,589.6 434.6,591.0 C434.4,592.4 433.9,594.4 433.0,595.5 C432.1,596.6 430.8,597.1 429.4,597.6 C428.0,598.1 426.1,598.4 424.5,598.4 C422.9,598.4 421.0,598.1 419.6,597.6 C418.2,597.1 416.9,596.6 416.0,595.5 C415.1,594.4 414.6,592.4 414.4,591.0 C414.2,589.6 414.5,588.8 414.6,587.0 C414.7,585.2 414.7,582.3 414.8,580.2 C414.9,578.1 414.8,576.2 415.4,574.6 C416.0,573.0 417.7,571.8 418.4,570.6 C419.1,569.4 418.9,568.4 419.4,567.2 C419.9,566.0 420.5,564.6 421.4,563.6 C422.2,562.6 423.5,561.2 424.5,561.2 Z" fill="#5b4a44"/>
<circle cx="417.9" cy="567.4" r="1.3" fill="#b88884"/>
<circle cx="431.1" cy="567.4" r="1.3" fill="#b88884"/>
<path d="M433,570.8 L436,567" fill="none" stroke="#3aa8a0" stroke-width="0.7"/>
<path d="M435.5,567.5 L438.5,563.8" fill="none" stroke="#d04848" stroke-width="2.2"/>
<path d="M438.3,564 L445.5,554.5" fill="none" stroke="#d8d8d8" stroke-width="2.4"/>
<path d="M445,555 L447.5,551.5" fill="none" stroke="#aaa" stroke-width="1"/>
<path d="M438,564 L446,558 L447,574 Z" fill="#f2cccc" opacity="0.7"/>
<circle cx="455.2" cy="566" r="10.8" fill="#fbeeee" stroke="#e8b4b4" stroke-width="0.8"/>
<circle cx="455.2" cy="566" r="7.8" fill="#dc8e8e"/>
<path d="M454.1 562.7h0M451.7 563.2h0M458.1 563.3h0M453.9 568.0h0M455.6 570.8h0M455.1 565.1h0M456.4 562.9h0M459.6 564.6h0M454.0 568.0h0M451.4 567.8h0M459.0 564.2h0M460.1 566.3h0M458.2 565.7h0M454.1 563.5h0M449.8 562.7h0M460.6 566.4h0M454.8 570.4h0M456.4 571.2h0M453.6 562.9h0M459.8 562.3h0M458.4 567.0h0M460.5 570.9h0M457.0 560.9h0M450.0 565.7h0M458.7 561.4h0M454.4 561.4h0M453.1 560.6h0M453.3 566.3h0M451.9 569.2h0M450.3 562.8h0M452.5 564.9h0M458.1 564.4h0M457.3 570.6h0M451.1 570.0h0M456.3 568.7h0M456.4 565.0h0M450.8 562.1h0M451.6 562.5h0M451.3 562.8h0M455.9 569.0h0" stroke="#f4c8c8" stroke-width="1.20" stroke-linecap="round" fill="none"/>
<path d="M458.5 569.8h0M451.0 569.5h0M451.7 561.3h0M452.9 566.9h0M450.2 562.9h0M454.1 569.5h0M454.1 565.1h0M453.8 561.5h0M459.4 570.7h0M457.6 564.9h0M454.6 563.9h0M456.9 567.7h0M453.1 570.1h0M457.6 562.9h0M458.6 567.9h0M452.4 563.8h0M458.0 561.4h0M454.5 571.1h0M452.5 566.0h0M459.7 570.1h0M458.4 566.4h0M459.9 563.3h0M459.4 565.0h0M456.9 567.2h0M452.8 568.0h0" stroke="#b86a6a" stroke-width="1.00" stroke-linecap="round" fill="none"/>
<text x="0" y="0" font-size="9.25" transform="translate(383.80 609.51) scale(0.936 1)">C57BL/6</text>
<text x="0" y="0" font-size="9.88" transform="translate(386.00 620.20) scale(0.864 1)">WT 4W</text>
<text x="0" y="0" font-size="8.4" transform="translate(471.2 560.6)">4T1-DLL4<tspan font-size="5" dy="-3.2">WT/KO</tspan><tspan dy="3.2"> cell line</tspan></text>
<text x="0" y="0" font-size="8.57" transform="translate(471.20 570.82) scale(0.997 1)">Fat pad injection</text>
<circle cx="518.8" cy="576.7" r="1.2" fill="#e02020"/>
<text x="0" y="0" font-size="8.36" transform="translate(522.50 579.56) scale(0.994 1)">Monitoring tumor bruden</text>
<text x="0" y="0" font-size="8.57" transform="translate(624.90 570.81) scale(0.980 1)">Harvested</text>
<line x1="446.9" y1="588.7" x2="650" y2="588.7" stroke="#737799" stroke-width="1.4"/>
<path d="M654,588.7 L649,586.6 L649,590.8 Z" fill="#222"/>
<line x1="472.9" y1="572.9" x2="472.9" y2="588.7" stroke="#111" stroke-width="1"/>
<line x1="645.2" y1="573.3" x2="645.2" y2="588.7" stroke="#111" stroke-width="1"/>
<line x1="516.3" y1="582.8" x2="516.3" y2="588.7" stroke="#111" stroke-width="1"/>
<line x1="516.3" y1="582.8" x2="634" y2="582.8" stroke="#333" stroke-width="0.9"/>
<path d="M638,582.8 L633.5,581 L633.5,584.6 Z" fill="#333"/>
<circle cx="516.9" cy="588.7" r="1.4" fill="#e02424"/>
<circle cx="534.7" cy="588.7" r="1.4" fill="#e02424"/>
<circle cx="553.1" cy="588.7" r="1.4" fill="#e02424"/>
<circle cx="571.8" cy="588.7" r="1.4" fill="#e02424"/>
<circle cx="590.2" cy="588.7" r="1.4" fill="#e02424"/>
<circle cx="608.8" cy="588.7" r="1.4" fill="#e02424"/>
<circle cx="626.8" cy="588.7" r="1.4" fill="#e02424"/>
<circle cx="645.2" cy="588.7" r="1.4" fill="#e02424"/>
<text x="0" y="0" font-size="8.19" transform="translate(470.90 598.32) scale(0.878 1)">0</text>
<text x="0" y="0" font-size="8.43" transform="translate(514.30 598.40) scale(0.853 1)">7</text>
<text x="0" y="0" font-size="8.19" transform="translate(639.40 599.02) scale(0.944 1)">28</text>
<text x="0" y="0" font-size="8.59" transform="translate(652.60 599.21) scale(0.950 1)">Days</text>
<text x="0" y="0" font-size="15.33" fill="#111" transform="translate(398.20 636.65) scale(0.939 1)">o</text>
<defs><linearGradient id="gph" x1="0" y1="0" x2="1" y2="0.4"><stop offset="0" stop-color="#c6c7cb"/><stop offset="0.45" stop-color="#d3d4d8"/><stop offset="1" stop-color="#d2d3d7"/></linearGradient></defs>
<rect x="431.4" y="609.7" width="212.7" height="80" fill="url(#gph)"/>
<rect x="431.4" y="669.8" width="212.7" height="19.9" fill="#d6d7da"/>
<rect x="431.4" y="669.7" width="212.7" height="5.6" fill="#a9a9a9"/>
<path d="M431.60 669.7l0.5 7.2M432.98 669.7l0.5 5.4M434.36 669.7l0.5 5.4M435.74 669.7l0.5 5.4M437.12 669.7l0.5 5.4M438.50 669.7l0.5 6M439.88 669.7l0.5 5.4M441.26 669.7l0.5 5.4M442.64 669.7l0.5 5.4M444.02 669.7l0.5 5.4M445.40 669.7l0.5 7.2M446.78 669.7l0.5 5.4M448.16 669.7l0.5 5.4M449.54 669.7l0.5 5.4M450.92 669.7l0.5 5.4M452.30 669.7l0.5 6M453.68 669.7l0.5 5.4M455.06 669.7l0.5 5.4M456.44 669.7l0.5 5.4M457.82 669.7l0.5 5.4M459.20 669.7l0.5 7.2M460.58 669.7l0.5 5.4M461.96 669.7l0.5 5.4M463.34 669.7l0.5 5.4M464.72 669.7l0.5 5.4M466.10 669.7l0.5 6M467.48 669.7l0.5 5.4M468.86 669.7l0.5 5.4M470.24 669.7l0.5 5.4M471.62 669.7l0.5 5.4M473.00 669.7l0.5 7.2M474.38 669.7l0.5 5.4M475.76 669.7l0.5 5.4M477.14 669.7l0.5 5.4M478.52 669.7l0.5 5.4M479.90 669.7l0.5 6M481.28 669.7l0.5 5.4M482.66 669.7l0.5 5.4M484.04 669.7l0.5 5.4M485.42 669.7l0.5 5.4M486.80 669.7l0.5 7.2M488.18 669.7l0.5 5.4M489.56 669.7l0.5 5.4M490.94 669.7l0.5 5.4M492.32 669.7l0.5 5.4M493.70 669.7l0.5 6M495.08 669.7l0.5 5.4M496.46 669.7l0.5 5.4M497.84 669.7l0.5 5.4M499.22 669.7l0.5 5.4M500.60 669.7l0.5 7.2M501.98 669.7l0.5 5.4M503.36 669.7l0.5 5.4M504.74 669.7l0.5 5.4M506.12 669.7l0.5 5.4M507.50 669.7l0.5 6M508.88 669.7l0.5 5.4M510.26 669.7l0.5 5.4M511.64 669.7l0.5 5.4M513.02 669.7l0.5 5.4M514.40 669.7l0.5 7.2M515.78 669.7l0.5 5.4M517.16 669.7l0.5 5.4M518.54 669.7l0.5 5.4M519.92 669.7l0.5 5.4M521.30 669.7l0.5 6M522.68 669.7l0.5 5.4M524.06 669.7l0.5 5.4M525.44 669.7l0.5 5.4M526.82 669.7l0.5 5.4M528.20 669.7l0.5 7.2M529.58 669.7l0.5 5.4M530.96 669.7l0.5 5.4M532.34 669.7l0.5 5.4M533.72 669.7l0.5 5.4M535.10 669.7l0.5 6M536.48 669.7l0.5 5.4M537.86 669.7l0.5 5.4M539.24 669.7l0.5 5.4M540.62 669.7l0.5 5.4M542.00 669.7l0.5 7.2M543.38 669.7l0.5 5.4M544.76 669.7l0.5 5.4M546.14 669.7l0.5 5.4M547.52 669.7l0.5 5.4M548.90 669.7l0.5 6M550.28 669.7l0.5 5.4M551.66 669.7l0.5 5.4M553.04 669.7l0.5 5.4M554.42 669.7l0.5 5.4M555.80 669.7l0.5 7.2M557.18 669.7l0.5 5.4M558.56 669.7l0.5 5.4M559.94 669.7l0.5 5.4M561.32 669.7l0.5 5.4M562.70 669.7l0.5 6M564.08 669.7l0.5 5.4M565.46 669.7l0.5 5.4M566.84 669.7l0.5 5.4M568.22 669.7l0.5 5.4M569.60 669.7l0.5 7.2M570.98 669.7l0.5 5.4M572.36 669.7l0.5 5.4M573.74 669.7l0.5 5.4M575.12 669.7l0.5 5.4M576.50 669.7l0.5 6M577.88 669.7l0.5 5.4M579.26 669.7l0.5 5.4M580.64 669.7l0.5 5.4M582.02 669.7l0.5 5.4M583.40 669.7l0.5 7.2M584.78 669.7l0.5 5.4M586.16 669.7l0.5 5.4M587.54 669.7l0.5 5.4M588.92 669.7l0.5 5.4M590.30 669.7l0.5 6M591.68 669.7l0.5 5.4M593.06 669.7l0.5 5.4M594.44 669.7l0.5 5.4M595.82 669.7l0.5 5.4M597.20 669.7l0.5 7.2M598.58 669.7l0.5 5.4M599.96 669.7l0.5 5.4M601.34 669.7l0.5 5.4M602.72 669.7l0.5 5.4M604.10 669.7l0.5 6M605.48 669.7l0.5 5.4M606.86 669.7l0.5 5.4M608.24 669.7l0.5 5.4M609.62 669.7l0.5 5.4M611.00 669.7l0.5 7.2M612.38 669.7l0.5 5.4M613.76 669.7l0.5 5.4M615.14 669.7l0.5 5.4M616.52 669.7l0.5 5.4M617.90 669.7l0.5 6M619.28 669.7l0.5 5.4M620.66 669.7l0.5 5.4M622.04 669.7l0.5 5.4M623.42 669.7l0.5 5.4M624.80 669.7l0.5 7.2M626.18 669.7l0.5 5.4M627.56 669.7l0.5 5.4M628.94 669.7l0.5 5.4M630.32 669.7l0.5 5.4M631.70 669.7l0.5 6M633.08 669.7l0.5 5.4M634.46 669.7l0.5 5.4M635.84 669.7l0.5 5.4M637.22 669.7l0.5 5.4M638.60 669.7l0.5 7.2M639.98 669.7l0.5 5.4M641.36 669.7l0.5 5.4M642.74 669.7l0.5 5.4" fill="none" stroke="#5a5a5a" stroke-width="0.6"/>
<text x="439.0" y="682" font-size="4" text-anchor="middle" fill="#333">1cm</text>
<text x="448.9" y="682" font-size="4" text-anchor="middle" fill="#333">2</text>
<text x="462.1" y="682" font-size="4" text-anchor="middle" fill="#333">3</text>
<text x="475.2" y="682" font-size="4" text-anchor="middle" fill="#333">4</text>
<text x="488.4" y="682" font-size="4" text-anchor="middle" fill="#333">5</text>
<text x="501.5" y="682" font-size="4" text-anchor="middle" fill="#333">6</text>
<text x="514.7" y="682" font-size="4" text-anchor="middle" fill="#333">7</text>
<text x="527.9" y="682" font-size="4" text-anchor="middle" fill="#333">8</text>
<text x="541.0" y="682" font-size="4" text-anchor="middle" fill="#333">9</text>
<text x="554.2" y="682" font-size="4" text-anchor="middle" fill="#333">10</text>
<text x="567.3" y="682" font-size="4" text-anchor="middle" fill="#333">11</text>
<text x="580.5" y="682" font-size="4" text-anchor="middle" fill="#333">12</text>
<text x="593.7" y="682" font-size="4" text-anchor="middle" fill="#333">13</text>
<text x="606.8" y="682" font-size="4" text-anchor="middle" fill="#333">14</text>
<text x="620.0" y="682" font-size="4" text-anchor="middle" fill="#333">15</text>
<text x="633.1" y="682" font-size="4" text-anchor="middle" fill="#333">16</text>
<ellipse cx="444.5" cy="620.3" rx="8.8" ry="6.7" fill="#87503f"/>
<ellipse cx="443.7" cy="619.5" rx="6.2" ry="4.0" fill="#9f644d" opacity="0.85"/>
<ellipse cx="481.1" cy="625.1" rx="8.8" ry="5.6" fill="#87503f"/>
<ellipse cx="480.3" cy="624.3000000000001" rx="6.2" ry="3.4" fill="#9f644d" opacity="0.85"/>
<ellipse cx="520.7" cy="626.7" rx="8.5" ry="5" fill="#87503f"/>
<ellipse cx="519.9000000000001" cy="625.9000000000001" rx="5.9" ry="3.0" fill="#9f644d" opacity="0.85"/>
<ellipse cx="559.5" cy="624.5" rx="6.8" ry="5.8" fill="#87503f"/>
<ellipse cx="558.7" cy="623.7" rx="4.8" ry="3.5" fill="#9f644d" opacity="0.85"/>
<ellipse cx="594.6" cy="626.6" rx="8.5" ry="6" fill="#87503f"/>
<ellipse cx="593.8000000000001" cy="625.8000000000001" rx="5.9" ry="3.6" fill="#9f644d" opacity="0.85"/>
<ellipse cx="632.5" cy="627.3" rx="7" ry="7" fill="#87503f"/>
<ellipse cx="631.7" cy="626.5" rx="4.9" ry="4.2" fill="#9f644d" opacity="0.85"/>
<ellipse cx="442" cy="647.6" rx="4.8" ry="3.5" fill="#a87552"/>
<ellipse cx="477.4" cy="648.7" rx="4" ry="3" fill="#a87552"/>
<ellipse cx="518.6" cy="651.6" rx="3" ry="2.3" fill="#a87552"/>
<ellipse cx="555.2" cy="653.1" rx="4" ry="2.5" fill="#a87552"/>
<ellipse cx="590.8" cy="653.1" rx="3.5" ry="2.5" fill="#a87552"/>
<ellipse cx="630.6" cy="652" rx="3.5" ry="2.5" fill="#a87552"/>
<text x="0" y="0" font-size="9.30" transform="translate(644.50 627.60) scale(0.900 1)">4T1-DLL4-</text>
<text x="0" y="0" font-size="9.30" transform="translate(658.50 637.40) scale(0.899 1)">WT</text>
<text x="0" y="0" font-size="9.30" transform="translate(644.50 653.00) scale(0.900 1)">4T1-DLL4-</text>
<text x="0" y="0" font-size="9.04" transform="translate(659.30 663.11) scale(0.873 1)">KO</text>
<text x="0" y="0" font-size="13.94" fill="#111" transform="translate(8.40 701.70) scale(1.006 1)">p</text>
<rect x="38.3" y="697.9" width="117.4" height="113.9" fill="#fff" stroke="#111" stroke-width="1.2"/>
<text x="0" y="0" font-size="9.38" transform="translate(82.30 695.30) scale(0.862 1)">Dll4-WT</text>
<path d="M38.3 699.9h-1.1M38.3 701.7h-1.1M38.3 703.0h-1.1M38.3 704.7h-1.1M38.3 706.2h-1.1M38.3 707.7h-1.1M38.3 709.9h-1.1M38.3 712.5h-1.1M38.3 714.0h-1.1M38.3 715.9h-1.8M38.3 717.9h-1.8M38.3 719.6h-1.1M38.3 721.8h-1.1M38.3 723.8h-1.8M38.3 725.7h-1.8M38.3 727.9h-1.1M38.3 729.3h-1.1M38.3 730.9h-1.8M38.3 732.7h-1.1M38.3 734.3h-1.8M38.3 736.1h-1.1M38.3 737.5h-1.1M38.3 739.1h-1.1M38.3 740.6h-1.1M38.3 741.9h-1.1M38.3 743.7h-1.1M38.3 746.0h-1.1M38.3 747.2h-1.1M38.3 749.2h-1.1M38.3 751.2h-1.1M38.3 753.6h-1.1M38.3 755.1h-1.8M38.3 756.9h-1.1M38.3 758.4h-1.1M38.3 760.3h-1.1M38.3 761.7h-1.8M38.3 763.7h-1.1M38.3 765.7h-1.1M38.3 767.3h-1.8M38.3 769.4h-1.1M38.3 770.7h-1.8M38.3 772.8h-1.1M38.3 774.3h-1.8M38.3 776.1h-1.8M38.3 777.7h-1.8M38.3 779.0h-1.1M38.3 781.5h-1.8M38.3 783.7h-1.1M38.3 785.3h-1.1M38.3 787.6h-1.8M38.3 789.3h-1.1M38.3 791.2h-1.8M38.3 792.9h-1.1M38.3 794.9h-1.1M38.3 796.5h-1.8M38.3 798.7h-1.1M38.3 800.2h-1.1M38.3 801.5h-1.8M38.3 803.5h-1.1M38.3 805.3h-1.8M38.3 807.2h-1.1M38.3 808.8h-1.1M38.3 810.3h-1.1M38.3 811.6h-1.1M40.3 811.8v1.1M42.0 811.8v1.1M44.1 811.8v1.8M46.6 811.8v1.1M48.3 811.8v1.1M49.9 811.8v1.1M51.7 811.8v1.1M53.5 811.8v1.1M55.5 811.8v1.8M57.5 811.8v1.1M59.2 811.8v1.1M61.6 811.8v1.1M64.2 811.8v1.8M65.7 811.8v1.1M67.0 811.8v1.8M68.7 811.8v1.1M70.8 811.8v1.1M72.8 811.8v1.1M74.0 811.8v1.8M75.9 811.8v1.8M78.5 811.8v1.1M79.9 811.8v1.8M82.2 811.8v1.1M84.5 811.8v1.8M86.9 811.8v1.1M89.4 811.8v1.1M91.5 811.8v1.1M93.3 811.8v1.8M94.7 811.8v1.1M97.1 811.8v1.1M98.9 811.8v1.8M100.2 811.8v1.8M102.6 811.8v1.8M104.7 811.8v1.1M106.7 811.8v1.1M107.9 811.8v1.1M110.1 811.8v1.8M111.7 811.8v1.1M114.0 811.8v1.1M116.1 811.8v1.1M117.7 811.8v1.1M119.9 811.8v1.8M122.5 811.8v1.1M123.8 811.8v1.1M126.4 811.8v1.1M128.5 811.8v1.8M130.1 811.8v1.8M131.5 811.8v1.8M133.1 811.8v1.1M135.2 811.8v1.1M137.8 811.8v1.8M140.2 811.8v1.8M142.0 811.8v1.1M143.4 811.8v1.1M145.0 811.8v1.1M146.6 811.8v1.1M147.9 811.8v1.1M150.2 811.8v1.8M152.5 811.8v1.1M154.7 811.8v1.8" fill="none" stroke="#111" stroke-width="0.5"/>
<rect x="203.2" y="693.6" width="124.6" height="121.2" fill="#fff" stroke="#111" stroke-width="1.2"/>
<text x="0" y="0" font-size="9.25" transform="translate(244.00 691.21) scale(0.945 1)">Dll4-KO</text>
<path d="M203.2 695.6h-1.8M203.2 698.0h-1.1M203.2 699.5h-1.1M203.2 701.5h-1.1M203.2 703.6h-1.1M203.2 705.9h-1.1M203.2 707.2h-1.1M203.2 708.5h-1.1M203.2 711.1h-1.1M203.2 712.7h-1.1M203.2 714.2h-1.1M203.2 715.8h-1.8M203.2 717.8h-1.8M203.2 719.3h-1.8M203.2 721.7h-1.1M203.2 723.7h-1.1M203.2 726.1h-1.8M203.2 728.2h-1.1M203.2 729.8h-1.1M203.2 731.5h-1.1M203.2 734.0h-1.8M203.2 736.2h-1.8M203.2 738.5h-1.8M203.2 740.8h-1.8M203.2 742.3h-1.8M203.2 743.9h-1.1M203.2 745.8h-1.8M203.2 747.3h-1.1M203.2 749.5h-1.1M203.2 751.4h-1.1M203.2 753.9h-1.1M203.2 756.5h-1.1M203.2 759.0h-1.1M203.2 761.2h-1.1M203.2 763.0h-1.1M203.2 764.7h-1.1M203.2 766.5h-1.8M203.2 768.9h-1.1M203.2 770.1h-1.1M203.2 772.4h-1.1M203.2 774.3h-1.8M203.2 775.8h-1.1M203.2 777.9h-1.1M203.2 779.5h-1.8M203.2 782.0h-1.1M203.2 784.5h-1.1M203.2 785.8h-1.8M203.2 787.8h-1.1M203.2 790.0h-1.8M203.2 792.5h-1.1M203.2 794.3h-1.1M203.2 796.0h-1.1M203.2 797.3h-1.8M203.2 799.8h-1.1M203.2 802.1h-1.1M203.2 803.8h-1.8M203.2 806.3h-1.8M203.2 808.6h-1.8M203.2 810.2h-1.8M203.2 812.4h-1.1M203.2 814.4h-1.1M205.2 814.8v1.1M206.6 814.8v1.8M208.6 814.8v1.1M210.2 814.8v1.1M211.5 814.8v1.8M213.3 814.8v1.1M215.7 814.8v1.1M218.3 814.8v1.1M220.8 814.8v1.1M222.6 814.8v1.1M224.8 814.8v1.8M226.2 814.8v1.1M228.2 814.8v1.8M229.9 814.8v1.8M232.4 814.8v1.1M234.4 814.8v1.8M236.2 814.8v1.1M238.6 814.8v1.1M240.0 814.8v1.1M242.3 814.8v1.1M244.0 814.8v1.1M245.6 814.8v1.8M247.7 814.8v1.1M249.6 814.8v1.1M251.8 814.8v1.1M253.6 814.8v1.1M255.2 814.8v1.8M256.9 814.8v1.8M258.8 814.8v1.1M260.4 814.8v1.1M262.3 814.8v1.1M264.2 814.8v1.1M265.9 814.8v1.1M267.2 814.8v1.1M268.6 814.8v1.8M270.4 814.8v1.1M271.9 814.8v1.8M274.2 814.8v1.1M275.6 814.8v1.1M277.6 814.8v1.1M279.0 814.8v1.1M280.2 814.8v1.8M282.2 814.8v1.1M284.7 814.8v1.8M287.2 814.8v1.1M288.5 814.8v1.8M290.0 814.8v1.1M291.6 814.8v1.1M293.7 814.8v1.1M295.4 814.8v1.1M297.7 814.8v1.8M298.9 814.8v1.1M301.5 814.8v1.1M302.8 814.8v1.1M305.3 814.8v1.1M306.5 814.8v1.8M308.3 814.8v1.1M310.8 814.8v1.8M313.3 814.8v1.1M315.1 814.8v1.8M316.5 814.8v1.1M317.8 814.8v1.1M319.9 814.8v1.1M321.2 814.8v1.8M323.2 814.8v1.8M324.7 814.8v1.1M326.8 814.8v1.1" fill="none" stroke="#111" stroke-width="0.5"/>
<text x="29.4" y="715.0" font-size="8.6" text-anchor="end" fill="#222">10</text>
<text x="29.9" y="708.8" font-size="7.2" fill="#222">6</text>
<text x="29.4" y="727.0" font-size="8.6" text-anchor="end" fill="#222">10</text>
<text x="29.9" y="720.8" font-size="7.2" fill="#222">5</text>
<text x="29.4" y="739.2" font-size="8.6" text-anchor="end" fill="#222">10</text>
<text x="29.9" y="733.0" font-size="7.2" fill="#222">4</text>
<text x="29.4" y="752.7" font-size="8.6" text-anchor="end" fill="#222">10</text>
<text x="29.9" y="746.5" font-size="7.2" fill="#222">3</text>
<text x="29.4" y="770.5" font-size="8.6" text-anchor="end" fill="#222">−10</text>
<text x="29.9" y="764.3" font-size="7.2" fill="#222">3</text>
<text x="29.4" y="786.2" font-size="8.6" text-anchor="end" fill="#222">−10</text>
<text x="29.9" y="780.0" font-size="7.2" fill="#222">4</text>
<text x="29.4" y="797.6" font-size="8.6" text-anchor="end" fill="#222">−10</text>
<text x="29.9" y="791.4" font-size="7.2" fill="#222">5</text>
<text x="29.4" y="811.1" font-size="8.6" text-anchor="end" fill="#222">−10</text>
<text x="29.9" y="804.9" font-size="7.2" fill="#222">6</text>
<text x="195.4" y="708.3" font-size="8.6" text-anchor="end" fill="#222">10</text>
<text x="195.9" y="702.1" font-size="7.2" fill="#222">6</text>
<text x="195.4" y="736.2" font-size="8.6" text-anchor="end" fill="#222">10</text>
<text x="195.9" y="730.0" font-size="7.2" fill="#222">4</text>
<text x="195.4" y="753.0" font-size="8.6" text-anchor="end" fill="#222">10</text>
<text x="195.9" y="746.8" font-size="7.2" fill="#222">3</text>
<text x="195.4" y="773.2" font-size="8.6" text-anchor="end" fill="#222">−10</text>
<text x="195.9" y="767.0" font-size="7.2" fill="#222">3</text>
<text x="195.4" y="802.3" font-size="8.6" text-anchor="end" fill="#222">−10</text>
<text x="195.9" y="796.1" font-size="7.2" fill="#222">5</text>
<text x="195.4" y="815.8" font-size="8.6" text-anchor="end" fill="#222">−10</text>
<text x="195.9" y="809.6" font-size="7.2" fill="#222">6</text>
<text x="53.0" y="824.9" font-size="8" text-anchor="end" fill="#222">−10</text>
<text x="53.5" y="819.5" font-size="6.6" fill="#222">5</text>
<text x="86.2" y="824.9" font-size="8" text-anchor="end" fill="#222">−10</text>
<text x="86.7" y="819.5" font-size="6.6" fill="#222">3</text>
<text x="118.5" y="824.9" font-size="8" text-anchor="end" fill="#222">10</text>
<text x="119.0" y="819.5" font-size="6.6" fill="#222">4</text>
<text x="133.3" y="824.9" font-size="8" text-anchor="end" fill="#222">10</text>
<text x="133.8" y="819.5" font-size="6.6" fill="#222">5</text>
<text x="148.5" y="824.9" font-size="8" text-anchor="end" fill="#222">10</text>
<text x="149.0" y="819.5" font-size="6.6" fill="#222">6</text>
<text x="219.5" y="828.3" font-size="8" text-anchor="end" fill="#222">−10</text>
<text x="220.0" y="822.9" font-size="6.6" fill="#222">5</text>
<text x="253.8" y="828.3" font-size="8" text-anchor="end" fill="#222">−10</text>
<text x="254.3" y="822.9" font-size="6.6" fill="#222">3</text>
<text x="287.5" y="828.3" font-size="8" text-anchor="end" fill="#222">10</text>
<text x="288.0" y="822.9" font-size="6.6" fill="#222">4</text>
<text x="302.0" y="828.3" font-size="8" text-anchor="end" fill="#222">10</text>
<text x="302.5" y="822.9" font-size="6.6" fill="#222">5</text>
<text x="318.5" y="828.3" font-size="8" text-anchor="end" fill="#222">10</text>
<text x="319.0" y="822.9" font-size="6.6" fill="#222">6</text>
<text x="0" y="0" font-size="8.47" transform="translate(81.50 835.21) scale(1.006 1)">Gr-1_APC</text>
<text x="0" y="0" font-size="8.25" transform="translate(237.20 836.36) scale(1.041 1)">Gr-1_APC</text>
<text x="0" y="0" font-size="8.55" transform="translate(10.30 764.50) rotate(-90) scale(1.032 1) translate(-21.07 2.25)">CD11b_PE</text>
<text x="0" y="0" font-size="8.55" transform="translate(175.00 766.60) rotate(-90) scale(1.032 1) translate(-21.07 2.25)">CD11b_PE</text>
<line x1="115.3" y1="697.9" x2="115.3" y2="811.8" stroke="#111" stroke-width="1.1"/>
<line x1="38.3" y1="748.3" x2="155.7" y2="748.3" stroke="#111" stroke-width="1.1"/>
<defs><radialGradient id="hot"><stop offset="0" stop-color="#d4141a"/><stop offset="0.22" stop-color="#e8401a"/><stop offset="0.36" stop-color="#f4d020"/><stop offset="0.5" stop-color="#4cc24a"/><stop offset="0.66" stop-color="#38c8e8"/><stop offset="0.82" stop-color="#3a7ad8"/><stop offset="1" stop-color="#3a50c0" stop-opacity="0"/></radialGradient>
<radialGradient id="hot2"><stop offset="0" stop-color="#2e9a4a"/><stop offset="0.3" stop-color="#48c060"/><stop offset="0.55" stop-color="#40c8e0"/><stop offset="0.8" stop-color="#3a70d0"/><stop offset="1" stop-color="#3a50c0" stop-opacity="0"/></radialGradient></defs>
<path d="M127.6,780.5 125.8,780.7 124.1,780.4 122.8,779.8 122.0,779.2 121.0,778.3 120.3,777.4 119.5,776.2 118.9,775.0 118.4,773.8 118.0,772.4 117.6,770.8 117.4,769.3 117.1,767.8 116.5,766.6 115.4,766.0 114.4,766.0 112.6,766.4 111.4,766.7 109.6,767.1 108.4,767.3 106.6,767.5 104.8,767.7 103.6,767.9 101.8,768.2 100.6,768.5 98.8,768.9 97.6,769.3 96.0,769.6 94.6,769.9 92.8,770.2 91.6,770.3 89.8,770.4 88.0,770.5 86.2,770.5 84.4,770.6 82.6,770.6 80.8,770.5 79.0,770.4 77.8,770.2 76.0,769.8 74.8,769.4 73.6,768.9 72.4,768.2 71.2,767.4 70.3,766.6 69.4,765.7 68.7,764.8 68.1,763.6 67.6,762.4 67.2,760.6 67.3,758.8 67.6,757.3 68.2,755.8 68.8,754.6 69.4,753.6 70.0,752.8 70.9,751.6 71.8,750.5 72.4,749.7 73.3,748.6 74.2,747.6 75.0,746.8 76.0,745.9 77.0,745.0 77.8,744.3 78.9,743.2 79.0,742.4 77.8,741.7 76.4,741.4 74.8,741.1 73.0,740.8 71.8,740.6 70.0,740.3 68.8,740.0 67.1,739.6 65.8,739.3 64.6,738.9 63.1,738.4 61.6,737.8 60.4,737.3 59.2,736.7 58.0,736.0 57.1,735.4 56.2,734.5 55.5,733.6 55.5,731.8 56.2,730.9 57.4,730.2 58.6,729.7 59.8,729.4 61.6,729.0 63.4,728.8 64.6,728.7 66.4,728.6 68.2,728.6 70.0,728.6 71.8,728.7 73.6,728.8 74.8,728.9 76.6,729.0 78.4,729.2 80.2,729.3 81.4,729.4 83.2,729.6 85.0,729.7 86.8,729.8 88.6,729.9 89.8,730.0 91.6,730.1 93.4,730.1 95.2,730.2 97.0,730.3 98.8,730.4 100.6,730.5 101.8,730.6 103.6,730.8 105.4,730.9 107.2,731.1 108.4,731.2 110.2,731.3 112.0,731.2 113.2,731.0 114.6,730.6 115.6,730.0 116.8,728.8 117.4,727.7 117.9,726.4 118.4,725.2 118.9,724.0 119.5,722.8 120.2,721.6 121.0,720.4 121.6,719.6 122.5,718.6 123.4,717.8 124.6,717.0 125.8,716.4 127.0,716.0 128.8,715.8 130.6,715.9 131.8,716.2 133.4,716.8 134.6,717.4 135.7,718.0 136.6,718.6 137.8,719.6 138.6,720.4 139.6,721.5 140.2,722.4 140.8,723.5 141.4,725.0 141.8,726.4 141.9,728.2 141.9,730.0 141.6,731.8 141.4,733.0 141.0,734.8 140.7,736.0 140.5,737.8 140.3,739.6 140.2,741.4 140.2,742.6 140.1,744.4 139.9,746.2 139.6,748.0 139.4,749.2 139.1,751.0 138.8,752.2 138.4,753.6 137.9,755.2 137.5,756.4 137.0,757.6 136.5,758.8 136.0,760.1 135.5,761.8 135.2,763.0 135.0,764.8 134.9,766.6 134.8,767.8 134.6,769.6 134.3,771.4 134.0,772.6 133.6,773.8 133.0,775.3 132.4,776.4 131.8,777.4 130.7,778.6 130.0,779.2 128.8,780.0 127.6,780.5" fill="none" stroke="#1f2f9a" stroke-width="0.7"/>
<path d="M125.8,779.2 124.6,779.0 123.4,778.5 122.2,777.7 121.4,776.8 120.5,775.6 119.9,774.4 119.4,773.2 119.0,772.0 118.6,770.2 118.4,769.0 118.2,767.2 118.0,766.0 117.4,764.8 115.6,764.5 114.3,764.8 112.6,765.4 111.4,765.7 110.1,766.0 108.4,766.3 106.6,766.6 105.4,766.8 103.6,767.1 102.4,767.3 100.6,767.7 99.4,768.1 98.1,768.4 96.4,768.8 95.2,769.1 93.4,769.4 91.6,769.6 90.4,769.7 88.6,769.8 86.8,769.8 85.0,769.8 83.2,769.8 81.4,769.8 79.6,769.6 78.4,769.5 76.6,769.1 75.4,768.7 74.2,768.2 73.0,767.6 71.8,766.7 71.0,766.0 70.0,764.9 69.4,764.0 68.8,762.8 68.3,761.2 68.2,759.4 68.5,757.6 68.9,756.4 69.5,755.2 70.2,754.0 71.1,752.8 71.8,751.8 72.4,751.0 73.4,749.8 74.2,748.8 74.9,748.0 76.0,746.9 76.8,746.2 77.8,745.4 79.0,744.5 80.0,743.8 80.9,743.2 82.0,742.3 82.0,741.3 80.4,740.8 79.0,740.6 77.2,740.4 76.0,740.2 74.2,739.9 72.4,739.6 71.2,739.4 69.6,739.0 68.2,738.7 67.0,738.3 65.5,737.8 64.0,737.2 62.8,736.7 61.6,736.0 60.7,735.4 59.8,734.5 59.2,733.2 59.4,732.4 60.4,731.4 61.6,730.9 62.8,730.5 64.6,730.2 65.9,730.0 67.6,729.9 69.4,729.8 71.2,729.8 73.0,729.9 74.8,730.0 76.0,730.0 77.8,730.2 79.6,730.3 81.4,730.4 83.2,730.6 84.4,730.7 86.2,730.8 88.0,730.9 89.8,731.0 91.6,731.1 93.3,731.2 94.6,731.3 96.4,731.4 98.2,731.5 100.0,731.6 101.7,731.8 103.0,731.9 104.8,732.2 106.6,732.4 107.8,732.5 109.6,732.5 111.4,732.4 112.6,732.2 114.2,731.8 115.6,731.2 116.5,730.6 117.4,729.6 118.0,728.7 118.6,727.4 119.2,726.0 119.8,724.7 120.4,723.5 121.0,722.5 121.6,721.6 122.5,720.4 123.4,719.5 124.6,718.6 125.7,718.0 127.0,717.5 128.2,717.3 130.0,717.3 131.2,717.5 132.8,718.0 134.1,718.6 135.2,719.2 136.1,719.8 137.2,720.7 138.0,721.6 138.9,722.8 139.6,723.9 140.1,725.2 140.5,726.4 140.7,728.2 140.7,730.0 140.4,731.8 140.2,733.0 139.9,734.8 139.6,736.6 139.5,737.8 139.4,739.6 139.3,741.4 139.2,743.2 139.1,745.0 139.0,746.2 138.7,748.0 138.4,749.6 138.1,751.0 137.8,752.2 137.2,754.0 136.8,755.2 136.3,756.4 135.8,757.6 135.3,758.8 134.8,760.0 134.3,761.8 134.1,763.0 133.9,764.8 133.8,766.6 133.7,768.4 133.5,769.6 133.2,771.4 132.9,772.6 132.4,773.9 131.8,775.1 131.1,776.2 130.1,777.4 129.4,778.0 128.2,778.7 126.4,779.2" fill="none" stroke="#1f2f9a" stroke-width="0.7"/>
<path d="M127.0,777.5 125.2,777.5 124.0,777.1 122.8,776.3 122.1,775.6 121.2,774.4 120.6,773.2 120.2,772.0 119.8,770.5 119.6,769.0 119.4,767.2 119.3,765.4 119.2,764.0 118.6,762.4 117.4,762.1 116.2,762.6 115.0,763.2 113.8,763.7 112.6,764.2 110.9,764.8 109.6,765.1 108.3,765.4 106.6,765.7 104.8,766.0 103.6,766.2 101.8,766.6 100.6,767.0 99.4,767.3 97.7,767.8 96.4,768.2 95.2,768.4 93.4,768.8 91.6,769.0 90.4,769.1 88.6,769.1 86.8,769.1 85.0,769.1 83.2,769.1 81.4,769.0 80.2,768.9 78.4,768.7 77.2,768.4 75.4,767.8 74.2,767.2 73.2,766.6 72.4,766.0 71.2,764.9 70.6,764.1 70.0,763.0 69.4,761.3 69.2,760.0 69.4,758.3 69.7,757.0 70.2,755.8 70.9,754.6 71.7,753.4 72.4,752.4 73.0,751.6 73.9,750.4 74.8,749.3 75.4,748.6 76.6,747.4 77.2,746.8 78.4,745.9 79.6,745.0 80.7,744.4 81.8,743.8 83.0,743.2 84.4,742.6 85.6,742.2 86.8,741.8 88.6,741.5 89.8,741.2 91.6,741.0 93.1,740.8 94.6,740.3 95.8,739.6 94.0,739.1 92.2,739.3 90.4,739.5 88.6,739.6 87.4,739.6 85.6,739.7 84.0,739.6 82.6,739.5 80.8,739.4 79.0,739.3 77.2,739.1 76.0,738.9 74.2,738.6 72.9,738.4 71.2,738.0 70.0,737.7 68.5,737.2 67.0,736.6 65.8,736.0 64.9,735.4 64.0,734.5 64.0,733.0 64.8,732.4 66.3,731.8 67.6,731.5 69.4,731.3 71.2,731.2 72.4,731.2 74.1,731.2 75.4,731.2 77.2,731.3 79.0,731.4 80.8,731.6 82.6,731.7 83.8,731.8 85.6,731.9 87.4,732.1 89.2,732.2 91.0,732.3 92.2,732.4 94.0,732.5 95.8,732.7 97.6,732.9 98.8,733.0 100.6,733.3 102.2,733.6 103.6,733.9 105.4,734.1 107.2,734.2 109.0,734.0 110.8,733.7 112.0,733.4 113.8,733.0 115.0,732.6 116.2,732.0 117.3,731.2 118.0,730.5 118.7,729.4 119.3,728.2 119.9,727.0 120.4,725.8 121.0,724.6 121.8,723.4 122.6,722.2 123.4,721.3 124.4,720.4 125.3,719.8 126.6,719.2 128.2,718.8 130.0,718.7 131.8,719.1 133.0,719.5 134.2,720.1 135.4,720.9 136.2,721.6 137.2,722.6 137.8,723.4 138.5,724.6 139.0,725.9 139.4,727.6 139.5,729.4 139.3,731.2 139.1,733.0 138.9,734.2 138.7,736.0 138.6,737.8 138.5,739.6 138.4,741.4 138.4,742.6 138.3,744.4 138.1,746.2 137.8,747.8 137.5,749.2 137.2,750.6 136.8,752.2 136.3,753.4 135.9,754.6 135.4,755.8 134.8,757.0 134.2,758.2 133.6,759.6 133.1,761.2 132.9,762.4 132.8,764.2 132.7,766.0 132.6,767.8 132.4,769.6 132.2,770.8 131.8,772.2 131.2,773.6 130.6,774.7 129.9,775.6 128.8,776.6 127.6,777.3" fill="none" stroke="#1f2f9a" stroke-width="0.7"/>
<path d="M127.0,775.8 125.2,775.8 124.0,775.3 122.9,774.4 122.2,773.5 121.6,772.4 121.0,770.8 120.8,769.6 120.6,767.8 120.6,766.0 120.7,764.2 120.9,762.4 120.9,760.6 120.8,758.8 120.5,757.0 120.3,755.8 120.0,754.0 119.7,752.8 119.2,751.1 118.6,750.2 116.8,750.1 115.7,751.0 115.1,752.2 115.5,754.0 116.2,755.1 116.8,756.0 117.3,757.6 116.9,759.4 116.2,760.4 115.5,761.2 114.4,762.0 113.2,762.8 112.0,763.3 110.8,763.8 109.4,764.2 107.8,764.6 106.6,764.8 104.8,765.2 103.6,765.4 101.8,765.9 100.6,766.3 99.4,766.6 97.6,767.2 96.4,767.5 95.2,767.8 93.4,768.2 91.6,768.4 90.4,768.5 88.6,768.5 86.8,768.5 85.0,768.5 83.2,768.4 82.0,768.4 80.2,768.2 78.4,767.9 77.2,767.6 76.0,767.2 74.7,766.6 73.6,765.9 72.4,764.9 71.8,764.2 71.0,763.0 70.5,761.8 70.2,760.0 70.3,758.2 70.7,757.0 71.2,755.8 71.9,754.6 72.6,753.4 73.4,752.2 74.2,751.2 74.8,750.4 75.8,749.2 76.6,748.3 77.5,747.4 78.4,746.7 79.6,745.8 80.8,745.1 82.0,744.5 83.2,743.9 84.4,743.5 85.6,743.1 87.4,742.7 88.6,742.5 90.4,742.3 92.2,742.1 93.4,742.0 95.2,741.6 96.4,741.3 97.7,740.8 99.0,740.2 100.2,739.6 101.4,739.0 102.4,738.4 103.6,737.7 104.8,737.1 106.0,736.6 107.4,736.0 109.0,735.4 110.2,735.1 111.4,734.7 113.1,734.2 114.4,733.8 115.6,733.3 116.8,732.7 118.0,731.9 118.6,731.2 119.4,730.0 120.1,728.8 120.7,727.6 121.3,726.4 121.9,725.2 122.7,724.0 123.4,723.1 124.2,722.2 125.2,721.4 126.4,720.7 127.6,720.3 129.4,720.1 131.2,720.3 132.4,720.7 133.6,721.2 134.8,722.1 135.6,722.8 136.6,723.9 137.2,724.9 137.8,726.3 138.1,727.6 138.3,729.4 138.2,731.2 138.1,733.0 137.9,734.8 137.8,736.0 137.7,737.8 137.7,739.6 137.6,741.4 137.5,743.2 137.4,745.0 137.2,746.2 136.9,748.0 136.6,749.3 136.2,751.0 135.8,752.2 135.3,753.4 134.8,754.6 134.2,755.8 133.5,757.0 132.9,758.2 132.3,759.4 131.8,760.8 131.6,762.4 131.5,764.2 131.6,766.0 131.5,767.8 131.3,769.6 131.0,770.8 130.6,772.0 130.0,773.2 129.1,774.4 128.2,775.2 127.0,775.8" fill="none" stroke="#1f2f9a" stroke-width="0.7"/>
<path d="M85.6,737.8 83.8,737.9 82.0,737.9 80.2,737.9 79.0,737.8 77.2,737.6 75.4,737.3 74.2,737.0 72.7,736.6 71.2,736.0 70.1,735.4 69.5,734.2 70.6,733.4 72.3,733.0 73.6,732.9 75.4,732.8 77.2,732.8 79.0,732.9 80.8,733.0 82.0,733.1 83.8,733.2 85.6,733.4 87.4,733.6 88.6,733.8 90.4,734.0 91.6,734.2 93.4,734.7 94.5,735.4 93.4,736.3 92.2,736.7 90.4,737.2 89.2,737.4 87.4,737.7 86.2,737.8" fill="none" stroke="#1f2f9a" stroke-width="0.7"/>
<path d="M127.0,774.0 125.2,774.0 124.0,773.4 123.3,772.6 122.6,771.4 122.1,770.2 121.8,768.4 121.8,766.6 122.0,764.8 122.2,763.6 122.7,761.8 122.9,760.6 123.0,758.8 122.7,757.6 122.2,755.9 121.7,754.6 121.3,753.4 120.9,752.2 120.4,750.9 119.8,749.6 118.9,748.6 117.4,748.5 116.2,749.1 115.3,749.8 114.4,750.8 113.8,751.8 113.6,753.4 114.1,754.6 114.7,755.8 115.2,757.0 115.1,758.8 114.5,760.0 113.8,760.8 112.6,761.8 111.5,762.4 110.2,763.0 109.0,763.4 107.8,763.7 106.0,764.1 104.8,764.4 103.0,764.8 101.8,765.2 100.6,765.6 99.4,766.0 97.6,766.6 96.4,767.0 95.2,767.3 93.4,767.6 92.2,767.8 90.4,768.0 88.6,768.0 86.8,768.0 85.0,767.9 83.2,767.8 82.0,767.7 80.2,767.6 78.4,767.2 77.2,766.9 76.0,766.4 74.8,765.8 73.6,764.9 72.9,764.2 72.0,763.0 71.4,761.8 71.1,760.6 71.1,758.8 71.4,757.6 71.8,756.4 72.4,755.2 73.1,754.0 73.8,752.8 74.7,751.6 75.4,750.6 76.1,749.8 77.1,748.6 77.8,748.0 79.0,746.9 80.1,746.2 81.0,745.6 82.2,745.0 83.6,744.4 85.0,743.9 86.2,743.6 88.0,743.2 89.2,743.1 91.0,742.9 92.8,742.7 94.0,742.6 95.8,742.2 97.0,741.9 98.5,741.4 100.0,740.8 101.2,740.3 102.4,739.7 103.6,739.1 104.8,738.5 106.0,738.0 107.2,737.4 108.4,736.9 109.6,736.4 110.8,735.9 112.3,735.4 113.8,734.9 115.0,734.5 116.2,734.0 117.4,733.4 118.6,732.5 119.3,731.8 120.1,730.6 120.8,729.4 121.4,728.2 122.0,727.0 122.7,725.8 123.4,724.8 124.1,724.0 125.2,722.9 126.3,722.2 127.6,721.6 128.8,721.4 130.6,721.5 131.8,721.8 133.0,722.3 134.2,723.2 135.1,724.0 136.0,725.2 136.6,726.4 136.9,727.6 137.2,729.4 137.2,730.6 137.2,731.8 137.1,733.6 137.0,735.4 136.9,737.2 136.9,739.0 136.9,740.8 136.8,742.6 136.6,744.4 136.5,745.6 136.2,747.4 135.9,748.6 135.4,750.4 135.0,751.6 134.5,752.8 134.0,754.0 133.3,755.2 132.6,756.4 131.8,757.5 131.2,758.5 130.6,759.6 130.2,761.2 130.1,763.0 130.3,764.8 130.4,766.6 130.3,768.4 130.0,769.9 129.5,771.4 128.8,772.5 128.2,773.2 127.0,774.0" fill="none" stroke="#1f2f9a" stroke-width="0.7"/>
<path d="M92.2,767.3 90.4,767.4 88.6,767.5 86.8,767.4 85.0,767.3 83.3,767.2 82.0,767.1 80.2,766.9 79.0,766.6 77.2,766.1 76.0,765.5 74.9,764.8 74.1,764.2 73.1,763.0 72.4,761.8 72.1,760.6 72.0,758.8 72.4,757.3 73.0,755.8 73.6,754.6 74.2,753.6 74.8,752.6 75.5,751.6 76.4,750.4 77.2,749.4 78.0,748.6 79.0,747.7 80.2,746.8 81.2,746.2 82.3,745.6 83.7,745.0 85.0,744.5 86.2,744.2 88.0,743.8 89.2,743.7 91.0,743.5 92.8,743.4 94.5,743.2 95.8,743.0 97.4,742.6 98.8,742.1 100.0,741.7 101.2,741.2 102.4,740.7 103.6,740.1 104.8,739.6 106.1,739.0 107.4,738.4 108.8,737.8 110.2,737.2 111.4,736.7 112.6,736.3 113.8,735.9 115.4,735.4 116.8,734.9 118.0,734.2 118.8,733.6 119.8,732.6 120.4,731.8 121.2,730.6 121.9,729.4 122.5,728.2 123.3,727.0 124.0,725.9 124.6,725.2 125.8,724.1 127.0,723.4 128.2,723.0 130.0,722.9 131.8,723.3 133.0,724.0 133.7,724.6 134.7,725.8 135.3,727.0 135.7,728.2 136.0,729.8 136.1,731.2 136.1,733.0 136.0,734.8 136.0,736.6 136.0,738.4 136.0,740.2 136.0,741.4 135.9,743.2 135.7,745.0 135.4,746.8 135.1,748.0 134.8,749.2 134.2,751.0 133.7,752.2 133.0,753.4 132.4,754.4 131.8,755.2 130.8,756.4 130.0,757.2 128.9,758.2 128.1,758.8 126.4,759.2 125.6,758.2 124.7,757.0 124.0,755.8 123.4,754.8 122.8,753.7 122.2,752.4 121.6,751.0 121.1,749.8 120.6,748.6 119.8,747.4 118.6,746.9 117.0,747.4 116.1,748.0 115.0,748.9 114.0,749.8 113.2,750.7 112.6,751.6 112.1,753.4 112.6,755.2 113.1,756.4 113.3,757.6 113.2,758.8 112.5,760.0 111.4,761.0 110.2,761.7 109.0,762.2 107.8,762.6 106.5,763.0 104.8,763.5 103.6,763.8 102.4,764.2 100.8,764.8 99.4,765.4 98.2,765.8 97.0,766.2 95.6,766.6 94.0,767.0 92.6,767.2" fill="none" stroke="#1f2f9a" stroke-width="0.7"/>
<path d="M126.4,771.6 125.1,771.4 124.0,770.2 123.6,769.0 123.4,767.2 123.7,765.4 124.1,764.2 124.8,763.0 125.7,761.8 127.0,761.6 127.6,762.5 128.2,763.9 128.6,765.4 128.7,767.2 128.5,769.0 128.0,770.2 127.0,771.4" fill="none" stroke="#1f2f9a" stroke-width="0.7"/>
<path d="M92.8,766.7 91.0,766.9 89.2,766.9 87.4,766.9 85.6,766.8 83.8,766.6 82.6,766.5 80.8,766.3 79.6,766.0 77.8,765.5 76.6,764.9 75.5,764.2 74.8,763.6 73.8,762.4 73.2,761.2 73.0,760.0 73.0,758.7 73.4,757.0 73.8,755.8 74.4,754.6 75.1,753.4 75.9,752.2 76.6,751.2 77.2,750.4 78.2,749.2 79.0,748.5 80.2,747.5 81.3,746.8 82.3,746.2 83.6,745.6 85.0,745.1 86.2,744.7 88.0,744.4 89.2,744.2 91.0,744.0 92.8,743.9 94.6,743.8 95.8,743.6 97.6,743.3 98.8,742.9 100.0,742.5 101.2,742.0 102.7,741.4 104.1,740.8 105.4,740.2 106.6,739.7 107.8,739.2 109.0,738.7 110.2,738.2 111.4,737.7 113.0,737.2 114.4,736.8 115.6,736.4 116.9,736.0 118.2,735.4 119.2,734.7 120.3,733.6 121.0,732.7 121.6,731.8 122.4,730.6 123.1,729.4 123.8,728.2 124.6,727.1 125.3,726.4 126.4,725.4 127.6,724.8 128.8,724.5 130.6,724.6 131.8,725.1 132.7,725.8 133.6,726.8 134.2,728.0 134.6,729.4 134.8,730.6 135.0,732.4 135.1,734.2 135.1,736.0 135.1,737.8 135.2,739.6 135.1,741.4 135.0,743.2 134.8,745.0 134.6,746.2 134.2,747.9 133.8,749.2 133.3,750.4 132.7,751.6 132.0,752.8 131.2,753.8 130.4,754.6 129.4,755.3 127.6,755.8 126.0,755.2 125.2,754.6 124.2,753.4 123.5,752.2 122.8,751.0 122.3,749.8 121.8,748.6 121.3,747.4 120.5,746.2 119.6,745.6 118.2,745.6 117.0,746.2 116.1,746.8 115.0,747.7 114.0,748.6 113.2,749.4 112.2,750.4 111.4,751.5 110.8,752.6 110.6,754.0 110.8,755.2 111.3,757.0 111.1,758.8 110.2,760.0 109.4,760.6 108.3,761.2 106.8,761.8 105.4,762.3 104.2,762.7 103.0,763.2 101.8,763.7 100.6,764.2 99.2,764.8 97.6,765.4 96.4,765.8 95.2,766.2 93.4,766.6" fill="none" stroke="#1f2f9a" stroke-width="0.7"/>
<path d="M93.4,766.0 91.6,766.3 89.8,766.4 88.0,766.4 86.2,766.3 84.4,766.1 83.2,766.0 81.4,765.7 80.2,765.4 78.4,764.8 77.2,764.3 76.2,763.6 75.4,762.9 74.6,761.8 74.1,760.6 73.9,758.8 74.2,757.4 74.8,755.8 75.3,754.6 76.0,753.4 76.6,752.3 77.2,751.4 78.0,750.4 79.0,749.3 79.8,748.6 80.8,747.8 82.0,747.0 83.2,746.4 84.4,745.9 85.6,745.5 87.4,745.0 88.6,744.8 90.4,744.6 92.2,744.5 94.0,744.5 95.2,744.4 97.0,744.1 98.4,743.8 100.0,743.3 101.2,742.8 102.4,742.4 103.6,741.9 104.8,741.4 106.2,740.8 107.7,740.2 109.0,739.7 110.2,739.2 111.4,738.8 112.7,738.4 114.4,737.9 115.6,737.7 117.4,737.2 118.6,736.8 119.7,736.0 120.4,735.3 121.3,734.2 122.2,733.0 122.8,732.0 123.4,731.1 124.1,730.0 125.0,728.8 125.8,727.9 127.0,727.0 128.2,726.5 129.4,726.4 130.6,726.7 131.8,727.5 132.4,728.2 133.0,729.4 133.5,731.2 133.7,732.4 133.9,734.2 134.1,736.0 134.2,737.8 134.2,739.5 134.2,740.4 134.2,742.0 134.0,743.8 133.7,745.6 133.4,746.8 133.0,748.1 132.4,749.6 131.8,750.7 131.1,751.6 130.0,752.7 128.8,753.4 127.6,753.5 126.4,753.1 125.3,752.2 124.6,751.4 124.0,750.4 123.3,749.2 122.8,748.0 122.2,746.6 121.6,745.4 120.9,744.4 119.8,743.7 118.6,743.8 117.4,744.5 116.2,745.4 115.3,746.2 114.4,747.0 113.3,748.0 112.6,748.7 111.5,749.8 110.8,750.5 109.9,751.6 109.3,752.8 108.9,754.0 109.0,755.8 109.1,757.0 108.9,758.2 108.1,759.4 107.2,760.1 106.0,760.8 104.8,761.4 103.6,762.0 102.4,762.6 101.2,763.2 100.0,763.8 98.8,764.3 97.6,764.8 95.9,765.4 94.6,765.8 93.4,766.0" fill="none" stroke="#1f2f9a" stroke-width="0.7"/>
<path d="M93.4,765.5 91.6,765.8 89.8,765.9 88.0,765.9 86.2,765.7 84.4,765.5 83.2,765.3 81.4,765.0 80.2,764.6 79.0,764.2 77.8,763.6 76.6,762.7 75.8,761.8 75.2,760.6 74.9,758.8 75.2,757.0 75.6,755.8 76.1,754.6 76.7,753.4 77.4,752.2 78.3,751.0 79.0,750.2 79.9,749.2 80.8,748.5 82.0,747.6 83.2,747.0 84.4,746.4 85.6,746.0 87.3,745.6 88.6,745.4 90.4,745.2 92.2,745.1 94.0,745.0 95.2,745.0 97.0,744.8 98.8,744.5 100.0,744.1 101.2,743.7 102.6,743.2 104.1,742.6 105.4,742.1 106.6,741.6 107.8,741.2 109.0,740.7 110.6,740.2 112.0,739.8 113.2,739.5 115.0,739.3 116.8,739.4 118.0,739.7 119.2,739.6 120.1,738.4 120.9,737.2 121.6,736.2 122.2,735.2 122.8,734.2 123.6,733.0 124.5,731.8 125.2,730.9 126.0,730.0 127.0,729.2 128.2,728.7 129.7,728.8 130.7,729.4 131.6,730.6 132.1,731.8 132.4,733.0 132.8,734.8 133.0,736.6 133.1,737.8 133.2,739.6 133.1,741.4 133.0,743.2 132.8,744.4 132.4,746.2 132.0,747.4 131.4,748.6 130.6,749.8 130.0,750.4 128.8,751.1 127.0,751.1 125.9,750.4 125.2,749.6 124.5,748.6 123.9,747.4 123.4,746.2 122.8,744.8 122.2,743.5 121.6,742.5 120.7,741.4 119.8,740.7 118.6,740.8 117.6,742.0 116.8,742.9 116.0,743.8 115.0,744.9 114.3,745.6 113.2,746.7 112.5,747.4 111.4,748.5 110.7,749.2 109.6,750.3 109.0,751.0 108.2,752.2 107.6,753.4 107.2,755.2 107.1,756.4 106.6,758.1 106.0,758.9 104.8,760.0 104.0,760.6 103.0,761.3 101.8,762.0 100.6,762.7 99.4,763.4 98.2,763.9 97.0,764.5 95.8,764.9 94.0,765.4" fill="none" stroke="#1f2f9a" stroke-width="0.7"/>
<path d="M128.2,748.6 127.0,748.4 125.9,747.4 125.2,746.3 124.6,745.1 124.1,743.8 123.7,742.6 123.3,741.4 122.9,739.6 123.0,737.8 123.4,736.6 124.0,735.4 124.8,734.2 125.7,733.0 126.4,732.4 127.6,731.7 129.2,731.8 130.0,732.4 130.7,733.6 131.2,735.0 131.6,736.6 131.8,738.4 131.9,739.6 131.8,741.4 131.7,742.6 131.4,744.4 131.0,745.6 130.4,746.8 129.5,748.0 128.2,748.6" fill="none" stroke="#1f2f9a" stroke-width="0.7"/>
<path d="M93.4,764.9 91.6,765.2 89.8,765.3 88.0,765.3 86.2,765.2 84.4,764.9 83.2,764.7 81.4,764.2 80.2,763.8 79.0,763.2 77.8,762.4 77.1,761.8 76.4,760.6 76.0,759.0 76.0,758.1 76.3,756.4 76.7,755.2 77.2,754.0 77.9,752.8 78.7,751.6 79.6,750.4 80.2,749.8 81.4,748.8 82.6,748.0 83.7,747.4 85.0,746.8 86.2,746.4 87.4,746.1 89.2,745.8 91.0,745.7 92.8,745.6 94.6,745.6 96.2,745.6 97.6,745.5 99.4,745.2 100.6,744.9 102.1,744.4 103.6,743.9 104.8,743.4 106.0,743.0 107.2,742.6 109.0,742.0 110.2,741.7 112.0,741.5 113.8,741.9 114.0,743.2 113.4,744.4 112.6,745.4 111.9,746.2 110.8,747.4 110.2,748.0 109.1,749.2 108.4,749.9 107.5,751.0 106.6,752.2 106.1,753.4 105.7,754.6 105.4,756.1 104.9,757.6 104.2,758.7 103.6,759.4 102.4,760.5 101.6,761.2 100.6,761.9 99.4,762.6 98.2,763.3 97.0,763.8 95.8,764.3 94.0,764.8" fill="none" stroke="#1f2f9a" stroke-width="0.7"/>
<path d="M128.2,745.7 127.0,745.3 126.3,744.4 125.6,743.2 125.2,741.9 124.8,740.2 124.9,738.4 125.2,737.1 125.8,736.0 127.0,734.8 128.2,734.6 129.2,735.4 129.9,736.6 130.2,737.8 130.4,739.6 130.4,741.4 130.1,743.2 129.6,744.4 128.8,745.4" fill="none" stroke="#1f2f9a" stroke-width="0.7"/>
<path d="M91.0,764.8 89.2,764.9 87.5,764.8 86.2,764.7 84.4,764.4 83.2,764.1 81.6,763.6 80.2,763.0 79.1,762.4 78.3,761.8 77.4,760.6 76.9,759.4 76.8,757.6 77.2,755.9 77.6,754.6 78.2,753.4 78.9,752.2 79.6,751.2 80.3,750.4 81.4,749.4 82.5,748.6 83.5,748.0 84.8,747.4 86.2,746.9 87.4,746.6 89.2,746.3 90.4,746.2 92.2,746.1 94.0,746.1 95.8,746.2 97.6,746.1 99.4,745.9 101.2,745.6 102.4,745.3 103.6,744.9 105.3,744.4 106.6,744.0 107.8,743.7 109.6,743.6 110.8,744.4 110.7,745.0 110.0,746.2 109.1,747.4 108.4,748.2 107.5,749.2 106.6,750.3 106.0,751.1 105.4,752.2 104.8,753.8 104.5,755.2 104.1,756.4 103.6,757.7 103.0,758.8 101.9,760.0 101.2,760.6 100.0,761.6 98.8,762.3 97.6,763.0 96.4,763.5 95.2,764.0 94.0,764.3 92.2,764.7 91.0,764.8" fill="none" stroke="#1f2f9a" stroke-width="0.7"/>
<path d="M91.6,764.2 89.8,764.3 88.0,764.3 86.8,764.2 85.0,763.8 83.8,763.5 82.1,763.0 80.8,762.4 79.9,761.8 79.0,761.0 78.3,760.0 77.8,758.2 78.0,756.4 78.4,754.8 79.0,753.4 79.6,752.4 80.2,751.5 81.2,750.4 82.0,749.7 83.2,748.8 84.4,748.2 85.6,747.7 86.8,747.3 88.6,746.9 89.8,746.8 91.6,746.7 93.4,746.7 94.9,746.8 96.4,746.9 98.2,747.0 100.0,747.0 101.8,746.8 103.0,746.8 104.8,746.8 105.6,747.4 105.4,748.6 104.8,749.9 104.2,751.3 103.8,752.8 103.5,754.0 103.1,755.8 102.7,757.0 102.1,758.2 101.2,759.4 100.6,760.1 99.4,761.1 98.4,761.8 97.4,762.4 96.2,763.0 94.6,763.6 93.4,763.9 91.7,764.2" fill="none" stroke="#1f2f9a" stroke-width="0.7"/>
<path d="M92.2,763.7 90.4,763.9 88.6,763.9 86.8,763.7 85.6,763.4 83.9,763.0 82.6,762.5 81.4,761.9 80.4,761.2 79.6,760.4 79.0,759.4 78.6,757.6 78.8,755.8 79.1,754.6 79.7,753.4 80.4,752.2 81.4,751.0 82.0,750.4 83.2,749.4 84.4,748.7 85.6,748.2 86.8,747.8 88.5,747.4 89.8,747.2 91.6,747.1 93.4,747.2 95.2,747.4 96.4,747.5 98.2,747.7 100.0,748.0 101.2,748.3 102.4,749.0 102.8,750.4 102.7,752.2 102.5,754.0 102.3,755.2 101.8,757.0 101.2,758.2 100.6,759.1 99.8,760.0 98.8,760.9 97.6,761.7 96.4,762.4 95.2,762.9 94.0,763.3 92.6,763.6" fill="none" stroke="#1f2f9a" stroke-width="0.7"/>
<path d="M92.8,763.0 91.0,763.3 89.2,763.4 87.4,763.2 86.2,763.0 84.4,762.5 83.2,762.0 82.0,761.4 81.0,760.6 80.2,759.6 79.6,758.2 79.5,757.0 79.6,755.8 80.1,754.0 80.8,752.8 81.4,751.9 82.2,751.0 83.2,750.1 84.4,749.3 85.6,748.8 86.8,748.3 88.1,748.0 89.8,747.8 91.6,747.7 93.4,747.8 95.1,748.0 96.4,748.2 98.0,748.6 99.4,749.1 100.5,749.8 101.2,750.9 101.5,752.2 101.5,754.0 101.2,755.8 100.9,757.0 100.3,758.2 99.4,759.4 98.8,760.0 97.6,761.0 96.4,761.7 95.2,762.3 94.0,762.7 92.8,763.0" fill="none" stroke="#36a8e0" stroke-width="0.7"/>
<path d="M92.8,762.4 91.0,762.7 89.2,762.8 87.4,762.6 86.2,762.4 84.5,761.8 83.2,761.2 82.3,760.6 81.4,759.7 80.8,758.7 80.4,757.0 80.5,755.2 80.9,754.0 81.6,752.8 82.5,751.6 83.2,750.9 84.4,750.0 85.6,749.4 86.8,748.9 88.0,748.6 89.8,748.3 91.6,748.3 93.4,748.4 94.7,748.6 96.4,749.0 97.6,749.5 98.8,750.1 99.7,751.0 100.2,752.2 100.5,754.0 100.3,755.8 99.9,757.0 99.3,758.2 98.4,759.4 97.6,760.1 96.4,761.0 95.2,761.6 94.0,762.1 92.8,762.4Z" fill="#46afe3" stroke="none"/>
<path d="M92.8,761.8 91.0,762.2 89.2,762.2 87.4,762.0 86.2,761.7 84.9,761.2 83.7,760.6 82.6,759.7 81.9,758.8 81.4,757.6 81.3,755.8 81.5,754.6 82.1,753.4 82.9,752.2 83.8,751.3 85.0,750.4 86.2,749.8 87.4,749.4 88.6,749.1 90.4,748.9 92.2,748.9 94.0,749.1 95.2,749.4 96.4,749.9 97.6,750.6 98.7,751.6 99.3,752.8 99.5,754.0 99.4,755.6 99.0,757.0 98.4,758.2 97.6,759.1 96.7,760.0 95.8,760.6 94.6,761.2 92.9,761.8Z" fill="#4dc1e5" stroke="none"/>
<path d="M92.8,761.2 91.0,761.5 89.2,761.6 87.4,761.3 86.2,761.0 85.0,760.5 83.8,759.7 83.0,758.8 82.3,757.6 82.1,755.8 82.6,754.0 83.2,753.0 83.8,752.2 85.0,751.2 86.2,750.5 87.4,750.0 88.6,749.7 90.4,749.5 92.2,749.5 93.8,749.8 95.2,750.2 96.4,750.9 97.3,751.6 98.2,752.8 98.5,754.0 98.5,755.8 98.1,757.0 97.4,758.2 96.4,759.3 95.5,760.0 94.4,760.6 92.8,761.2Z" fill="#49c4ca" stroke="none"/>
<path d="M92.2,760.7 90.4,761.0 88.6,760.9 87.3,760.6 85.7,760.0 84.8,759.4 83.8,758.4 83.2,757.2 83.0,755.8 83.2,754.6 83.8,753.4 84.8,752.2 85.6,751.6 86.8,750.9 88.3,750.4 89.8,750.1 91.6,750.1 93.3,750.4 94.6,750.8 95.8,751.5 96.6,752.2 97.3,753.4 97.6,754.6 97.6,755.8 97.0,757.3 96.4,758.2 95.2,759.3 94.1,760.0 92.8,760.5Z" fill="#3fbf99" stroke="none"/>
<path d="M91.6,760.1 89.8,760.2 88.0,760.0 86.8,759.6 85.6,758.9 84.9,758.2 84.2,757.0 84.1,755.2 84.5,754.0 85.4,752.8 86.2,752.2 87.4,751.5 89.0,751.0 90.4,750.8 92.2,751.0 93.4,751.3 94.6,751.8 95.7,752.8 96.4,754.0 96.6,755.2 96.4,756.4 95.7,757.6 94.6,758.8 93.6,759.4 92.2,759.9Z" fill="#4fbe57" stroke="none"/>
<path d="M91.0,759.4 89.2,759.5 88.0,759.2 86.8,758.7 85.6,757.6 85.1,756.4 85.0,755.8 85.5,754.0 86.2,753.2 87.4,752.3 88.6,751.8 89.8,751.6 91.3,751.6 92.8,751.9 94.0,752.5 95.0,753.4 95.5,754.6 95.4,756.4 94.6,757.6 94.0,758.2 92.8,758.9 91.2,759.4Z" fill="#9bcd32" stroke="none"/>
<path d="M92.2,758.3 90.4,758.8 88.6,758.6 87.4,758.0 86.4,757.0 86.0,755.8 86.2,754.6 87.2,753.4 88.2,752.8 89.8,752.3 91.6,752.4 92.8,752.8 94.0,753.8 94.6,755.2 94.0,757.0 93.4,757.6 92.2,758.3Z" fill="#eccb26" stroke="none"/>
<path d="M91.6,757.8 89.8,758.0 88.3,757.6 87.4,756.8 87.0,755.2 87.8,754.0 88.7,753.4 90.4,753.1 92.1,753.4 93.0,754.0 93.6,755.2 93.3,756.4 92.2,757.5Z" fill="#ef851f" stroke="none"/>
<path d="M91.0,757.2 89.2,757.2 88.1,756.4 88.0,755.2 88.6,754.3 89.8,753.8 91.6,754.0 92.3,754.6 92.3,756.4 91.5,757.0Z" fill="#e64f1c" stroke="none"/>
<path d="M91.0,756.5 89.3,756.4 88.9,755.2 89.8,754.5 91.1,754.6 91.7,755.8 91.0,756.5Z" fill="#dc2a1a" stroke="none"/>
<path d="M67.1 759.9h0M135.5 728.5h0M135.4 752.4h0M139.0 757.5h0M126.4 765.0h0M89.7 768.9h0M97.8 742.4h0M105.4 731.3h0M113.4 765.5h0M122.1 726.1h0M107.6 735.2h0M75.6 740.6h0M74.2 741.5h0M59.3 737.0h0M70.9 738.1h0M115.6 757.1h0M125.0 718.9h0M115.6 757.7h0M138.2 752.5h0M70.6 758.0h0M97.2 734.7h0M80.0 771.2h0M120.1 746.3h0M130.3 773.4h0M134.4 726.6h0M81.9 743.6h0M126.2 774.1h0M122.0 720.5h0M94.7 742.1h0M81.1 735.4h0M133.7 761.3h0M137.3 726.6h0M75.7 746.6h0M78.2 748.0h0M96.3 738.7h0M117.4 762.3h0M113.8 750.3h0M81.0 729.2h0M77.9 744.4h0M122.9 720.3h0M127.8 772.8h0M130.3 768.6h0M114.0 733.5h0M129.3 715.8h0M84.4 736.8h0M81.4 745.6h0M122.2 766.6h0M126.5 774.5h0M113.5 764.4h0M88.2 771.3h0M78.2 747.4h0M51.8 732.9h0M75.6 750.9h0M89.0 769.0h0M102.9 730.8h0M86.5 738.7h0M95.6 730.8h0M84.7 731.0h0M70.5 753.1h0M116.9 771.2h0M101.0 742.1h0M129.1 762.6h0M135.8 718.5h0M118.1 757.8h0M108.4 735.5h0M82.6 735.0h0M90.3 768.0h0M85.5 741.0h0M82.3 767.6h0M140.3 741.6h0M141.5 731.5h0M133.9 765.9h0M60.9 730.2h0M77.8 746.1h0M140.8 722.2h0M115.4 758.1h0M89.3 734.3h0M85.7 742.8h0M68.6 729.0h0M119.8 723.7h0M101.5 765.8h0M138.4 749.1h0M126.8 760.8h0M119.5 761.9h0M125.6 724.8h0M126.9 718.2h0M70.7 756.0h0M69.4 759.9h0M124.2 716.4h0M116.2 766.4h0M102.2 765.7h0M126.9 766.2h0M123.9 757.4h0M106.3 768.6h0M117.0 733.5h0M74.3 733.6h0M98.0 769.4h0M80.8 771.6h0M63.1 737.1h0M67.3 764.3h0M78.8 747.4h0M85.0 771.1h0M141.2 726.8h0M143.1 729.2h0M86.4 736.8h0M94.6 742.1h0M136.5 741.3h0M136.5 749.0h0M138.0 731.0h0M89.9 742.9h0M123.2 765.4h0M114.1 750.4h0M108.6 767.9h0M134.8 721.1h0M63.1 728.9h0M132.7 773.8h0M76.3 732.3h0M138.0 757.1h0M121.0 769.8h0M56.2 731.4h0" stroke="#3040b0" stroke-width="0.80" stroke-linecap="round" fill="none"/>
<path d="M301.6,773.4 299.8,773.9 298.4,773.4 297.4,772.5 296.8,771.6 296.1,770.4 295.6,769.2 295.0,767.5 294.6,766.2 294.4,765.0 294.0,763.2 293.8,762.0 293.2,760.5 292.0,759.7 290.8,759.5 289.0,759.6 287.8,759.7 286.0,759.8 284.2,759.8 282.4,759.7 280.6,759.7 278.8,759.8 277.1,760.2 276.1,760.8 275.2,761.6 274.2,762.6 273.4,763.3 272.2,764.4 271.4,765.0 270.4,765.7 269.2,766.4 268.0,767.0 266.8,767.5 265.6,768.0 263.8,768.5 262.6,768.8 260.8,769.1 259.6,769.3 257.8,769.4 256.0,769.3 254.4,769.2 253.0,769.0 251.2,768.6 250.0,768.3 248.8,767.9 247.5,767.4 246.2,766.8 245.1,766.2 244.0,765.6 242.8,764.8 241.6,763.9 240.6,763.2 239.8,762.5 238.7,761.4 238.0,760.3 237.5,759.0 237.1,757.8 236.8,756.4 236.4,754.8 236.3,753.0 236.3,751.2 236.6,749.4 236.9,748.2 237.4,746.9 238.0,745.6 238.6,744.5 239.3,743.4 239.9,742.2 240.1,740.4 239.2,739.4 238.0,738.6 236.9,738.0 235.8,737.4 234.7,736.8 233.5,736.2 232.3,735.6 231.0,735.0 229.7,734.4 228.4,733.8 227.2,733.3 226.0,732.8 224.8,732.2 223.6,731.6 222.4,730.9 221.5,730.2 221.0,729.0 221.4,727.8 222.4,726.9 223.6,726.1 224.8,725.5 226.0,724.9 227.2,724.4 228.4,724.0 229.6,723.6 231.4,723.1 232.6,722.9 234.4,722.6 235.8,722.4 237.4,722.2 239.2,722.2 241.0,722.1 242.8,722.1 244.6,722.1 246.4,722.1 248.2,722.1 250.0,722.0 251.8,722.0 253.6,721.9 255.4,721.8 256.6,721.8 258.4,721.7 260.2,721.7 262.0,721.6 263.8,721.6 265.6,721.6 267.4,721.6 269.2,721.6 271.0,721.6 272.8,721.6 274.6,721.6 276.4,721.7 278.2,721.8 279.4,721.8 281.2,721.9 283.0,721.9 284.8,722.0 286.6,722.0 288.3,721.8 289.6,721.5 291.1,721.2 292.6,720.8 293.9,720.6 295.6,720.3 297.4,720.2 299.2,720.2 301.0,720.4 302.2,720.7 304.0,721.2 305.2,721.6 306.4,722.0 307.6,722.5 308.8,723.0 310.6,723.4 311.8,723.7 313.6,724.0 314.8,724.4 316.0,725.2 316.6,726.4 316.7,727.8 316.4,729.0 315.8,730.2 314.9,731.4 314.2,732.5 313.6,733.8 313.2,735.0 312.7,736.2 312.2,737.4 311.7,738.6 311.0,739.8 310.1,741.0 309.4,741.8 308.6,742.8 307.7,744.0 307.3,745.2 307.3,747.0 307.4,748.8 307.4,750.6 307.4,752.4 307.2,754.2 307.0,755.4 306.7,757.2 306.4,759.0 306.3,760.2 306.1,762.0 305.8,763.8 305.6,765.0 305.2,766.8 304.9,768.0 304.4,769.2 303.9,770.4 303.2,771.6 302.3,772.8 301.6,773.4" fill="none" stroke="#1f2f9a" stroke-width="0.7"/>
<path d="M301.0,771.7 299.2,771.8 298.1,771.0 297.4,770.2 296.8,769.2 296.2,767.9 295.6,766.2 295.3,765.0 295.0,763.7 294.6,762.0 294.3,760.8 293.8,759.6 292.6,758.8 290.8,758.7 289.0,758.9 287.2,759.0 286.0,759.0 284.2,759.0 282.7,759.0 281.2,758.9 279.4,758.9 278.0,759.0 276.4,759.5 275.4,760.2 274.6,760.9 273.5,762.0 272.8,762.7 271.6,763.8 270.8,764.4 269.8,765.1 268.6,765.8 267.4,766.4 266.2,766.9 264.9,767.4 263.2,767.9 262.0,768.2 260.2,768.4 258.4,768.6 256.6,768.6 254.8,768.5 253.0,768.2 251.8,768.0 250.0,767.5 248.8,767.1 247.6,766.6 246.4,766.0 245.2,765.3 244.0,764.6 242.9,763.8 242.1,763.2 241.0,762.3 240.0,761.4 239.2,760.3 238.6,759.1 238.1,757.8 237.8,756.6 237.4,754.8 237.3,753.6 237.2,751.8 237.4,750.3 237.7,748.8 238.1,747.6 238.6,746.4 239.3,745.2 240.0,744.0 240.8,742.8 241.6,741.6 241.9,740.4 241.2,739.2 240.4,738.6 239.2,737.9 238.0,737.3 236.8,736.7 235.6,736.0 234.4,735.4 233.2,734.8 232.0,734.1 230.8,733.5 229.6,732.8 228.4,732.1 227.2,731.4 226.5,730.8 225.5,729.6 225.4,728.7 226.0,727.5 226.9,726.6 227.9,726.0 229.0,725.4 230.4,724.8 232.0,724.3 233.2,724.0 235.0,723.6 236.2,723.4 238.0,723.2 239.8,723.1 241.6,723.1 243.4,723.1 245.2,723.0 247.0,723.0 248.8,723.0 250.0,723.0 251.8,722.9 253.6,722.8 255.4,722.8 257.2,722.7 259.0,722.6 260.8,722.6 262.6,722.5 264.4,722.5 266.2,722.5 268.0,722.5 269.8,722.5 271.6,722.5 273.4,722.5 275.2,722.6 277.0,722.6 278.8,722.7 280.6,722.8 282.4,722.9 284.2,722.9 286.0,722.9 287.8,722.7 289.4,722.4 290.8,722.0 292.0,721.7 293.8,721.3 295.0,721.1 296.8,720.9 298.6,720.8 300.4,721.0 301.6,721.2 303.4,721.7 304.6,722.1 305.8,722.6 307.0,723.1 308.2,723.6 310.0,724.2 311.2,724.5 312.4,725.0 313.6,725.6 314.3,726.6 314.3,728.4 314.0,729.6 313.5,730.8 313.0,732.3 312.6,733.8 312.3,735.0 311.8,736.4 311.2,737.9 310.6,739.0 310.0,740.0 309.2,741.0 308.2,742.1 307.6,742.8 306.9,744.0 306.5,745.8 306.6,747.6 306.7,749.4 306.7,751.2 306.5,753.0 306.4,754.2 306.1,756.0 305.8,757.8 305.7,759.0 305.5,760.8 305.2,762.5 305.0,763.8 304.6,765.5 304.2,766.8 303.8,768.0 303.2,769.2 302.4,770.4 301.6,771.3" fill="none" stroke="#1f2f9a" stroke-width="0.7"/>
<path d="M272.2,738.0 273.4,737.4 274.3,736.8 274.6,735.9 272.8,735.6 271.0,735.7 269.2,735.8 267.4,736.2 266.7,736.8 267.4,737.7 268.6,738.4 270.4,738.5 272.2,738.0" fill="none" stroke="#1f2f9a" stroke-width="0.7"/>
<path d="M291.1,747.0 292.1,746.4 292.0,745.2 290.8,744.5 289.0,744.5 287.8,745.0 286.6,745.7 286.6,746.6 288.4,747.0 289.6,747.1 291.1,747.0" fill="none" stroke="#1f2f9a" stroke-width="0.7"/>
<path d="M301.0,769.4 299.2,769.6 298.0,768.6 297.4,767.7 296.8,766.4 296.3,765.0 295.9,763.8 295.6,762.2 295.3,760.8 294.9,759.6 294.0,758.4 292.6,757.8 290.8,757.9 289.0,758.1 287.2,758.2 285.4,758.3 283.6,758.3 281.8,758.2 280.0,758.1 278.2,758.1 276.6,758.4 275.5,759.0 274.6,759.7 273.5,760.8 272.8,761.6 271.7,762.6 271.0,763.2 269.8,764.1 268.6,764.9 267.4,765.5 266.2,766.1 265.0,766.6 263.8,766.9 262.0,767.4 260.8,767.6 259.0,767.8 257.2,767.9 255.4,767.8 253.6,767.6 252.4,767.3 250.6,766.9 249.4,766.5 248.2,766.0 247.0,765.4 245.8,764.8 244.6,764.0 243.5,763.2 242.7,762.6 241.6,761.7 240.7,760.8 239.9,759.6 239.3,758.4 238.9,757.2 238.6,755.9 238.2,754.2 238.1,752.4 238.3,750.6 238.6,749.1 239.1,747.6 239.6,746.4 240.3,745.2 241.0,744.2 241.6,743.4 242.5,742.2 243.3,741.0 243.7,739.8 242.9,738.6 242.0,738.0 240.9,737.4 239.7,736.8 238.5,736.2 237.3,735.6 236.2,735.0 235.0,734.3 233.8,733.6 232.6,732.9 231.4,732.1 230.5,731.4 229.6,730.4 229.0,729.0 229.6,727.6 230.7,726.6 231.7,726.0 233.2,725.4 234.4,725.0 235.6,724.7 237.4,724.4 239.2,724.2 240.4,724.2 242.2,724.1 244.0,724.1 245.8,724.0 247.6,724.0 249.4,724.0 251.2,723.9 253.0,723.9 254.8,723.8 256.6,723.7 258.4,723.6 259.6,723.6 261.4,723.5 263.2,723.5 265.0,723.4 266.8,723.4 268.6,723.4 270.4,723.4 272.2,723.5 274.0,723.5 275.8,723.6 277.0,723.6 278.8,723.7 280.6,723.8 282.4,723.9 284.2,724.0 286.0,723.9 287.8,723.7 289.0,723.3 290.2,723.0 292.0,722.4 293.2,722.1 294.6,721.8 296.2,721.5 298.0,721.4 299.8,721.5 301.3,721.8 302.8,722.1 304.0,722.6 305.2,723.0 306.4,723.6 307.7,724.2 309.2,724.8 310.5,725.4 311.6,726.0 312.4,726.9 312.7,728.4 312.4,730.2 312.2,731.4 311.9,733.2 311.6,734.4 311.2,735.9 310.7,737.4 310.1,738.6 309.4,739.6 308.8,740.4 307.8,741.6 307.0,742.5 306.3,743.4 305.8,745.0 305.8,746.3 305.9,747.6 306.0,749.4 305.9,751.2 305.8,752.7 305.6,754.2 305.3,756.0 305.1,757.2 304.8,759.0 304.6,760.7 304.4,762.0 304.0,763.8 303.7,765.0 303.3,766.2 302.7,767.4 301.9,768.6 301.0,769.4" fill="none" stroke="#1f2f9a" stroke-width="0.7"/>
<path d="M270.3,739.2 271.6,738.8 272.8,738.3 274.0,737.7 275.2,737.1 276.4,736.4 277.6,735.6 277.6,734.8 275.8,734.5 274.0,734.5 272.2,734.6 270.4,734.6 268.6,734.7 266.8,734.8 265.0,735.0 263.8,735.2 262.6,736.2 263.8,737.1 265.0,737.8 266.2,738.4 267.4,738.9 268.6,739.3 270.3,739.2" fill="none" stroke="#1f2f9a" stroke-width="0.7"/>
<path d="M292.7,747.6 293.4,746.4 293.2,745.2 292.0,744.2 290.8,743.8 289.0,743.9 287.8,744.4 286.6,745.0 285.4,745.7 284.4,746.4 284.2,747.2 285.4,747.6 287.2,747.7 289.0,747.9 290.8,748.0 292.6,747.7" fill="none" stroke="#1f2f9a" stroke-width="0.7"/>
<path d="M300.4,767.4 299.2,767.3 298.1,766.2 297.5,765.0 297.0,763.8 296.6,762.6 296.2,760.8 295.9,759.6 295.3,758.4 294.4,757.4 293.2,756.9 291.4,757.0 289.7,757.2 288.4,757.4 286.6,757.5 284.8,757.6 283.0,757.5 281.2,757.4 279.4,757.2 278.2,757.2 277.0,757.3 275.6,757.8 274.6,758.6 273.6,759.6 272.8,760.4 271.9,761.4 271.0,762.2 269.8,763.2 269.0,763.8 268.0,764.4 266.8,765.0 265.5,765.6 263.8,766.2 262.6,766.6 261.4,766.8 259.6,767.1 257.8,767.2 256.0,767.2 254.2,767.0 253.0,766.8 251.2,766.3 250.0,766.0 248.8,765.5 247.6,764.9 246.4,764.3 245.2,763.5 244.0,762.7 243.1,762.0 242.2,761.2 241.3,760.2 240.5,759.0 240.0,757.8 239.6,756.6 239.2,754.8 239.0,753.6 239.0,751.8 239.2,750.1 239.5,748.8 240.0,747.6 240.5,746.4 241.3,745.2 242.1,744.0 242.8,743.2 243.7,742.2 244.6,741.1 245.2,740.4 245.6,738.6 244.6,737.7 243.4,737.1 242.2,736.6 241.0,736.1 239.8,735.5 238.6,734.9 237.4,734.3 236.2,733.5 235.0,732.7 234.0,732.0 233.2,731.3 232.4,730.2 232.3,728.4 233.2,727.3 234.4,726.6 235.6,726.1 236.8,725.8 238.6,725.5 239.8,725.3 241.6,725.2 243.4,725.1 245.2,725.1 247.0,725.1 248.8,725.1 250.6,725.0 252.4,725.0 254.2,724.9 255.6,724.8 257.2,724.7 259.0,724.6 260.8,724.5 262.6,724.5 264.4,724.4 266.2,724.4 268.0,724.4 269.8,724.4 271.6,724.4 273.4,724.5 275.2,724.5 277.0,724.6 278.8,724.7 280.0,724.8 281.8,724.9 283.6,725.0 285.4,725.0 286.9,724.8 288.4,724.4 289.6,723.9 290.8,723.5 292.3,723.0 293.8,722.6 295.0,722.3 296.8,722.1 298.6,722.0 300.4,722.2 301.6,722.4 303.4,723.0 304.6,723.4 305.8,724.0 307.0,724.6 308.2,725.2 309.4,725.8 310.5,726.6 311.2,727.6 311.5,729.0 311.4,730.8 311.2,732.4 311.0,733.8 310.6,735.6 310.2,736.8 309.7,738.0 309.0,739.2 308.2,740.2 307.5,741.0 306.4,742.2 305.8,742.9 305.2,744.0 305.1,745.8 305.2,747.3 305.3,748.8 305.3,750.6 305.2,751.8 305.0,753.6 304.6,755.4 304.4,756.6 304.1,758.4 303.9,759.6 303.6,761.4 303.3,762.6 302.8,764.4 302.3,765.6 301.6,766.6 300.5,767.4" fill="none" stroke="#1f2f9a" stroke-width="0.7"/>
<path d="M269.9,739.8 271.6,739.3 272.8,738.7 274.0,738.2 275.2,737.6 276.4,737.0 277.6,736.4 278.8,735.7 280.0,735.0 280.7,734.4 280.0,733.5 278.2,733.4 276.4,733.4 274.6,733.5 272.8,733.5 271.0,733.6 269.2,733.6 267.4,733.7 265.6,733.7 263.8,733.8 262.6,733.9 260.8,734.1 259.5,734.4 258.3,735.0 258.4,736.2 259.6,736.8 261.3,737.4 262.6,737.8 263.8,738.3 265.0,738.8 266.2,739.3 267.7,739.8 269.2,739.9" fill="none" stroke="#1f2f9a" stroke-width="0.7"/>
<path d="M292.8,748.8 293.8,748.0 294.4,746.5 294.4,745.8 293.8,744.6 292.6,743.7 291.4,743.3 289.6,743.3 288.4,743.7 287.2,744.2 286.0,744.8 284.8,745.5 283.6,746.2 282.4,747.0 281.8,747.6 282.4,748.3 284.2,748.4 286.0,748.4 287.8,748.6 289.6,748.8 290.8,748.9 292.6,748.9" fill="none" stroke="#1f2f9a" stroke-width="0.7"/>
<path d="M260.8,766.3 259.0,766.5 257.2,766.6 255.4,766.5 253.6,766.3 252.4,766.0 250.9,765.6 249.4,765.1 248.2,764.5 247.0,763.9 245.9,763.2 245.0,762.6 244.0,761.8 242.8,760.8 242.2,760.1 241.4,759.0 240.8,757.8 240.4,756.6 239.9,754.8 239.8,753.6 239.7,751.8 239.9,750.6 240.3,748.8 240.7,747.6 241.4,746.4 242.1,745.2 242.8,744.3 243.6,743.4 244.6,742.4 245.4,741.6 246.4,740.6 247.3,739.8 248.2,738.8 248.5,737.4 247.3,736.8 245.8,736.4 244.6,736.0 243.3,735.6 241.8,735.0 240.4,734.4 239.3,733.8 238.3,733.2 237.4,732.6 236.2,731.6 235.5,730.8 235.1,729.0 236.1,727.8 237.3,727.2 238.6,726.8 239.8,726.6 241.6,726.3 243.4,726.2 245.2,726.2 247.0,726.2 248.8,726.2 250.6,726.2 252.4,726.1 254.2,726.0 255.4,726.0 257.2,725.8 259.0,725.7 260.8,725.6 262.6,725.6 264.4,725.5 266.2,725.5 268.0,725.5 269.8,725.5 271.6,725.5 273.4,725.6 275.2,725.7 277.0,725.8 278.8,725.9 280.0,726.0 281.8,726.2 283.6,726.3 285.4,726.2 286.6,725.9 287.9,725.4 289.3,724.8 290.7,724.2 292.0,723.7 293.2,723.3 294.4,723.0 296.2,722.6 298.0,722.5 299.8,722.6 301.6,723.0 302.8,723.3 304.0,723.8 305.2,724.3 306.4,724.9 307.6,725.6 308.8,726.3 309.8,727.2 310.4,728.4 310.6,729.6 310.6,731.4 310.5,732.6 310.3,734.4 310.0,735.6 309.4,737.2 308.8,738.4 308.2,739.3 307.3,740.4 306.4,741.4 305.6,742.2 304.7,743.4 304.3,744.6 304.4,746.4 304.6,747.9 304.7,749.4 304.6,750.9 304.4,752.4 304.1,754.2 303.8,755.4 303.5,757.2 303.2,758.4 302.9,760.2 302.6,761.4 302.2,762.6 301.6,763.9 300.4,765.0 299.6,765.0 298.6,764.2 298.0,763.1 297.4,761.4 297.0,760.2 296.7,759.0 296.1,757.8 295.2,756.6 294.2,756.0 292.6,755.8 291.4,756.0 289.6,756.4 288.2,756.6 286.6,756.8 284.8,756.8 283.0,756.7 281.4,756.6 280.0,756.4 278.2,756.3 276.4,756.4 275.2,757.0 274.2,757.8 273.4,758.7 272.6,759.6 271.6,760.7 270.9,761.4 269.8,762.4 268.7,763.2 267.8,763.8 266.7,764.4 265.4,765.0 263.8,765.6 262.6,765.9 261.3,766.2" fill="none" stroke="#1f2f9a" stroke-width="0.7"/>
<path d="M268.9,740.4 270.4,740.1 271.6,739.6 272.8,739.2 274.0,738.6 275.3,738.0 276.5,737.4 277.7,736.8 278.9,736.2 280.1,735.6 281.2,735.0 282.4,734.1 283.2,733.2 282.4,732.2 280.6,732.0 278.8,732.1 277.0,732.2 275.2,732.3 273.4,732.4 271.6,732.5 269.8,732.5 268.0,732.6 266.2,732.6 264.4,732.6 263.2,732.6 261.4,732.7 259.6,732.8 257.8,733.0 256.6,733.3 255.4,733.8 254.2,734.6 253.3,735.6 254.2,736.8 255.4,737.0 257.2,737.4 258.4,737.6 260.1,738.0 261.4,738.3 262.6,738.7 264.1,739.2 265.6,739.8 266.8,740.2 268.0,740.4" fill="none" stroke="#1f2f9a" stroke-width="0.7"/>
<path d="M293.9,749.4 294.7,748.2 295.1,747.0 295.1,745.2 294.4,744.2 293.3,743.4 292.0,742.9 290.8,742.8 289.6,742.9 288.1,743.4 286.8,744.0 285.6,744.6 284.5,745.2 283.4,745.8 282.3,746.4 281.2,747.1 280.0,748.0 279.3,748.8 280.6,749.3 282.4,749.2 284.2,749.2 286.0,749.2 287.8,749.3 289.0,749.5 290.8,749.8 292.6,750.0 293.9,749.4" fill="none" stroke="#1f2f9a" stroke-width="0.7"/>
<path d="M260.8,765.7 259.0,765.9 257.2,766.0 255.4,765.9 253.6,765.6 252.4,765.4 251.1,765.0 249.5,764.4 248.2,763.8 247.1,763.2 246.2,762.6 245.2,761.9 244.0,760.9 243.3,760.2 242.3,759.0 241.7,757.8 241.2,756.6 240.8,755.4 240.5,753.6 240.5,751.8 240.7,750.0 241.1,748.8 241.6,747.6 242.2,746.4 243.0,745.2 244.0,744.1 244.6,743.4 245.8,742.3 246.7,741.6 247.6,740.9 248.8,740.1 250.0,739.4 251.2,738.9 252.4,738.6 254.2,738.3 256.0,738.3 257.8,738.4 259.0,738.6 260.8,738.9 262.0,739.2 263.8,739.8 265.0,740.2 266.2,740.6 268.0,741.0 269.8,740.7 271.0,740.3 272.2,739.8 273.6,739.2 274.9,738.6 276.1,738.0 277.4,737.4 278.6,736.8 279.9,736.2 281.1,735.6 282.3,735.0 283.3,734.4 284.2,733.7 284.9,732.6 284.8,731.2 284.2,730.0 284.2,728.9 285.4,728.0 286.6,727.3 287.7,726.6 288.7,726.0 289.8,725.4 291.0,724.8 292.4,724.2 293.8,723.7 295.0,723.4 296.8,723.1 298.6,723.1 300.4,723.3 301.8,723.6 303.4,724.1 304.6,724.6 305.8,725.3 307.0,726.0 308.0,726.6 308.8,727.4 309.5,728.4 309.9,730.2 309.9,732.0 309.8,733.8 309.4,735.5 309.0,736.8 308.4,738.0 307.6,739.1 307.0,739.9 305.9,741.0 305.2,741.7 304.2,742.8 303.5,744.0 303.5,745.8 303.8,747.6 303.9,749.4 303.8,751.2 303.5,753.0 303.2,754.2 302.8,755.7 302.4,757.2 302.0,758.4 301.6,759.7 301.0,761.0 299.8,761.7 298.9,760.8 298.3,759.6 297.7,758.4 297.1,757.2 296.3,756.0 295.6,755.2 294.4,754.2 293.2,754.0 292.0,754.4 290.8,754.9 289.2,755.4 287.8,755.7 286.0,755.8 284.2,755.8 282.4,755.7 280.6,755.4 279.4,755.2 277.6,754.9 275.8,755.3 274.8,756.0 274.0,756.7 273.1,757.8 272.2,758.9 271.6,759.6 270.5,760.8 269.8,761.5 268.6,762.4 267.5,763.2 266.4,763.8 265.1,764.4 263.8,764.9 262.6,765.3 261.1,765.6" fill="none" stroke="#1f2f9a" stroke-width="0.7"/>
<path d="M249.4,733.8 247.6,734.3 245.8,734.2 244.0,733.9 242.8,733.5 241.6,733.0 240.4,732.3 239.4,731.4 238.7,730.2 239.2,729.0 240.4,728.4 242.2,728.0 243.6,727.8 245.2,727.7 247.0,727.8 248.2,727.8 250.0,727.9 251.8,728.0 253.6,727.9 255.4,727.8 256.6,727.7 258.4,727.6 260.2,727.4 262.0,727.2 263.2,727.1 265.0,727.0 266.8,727.0 268.6,727.0 270.4,727.0 272.2,727.1 273.7,727.2 275.2,727.4 277.0,727.6 278.2,727.8 280.0,728.3 281.1,729.0 280.0,729.7 278.3,730.2 277.0,730.4 275.2,730.6 273.8,730.8 272.2,730.9 270.4,731.0 268.6,731.0 266.8,731.0 265.0,731.0 263.2,731.0 261.4,730.9 259.6,730.9 257.8,730.9 256.0,731.1 254.6,731.4 253.0,732.0 251.9,732.6 250.8,733.2 249.5,733.8" fill="none" stroke="#1f2f9a" stroke-width="0.7"/>
<path d="M294.2,751.2 295.0,750.1 295.5,748.8 295.9,747.6 296.1,745.8 295.6,744.3 294.6,743.4 293.3,742.8 292.0,742.4 290.2,742.3 288.6,742.8 287.2,743.4 286.0,744.0 284.8,744.6 283.6,745.2 282.5,745.8 281.4,746.4 280.3,747.0 279.3,747.6 278.2,748.3 277.0,749.4 277.0,750.5 278.2,750.8 280.0,750.6 281.2,750.4 283.0,750.2 284.8,750.1 286.6,750.2 288.4,750.4 289.6,750.7 291.2,751.2 292.6,751.7 294.2,751.2" fill="none" stroke="#1f2f9a" stroke-width="0.7"/>
<path d="M260.8,765.0 259.0,765.3 257.2,765.4 255.4,765.3 253.6,765.0 252.4,764.8 251.2,764.4 249.7,763.8 248.4,763.2 247.4,762.6 246.4,762.0 245.2,761.1 244.2,760.2 243.4,759.3 242.8,758.4 242.2,757.2 241.6,755.4 241.4,754.2 241.2,752.4 241.4,750.6 241.7,749.4 242.2,748.0 242.8,746.8 243.5,745.8 244.4,744.6 245.2,743.8 246.4,742.8 247.1,742.2 248.2,741.5 249.4,740.8 250.6,740.2 251.8,739.8 253.6,739.4 255.1,739.2 256.6,739.1 257.8,739.2 259.6,739.4 261.4,739.8 262.6,740.1 263.8,740.5 265.3,741.0 266.8,741.4 268.6,741.4 270.2,741.0 271.6,740.5 272.8,739.9 274.0,739.4 275.2,738.8 276.4,738.2 277.6,737.7 278.8,737.1 280.0,736.6 281.2,736.0 282.4,735.4 283.6,734.8 284.8,734.0 285.6,733.2 286.1,732.0 286.4,730.2 286.8,729.0 287.8,727.8 288.4,727.2 289.6,726.3 290.8,725.6 292.0,725.0 293.2,724.5 294.4,724.1 296.2,723.7 298.0,723.6 299.8,723.7 301.6,724.1 302.8,724.5 304.0,725.0 305.2,725.6 306.4,726.3 307.6,727.2 308.2,727.8 308.9,729.0 309.2,730.8 309.3,732.6 309.1,734.4 308.8,735.6 308.2,737.1 307.6,738.2 306.8,739.2 305.8,740.3 305.1,741.0 304.0,742.0 303.1,742.8 302.5,744.0 302.6,745.8 302.9,747.0 303.1,748.8 303.0,750.6 302.8,752.0 302.3,753.6 301.9,754.8 301.3,756.0 300.4,757.2 299.3,757.2 298.6,756.6 297.6,755.4 296.8,754.3 296.2,753.1 296.0,751.8 296.2,750.4 296.5,748.8 296.8,747.6 297.2,745.8 296.8,744.2 295.9,743.4 294.8,742.8 293.3,742.2 292.0,741.9 290.2,741.9 289.0,742.2 287.6,742.8 286.4,743.4 285.2,744.0 284.0,744.6 282.9,745.2 281.7,745.8 280.5,746.4 279.4,747.0 278.2,747.7 277.0,748.4 275.8,749.3 275.2,750.0 275.0,751.8 275.0,753.6 274.3,754.8 273.4,756.0 272.8,756.9 272.1,757.8 271.2,759.0 270.4,759.9 269.6,760.8 268.6,761.6 267.4,762.5 266.2,763.2 265.0,763.8 263.8,764.3 262.6,764.6 261.0,765.0" fill="none" stroke="#1f2f9a" stroke-width="0.7"/>
<path d="M287.2,754.3 285.4,754.5 283.6,754.5 282.1,754.2 280.8,753.6 280.6,752.7 281.8,751.9 283.0,751.6 284.8,751.5 286.6,751.6 287.8,751.8 289.0,752.6 288.9,753.6 287.7,754.2" fill="none" stroke="#1f2f9a" stroke-width="0.7"/>
<path d="M260.8,764.4 259.0,764.7 257.2,764.8 255.4,764.7 253.8,764.4 252.4,764.1 251.2,763.7 249.9,763.2 248.7,762.6 247.6,762.0 246.4,761.2 245.2,760.2 244.6,759.6 243.7,758.4 243.0,757.2 242.5,756.0 242.2,754.5 242.0,753.0 242.1,751.2 242.3,750.0 242.8,748.5 243.4,747.2 244.0,746.3 244.8,745.2 245.8,744.2 246.7,743.4 247.6,742.8 248.8,742.0 250.0,741.3 251.2,740.8 252.6,740.4 254.2,740.1 256.0,739.9 257.8,739.9 259.6,740.1 261.2,740.4 262.6,740.7 263.8,741.1 265.1,741.6 266.8,741.9 268.6,741.8 269.8,741.5 271.3,741.0 272.7,740.4 274.0,739.8 275.2,739.2 276.4,738.6 277.6,738.1 278.8,737.5 280.0,737.0 281.2,736.4 282.4,735.9 283.6,735.3 284.8,734.7 286.0,733.8 286.6,733.0 287.2,731.5 287.6,730.2 288.1,729.0 289.0,727.9 289.7,727.2 290.8,726.4 292.0,725.7 293.2,725.1 294.4,724.7 296.2,724.3 297.4,724.2 299.0,724.2 300.4,724.4 302.1,724.8 303.4,725.3 304.6,725.9 305.8,726.6 306.6,727.2 307.6,728.2 308.2,729.4 308.6,730.8 308.6,732.6 308.5,734.4 308.1,735.6 307.6,737.0 307.0,738.0 306.1,739.2 305.2,740.1 304.1,741.0 303.4,741.6 302.2,742.5 301.2,743.4 300.4,744.6 300.6,745.2 301.3,746.4 301.8,747.6 302.0,749.4 301.7,751.2 301.3,752.4 300.5,753.6 299.2,753.9 298.2,753.0 297.7,751.8 297.6,750.0 297.9,748.2 298.3,747.0 298.8,745.8 298.6,744.0 297.7,743.4 296.4,742.8 295.0,742.3 293.8,741.8 292.6,741.5 290.8,741.4 289.6,741.6 288.0,742.2 286.8,742.8 285.6,743.4 284.4,744.0 283.2,744.6 282.1,745.2 280.9,745.8 279.7,746.4 278.5,747.0 277.3,747.6 276.3,748.2 275.2,749.0 274.1,750.0 273.7,751.2 273.5,753.0 273.2,754.2 272.7,755.4 272.0,756.6 271.2,757.8 270.4,758.9 269.8,759.6 268.6,760.7 267.8,761.4 266.8,762.1 265.6,762.8 264.4,763.3 263.2,763.8 261.4,764.3" fill="none" stroke="#1f2f9a" stroke-width="0.7"/>
<path d="M260.2,763.9 258.4,764.1 256.6,764.1 254.8,764.0 253.6,763.8 251.8,763.3 250.6,762.8 249.4,762.3 248.2,761.6 247.0,760.8 246.3,760.2 245.2,759.2 244.5,758.4 243.8,757.2 243.3,756.0 242.9,754.2 242.7,753.0 242.8,751.4 243.0,750.0 243.4,748.8 244.0,747.6 244.8,746.4 245.8,745.2 246.4,744.6 247.6,743.6 248.8,742.8 249.9,742.2 251.2,741.6 252.4,741.2 253.6,740.9 255.4,740.6 257.2,740.5 259.0,740.6 260.8,740.9 262.0,741.2 263.2,741.6 265.0,742.2 266.2,742.4 268.0,742.4 269.2,742.2 270.8,741.6 272.2,741.0 273.4,740.5 274.6,739.9 275.8,739.3 277.0,738.8 278.2,738.2 279.4,737.7 280.6,737.1 281.8,736.6 283.0,736.1 284.2,735.5 285.4,734.9 286.6,733.9 287.2,733.2 287.8,732.0 288.4,730.4 289.0,729.2 289.6,728.4 290.8,727.2 291.6,726.6 292.7,726.0 294.0,725.4 295.6,724.9 296.8,724.8 298.6,724.7 299.8,724.8 301.6,725.2 302.8,725.6 304.0,726.2 305.2,726.9 306.3,727.8 307.0,728.6 307.6,729.7 308.0,731.4 308.0,733.2 307.7,735.0 307.3,736.2 306.7,737.4 305.9,738.6 305.2,739.3 304.0,740.4 303.1,741.0 302.2,741.6 301.0,742.2 299.2,742.7 297.4,742.4 296.2,742.1 294.9,741.6 293.2,741.1 292.0,740.9 290.2,741.0 289.0,741.4 287.8,741.9 286.6,742.5 285.4,743.1 284.2,743.7 283.0,744.3 281.8,744.9 280.6,745.5 279.4,746.1 278.2,746.7 277.0,747.3 275.8,748.0 274.6,748.7 273.8,749.4 272.9,750.6 272.6,751.8 272.3,753.6 272.0,754.8 271.4,756.0 270.7,757.2 269.9,758.4 269.2,759.2 268.2,760.2 267.4,760.9 266.2,761.7 265.0,762.4 263.8,762.9 262.6,763.3 260.8,763.8" fill="none" stroke="#1f2f9a" stroke-width="0.7"/>
<path d="M260.2,763.3 258.4,763.5 256.6,763.5 254.8,763.3 253.6,763.1 251.8,762.6 250.6,762.1 249.4,761.5 248.2,760.8 247.4,760.2 246.4,759.4 245.5,758.4 244.7,757.2 244.1,756.0 243.8,754.8 243.5,753.0 243.6,751.2 244.0,749.5 244.5,748.2 245.2,747.1 245.8,746.3 246.8,745.2 247.6,744.5 248.8,743.6 250.0,742.9 251.2,742.3 252.4,741.9 253.6,741.6 255.4,741.3 257.2,741.2 259.0,741.3 260.7,741.6 262.0,741.9 263.2,742.3 265.0,742.8 266.2,743.0 268.0,742.9 269.2,742.6 270.5,742.2 271.9,741.6 273.2,741.0 274.4,740.4 275.7,739.8 277.0,739.2 278.2,738.6 279.4,738.1 280.6,737.6 281.8,737.1 283.0,736.6 284.2,736.0 285.4,735.4 286.6,734.7 287.6,733.8 288.3,732.6 288.8,731.4 289.3,730.2 290.0,729.0 290.8,728.1 291.9,727.2 292.8,726.6 294.1,726.0 295.6,725.5 296.8,725.3 298.6,725.2 299.9,725.4 301.6,725.8 302.8,726.3 304.0,726.9 305.2,727.7 306.0,728.4 306.8,729.6 307.2,730.8 307.4,732.6 307.2,734.4 306.9,735.6 306.4,736.8 305.6,738.0 304.6,739.1 303.7,739.8 302.8,740.4 301.6,741.1 300.2,741.6 298.6,741.8 297.2,741.6 295.6,741.2 294.4,740.9 292.6,740.4 291.4,740.4 290.2,740.5 288.7,741.0 287.4,741.6 286.2,742.2 285.0,742.8 283.9,743.4 282.7,744.0 281.5,744.6 280.3,745.2 279.1,745.8 277.8,746.4 276.6,747.0 275.5,747.6 274.4,748.2 273.4,748.9 272.4,750.0 271.8,751.2 271.5,752.4 271.2,754.2 270.8,755.4 270.2,756.6 269.4,757.8 268.6,758.8 267.8,759.6 266.8,760.5 265.6,761.3 264.4,761.9 263.2,762.5 262.0,762.9 260.5,763.2" fill="none" stroke="#1f2f9a" stroke-width="0.7"/>
<path d="M260.8,762.6 259.0,762.9 257.2,763.0 255.4,762.9 253.7,762.6 252.4,762.2 251.2,761.8 250.0,761.2 248.8,760.5 247.6,759.7 246.8,759.0 245.8,757.8 245.2,756.9 244.6,755.4 244.3,754.2 244.1,752.4 244.3,750.6 244.7,749.4 245.2,748.2 246.0,747.0 247.0,745.8 247.6,745.2 248.8,744.3 250.0,743.5 251.2,743.0 252.4,742.5 253.6,742.2 255.4,741.8 257.2,741.7 259.0,741.8 260.8,742.1 262.0,742.4 263.2,742.8 265.0,743.3 266.2,743.4 267.5,743.4 269.2,743.0 270.4,742.6 271.6,742.1 272.8,741.6 274.0,741.0 275.2,740.4 276.5,739.8 277.8,739.2 279.2,738.6 280.5,738.0 281.8,737.5 283.0,737.0 284.2,736.5 285.4,735.9 286.6,735.2 287.7,734.4 288.4,733.5 289.0,732.4 289.6,731.0 290.2,729.9 290.8,729.0 292.0,727.8 292.8,727.2 294.0,726.6 295.6,726.0 296.8,725.8 298.6,725.7 300.4,726.0 301.6,726.3 302.8,726.8 304.0,727.4 305.2,728.4 305.8,729.1 306.4,730.2 306.8,732.0 306.8,733.8 306.4,735.4 305.8,736.8 305.2,737.7 304.4,738.6 303.4,739.4 302.2,740.2 301.0,740.8 299.8,741.1 298.0,741.2 296.8,741.0 295.0,740.6 293.8,740.2 292.0,739.9 290.2,740.1 289.0,740.4 287.7,741.0 286.5,741.6 285.4,742.2 284.2,742.8 283.0,743.5 281.8,744.1 280.6,744.7 279.4,745.3 278.2,745.8 277.0,746.4 275.8,747.0 274.6,747.6 273.4,748.4 272.2,749.3 271.6,750.1 271.0,751.5 270.7,753.0 270.4,754.4 269.8,756.0 269.2,757.0 268.6,757.9 267.6,759.0 266.8,759.7 265.6,760.6 264.4,761.3 263.2,761.9 262.0,762.3 260.8,762.6" fill="none" stroke="#1f2f9a" stroke-width="0.7"/>
<path d="M260.2,762.1 258.4,762.3 256.6,762.4 254.8,762.2 253.6,761.9 252.0,761.4 250.6,760.8 249.5,760.2 248.6,759.6 247.6,758.7 246.7,757.8 245.9,756.6 245.4,755.4 245.1,754.2 244.9,752.4 245.1,750.6 245.5,749.4 246.1,748.2 246.9,747.0 247.6,746.2 248.8,745.2 249.6,744.6 250.6,744.0 251.9,743.4 253.6,742.9 254.8,742.6 256.6,742.4 258.4,742.4 260.2,742.7 261.4,742.9 263.0,743.4 264.4,743.8 265.9,744.0 266.9,744.0 268.6,743.7 269.8,743.4 271.2,742.8 272.5,742.2 273.8,741.6 275.0,741.0 276.3,740.4 277.6,739.8 278.8,739.3 280.0,738.7 281.2,738.2 282.4,737.7 283.6,737.3 284.8,736.8 286.1,736.2 287.2,735.6 288.4,734.5 289.0,733.8 289.6,732.6 290.2,731.4 290.8,730.2 291.7,729.0 292.6,728.2 293.8,727.4 295.0,726.8 296.2,726.5 298.0,726.3 299.8,726.4 301.0,726.7 302.3,727.2 303.4,727.8 304.6,728.7 305.4,729.6 305.9,730.8 306.2,732.6 306.0,734.4 305.7,735.6 305.1,736.8 304.1,738.0 303.4,738.6 302.2,739.5 301.0,740.0 299.6,740.4 298.0,740.5 296.8,740.4 295.0,740.0 293.8,739.7 292.0,739.4 290.2,739.5 289.0,739.8 287.7,740.4 286.6,741.0 285.4,741.6 284.2,742.3 283.0,743.0 281.8,743.6 280.6,744.2 279.4,744.8 278.2,745.3 277.0,745.9 275.8,746.5 274.6,747.0 273.4,747.7 272.2,748.5 271.3,749.4 270.5,750.6 270.1,751.8 269.8,753.4 269.4,754.8 268.9,756.0 268.2,757.2 267.4,758.2 266.6,759.0 265.6,759.8 264.4,760.6 263.2,761.2 262.0,761.6 260.6,762.0" fill="none" stroke="#1f2f9a" stroke-width="0.7"/>
<path d="M260.2,761.5 258.4,761.8 256.6,761.8 254.8,761.6 253.6,761.3 252.0,760.8 250.7,760.2 249.7,759.6 248.8,759.0 247.6,757.9 247.0,757.1 246.3,756.0 245.8,754.4 245.6,753.0 245.7,751.2 246.0,750.0 246.5,748.8 247.2,747.6 248.2,746.5 248.9,745.8 250.0,745.0 251.2,744.3 252.4,743.8 253.7,743.4 255.4,743.1 257.2,742.9 259.0,743.0 260.8,743.4 262.0,743.7 263.2,744.0 265.0,744.4 266.8,744.5 268.6,744.2 269.8,743.9 271.0,743.4 272.3,742.8 273.5,742.2 274.8,741.6 276.0,741.0 277.3,740.4 278.6,739.8 280.0,739.2 281.2,738.7 282.4,738.2 283.6,737.8 284.8,737.4 286.2,736.8 287.3,736.2 288.4,735.4 289.2,734.4 289.9,733.2 290.5,732.0 291.1,730.8 291.9,729.6 292.6,728.9 293.8,728.0 295.0,727.4 296.2,727.0 298.0,726.8 299.8,726.9 301.0,727.2 302.4,727.8 303.4,728.4 304.6,729.5 305.2,730.6 305.6,732.0 305.6,733.8 305.2,735.3 304.6,736.5 303.9,737.4 302.8,738.5 301.6,739.2 300.4,739.7 299.2,739.9 297.4,739.9 296.2,739.8 294.4,739.3 293.2,739.1 291.4,738.9 289.6,739.0 288.4,739.5 287.2,740.1 286.0,740.7 284.8,741.4 283.6,742.1 282.4,742.8 281.2,743.4 280.0,744.0 278.8,744.6 277.6,745.1 276.4,745.7 275.2,746.2 274.0,746.8 272.8,747.5 271.7,748.2 271.0,748.8 270.1,750.0 269.6,751.2 269.2,752.9 268.9,754.2 268.5,755.4 267.8,756.6 266.9,757.8 266.2,758.5 265.0,759.5 263.9,760.2 262.6,760.8 261.4,761.2 260.2,761.5" fill="none" stroke="#1f2f9a" stroke-width="0.7"/>
<path d="M260.2,760.9 258.4,761.2 256.6,761.2 254.8,761.0 253.6,760.7 252.2,760.2 250.9,759.6 249.9,759.0 248.8,758.1 247.9,757.2 247.2,756.0 246.7,754.8 246.4,753.4 246.4,751.8 246.6,750.6 247.0,749.4 247.7,748.2 248.7,747.0 249.4,746.3 250.6,745.4 251.8,744.8 253.0,744.3 254.2,743.9 256.0,743.6 257.8,743.6 259.6,743.7 260.8,744.0 262.6,744.5 263.8,744.8 265.6,745.0 267.4,745.0 269.2,744.7 270.4,744.3 271.6,743.8 272.8,743.2 274.0,742.6 275.2,742.0 276.4,741.4 277.6,740.9 278.8,740.3 280.1,739.8 281.7,739.2 283.0,738.7 284.2,738.4 285.4,738.0 287.2,737.4 288.2,736.8 289.0,736.0 289.7,735.0 290.3,733.8 290.9,732.6 291.5,731.4 292.3,730.2 293.2,729.2 294.3,728.4 295.6,727.8 296.8,727.5 298.6,727.4 300.4,727.6 301.6,728.1 302.8,728.7 303.8,729.6 304.6,730.8 304.9,732.0 304.9,733.8 304.6,735.1 304.0,736.3 303.1,737.4 302.2,738.1 301.0,738.8 299.8,739.2 298.0,739.4 296.3,739.2 295.0,738.9 293.7,738.6 292.0,738.3 290.2,738.1 288.4,738.4 287.2,738.9 286.0,739.8 285.1,740.4 284.2,741.0 283.0,741.7 281.8,742.4 280.6,743.1 279.4,743.7 278.2,744.2 277.0,744.8 275.8,745.3 274.6,745.9 273.4,746.4 272.2,747.1 271.0,747.9 270.1,748.8 269.3,750.0 268.8,751.2 268.5,752.4 268.1,754.2 267.6,755.4 266.9,756.6 266.2,757.5 265.3,758.4 264.4,759.1 263.2,759.8 262.0,760.4 260.6,760.8" fill="none" stroke="#36a8e0" stroke-width="0.7"/>
<path d="M299.2,738.6 297.4,738.7 296.2,738.6 294.4,738.2 293.2,737.8 291.8,737.4 290.6,736.8 290.7,735.0 291.1,733.8 291.7,732.6 292.3,731.4 293.2,730.2 293.8,729.6 295.0,728.8 296.2,728.3 298.0,728.0 299.8,728.1 301.0,728.5 302.2,729.1 303.4,730.2 304.0,731.3 304.3,732.6 304.1,734.4 303.6,735.6 302.8,736.7 302.1,737.4 301.0,738.1 299.4,738.6Z" fill="#46afe3" stroke="none"/>
<path d="M260.2,760.2 258.4,760.5 256.6,760.5 254.8,760.3 253.6,760.0 252.4,759.6 251.2,759.0 250.0,758.2 248.9,757.2 248.2,756.2 247.6,755.0 247.2,753.6 247.2,751.8 247.6,750.1 248.2,748.8 248.8,748.0 249.7,747.0 250.6,746.3 251.8,745.5 253.0,745.0 254.3,744.6 256.0,744.3 257.8,744.2 259.6,744.4 260.8,744.7 262.6,745.1 263.8,745.4 265.6,745.7 267.4,745.8 269.2,745.7 271.0,745.4 272.2,745.0 273.4,744.2 274.6,743.4 275.7,742.8 276.9,742.2 278.2,741.6 279.4,741.1 280.6,740.8 281.8,741.0 281.1,741.6 280.0,742.3 278.8,742.9 277.6,743.5 276.4,744.0 274.9,744.6 273.4,745.1 272.2,745.6 271.1,746.4 270.4,747.1 269.5,748.2 268.7,749.4 268.2,750.6 267.9,751.8 267.4,753.6 267.0,754.8 266.4,756.0 265.6,757.1 264.9,757.8 263.8,758.7 262.6,759.4 261.4,759.9 260.2,760.2Z" fill="#46afe3" stroke="none"/>
<path d="M298.6,738.0 296.8,738.0 295.6,737.8 294.2,737.4 292.7,736.8 292.0,736.2 291.8,734.4 292.2,733.2 292.8,732.0 293.6,730.8 294.4,730.0 295.6,729.2 296.8,728.8 298.6,728.7 300.4,729.0 301.6,729.6 302.4,730.2 303.2,731.4 303.5,732.6 303.4,734.1 302.8,735.5 302.2,736.3 301.0,737.3 299.8,737.8 298.6,738.0Z" fill="#4dc1e5" stroke="none"/>
<path d="M259.6,759.6 257.8,759.9 256.0,759.8 254.8,759.6 253.0,759.0 251.8,758.5 250.7,757.8 250.0,757.2 249.0,756.0 248.4,754.8 248.1,753.6 248.0,751.8 248.3,750.6 248.8,749.4 249.6,748.2 250.6,747.2 251.8,746.4 253.0,745.8 254.2,745.4 255.4,745.1 257.2,744.9 259.0,745.0 260.2,745.2 262.0,745.6 263.2,745.9 265.0,746.3 266.2,746.5 267.7,747.0 268.1,748.2 267.7,749.4 267.3,750.6 266.9,752.4 266.6,753.6 266.1,754.8 265.4,756.0 264.4,757.2 263.7,757.8 262.6,758.5 261.4,759.1 259.7,759.6Z" fill="#4dc1e5" stroke="none"/>
<path d="M299.8,737.0 298.0,737.3 296.2,737.2 294.8,736.8 293.6,736.2 292.8,735.0 293.1,733.2 293.6,732.0 294.4,731.0 295.4,730.2 296.8,729.6 298.0,729.4 299.8,729.6 301.0,730.1 301.9,730.8 302.6,732.0 302.6,733.8 302.2,735.0 301.2,736.2 300.2,736.8Z" fill="#49c4ca" stroke="none"/>
<path d="M259.0,759.0 257.2,759.2 255.5,759.0 254.2,758.7 253.0,758.2 251.8,757.6 250.6,756.7 250.0,756.0 249.3,754.8 248.9,753.0 249.0,751.2 249.5,750.0 250.2,748.8 251.2,747.8 252.3,747.0 253.5,746.4 254.8,745.9 256.0,745.7 257.8,745.6 259.5,745.8 260.8,746.0 262.3,746.4 263.8,746.8 265.0,747.2 266.2,747.8 266.7,749.4 266.3,751.2 266.0,752.4 265.6,753.9 265.0,755.1 264.4,756.0 263.2,757.2 262.3,757.8 261.1,758.4 259.6,758.9Z" fill="#49c4ca" stroke="none"/>
<path d="M299.2,736.3 297.4,736.6 295.6,736.2 294.5,735.6 293.9,734.4 294.3,732.6 295.0,731.6 296.0,730.8 297.4,730.3 298.6,730.2 299.8,730.5 301.0,731.2 301.6,732.1 301.7,733.8 301.1,735.0 300.4,735.7 299.2,736.3Z" fill="#3fbf99" stroke="none"/>
<path d="M257.2,758.4 256.0,758.3 254.2,757.9 253.0,757.4 251.8,756.6 251.1,756.0 250.3,754.8 249.9,753.6 249.8,751.8 250.2,750.6 250.8,749.4 251.8,748.3 252.8,747.6 254.0,747.0 255.4,746.6 256.6,746.4 258.4,746.4 259.6,746.5 261.4,746.9 262.6,747.2 263.8,747.6 265.0,748.4 265.6,750.0 265.3,751.8 265.0,753.0 264.4,754.4 263.8,755.4 262.6,756.6 261.8,757.2 260.6,757.8 259.0,758.3 257.7,758.4Z" fill="#3fbf99" stroke="none"/>
<path d="M299.2,735.1 297.4,735.5 295.9,735.0 295.3,733.8 295.7,732.6 296.8,731.6 298.0,731.3 299.2,731.5 300.4,732.6 300.4,733.7 299.8,734.7Z" fill="#4fbe57" stroke="none"/>
<path d="M259.0,757.4 257.2,757.5 255.4,757.3 254.2,757.0 253.0,756.3 251.9,755.4 251.2,754.3 250.8,753.0 251.1,751.2 251.6,750.0 252.4,749.1 253.6,748.2 254.8,747.7 256.0,747.3 257.8,747.2 259.6,747.4 260.8,747.6 262.6,748.2 263.6,748.8 264.3,750.0 264.3,751.8 263.8,753.3 263.2,754.5 262.5,755.4 261.4,756.3 260.2,757.0 259.0,757.4Z" fill="#4fbe57" stroke="none"/>
<path d="M257.8,756.7 256.0,756.6 254.8,756.3 253.6,755.7 252.6,754.8 252.0,753.6 251.9,751.8 252.4,750.6 253.5,749.4 254.4,748.8 256.0,748.2 257.2,748.0 259.0,748.1 260.2,748.3 261.7,748.8 262.6,749.4 263.3,750.6 263.2,752.0 262.6,753.6 262.0,754.6 261.1,755.4 260.2,756.0 258.4,756.6Z" fill="#9bcd32" stroke="none"/>
<path d="M259.0,755.5 257.2,755.8 255.4,755.5 254.2,754.9 253.5,754.2 253.0,753.0 253.0,751.8 253.6,750.6 254.8,749.6 256.0,749.1 257.8,748.8 259.6,749.0 260.8,749.4 262.0,750.5 262.2,751.8 261.8,753.0 261.1,754.2 260.2,754.9 259.0,755.5Z" fill="#eccb26" stroke="none"/>
<path d="M258.4,754.8 256.6,754.9 255.4,754.6 254.3,753.6 254.0,752.4 254.4,751.2 255.4,750.3 256.6,749.8 258.4,749.6 259.9,750.0 260.8,750.7 261.0,752.4 260.4,753.6 259.6,754.3 258.4,754.8Z" fill="#ef851f" stroke="none"/>
<path d="M257.2,754.2 256.0,753.9 255.1,753.0 255.4,751.4 256.5,750.6 257.8,750.4 259.1,750.6 260.1,751.8 259.6,753.2 258.4,754.0 257.2,754.2Z" fill="#e64f1c" stroke="none"/>
<path d="M258.4,753.1 256.6,753.2 256.0,752.4 256.6,751.5 257.8,751.1 259.0,751.7 259.0,752.5Z" fill="#dc2a1a" stroke="none"/>
<path d="M297.6 721.7h0M228.4 731.9h0M307.6 755.0h0M280.8 728.5h0M238.4 737.3h0M279.5 723.5h0M305.6 753.8h0M235.8 724.1h0M242.7 723.1h0M264.8 735.3h0M291.6 752.2h0M300.2 767.1h0M247.4 768.0h0M242.5 722.7h0M239.3 743.7h0M278.1 732.2h0M236.7 756.8h0M292.6 760.1h0M244.7 740.9h0M305.9 764.1h0M291.3 753.8h0M277.3 725.0h0M305.0 755.1h0M241.1 741.1h0M290.3 746.7h0M317.8 728.0h0M236.0 755.3h0M240.9 761.8h0M231.5 723.6h0M246.6 738.2h0M239.6 746.5h0M318.3 725.9h0M300.0 766.1h0M239.8 744.4h0M240.3 756.0h0M244.2 735.4h0M297.9 759.2h0M241.8 737.7h0M283.8 759.1h0M259.7 734.6h0M243.3 730.8h0M240.3 738.7h0M284.3 760.5h0M252.6 724.0h0M246.5 736.5h0M296.9 762.4h0M291.0 746.5h0M239.4 734.9h0M286.4 723.6h0M285.9 725.5h0M306.5 762.6h0M282.2 722.1h0M263.4 736.5h0M303.2 763.5h0M312.0 735.9h0M293.2 750.0h0M304.3 748.1h0M263.6 726.2h0M226.7 733.1h0M241.5 727.6h0M264.7 725.8h0M247.2 738.6h0M281.8 726.1h0M246.3 725.7h0M256.7 726.8h0M267.3 729.1h0M245.5 733.8h0M247.0 721.5h0M266.1 764.2h0M246.9 738.1h0M272.4 760.6h0M258.3 766.7h0M304.0 771.3h0M270.7 723.9h0M266.8 730.7h0M307.4 752.9h0M232.8 722.7h0M225.2 726.9h0M236.9 730.6h0M240.9 737.3h0M281.8 757.5h0M280.3 736.4h0M274.5 727.7h0M311.1 723.5h0M228.6 732.7h0M269.6 734.0h0M278.4 721.5h0M234.6 727.0h0M230.3 730.6h0M281.4 750.4h0M291.3 723.6h0M296.4 773.1h0M301.7 773.3h0M302.8 770.4h0M273.0 721.1h0M246.6 763.6h0M302.7 723.1h0M240.2 736.8h0M244.1 733.1h0M291.5 742.6h0M317.8 728.5h0M234.4 727.9h0M235.5 730.3h0M244.7 726.0h0M243.3 761.3h0M284.9 726.2h0M278.2 726.2h0M265.9 732.2h0M269.2 766.1h0M298.7 771.9h0M285.6 723.1h0M304.3 744.3h0M242.4 725.8h0M247.6 737.9h0M305.7 757.6h0M240.7 737.3h0M254.4 765.8h0M252.5 721.8h0M294.0 748.3h0M304.8 760.4h0" stroke="#3040b0" stroke-width="0.80" stroke-linecap="round" fill="none"/>
<rect x="37.6" y="697.2" width="118.8" height="115.3" fill="none" stroke="#111" stroke-width="1.2"/>
<rect x="202.5" y="692.9" width="126" height="122.6" fill="none" stroke="#111" stroke-width="1.2"/>
<text x="0" y="0" font-size="14.61" fill="#111" transform="translate(341.00 697.66) scale(1.046 1)">q</text>
<line x1="366.3" y1="707.9" x2="366.3" y2="813.3" stroke="#111" stroke-width="1.4"/>
<line x1="365.6" y1="812.6" x2="485.5" y2="812.6" stroke="#111" stroke-width="1.4"/>
<line x1="364" y1="709.1" x2="366.3" y2="709.1" stroke="#111" stroke-width="1"/>
<text x="363.5" y="711.9" font-size="7.6" text-anchor="end" fill="#222">100</text>
<line x1="364" y1="730" x2="366.3" y2="730" stroke="#111" stroke-width="1"/>
<text x="363.5" y="732.8" font-size="7.6" text-anchor="end" fill="#222">80</text>
<line x1="364" y1="750.5" x2="366.3" y2="750.5" stroke="#111" stroke-width="1"/>
<text x="363.5" y="753.3" font-size="7.6" text-anchor="end" fill="#222">60</text>
<line x1="364" y1="771.2" x2="366.3" y2="771.2" stroke="#111" stroke-width="1"/>
<text x="363.5" y="774.0" font-size="7.6" text-anchor="end" fill="#222">40</text>
<line x1="364" y1="792.2" x2="366.3" y2="792.2" stroke="#111" stroke-width="1"/>
<text x="363.5" y="795.0" font-size="7.6" text-anchor="end" fill="#222">20</text>
<line x1="364" y1="812.6" x2="366.3" y2="812.6" stroke="#111" stroke-width="1"/>
<text x="363.5" y="815.4" font-size="7.6" text-anchor="end" fill="#222">0</text>
<text x="0" y="0" font-size="7.94" transform="translate(346.60 767.50) rotate(-90) scale(0.893 1) translate(-20.95 2.06)">MDSCs (%)</text>
<path d="M399.5,759.2 C400.5,759.2 400.7,763.2 402.5,765.0 C404.3,766.8 406.6,767.9 410.5,770.0 C414.4,772.1 424.2,775.2 426.0,777.7 C427.8,780.2 423.8,782.6 421.5,785.0 C419.2,787.4 415.2,789.5 412.5,792.0 C409.8,794.5 407.3,797.7 405.5,800.0 C403.7,802.3 402.5,804.3 401.5,806.0 C400.5,807.7 400.2,810.2 399.5,810.2 C398.8,810.2 398.5,807.7 397.5,806.0 C396.5,804.3 395.3,802.3 393.5,800.0 C391.7,797.7 389.2,794.5 386.5,792.0 C383.8,789.5 379.8,787.4 377.5,785.0 C375.2,782.6 371.2,780.2 373.0,777.7 C374.8,775.2 384.6,772.1 388.5,770.0 C392.4,767.9 394.7,766.8 396.5,765.0 C398.3,763.2 398.5,759.2 399.5,759.2 Z" fill="#d9d08f" stroke="#1a1a1a" stroke-width="1"/>
<path d="M453.0,701.4 C454.3,701.4 455.3,708.6 457.0,712.0 C458.7,715.4 461.2,718.1 463.0,722.0 C464.8,725.9 467.7,731.3 468.0,735.6 C468.3,739.9 466.3,743.9 465.0,748.0 C463.7,752.1 461.2,756.0 460.0,760.0 C458.8,764.0 458.7,767.8 458.0,772.0 C457.3,776.2 456.6,780.8 456.0,785.0 C455.4,789.2 455.0,793.6 454.5,797.0 C454.0,800.4 453.5,805.4 453.0,805.4 C452.5,805.4 452.0,800.4 451.5,797.0 C451.0,793.6 450.6,789.2 450.0,785.0 C449.4,780.8 448.7,776.2 448.0,772.0 C447.3,767.8 447.2,764.0 446.0,760.0 C444.8,756.0 442.3,752.1 441.0,748.0 C439.7,743.9 437.7,739.9 438.0,735.6 C438.3,731.3 441.2,725.9 443.0,722.0 C444.8,718.1 447.3,715.4 449.0,712.0 C450.7,708.6 451.7,701.4 453.0,701.4 Z" fill="#a9dfe8" stroke="#1a1a1a" stroke-width="1"/>
<circle cx="403.6" cy="775.3" r="3" fill="#fff" stroke="#2a2a2a" stroke-width="0.9"/>
<circle cx="398.1" cy="777.7" r="3" fill="#fff" stroke="#2a2a2a" stroke-width="0.9"/>
<circle cx="396.4" cy="780.9" r="3" fill="#fff" stroke="#2a2a2a" stroke-width="0.9"/>
<circle cx="398.8" cy="789" r="3" fill="#fff" stroke="#2a2a2a" stroke-width="0.9"/>
<circle cx="402.9" cy="795.1" r="3" fill="#fff" stroke="#2a2a2a" stroke-width="0.9"/>
<circle cx="451.8" cy="730" r="3" fill="#fff" stroke="#2a2a2a" stroke-width="0.9"/>
<circle cx="455.4" cy="730.3" r="3" fill="#fff" stroke="#2a2a2a" stroke-width="0.9"/>
<circle cx="450.1" cy="741.6" r="3" fill="#fff" stroke="#2a2a2a" stroke-width="0.9"/>
<circle cx="450.1" cy="750.5" r="3" fill="#fff" stroke="#2a2a2a" stroke-width="0.9"/>
<circle cx="454.2" cy="776" r="3" fill="#fff" stroke="#2a2a2a" stroke-width="0.9"/>
<line x1="399.5" y1="778" x2="399.5" y2="792" stroke="#111" stroke-width="0.9"/>
<circle cx="399.5" cy="785" r="0.9" fill="#111"/>
<line x1="454" y1="735" x2="454" y2="757" stroke="#111" stroke-width="0.9"/>
<circle cx="454" cy="745" r="0.9" fill="#111"/>
<rect x="398.3" y="812.6" width="2.4" height="2.4" fill="#111"/>
<rect x="451.8" y="812.6" width="2.4" height="2.4" fill="#111"/>
<path d="M399.5,699.5 L399.5,697.5 L453.0,697.5 L453.0,699.5" fill="none" stroke="#222" stroke-width="0.9"/>
<text x="427.7" y="697.3" font-size="6.5" text-anchor="middle">**</text>
<text x="0" y="0" font-size="8.55" transform="translate(391.30 825.60) rotate(-25) scale(0.939 1) translate(-15.44 3.10)">Dll4-WT</text>
<text x="0" y="0" font-size="8.44" transform="translate(444.50 825.60) rotate(-25) scale(0.982 1) translate(-14.77 3.02)">Dll4-KO</text>
<text x="0" y="0" font-size="14.87" fill="#111" transform="translate(511.20 699.50) scale(1.131 1)">r</text>
<line x1="527.6" y1="704.9" x2="527.6" y2="811.8" stroke="#111" stroke-width="1.4"/>
<line x1="526.9" y1="811.1" x2="648.3" y2="811.1" stroke="#111" stroke-width="1.4"/>
<line x1="525.3" y1="720" x2="527.6" y2="720" stroke="#111" stroke-width="1"/>
<text x="524.8" y="722.8" font-size="7.6" text-anchor="end" fill="#222">1.2</text>
<line x1="525.3" y1="750.4" x2="527.6" y2="750.4" stroke="#111" stroke-width="1"/>
<text x="524.8" y="753.2" font-size="7.6" text-anchor="end" fill="#222">0.8</text>
<line x1="525.3" y1="780.8" x2="527.6" y2="780.8" stroke="#111" stroke-width="1"/>
<text x="524.8" y="783.6" font-size="7.6" text-anchor="end" fill="#222">0.4</text>
<line x1="525.3" y1="811.1" x2="527.6" y2="811.1" stroke="#111" stroke-width="1"/>
<text x="524.8" y="813.9" font-size="7.6" text-anchor="end" fill="#222">0</text>
<text x="0" y="0" font-size="7.93" transform="translate(507.00 762.10) rotate(-90) scale(0.902 1) translate(-29.83 2.05)">Tumor weight (g)</text>
<path d="M560.3,770.3 C563.3,770.3 565.6,773.4 569.3,775.0 C573.0,776.6 579.1,778.3 582.3,780.0 C585.5,781.7 588.3,783.7 588.3,785.4 C588.3,787.1 585.3,788.4 582.3,790.0 C579.3,791.6 573.3,793.5 570.3,795.0 C567.3,796.5 566.0,797.9 564.3,799.0 C562.6,800.1 561.6,801.8 560.3,801.8 C559.0,801.8 558.0,800.1 556.3,799.0 C554.6,797.9 553.3,796.5 550.3,795.0 C547.3,793.5 541.3,791.6 538.3,790.0 C535.3,788.4 532.3,787.1 532.3,785.4 C532.3,783.7 535.1,781.7 538.3,780.0 C541.5,778.3 547.6,776.6 551.3,775.0 C555.0,773.4 557.3,770.3 560.3,770.3 Z" fill="#c9b4e7" stroke="#1a1a1a" stroke-width="1"/>
<path d="M615.2,703.7 C616.2,703.7 617.2,708.5 618.2,712.0 C619.2,715.5 620.3,720.3 621.2,725.0 C622.1,729.7 623.0,735.5 623.7,740.0 C624.5,744.5 625.3,748.5 625.7,752.0 C626.1,755.5 626.6,758.0 626.2,761.0 C625.8,764.0 624.4,766.8 623.2,770.0 C622.0,773.2 620.3,776.7 619.2,780.0 C618.1,783.3 617.4,787.1 616.7,790.0 C616.0,792.9 615.7,797.6 615.2,797.6 C614.7,797.6 614.4,792.9 613.7,790.0 C613.0,787.1 612.3,783.3 611.2,780.0 C610.1,776.7 608.4,773.2 607.2,770.0 C606.0,766.8 604.6,764.0 604.2,761.0 C603.8,758.0 604.3,755.5 604.7,752.0 C605.1,748.5 606.0,744.5 606.7,740.0 C607.5,735.5 608.3,729.7 609.2,725.0 C610.1,720.3 611.2,715.5 612.2,712.0 C613.2,708.5 614.2,703.7 615.2,703.7 Z" fill="#f5a4a4" stroke="#1a1a1a" stroke-width="1"/>
<circle cx="557.9" cy="780.3" r="3" fill="#fff" stroke="#2a2a2a" stroke-width="0.9"/>
<circle cx="561.9" cy="780.3" r="3" fill="#fff" stroke="#2a2a2a" stroke-width="0.9"/>
<circle cx="556.1" cy="785.9" r="3" fill="#fff" stroke="#2a2a2a" stroke-width="0.9"/>
<circle cx="561.9" cy="787.3" r="3" fill="#fff" stroke="#2a2a2a" stroke-width="0.9"/>
<circle cx="556.5" cy="792" r="3" fill="#fff" stroke="#2a2a2a" stroke-width="0.9"/>
<circle cx="611.7" cy="728.2" r="3" fill="#fff" stroke="#2a2a2a" stroke-width="0.9"/>
<circle cx="612.6" cy="745.3" r="3" fill="#fff" stroke="#2a2a2a" stroke-width="0.9"/>
<circle cx="611.7" cy="756.2" r="3" fill="#fff" stroke="#2a2a2a" stroke-width="0.9"/>
<circle cx="619.1" cy="763.3" r="3" fill="#fff" stroke="#2a2a2a" stroke-width="0.9"/>
<circle cx="613.3" cy="771" r="3" fill="#fff" stroke="#2a2a2a" stroke-width="0.9"/>
<circle cx="615.6" cy="752.7" r="1.1" fill="#111"/>
<line x1="615.6" y1="745" x2="615.6" y2="760" stroke="#111" stroke-width="0.8"/>
<rect x="559.1" y="811.1" width="2.4" height="2.4" fill="#111"/>
<rect x="614" y="811.1" width="2.4" height="2.4" fill="#111"/>
<path d="M560.3,703.7 L560.3,701.4 L615.2,701.4 L615.2,703.7" fill="none" stroke="#222" stroke-width="0.9"/>
<text x="588.8" y="700.6" font-size="6.5" text-anchor="middle">**</text>
<text x="0" y="0" font-size="8.55" transform="translate(551.40 822.80) rotate(-25) scale(0.939 1) translate(-15.44 3.10)">Dll4-WT</text>
<text x="0" y="0" font-size="8.44" transform="translate(606.50 822.80) rotate(-25) scale(0.982 1) translate(-14.77 3.02)">Dll4-KO</text>
</svg>
</body></html>
